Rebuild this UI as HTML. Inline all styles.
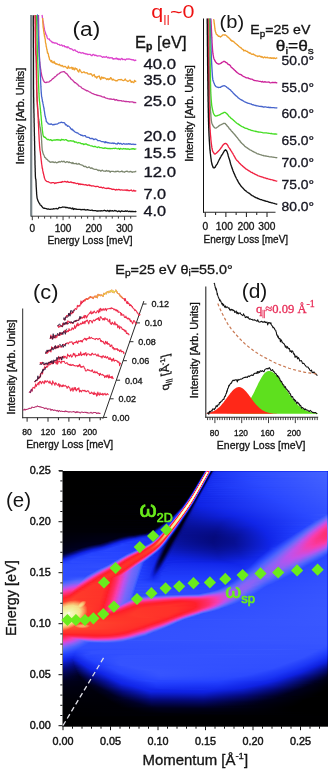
<!DOCTYPE html><html><head><meta charset="utf-8"><title>Figure</title><style>html,body{margin:0;padding:0;background:#fff;width:331px;height:771px;overflow:hidden}svg{display:block}</style></head><body><svg width="331" height="771" viewBox="0 0 331 771"><defs><linearGradient id="gyel" gradientUnits="userSpaceOnUse" x1="84" x2="124" y1="0" y2="0"><stop offset="0" stop-color="#f04838"/><stop offset="0.3" stop-color="#f0a040"/><stop offset="0.75" stop-color="#e8e050"/><stop offset="1" stop-color="#f07040"/></linearGradient></defs><rect width="331" height="771" fill="#fff"/><line x1="31.2" y1="15" x2="31.2" y2="216.6" stroke="#7a858a" stroke-width="2.2"/>
<line x1="31.0" y1="216.2" x2="136.5" y2="216.2" stroke="#3a3a3a" stroke-width="1"/>
<line x1="32.3" y1="216.2" x2="32.3" y2="220.2" stroke="#3a3a3a" stroke-width="1"/>
<line x1="38.449999999999996" y1="216.2" x2="38.449999999999996" y2="218.6" stroke="#3a3a3a" stroke-width="1"/>
<line x1="44.599999999999994" y1="216.2" x2="44.599999999999994" y2="218.6" stroke="#3a3a3a" stroke-width="1"/>
<line x1="50.75" y1="216.2" x2="50.75" y2="218.6" stroke="#3a3a3a" stroke-width="1"/>
<line x1="56.9" y1="216.2" x2="56.9" y2="218.6" stroke="#3a3a3a" stroke-width="1"/>
<line x1="63.05" y1="216.2" x2="63.05" y2="220.2" stroke="#3a3a3a" stroke-width="1"/>
<line x1="69.19999999999999" y1="216.2" x2="69.19999999999999" y2="218.6" stroke="#3a3a3a" stroke-width="1"/>
<line x1="75.35" y1="216.2" x2="75.35" y2="218.6" stroke="#3a3a3a" stroke-width="1"/>
<line x1="81.5" y1="216.2" x2="81.5" y2="218.6" stroke="#3a3a3a" stroke-width="1"/>
<line x1="87.65" y1="216.2" x2="87.65" y2="218.6" stroke="#3a3a3a" stroke-width="1"/>
<line x1="93.8" y1="216.2" x2="93.8" y2="220.2" stroke="#3a3a3a" stroke-width="1"/>
<line x1="99.95" y1="216.2" x2="99.95" y2="218.6" stroke="#3a3a3a" stroke-width="1"/>
<line x1="106.1" y1="216.2" x2="106.1" y2="218.6" stroke="#3a3a3a" stroke-width="1"/>
<line x1="112.25" y1="216.2" x2="112.25" y2="218.6" stroke="#3a3a3a" stroke-width="1"/>
<line x1="118.39999999999999" y1="216.2" x2="118.39999999999999" y2="218.6" stroke="#3a3a3a" stroke-width="1"/>
<line x1="124.55" y1="216.2" x2="124.55" y2="220.2" stroke="#3a3a3a" stroke-width="1"/>
<line x1="130.7" y1="216.2" x2="130.7" y2="218.6" stroke="#3a3a3a" stroke-width="1"/>
<path d="M42.0 15.0L42.1 15.5 42.3 16.4 42.4 17.7 42.6 18.3 42.7 19.4 42.9 20.6 43.0 21.5 43.2 22.2 43.3 22.6 43.4 23.2 43.6 24.1 43.7 25.1 43.8 26.1 43.9 26.5 44.1 27.3 44.2 28.7 44.4 28.5 44.5 29.9 44.8 31.2 45.0 31.5 45.3 32.3 45.6 33.2 45.9 34.6 46.2 34.9 46.5 35.0 46.9 36.4 47.2 37.7 47.6 38.4 48.1 38.9 48.7 39.1 49.3 39.0 50.0 40.5 50.8 41.0 51.7 41.6 52.3 42.6 53.0 42.3 53.7 42.6 54.5 43.1 55.2 43.0 56.1 43.1 56.9 43.3 57.8 44.3 58.5 44.5 59.2 44.3 60.0 45.3 60.9 45.2 61.7 44.8 62.6 46.0 63.4 45.9 64.2 45.7 64.9 46.8 65.6 46.6 66.2 46.8 67.2 47.7 67.9 46.7 68.5 47.4 69.2 48.1 70.0 48.8 70.6 48.7 71.3 48.8 72.0 49.1 72.7 49.9 73.4 50.6 74.2 50.0 75.1 50.0 76.0 51.2 76.7 51.4 77.4 51.4 78.1 52.3 78.8 52.6 79.5 52.2 80.3 52.5 81.2 53.2 82.0 52.9 83.0 52.7 83.9 53.6 85.0 53.4 85.7 54.1 86.4 53.8 87.2 54.1 87.9 54.6 88.7 54.4 89.6 54.3 90.4 54.3 91.3 55.6 92.1 55.5 93.0 54.4 93.9 54.7 94.8 55.6 95.7 55.2 96.6 55.6 97.4 56.1 98.3 55.9 99.2 55.9 100.0 55.9 100.8 56.2 101.6 56.5 102.4 57.3 103.2 57.1 104.0 56.7 104.8 57.3 105.5 57.1 106.3 56.5 107.1 57.3 107.9 57.9 108.7 57.3 109.5 58.2 110.4 57.7 111.2 58.0 112.1 57.6 113.1 59.2 114.0 58.6 115.0 59.0 115.7 58.4 116.4 58.0 117.2 59.3 117.9 58.5 118.7 59.6 119.5 58.9 120.3 59.8 121.1 58.8 121.9 58.4 122.7 59.6 123.6 59.3 124.4 59.4 125.3 60.0 126.1 59.2 127.0 59.0 127.8 59.2 128.7 59.0 129.5 59.0 130.4 59.3 131.3 59.5 132.1 59.8 133.0 59.6 133.8 60.1 134.6 60.6 135.5 60.2 136.3 60.6" fill="none" stroke="#dd44cc" stroke-width="1.3" stroke-linejoin="round" />
<path d="M42.6 18.0L42.7 19.9 42.7 20.6 42.7 20.0 42.8 20.9 42.8 21.5 42.9 23.2 42.9 23.4 43.0 24.9 43.0 23.6 43.1 27.2 43.2 26.7 43.3 28.2 43.4 28.3 43.5 28.9 43.6 30.4 43.7 31.5 43.8 31.5 43.9 32.3 44.1 33.8 44.2 33.4 44.3 33.7 44.4 36.1 44.6 36.1 44.7 35.9 44.8 37.6 45.0 38.7 45.1 38.8 45.3 39.5 45.4 41.6 45.6 43.2 45.7 43.2 45.9 43.7 46.1 45.4 46.2 46.6 46.4 46.6 46.6 48.0 46.7 49.2 46.8 48.9 47.0 49.1 47.1 50.6 47.3 51.7 47.5 53.2 47.6 51.8 47.8 52.9 48.1 53.6 48.3 53.6 48.6 55.8 48.8 57.0 49.1 56.8 49.5 59.3 49.8 59.7 50.1 60.2 50.5 60.6 51.1 61.8 51.7 60.5 52.4 62.5 53.2 62.8 54.1 61.4 54.7 63.4 55.4 63.2 56.1 64.3 56.8 63.7 57.5 64.3 58.4 64.9 59.3 64.2 60.2 65.7 60.9 65.3 61.6 66.0 62.4 65.4 63.3 66.9 64.1 66.7 65.0 66.3 65.9 67.1 66.7 67.9 67.6 68.5 68.4 66.0 69.1 68.1 69.8 68.0 70.7 67.8 71.5 67.3 72.3 69.3 72.9 67.4 73.6 69.1 74.3 69.9 75.1 67.8 76.0 69.2 76.7 68.6 77.4 70.1 78.1 71.3 78.8 72.0 79.6 69.3 80.3 70.5 81.2 71.8 82.0 72.8 83.0 72.2 83.9 71.7 85.0 72.8 85.6 72.8 86.3 72.9 87.0 72.7 87.8 73.8 88.5 74.0 89.3 74.0 90.1 74.1 90.9 73.6 91.7 74.5 92.5 76.1 93.4 75.2 94.2 74.5 95.1 77.0 95.9 76.6 96.7 78.1 97.6 76.7 98.4 76.5 99.2 75.9 100.0 78.4 100.8 79.5 101.5 77.0 102.3 77.3 103.0 78.5 103.8 77.5 104.5 78.1 105.3 78.2 106.0 78.7 106.7 79.6 107.5 78.8 108.2 79.7 109.0 78.7 109.8 79.4 110.6 77.6 111.4 78.2 112.3 80.1 113.2 79.1 114.1 80.2 115.0 80.2 115.7 80.9 116.4 80.6 117.2 80.8 117.9 80.0 118.7 79.6 119.5 79.6 120.3 79.8 121.1 79.4 121.9 79.9 122.7 80.3 123.6 80.6 124.4 80.2 125.3 79.0 126.1 80.5 127.0 80.8 127.8 81.5 128.7 81.2 129.5 80.2 130.4 80.2 131.3 82.4 132.1 81.5 133.0 82.4 133.8 82.7 134.6 80.3 135.5 81.4 136.3 81.5" fill="none" stroke="#eea030" stroke-width="1.3" stroke-linejoin="round" />
<path d="M38.5 15.0L38.5 16.0 38.5 16.8 38.5 17.6 38.6 18.6 38.6 18.9 38.6 19.9 38.6 20.6 38.6 21.7 38.6 22.8 38.6 23.5 38.7 24.5 38.7 24.9 38.7 26.2 38.7 26.8 38.7 28.2 38.7 29.0 38.7 29.9 38.8 30.5 38.8 31.6 38.8 32.4 38.8 33.1 38.8 34.0 38.8 34.9 38.8 35.7 38.9 36.6 38.9 37.5 38.9 38.2 38.9 39.4 38.9 39.8 38.9 41.1 38.9 41.6 39.0 42.4 39.0 43.1 39.0 44.1 39.0 44.9 39.0 45.8 39.0 46.4 39.1 47.3 39.1 48.4 39.1 48.8 39.1 49.3 39.2 50.3 39.2 50.8 39.2 51.6 39.2 52.3 39.2 52.7 39.3 53.0 39.3 53.9 39.4 55.4 39.4 56.4 39.5 57.7 39.6 58.9 39.6 59.6 39.7 60.9 39.8 61.9 39.9 62.7 39.9 63.6 40.0 64.4 40.1 65.4 40.2 65.7 40.3 66.3 40.4 67.2 40.4 67.5 40.5 68.0 40.6 68.8 40.7 69.7 40.8 70.3 40.9 70.5 41.0 71.0 41.1 71.9 41.3 73.1 41.5 74.2 41.7 75.3 41.9 76.4 42.2 77.0 42.4 77.8 42.6 78.1 42.8 78.8 43.1 79.6 43.3 80.2 43.5 80.7 44.3 81.9 45.0 82.4 45.9 82.6 46.8 82.1 47.9 82.2 49.0 81.9 49.6 81.5 50.3 80.6 51.1 80.5 51.8 79.5 52.5 78.9 53.3 78.4 53.9 77.9 54.6 76.9 55.3 76.8 56.0 76.1 56.6 75.4 57.3 74.9 58.0 74.1 58.7 73.9 59.4 73.5 60.1 72.8 60.8 72.4 61.5 72.0 62.2 71.8 62.8 71.8 63.6 71.6 64.3 71.7 64.9 72.3 65.6 73.2 66.5 73.4 67.0 74.1 67.4 74.2 67.9 75.3 68.4 75.8 69.0 76.7 69.5 77.1 70.1 77.6 70.8 78.8 71.5 79.5 72.3 79.9 72.8 80.3 73.4 81.2 74.0 81.6 74.6 82.7 75.3 82.6 75.9 83.1 76.6 83.8 77.3 84.0 78.0 84.8 78.7 85.8 79.4 86.0 80.1 86.5 80.9 86.8 81.5 87.7 82.2 88.2 82.9 88.6 83.7 88.9 84.4 89.5 85.2 90.0 86.0 90.2 86.8 90.9 87.6 90.7 88.4 91.3 89.2 91.8 89.9 92.2 90.7 92.4 91.4 93.0 92.1 93.4 92.8 93.6 93.4 93.8 94.4 94.4 95.2 94.6 95.9 94.6 96.5 95.0 97.2 95.5 98.0 95.2 98.9 95.7 100.0 95.9 100.6 96.0 101.3 96.2 101.9 96.6 102.6 96.9 103.3 97.1 104.0 96.9 104.7 97.4 105.5 97.8 106.3 98.1 107.2 98.3 108.0 98.6 109.0 98.8 109.9 99.0 110.9 98.9 112.0 99.3 113.1 99.4 113.7 99.1 114.4 99.4 115.1 100.3 115.8 99.7 116.5 99.6 117.2 100.1 118.0 100.6 118.8 100.4 119.6 100.6 120.4 100.6 121.2 100.7 122.0 101.1 122.8 101.1 123.6 101.0 124.5 101.4 125.3 101.5 126.2 101.3 127.0 101.6 127.9 101.7 128.8 101.6 129.6 102.1 130.5 101.9 131.3 101.9 132.2 101.8 133.0 102.0 133.9 102.7 134.7 102.3 135.5 102.7 136.3 102.6" fill="none" stroke="#c8349e" stroke-width="1.3" stroke-linejoin="round" />
<path d="M37.5 15.5L37.5 15.0 37.6 16.9 37.6 17.5 37.6 18.7 37.7 19.2 37.7 20.5 37.7 20.8 37.8 21.4 37.8 22.6 37.8 23.4 37.9 24.0 37.9 24.8 37.9 26.0 38.0 26.8 38.0 27.3 38.0 28.1 38.0 28.5 38.1 30.4 38.1 30.6 38.1 31.9 38.2 32.4 38.2 33.7 38.2 34.4 38.3 34.8 38.3 35.9 38.3 36.0 38.4 37.4 38.4 37.3 38.4 38.6 38.5 39.6 38.5 40.1 38.5 40.8 38.6 41.6 38.6 42.6 38.7 43.9 38.7 44.7 38.7 45.2 38.8 45.8 38.8 47.3 38.9 47.5 38.9 48.6 39.0 49.4 39.0 50.6 39.0 51.3 39.1 52.2 39.1 52.9 39.2 53.4 39.2 54.5 39.2 55.5 39.3 55.9 39.3 56.8 39.4 57.3 39.4 58.3 39.4 58.9 39.5 59.6 39.5 60.1 39.6 61.5 39.6 61.8 39.7 62.7 39.7 63.3 39.7 64.4 39.8 64.7 39.8 65.4 39.9 66.4 39.9 67.2 39.9 67.7 40.0 67.5 40.0 68.8 40.1 69.6 40.1 70.6 40.2 71.9 40.2 73.2 40.3 73.2 40.3 73.8 40.3 75.0 40.4 75.6 40.4 76.4 40.5 77.0 40.5 78.1 40.5 79.1 40.6 79.3 40.6 80.3 40.6 82.0 40.7 82.8 40.7 83.3 40.8 84.1 40.8 85.2 40.9 85.8 40.9 86.9 41.0 88.4 41.0 88.8 41.1 89.9 41.1 90.3 41.2 91.3 41.2 92.4 41.3 92.3 41.3 93.2 41.4 94.0 41.5 95.2 41.6 96.6 41.8 97.2 41.9 97.4 42.0 98.6 42.2 99.2 42.3 99.9 42.4 101.5 42.6 101.3 42.7 102.3 42.9 102.7 43.0 103.9 43.2 104.5 43.3 105.2 43.5 106.0 43.6 107.1 43.8 107.3 43.9 108.2 44.0 108.9 44.2 110.5 44.3 110.9 44.5 111.6 44.6 112.6 44.8 114.4 44.9 114.4 45.0 115.5 45.2 116.2 45.3 116.8 45.5 117.4 45.6 118.1 45.8 118.7 45.9 118.7 46.3 121.5 46.7 121.9 47.1 122.3 47.5 122.7 47.9 123.0 48.3 123.9 49.2 124.0 50.1 124.3 51.1 123.8 52.0 124.4 53.0 125.0 54.0 124.3 55.0 124.5 55.9 124.1 56.8 124.1 57.7 123.8 58.5 123.2 59.3 122.8 60.1 122.7 60.9 122.5 61.7 122.2 62.4 122.6 63.1 122.7 63.9 122.6 65.0 123.6 65.5 124.9 66.1 124.7 66.7 125.0 67.4 126.3 68.0 126.0 68.7 126.1 69.5 126.9 70.2 127.6 70.9 128.8 71.6 129.6 72.3 129.1 73.0 130.6 73.6 130.4 74.1 131.3 74.7 131.7 75.2 132.1 75.9 132.3 76.6 132.8 77.5 132.8 78.5 133.8 79.8 134.5 80.4 134.7 81.0 135.4 81.6 135.2 82.3 135.4 83.0 135.9 83.7 135.8 84.5 135.6 85.3 135.6 86.1 137.0 87.0 137.1 87.8 137.4 88.7 137.4 89.5 137.9 90.4 138.7 91.3 138.5 92.2 138.3 93.0 138.8 93.9 139.7 94.7 139.2 95.6 139.0 96.4 139.3 97.2 139.9 97.9 140.7 98.6 140.7 99.3 140.7 100.0 140.7 101.0 141.3 101.9 141.6 102.8 141.6 103.5 141.9 104.3 141.9 105.0 142.8 105.7 141.7 106.4 142.5 107.1 142.3 107.8 142.9 108.5 142.7 109.3 143.0 110.1 143.1 111.0 143.1 112.0 143.4 113.1 142.8 113.7 143.5 114.4 143.2 115.1 143.5 115.8 143.9 116.5 143.8 117.2 144.1 118.0 142.9 118.8 143.3 119.6 143.9 120.4 143.3 121.2 143.7 122.0 144.3 122.8 144.1 123.6 143.5 124.5 144.0 125.3 144.1 126.2 144.0 127.0 144.0 127.9 144.1 128.8 143.6 129.6 144.1 130.5 143.8 131.3 144.3 132.2 144.3 133.0 144.0 133.9 144.5 134.7 144.4 135.5 144.3 136.3 144.6" fill="none" stroke="#4664cc" stroke-width="1.3" stroke-linejoin="round" />
<path d="M36.5 15.2L36.5 15.5 36.5 16.2 36.6 16.6 36.6 18.1 36.6 19.4 36.6 19.9 36.6 20.8 36.7 21.8 36.7 22.0 36.7 23.9 36.7 23.7 36.7 24.8 36.8 26.4 36.8 26.3 36.8 27.2 36.8 27.8 36.8 28.9 36.9 28.9 36.9 30.2 36.9 31.7 36.9 32.1 36.9 32.7 36.9 33.7 37.0 34.6 37.0 35.3 37.0 36.2 37.0 36.4 37.0 37.9 37.1 38.3 37.1 39.5 37.1 40.1 37.1 40.6 37.2 41.7 37.2 42.2 37.2 43.7 37.2 44.2 37.2 45.3 37.3 45.5 37.3 47.1 37.3 47.4 37.3 48.7 37.4 49.3 37.4 49.6 37.4 50.8 37.4 51.4 37.4 52.5 37.5 53.6 37.5 54.2 37.5 55.1 37.6 55.2 37.6 56.5 37.6 57.3 37.6 58.4 37.7 58.7 37.7 59.9 37.7 60.7 37.7 61.0 37.8 62.0 37.8 63.3 37.8 63.7 37.9 64.6 37.9 66.1 37.9 66.8 37.9 67.5 38.0 68.5 38.0 69.2 38.0 70.0 38.1 70.9 38.1 72.1 38.1 73.2 38.2 73.6 38.2 74.6 38.2 75.4 38.3 75.9 38.3 77.2 38.3 78.3 38.3 78.6 38.4 79.9 38.4 80.3 38.4 81.7 38.5 82.5 38.5 82.8 38.5 83.1 38.6 84.4 38.6 84.9 38.6 85.6 38.7 86.7 38.7 87.9 38.7 88.2 38.8 88.9 38.8 89.1 38.8 90.1 38.8 90.5 38.9 91.8 38.9 92.1 38.9 92.8 39.0 93.4 39.0 93.9 39.1 95.6 39.1 96.7 39.2 97.5 39.3 98.7 39.4 99.7 39.4 100.7 39.5 101.1 39.6 102.2 39.6 102.2 39.7 102.9 39.8 103.1 39.8 104.4 39.9 104.5 40.0 105.1 40.1 106.3 40.1 106.5 40.2 107.2 40.3 108.5 40.4 109.0 40.5 110.3 40.6 110.6 40.6 111.6 40.7 112.5 40.8 113.0 40.8 114.3 40.9 114.5 41.0 115.4 41.1 116.4 41.2 117.6 41.2 118.1 41.3 118.9 41.4 120.1 41.5 121.3 41.6 121.7 41.6 122.4 41.7 123.7 41.8 124.8 41.9 125.3 42.0 126.4 42.1 126.7 42.2 128.1 42.2 128.9 42.3 129.8 42.4 130.5 42.5 131.3 42.6 131.5 42.7 132.6 42.7 132.5 42.8 133.3 42.9 134.3 43.4 136.3 43.8 136.4 44.3 137.4 44.8 137.2 45.3 137.4 46.0 138.3 46.7 138.9 47.5 139.7 48.3 139.3 49.0 139.8 49.7 140.1 50.6 139.6 52.0 140.6 52.6 140.7 53.2 140.0 53.9 140.2 54.7 140.0 55.5 140.1 56.3 139.7 57.2 140.1 58.0 139.5 58.9 140.2 59.8 139.9 60.7 140.5 61.6 139.3 62.3 139.8 63.0 139.5 63.7 139.9 64.3 140.1 65.0 139.8 65.6 139.7 66.3 139.7 67.1 140.4 67.9 140.9 68.7 141.0 69.7 140.8 70.7 140.7 71.9 141.1 73.2 141.0 73.8 141.1 74.4 142.1 75.0 141.8 75.7 142.1 76.4 142.1 77.2 142.8 77.9 143.0 78.7 142.5 79.5 142.8 80.3 142.9 81.2 143.7 82.0 143.9 82.9 143.6 83.7 144.6 84.6 144.1 85.5 144.0 86.4 143.9 87.3 144.7 88.2 145.1 89.0 145.0 89.9 145.5 90.8 145.9 91.7 145.8 92.5 146.2 93.4 146.7 94.2 146.5 95.0 146.3 95.8 146.8 96.5 147.0 97.3 147.6 98.0 147.0 98.7 146.8 99.4 147.5 100.0 147.6 101.1 147.6 102.2 148.0 103.1 148.1 104.0 148.4 104.8 147.9 105.6 148.0 106.4 148.3 107.1 148.2 107.8 148.7 108.5 148.5 109.3 148.4 110.0 148.8 110.7 148.5 111.5 148.7 112.3 148.7 113.1 148.4 114.0 148.4 115.0 148.5 115.7 148.2 116.4 148.5 117.2 148.8 117.9 148.7 118.7 148.3 119.5 149.4 120.3 148.4 121.1 148.9 121.9 148.9 122.7 149.1 123.6 148.5 124.4 148.8 125.3 148.7 126.1 149.1 127.0 148.9 127.8 149.0 128.7 149.0 129.5 149.5 130.4 149.1 131.3 149.2 132.1 148.6 133.0 149.1 133.8 148.6 134.6 149.3 135.5 149.0 136.3 148.7" fill="none" stroke="#44dd22" stroke-width="1.3" stroke-linejoin="round" />
<path d="M35.5 15.0L35.5 15.5 35.5 16.8 35.5 17.2 35.6 18.4 35.6 19.3 35.6 19.4 35.6 21.1 35.6 21.3 35.6 23.1 35.6 23.4 35.6 23.8 35.7 24.9 35.7 25.7 35.7 26.6 35.7 27.8 35.7 28.4 35.7 29.6 35.7 30.1 35.7 30.6 35.8 31.0 35.8 31.8 35.8 33.3 35.8 34.3 35.8 35.4 35.8 35.5 35.8 36.6 35.8 37.1 35.9 38.0 35.9 38.2 35.9 40.1 35.9 40.4 35.9 41.5 35.9 42.5 35.9 43.2 35.9 43.5 36.0 45.3 36.0 45.8 36.0 46.5 36.0 46.9 36.0 47.4 36.0 48.2 36.0 49.5 36.0 50.4 36.1 50.8 36.1 52.5 36.1 52.7 36.1 53.7 36.1 54.5 36.1 54.5 36.1 56.0 36.1 56.5 36.2 56.7 36.2 58.1 36.2 59.0 36.2 59.6 36.2 60.4 36.2 60.4 36.2 61.8 36.2 62.6 36.3 63.7 36.3 64.7 36.3 65.9 36.3 66.7 36.3 67.1 36.3 68.6 36.3 69.7 36.3 70.1 36.4 70.4 36.4 71.5 36.4 72.6 36.4 72.9 36.4 74.3 36.4 74.7 36.4 76.3 36.4 77.1 36.4 77.7 36.5 78.1 36.5 79.4 36.5 79.9 36.5 80.7 36.5 82.1 36.5 82.2 36.5 82.8 36.5 84.3 36.6 85.4 36.6 86.1 36.6 86.6 36.6 87.8 36.6 87.6 36.6 89.3 36.7 89.9 36.7 89.8 36.7 90.8 36.7 90.9 36.7 91.6 36.8 92.9 36.8 92.9 36.8 94.1 36.8 95.2 36.9 96.1 36.9 97.4 37.0 98.7 37.0 99.0 37.0 100.1 37.1 101.2 37.1 101.3 37.2 102.1 37.2 102.3 37.3 104.1 37.3 105.1 37.4 105.6 37.4 106.9 37.5 107.5 37.5 108.0 37.6 108.4 37.6 108.8 37.7 109.9 37.8 110.7 37.8 111.3 37.9 111.9 38.0 112.6 38.0 113.7 38.1 113.6 38.2 114.9 38.3 115.9 38.4 116.9 38.5 117.7 38.6 118.2 38.7 118.9 38.9 119.6 39.0 121.2 39.1 121.8 39.3 122.5 39.4 123.0 39.5 123.6 39.7 125.2 39.8 125.6 39.9 126.6 40.1 127.8 40.2 127.4 40.3 128.5 40.5 129.6 40.6 130.5 40.7 130.7 40.8 131.8 40.9 132.3 41.0 133.1 41.1 134.1 41.2 135.0 41.3 136.2 41.4 136.9 41.4 138.1 41.5 138.1 41.5 139.5 41.6 139.7 41.6 140.5 41.7 141.4 41.7 143.0 41.8 143.7 41.8 143.8 41.9 145.6 41.9 146.3 42.0 146.6 42.0 147.3 42.1 148.1 42.1 148.3 42.2 150.2 42.3 149.8 42.5 151.1 42.7 152.1 43.0 152.9 43.2 153.6 43.5 154.7 43.8 154.8 44.1 155.5 44.4 156.1 44.7 157.3 45.2 157.5 45.8 158.2 46.4 159.2 47.0 159.3 47.7 160.0 48.3 160.9 49.0 161.2 49.6 161.5 50.2 162.4 51.1 162.0 52.2 162.1 52.9 161.7 53.6 162.3 54.4 162.5 55.3 162.0 56.3 162.8 57.2 162.5 58.2 162.3 59.1 161.5 60.0 162.0 60.8 161.9 61.6 161.1 62.5 161.8 63.3 161.7 64.0 161.1 64.7 161.9 65.3 162.5 66.1 162.1 67.0 161.6 68.0 162.0 68.6 162.6 69.3 162.0 69.9 162.6 70.6 162.6 71.4 162.8 72.1 163.5 72.9 162.5 73.7 163.7 74.5 163.6 75.3 163.6 76.2 163.3 77.0 164.2 77.9 164.2 78.9 163.5 79.8 164.3 80.5 164.6 81.3 164.8 82.0 165.2 82.9 165.3 83.7 166.4 84.6 166.5 85.5 166.3 86.4 167.1 87.3 167.6 88.2 167.3 89.1 166.9 90.0 167.8 90.9 168.4 91.7 167.8 92.5 168.4 93.3 168.9 94.1 169.2 94.8 169.3 95.4 169.3 96.0 169.3 96.5 169.3 98.0 170.4 98.4 170.6 98.6 170.2 100.0 170.3 100.5 171.0 101.1 171.0 101.8 170.4 102.4 170.2 103.2 170.8 103.9 171.1 104.7 171.2 105.5 171.3 106.4 170.5 107.3 171.1 108.2 171.0 109.1 170.9 110.1 172.2 111.0 171.3 112.0 171.4 113.0 171.3 114.0 171.7 115.0 171.9 115.7 171.4 116.4 171.5 117.2 171.4 117.9 171.2 118.7 171.6 119.5 171.8 120.3 171.7 121.1 171.6 121.9 171.0 122.7 171.8 123.6 171.8 124.4 172.3 125.3 171.6 126.1 171.3 127.0 171.1 127.8 171.6 128.7 171.8 129.5 171.9 130.4 171.3 131.3 171.7 132.1 172.3 133.0 171.9 133.8 171.8 134.6 171.8 135.5 171.4 136.3 171.5" fill="none" stroke="#7c866e" stroke-width="1.3" stroke-linejoin="round" />
<path d="M35.0 15.0L35.0 16.0 35.0 17.0 35.0 17.8 35.1 18.9 35.1 19.1 35.1 20.3 35.1 20.9 35.1 21.4 35.1 22.5 35.1 23.7 35.2 24.3 35.2 25.4 35.2 26.7 35.2 27.5 35.2 28.4 35.2 29.2 35.2 30.0 35.2 30.4 35.3 32.1 35.3 32.3 35.3 33.7 35.3 34.5 35.3 35.4 35.3 36.3 35.3 37.0 35.4 38.2 35.4 38.4 35.4 39.9 35.4 39.9 35.4 41.6 35.4 41.9 35.4 42.9 35.5 44.0 35.5 43.7 35.5 44.9 35.5 45.9 35.5 46.7 35.5 47.5 35.5 47.9 35.6 48.5 35.6 48.9 35.6 49.5 35.6 50.0 35.7 51.9 35.7 52.9 35.8 53.9 35.8 54.8 35.9 55.1 36.0 55.0 36.0 55.4 36.1 56.0 36.1 56.2 36.2 56.7 36.2 58.1 36.3 60.2 36.3 60.5 36.3 61.0 36.3 62.0 36.4 62.1 36.4 63.7 36.4 63.8 36.4 64.4 36.4 65.9 36.4 65.7 36.4 66.7 36.5 67.6 36.5 68.2 36.5 69.2 36.5 70.4 36.5 71.2 36.5 72.0 36.5 73.2 36.5 74.4 36.6 75.2 36.6 75.1 36.6 77.0 36.6 77.8 36.6 78.6 36.6 79.1 36.6 80.2 36.7 81.2 36.7 81.8 36.7 83.5 36.7 84.3 36.7 84.9 36.7 85.5 36.7 87.0 36.8 87.7 36.8 88.6 36.8 89.0 36.8 90.6 36.8 90.6 36.8 92.0 36.8 91.5 36.9 92.8 36.9 93.4 36.9 93.2 36.9 95.0 37.0 95.9 37.0 96.9 37.1 98.1 37.1 98.8 37.1 100.1 37.2 100.9 37.2 101.6 37.3 102.0 37.3 102.7 37.4 104.0 37.4 104.1 37.5 104.8 37.5 105.3 37.6 106.3 37.6 107.1 37.7 107.8 37.7 108.4 37.8 109.3 37.8 109.9 37.8 110.9 37.9 111.2 37.9 112.3 37.9 113.3 38.0 113.5 38.0 114.9 38.1 115.5 38.1 115.9 38.1 116.6 38.2 117.5 38.2 118.5 38.2 119.7 38.3 120.6 38.3 121.7 38.3 122.8 38.4 122.9 38.4 123.2 38.5 124.2 38.5 124.8 38.5 126.0 38.6 126.9 38.6 128.2 38.6 128.1 38.7 129.2 38.7 129.9 38.7 130.9 38.8 131.7 38.8 133.5 38.9 133.7 38.9 134.7 39.0 135.8 39.0 136.5 39.1 137.9 39.1 137.8 39.1 139.0 39.2 139.7 39.2 140.6 39.3 141.7 39.3 142.0 39.4 142.3 39.4 143.6 39.5 144.0 39.5 145.2 39.6 146.1 39.7 147.6 39.8 148.0 39.8 148.4 39.9 149.5 40.0 150.4 40.1 150.9 40.2 151.6 40.3 152.2 40.4 153.0 40.5 153.7 40.6 155.1 40.7 155.7 40.8 156.0 40.9 157.6 41.0 158.2 41.1 159.1 41.2 160.0 41.3 161.2 41.4 161.0 41.5 162.6 41.6 163.6 41.7 164.2 41.8 164.5 41.9 165.5 42.1 166.9 42.2 168.1 42.4 168.0 42.6 169.3 42.7 170.4 42.9 171.2 43.1 172.1 43.2 173.0 43.4 173.6 43.5 173.6 43.8 175.1 44.0 175.9 44.2 177.0 44.5 178.2 44.8 178.8 45.3 180.1 45.8 180.6 46.5 181.2 47.3 181.7 48.0 181.6 48.7 182.0 49.5 182.5 50.4 182.8 51.3 183.0 52.2 182.6 53.0 182.7 53.9 182.6 54.8 183.5 55.7 182.8 56.5 183.0 57.4 182.7 58.2 182.6 59.1 182.4 60.0 182.3 60.8 182.2 61.6 182.3 62.3 181.5 63.0 181.8 64.0 181.6 64.8 181.4 66.0 181.8 66.7 182.2 67.4 181.4 68.1 181.9 68.9 182.3 69.8 182.4 70.9 181.8 72.0 182.7 72.7 182.5 73.3 182.6 74.1 183.1 74.8 182.7 75.6 183.2 76.3 183.6 77.2 183.3 78.0 183.3 78.9 184.5 79.9 183.7 80.8 184.5 81.8 184.1 82.9 184.6 83.6 184.5 84.3 184.8 85.0 184.9 85.8 184.7 86.6 185.1 87.4 185.5 88.2 185.1 89.1 184.8 89.9 185.7 90.8 185.5 91.6 186.0 92.5 185.9 93.4 185.9 94.2 186.2 95.1 186.5 95.9 186.7 96.8 186.3 97.6 186.4 98.4 186.6 99.2 187.4 100.0 187.3 100.9 187.1 101.7 187.4 102.5 188.0 103.4 187.4 104.1 187.8 104.9 188.2 105.7 188.4 106.5 188.5 107.2 188.1 108.0 188.5 108.8 188.0 109.6 188.7 110.4 188.7 111.3 188.9 112.2 189.5 113.1 189.2 114.0 189.3 115.0 189.7 115.7 190.1 116.4 189.4 117.2 189.9 117.9 189.7 118.7 189.4 119.5 189.7 120.3 190.1 121.1 189.9 121.9 189.9 122.7 190.1 123.6 190.1 124.4 190.2 125.3 190.0 126.1 190.5 127.0 189.7 127.8 190.5 128.7 190.3 129.5 190.8 130.4 190.3 131.3 190.0 132.1 190.9 133.0 191.1 133.8 190.3 134.6 191.0 135.5 191.0 136.3 190.7" fill="none" stroke="#f02040" stroke-width="1.3" stroke-linejoin="round" />
<path d="M33.3 15.3L33.3 15.9 33.3 16.5 33.3 17.0 33.3 17.7 33.3 19.1 33.3 19.6 33.3 20.4 33.3 21.5 33.3 22.3 33.3 22.5 33.3 24.3 33.3 24.2 33.3 26.2 33.4 26.7 33.4 27.2 33.4 28.6 33.4 29.0 33.4 30.1 33.4 30.7 33.4 31.9 33.4 32.7 33.4 32.9 33.4 33.8 33.4 35.0 33.4 35.6 33.4 35.8 33.4 38.0 33.4 37.5 33.4 38.4 33.4 39.5 33.4 40.8 33.4 42.0 33.4 42.2 33.4 43.0 33.4 44.0 33.4 44.6 33.4 45.6 33.4 46.0 33.4 47.3 33.5 48.1 33.5 48.0 33.5 49.5 33.5 50.4 33.5 51.3 33.5 51.6 33.5 52.2 33.5 53.1 33.5 54.3 33.5 54.6 33.5 55.4 33.5 56.7 33.5 56.9 33.5 57.6 33.5 58.5 33.5 59.4 33.5 60.3 33.5 60.7 33.5 61.4 33.5 62.7 33.5 63.8 33.5 64.1 33.5 65.2 33.5 66.3 33.5 67.1 33.5 67.9 33.5 68.6 33.5 69.3 33.5 70.1 33.5 71.5 33.5 71.6 33.5 73.1 33.5 73.1 33.5 75.1 33.5 74.5 33.5 76.3 33.5 76.3 33.5 77.3 33.5 78.1 33.5 78.6 33.5 80.3 33.5 80.4 33.5 80.7 33.5 82.1 33.5 82.8 33.5 83.1 33.5 84.3 33.5 85.0 33.5 86.0 33.5 86.7 33.5 87.3 33.5 88.0 33.5 89.2 33.6 89.8 33.6 90.1 33.6 91.2 33.6 92.1 33.6 93.0 33.6 94.7 33.6 94.6 33.6 95.6 33.6 96.7 33.6 97.1 33.7 97.9 33.7 98.9 33.7 99.3 33.7 100.1 33.7 101.0 33.7 101.7 33.7 102.2 33.7 102.8 33.8 103.9 33.8 105.2 33.8 105.5 33.8 106.7 33.8 107.3 33.8 107.9 33.8 108.0 33.9 109.6 33.9 110.3 33.9 110.7 33.9 112.2 33.9 112.8 34.0 113.7 34.0 114.3 34.0 115.3 34.0 115.9 34.0 117.2 34.0 117.7 34.1 118.1 34.1 119.4 34.1 120.2 34.1 120.9 34.1 121.4 34.1 122.9 34.2 123.2 34.2 124.7 34.2 124.9 34.2 125.9 34.2 126.7 34.3 127.6 34.3 129.1 34.3 129.0 34.3 130.6 34.3 131.0 34.3 131.4 34.4 132.8 34.4 133.5 34.4 134.3 34.4 134.4 34.4 135.8 34.5 136.3 34.5 137.3 34.5 138.1 34.5 139.0 34.5 140.4 34.5 140.9 34.6 141.1 34.6 142.9 34.6 143.5 34.6 144.4 34.6 144.7 34.7 146.3 34.7 146.9 34.7 148.3 34.7 149.0 34.7 150.1 34.7 150.6 34.8 151.1 34.8 152.8 34.8 153.6 34.8 154.2 34.8 155.1 34.9 155.9 34.9 156.5 34.9 157.5 34.9 158.7 34.9 160.1 35.0 160.6 35.0 161.8 35.0 161.8 35.0 163.3 35.0 163.6 35.0 164.9 35.1 165.6 35.1 166.0 35.1 166.8 35.1 167.8 35.1 167.9 35.2 168.2 35.2 169.8 35.2 170.8 35.2 170.2 35.2 171.4 35.2 171.6 35.3 172.4 35.3 172.7 35.3 173.8 35.3 173.8 35.4 176.5 35.5 177.8 35.6 179.0 35.7 178.8 35.7 178.9 35.8 179.2 35.9 179.6 35.9 180.7 36.0 181.0 36.0 182.2 36.1 183.0 36.1 183.9 36.1 184.8 36.2 185.6 36.2 186.8 36.3 187.5 36.3 188.3 36.4 189.2 36.4 189.8 36.5 190.9 36.5 191.7 36.6 192.1 36.6 194.1 36.7 194.3 36.8 195.0 36.8 196.1 36.9 196.1 37.0 197.3 37.1 198.1 37.4 199.1 37.7 200.1 38.0 200.7 38.3 201.4 38.7 202.3 39.0 203.0 39.5 203.3 39.9 204.3 40.4 205.0 41.0 205.4 41.5 206.0 42.2 206.9 42.9 207.8 43.7 208.3 44.5 208.1 45.3 208.4 46.3 208.7 47.3 209.1 48.1 209.0 49.0 209.2 50.0 209.5 50.9 209.1 52.0 209.1 52.8 209.1 53.7 208.7 54.6 208.8 55.5 208.7 56.5 208.5 57.3 209.0 58.2 208.6 59.1 207.4 60.0 207.7 60.8 207.7 61.7 207.4 62.6 207.0 63.5 207.1 64.2 207.1 65.0 207.1 65.7 207.6 66.5 207.5 67.3 207.5 68.1 207.8 69.0 208.0 70.0 207.9 70.7 208.1 71.4 208.6 72.1 208.8 72.8 207.9 73.5 209.5 74.3 208.6 75.1 209.2 75.9 208.7 76.8 209.4 77.7 209.3 78.7 209.4 79.8 209.4 80.5 209.5 81.2 209.8 81.9 209.5 82.7 209.7 83.4 209.7 84.2 209.4 85.1 209.9 85.9 210.0 86.7 209.9 87.6 209.7 88.5 210.0 89.4 210.2 90.2 210.3 91.1 210.3 92.0 210.0 92.9 210.7 93.8 210.7 94.7 210.7 95.6 210.7 96.5 211.0 97.3 210.9 98.0 211.0 98.8 210.8 99.6 210.8 100.4 211.0 101.1 210.6 101.9 210.8 102.7 210.9 103.5 210.7 104.3 210.2 105.1 210.8 105.9 210.7 106.7 211.2 107.5 210.4 108.3 210.8 109.1 211.5 109.9 210.4 110.8 211.0 111.6 210.9 112.4 210.6 113.3 211.2 114.1 210.9 115.0 210.4 115.8 211.0 116.5 210.8 117.3 211.6 118.1 211.3 118.9 210.9 119.7 211.3 120.5 211.9 121.3 210.9 122.2 211.0 123.0 211.3 123.8 211.4 124.6 211.4 125.5 210.9 126.3 211.4 127.1 211.0 128.0 211.2 128.8 211.7 129.7 211.2 130.5 211.6 131.3 211.3 132.2 211.5 133.0 211.5 133.8 211.7 134.7 211.7 135.5 211.3 136.3 212.0" fill="none" stroke="#111111" stroke-width="1.3" stroke-linejoin="round" />
<text x="72.6" y="35.8" font-size="19.5" fill="#151515" font-family="'Liberation Sans', Arial, sans-serif" textLength="27.6" lengthAdjust="spacingAndGlyphs">(a)</text>
<text x="151.3" y="18.1" font-size="17.6" fill="#ee1111" font-family="'Liberation Sans', Arial, sans-serif" textLength="43.2" lengthAdjust="spacingAndGlyphs">q<tspan font-size="10.5" dy="5">||</tspan><tspan dy="-5">~0</tspan></text>
<text x="135.1" y="47.6" font-size="16.5" fill="#151515" font-family="'Liberation Sans', Arial, sans-serif" stroke="#151515" stroke-width="0.32">E<tspan font-size="10.5" dy="2.5" font-weight="bold">p</tspan><tspan dy="-2.5"> [eV]</tspan></text>
<text x="143.5" y="68.9" font-size="14.2" fill="#151520" textLength="32.6" lengthAdjust="spacingAndGlyphs" font-family="'Liberation Sans', Arial, sans-serif" stroke="#151520" stroke-width="0.32">40.0</text>
<text x="143.5" y="84.9" font-size="14.2" fill="#151520" textLength="32.6" lengthAdjust="spacingAndGlyphs" font-family="'Liberation Sans', Arial, sans-serif" stroke="#151520" stroke-width="0.32">35.0</text>
<text x="143.5" y="106.1" font-size="14.2" fill="#151520" textLength="32.6" lengthAdjust="spacingAndGlyphs" font-family="'Liberation Sans', Arial, sans-serif" stroke="#151520" stroke-width="0.32">25.0</text>
<text x="143.5" y="140.6" font-size="14.2" fill="#151520" textLength="32.6" lengthAdjust="spacingAndGlyphs" font-family="'Liberation Sans', Arial, sans-serif" stroke="#151520" stroke-width="0.32">20.0</text>
<text x="143.5" y="157.5" font-size="14.2" fill="#151520" textLength="32.6" lengthAdjust="spacingAndGlyphs" font-family="'Liberation Sans', Arial, sans-serif" stroke="#151520" stroke-width="0.32">15.5</text>
<text x="143.5" y="177.1" font-size="14.2" fill="#151520" textLength="32.6" lengthAdjust="spacingAndGlyphs" font-family="'Liberation Sans', Arial, sans-serif" stroke="#151520" stroke-width="0.32">12.0</text>
<text x="143.5" y="199.3" font-size="14.2" fill="#151520" textLength="22.6" lengthAdjust="spacingAndGlyphs" font-family="'Liberation Sans', Arial, sans-serif" stroke="#151520" stroke-width="0.32">7.0</text>
<text x="143.5" y="216.3" font-size="14.2" fill="#151520" textLength="22.6" lengthAdjust="spacingAndGlyphs" font-family="'Liberation Sans', Arial, sans-serif" stroke="#151520" stroke-width="0.32">4.0</text>
<text transform="translate(24.2 116) rotate(-90)" font-size="10.2" textLength="96.5" lengthAdjust="spacingAndGlyphs" text-anchor="middle" fill="#151515" font-family="'Liberation Sans', Arial, sans-serif" stroke="#151515" stroke-width="0.32">Intensity [Arb. Units]</text>
<text x="32.3" y="232" font-size="10" text-anchor="middle" fill="#151515" font-family="'Liberation Sans', Arial, sans-serif" stroke="#151515" stroke-width="0.32">0</text>
<text x="63.0" y="232" font-size="10" text-anchor="middle" fill="#151515" font-family="'Liberation Sans', Arial, sans-serif" stroke="#151515" stroke-width="0.32">100</text>
<text x="93.8" y="232" font-size="10" text-anchor="middle" fill="#151515" font-family="'Liberation Sans', Arial, sans-serif" stroke="#151515" stroke-width="0.32">200</text>
<text x="124.5" y="232" font-size="10" text-anchor="middle" fill="#151515" font-family="'Liberation Sans', Arial, sans-serif" stroke="#151515" stroke-width="0.32">300</text>
<text x="47.6" y="243.7" font-size="10" fill="#151515" textLength="85" lengthAdjust="spacingAndGlyphs" font-family="'Liberation Sans', Arial, sans-serif" stroke="#151515" stroke-width="0.32">Energy Loss [meV]</text>
<line x1="203.5" y1="18.5" x2="203.5" y2="212.8" stroke="#111" stroke-width="1"/>
<line x1="203.0" y1="212.3" x2="275.5" y2="212.3" stroke="#2a2a2a" stroke-width="1.1"/>
<line x1="205.3" y1="212.3" x2="205.3" y2="217.10000000000002" stroke="#2a2a2a" stroke-width="1.1"/>
<line x1="215.585" y1="212.3" x2="215.585" y2="215.10000000000002" stroke="#2a2a2a" stroke-width="1.1"/>
<line x1="225.87" y1="212.3" x2="225.87" y2="217.10000000000002" stroke="#2a2a2a" stroke-width="1.1"/>
<line x1="236.155" y1="212.3" x2="236.155" y2="215.10000000000002" stroke="#2a2a2a" stroke-width="1.1"/>
<line x1="246.44" y1="212.3" x2="246.44" y2="217.10000000000002" stroke="#2a2a2a" stroke-width="1.1"/>
<line x1="256.725" y1="212.3" x2="256.725" y2="215.10000000000002" stroke="#2a2a2a" stroke-width="1.1"/>
<line x1="267.01" y1="212.3" x2="267.01" y2="217.10000000000002" stroke="#2a2a2a" stroke-width="1.1"/>
<path d="M213.6 19.1L213.7 19.7 213.9 20.0 214.0 21.1 214.1 22.0 214.3 23.9 214.4 23.7 214.5 25.3 214.6 25.8 214.7 27.1 214.8 27.6 214.9 28.7 215.0 29.5 215.1 30.1 215.4 31.5 215.7 32.3 216.1 33.5 216.5 34.4 217.1 34.7 217.8 35.5 218.5 36.3 219.4 36.2 220.4 37.0 221.2 36.4 222.0 35.7 222.7 34.9 223.6 34.9 224.5 35.0 225.5 35.0 226.5 35.7 227.0 36.2 227.4 36.8 228.0 37.1 229.0 38.1 229.5 38.3 230.1 39.1 230.7 40.2 231.4 40.2 232.1 41.4 232.8 41.0 233.6 41.5 234.3 42.3 235.0 43.0 235.7 43.6 236.3 44.1 237.0 44.5 237.7 45.4 238.3 45.6 238.9 46.5 239.5 46.9 240.1 47.3 240.7 47.8 241.3 48.0 242.0 48.9 242.6 49.4 243.2 49.4 243.8 50.9 244.4 50.5 245.1 50.4 245.7 50.7 246.5 51.4 247.3 51.3 248.3 52.6 248.9 52.4 249.6 53.2 250.3 52.9 251.0 53.7 251.7 54.3 252.5 54.4 253.3 53.9 254.1 54.8 254.9 55.0 255.8 55.8 256.7 55.8 257.6 56.6 258.5 56.2 259.4 56.0 260.4 56.3 261.1 57.2 261.8 56.5 262.6 57.1 263.3 57.9 264.1 57.2 264.9 57.0 265.7 57.7 266.5 57.6 267.3 57.2 268.1 57.9 269.0 57.8 269.8 58.1 270.6 57.7 271.5 58.4 272.3 57.9 273.2 58.5 274.0 57.8 274.8 58.4 275.7 58.5 276.5 58.0 277.3 57.8" fill="none" stroke="#eea030" stroke-width="1.35" stroke-linejoin="round" />
<path d="M210.9 18.5L210.9 19.4 211.0 20.3 211.0 20.8 211.1 22.0 211.1 22.8 211.1 23.7 211.2 24.5 211.2 25.5 211.3 25.9 211.3 27.3 211.3 28.1 211.4 28.5 211.4 29.6 211.5 30.4 211.5 30.8 211.5 32.0 211.6 32.6 211.6 33.4 211.7 34.1 211.7 34.9 211.7 35.9 211.8 36.8 211.8 37.4 211.9 38.6 211.9 39.2 212.0 40.1 212.0 41.1 212.0 42.2 212.1 43.0 212.1 43.5 212.2 44.3 212.2 45.0 212.3 45.9 212.3 46.8 212.4 47.3 212.4 48.1 212.5 49.1 212.6 50.3 212.6 50.5 212.7 51.3 212.8 52.5 212.9 53.5 213.0 54.0 213.1 54.8 213.2 55.2 213.3 55.8 213.5 57.0 213.8 58.2 214.1 59.1 214.4 59.5 214.7 60.4 215.0 60.9 215.6 62.0 216.2 62.5 216.9 63.3 217.7 63.6 218.5 64.1 219.3 64.0 220.2 63.6 221.1 63.1 222.0 62.4 222.7 62.0 223.4 61.5 224.2 61.5 224.8 61.4 225.5 62.1 226.3 62.7 227.0 62.9 227.6 63.8 228.1 64.3 228.7 64.5 229.4 64.7 230.2 65.5 230.7 66.2 231.2 67.2 231.8 67.6 232.5 68.2 233.1 68.7 233.7 69.3 234.4 70.1 235.1 70.5 235.7 71.2 236.3 71.9 237.0 72.4 237.7 73.0 238.4 73.3 239.1 74.0 239.8 74.4 240.5 74.4 241.3 74.9 242.0 75.4 242.7 76.0 243.4 76.3 244.1 76.7 244.8 77.0 245.5 77.4 246.3 77.8 247.2 77.8 248.3 78.0 248.9 78.6 249.6 78.7 250.3 79.0 251.0 79.1 251.7 79.2 252.5 79.3 253.3 80.1 254.1 80.3 254.9 80.5 255.8 80.6 256.7 80.8 257.6 80.9 258.5 81.2 259.4 81.3 260.4 81.4 261.1 81.6 261.8 82.0 262.6 81.4 263.3 82.0 264.1 82.1 264.9 81.7 265.7 82.1 266.5 82.1 267.3 82.1 268.1 82.1 269.0 82.0 269.8 82.6 270.6 82.8 271.5 82.7 272.3 82.4 273.2 82.5 274.0 82.6 274.8 82.4 275.7 82.5 276.5 82.8 277.3 82.6" fill="none" stroke="#cc2299" stroke-width="1.35" stroke-linejoin="round" />
<path d="M210.2 18.6L210.2 19.4 210.2 20.2 210.3 21.1 210.3 21.8 210.3 22.5 210.3 23.7 210.4 24.4 210.4 25.0 210.4 25.9 210.4 26.8 210.4 27.7 210.5 28.6 210.5 29.4 210.5 30.1 210.5 31.1 210.6 31.8 210.6 32.7 210.6 33.4 210.6 34.2 210.7 35.3 210.7 35.9 210.7 36.8 210.7 37.5 210.8 38.3 210.8 39.2 210.8 40.1 210.8 41.0 210.9 41.7 210.9 42.4 210.9 43.6 210.9 44.2 211.0 45.0 211.0 45.7 211.0 46.6 211.0 47.5 211.1 48.0 211.1 48.9 211.1 49.9 211.1 50.9 211.2 51.5 211.2 52.1 211.2 52.9 211.2 53.9 211.3 54.5 211.3 55.4 211.3 56.4 211.4 56.9 211.4 57.7 211.4 58.4 211.5 59.4 211.5 60.1 211.5 60.8 211.6 61.6 211.6 62.6 211.7 63.7 211.7 64.5 211.8 65.2 211.8 66.3 211.9 67.2 211.9 68.1 212.0 69.0 212.0 69.8 212.1 70.6 212.1 71.5 212.2 72.2 212.2 73.0 212.3 73.7 212.3 74.7 212.4 75.4 212.4 76.0 212.5 76.7 212.5 77.3 212.6 77.7 212.8 79.4 213.0 80.5 213.3 81.3 213.5 81.7 213.7 82.3 214.0 83.0 214.4 84.0 214.7 84.8 215.1 85.5 215.7 86.2 216.5 86.9 217.4 87.1 218.4 87.5 219.3 87.4 220.3 87.4 221.2 86.7 222.0 86.3 223.1 85.8 224.2 85.7 224.8 85.8 225.5 86.3 226.3 86.8 227.0 87.5 227.7 87.9 228.4 88.4 229.2 89.1 230.2 89.8 230.7 90.3 231.2 90.9 231.8 91.5 232.5 92.1 233.1 92.9 233.7 93.4 234.4 94.4 235.1 94.8 235.7 95.6 236.3 95.9 237.0 96.6 237.7 97.2 238.4 98.0 239.1 98.4 239.8 99.0 240.5 99.3 241.3 100.0 242.0 100.2 242.7 100.6 243.4 100.9 244.1 101.5 244.8 101.8 245.5 102.2 246.3 102.5 247.2 102.9 248.3 103.4 248.9 103.4 249.6 103.7 250.3 103.8 251.0 103.9 251.7 104.3 252.5 104.7 253.3 104.7 254.1 105.2 254.9 105.3 255.8 105.5 256.7 105.8 257.6 105.9 258.5 106.1 259.4 106.4 260.4 106.3 261.1 106.5 261.8 106.5 262.6 106.7 263.3 107.1 264.1 107.0 264.9 106.9 265.7 106.9 266.5 107.2 267.3 107.3 268.1 107.2 269.0 107.5 269.8 107.4 270.6 107.5 271.5 107.6 272.3 107.7 273.2 107.6 274.0 107.7 274.8 107.9 275.7 107.8 276.5 107.8 277.3 108.0" fill="none" stroke="#4664cc" stroke-width="1.35" stroke-linejoin="round" />
<path d="M209.6 18.5L209.6 19.3 209.6 20.2 209.6 21.0 209.6 21.6 209.6 22.7 209.7 23.4 209.7 24.4 209.7 25.3 209.7 26.0 209.7 26.7 209.7 27.6 209.7 28.6 209.7 29.2 209.7 30.2 209.7 31.1 209.8 31.8 209.8 32.8 209.8 33.7 209.8 34.4 209.8 35.3 209.8 36.2 209.8 36.9 209.8 37.8 209.8 38.8 209.8 39.6 209.8 40.2 209.9 41.2 209.9 42.3 209.9 42.7 209.9 43.8 209.9 44.6 209.9 45.4 209.9 46.3 209.9 47.0 209.9 48.0 209.9 48.8 210.0 49.4 210.0 50.2 210.0 51.0 210.0 51.7 210.0 52.6 210.0 53.3 210.0 54.2 210.0 54.9 210.0 55.6 210.0 56.4 210.1 57.2 210.1 57.8 210.1 58.7 210.1 59.4 210.1 60.0 210.1 61.1 210.1 61.8 210.1 62.8 210.2 63.9 210.2 64.7 210.2 65.8 210.2 66.7 210.2 67.7 210.2 68.4 210.2 69.3 210.3 70.4 210.3 71.1 210.3 72.2 210.3 72.9 210.3 73.8 210.3 74.8 210.4 75.5 210.4 76.3 210.4 77.1 210.4 78.1 210.4 78.8 210.4 79.7 210.5 80.4 210.5 81.2 210.5 81.9 210.5 82.6 210.5 83.5 210.5 84.2 210.6 84.7 210.6 85.5 210.6 86.3 210.6 87.1 210.6 87.4 210.6 88.2 210.7 88.9 210.7 89.5 210.7 89.9 210.7 91.3 210.8 92.4 210.8 93.6 210.9 94.5 210.9 95.6 211.0 96.3 211.0 97.2 211.1 97.9 211.1 98.7 211.2 99.5 211.2 99.9 211.3 100.5 211.3 101.2 211.4 101.7 211.4 102.2 211.5 103.0 211.6 104.1 211.7 105.3 211.9 106.2 212.0 107.1 212.2 107.9 212.3 108.5 212.4 109.3 212.6 109.9 212.9 111.1 213.1 112.2 213.4 113.0 213.7 113.8 214.0 114.4 214.8 115.7 215.7 116.0 216.8 115.9 218.0 115.4 218.7 115.2 219.5 114.8 220.5 114.3 221.1 113.9 221.9 113.5 222.7 113.2 223.5 112.9 224.2 112.3 224.9 112.4 225.7 112.6 226.3 113.5 226.9 113.7 227.5 114.4 228.0 114.9 228.5 115.7 229.1 116.4 230.2 117.3 230.7 117.9 231.2 118.4 231.7 118.7 232.4 119.3 233.0 119.8 233.7 120.4 234.4 121.0 235.1 121.7 235.8 122.2 236.5 122.9 237.3 123.6 238.0 123.9 238.7 124.4 239.4 124.9 240.1 125.4 240.8 125.8 241.5 126.3 242.2 126.6 242.9 126.8 243.6 127.4 244.4 127.7 245.1 128.2 245.9 128.4 246.7 128.4 247.5 128.8 248.3 129.3 249.0 129.5 249.8 129.6 250.5 130.0 251.2 130.4 252.0 130.5 252.7 130.6 253.5 130.9 254.3 131.1 255.1 131.2 255.9 131.5 256.8 131.5 257.6 131.9 258.5 132.0 259.4 132.1 260.4 132.2 261.1 132.3 261.8 132.3 262.6 132.6 263.3 132.8 264.1 132.8 264.9 132.9 265.7 132.9 266.5 132.9 267.3 133.1 268.1 133.1 269.0 133.3 269.8 133.3 270.6 133.6 271.5 133.5 272.3 133.8 273.2 133.9 274.0 134.0 274.8 134.0 275.7 134.0 276.5 134.1 277.3 134.1" fill="none" stroke="#44dd22" stroke-width="1.35" stroke-linejoin="round" />
<path d="M208.8 18.5L208.8 19.2 208.8 20.4 208.8 21.0 208.8 21.8 208.8 22.6 208.8 23.4 208.9 24.3 208.9 25.1 208.9 25.9 208.9 26.8 208.9 27.7 208.9 28.5 208.9 29.2 208.9 30.1 208.9 30.9 208.9 31.9 208.9 32.7 208.9 33.7 208.9 34.4 209.0 35.4 209.0 36.2 209.0 37.0 209.0 38.0 209.0 38.8 209.0 39.7 209.0 40.6 209.0 41.4 209.0 42.1 209.0 43.1 209.0 44.0 209.0 44.7 209.0 45.6 209.1 46.4 209.1 47.2 209.1 48.1 209.1 48.8 209.1 49.8 209.1 50.7 209.1 51.2 209.1 52.2 209.1 53.1 209.1 53.8 209.1 54.8 209.1 55.4 209.1 56.4 209.2 57.2 209.2 57.9 209.2 58.6 209.2 59.6 209.2 60.1 209.2 61.0 209.2 61.6 209.2 62.3 209.2 63.2 209.2 63.7 209.2 64.6 209.2 65.5 209.2 65.9 209.3 66.7 209.3 67.5 209.3 68.0 209.3 68.8 209.3 69.4 209.3 69.8 209.3 70.8 209.3 72.1 209.3 73.3 209.4 74.2 209.4 75.4 209.4 76.1 209.4 77.3 209.4 78.2 209.4 79.1 209.4 80.0 209.5 80.9 209.5 81.9 209.5 82.7 209.5 83.7 209.5 84.4 209.5 85.4 209.6 86.0 209.6 86.8 209.6 87.8 209.6 88.5 209.6 89.3 209.6 90.2 209.6 90.7 209.7 91.6 209.7 92.2 209.7 93.1 209.7 93.5 209.7 94.3 209.7 94.9 209.8 95.5 209.8 96.1 209.8 96.9 209.8 97.5 209.8 98.1 209.9 98.8 209.9 99.2 209.9 100.1 209.9 101.3 210.0 102.4 210.0 103.6 210.1 104.5 210.1 105.4 210.2 106.3 210.3 107.1 210.3 107.9 210.4 108.8 210.4 109.4 210.5 110.3 210.5 110.8 210.6 111.6 210.6 112.0 210.7 112.6 210.7 113.3 210.8 113.8 210.9 115.1 210.9 116.1 211.0 117.0 211.1 117.9 211.1 118.7 211.2 119.3 211.3 120.2 211.4 120.8 211.5 121.5 211.6 122.2 211.9 123.3 212.3 124.2 212.7 125.2 213.1 125.8 213.5 126.5 214.2 127.3 214.9 127.9 215.7 128.1 216.5 127.8 217.2 127.2 218.0 126.7 218.8 126.0 219.6 125.4 220.5 125.0 221.2 124.7 222.0 124.2 222.8 123.8 223.5 123.4 224.2 123.4 225.1 123.5 225.8 124.3 226.5 125.0 227.0 125.6 227.4 126.3 228.0 126.7 229.0 128.2 229.4 128.8 229.8 129.0 230.3 129.5 230.8 130.2 231.3 130.9 231.9 131.4 232.4 132.0 233.0 132.7 233.6 133.3 234.2 134.1 234.8 134.7 235.3 135.3 235.8 136.1 236.3 136.6 236.9 137.3 237.4 137.8 238.0 138.7 238.5 139.4 239.0 139.9 239.5 140.4 240.0 141.0 240.4 141.9 240.9 142.3 241.5 143.0 242.0 143.5 242.6 143.9 243.1 144.6 243.7 145.1 244.2 145.6 244.8 146.2 245.3 146.6 246.0 147.2 246.7 147.4 247.4 148.2 248.3 148.7 248.9 149.1 249.5 149.6 250.1 149.9 250.8 150.2 251.5 150.5 252.2 151.1 252.9 151.4 253.7 151.9 254.5 152.2 255.3 152.6 256.1 152.9 256.9 153.6 257.8 153.8 258.6 154.0 259.5 154.4 260.4 154.7 261.1 154.9 261.8 155.2 262.6 155.3 263.3 155.5 264.1 155.8 264.9 155.9 265.7 156.0 266.5 156.2 267.3 156.4 268.1 156.4 269.0 156.7 269.8 156.8 270.6 156.9 271.5 156.8 272.3 157.1 273.2 157.1 274.0 157.3 274.8 157.4 275.7 157.6 276.5 157.6 277.3 158.0" fill="none" stroke="#7c866e" stroke-width="1.35" stroke-linejoin="round" />
<path d="M208.0 18.5L208.0 19.4 208.0 20.2 208.0 21.0 208.0 21.9 208.0 22.5 208.0 23.2 208.1 24.2 208.1 25.0 208.1 25.8 208.1 26.6 208.1 27.2 208.1 28.5 208.1 29.1 208.1 29.9 208.1 30.6 208.1 31.4 208.1 32.4 208.1 33.3 208.1 33.9 208.1 34.8 208.1 35.6 208.2 36.3 208.2 37.2 208.2 38.1 208.2 38.7 208.2 40.0 208.2 40.4 208.2 41.3 208.2 42.4 208.2 43.0 208.2 43.8 208.2 44.7 208.2 45.6 208.2 46.2 208.2 47.3 208.3 47.8 208.3 48.9 208.3 49.7 208.3 50.4 208.3 51.1 208.3 52.1 208.3 52.9 208.3 53.7 208.3 54.3 208.3 55.2 208.3 56.0 208.3 56.8 208.3 57.4 208.4 58.2 208.4 59.2 208.4 59.9 208.4 60.8 208.4 61.4 208.4 62.3 208.4 63.0 208.4 63.8 208.4 64.5 208.4 65.5 208.4 66.0 208.5 66.8 208.5 67.6 208.5 68.5 208.5 69.3 208.5 70.1 208.5 71.0 208.5 71.7 208.5 72.6 208.6 73.6 208.6 74.3 208.6 75.3 208.6 76.0 208.6 77.0 208.6 77.7 208.6 78.7 208.6 79.6 208.7 80.5 208.7 81.5 208.7 82.4 208.7 83.3 208.7 84.1 208.7 84.9 208.8 85.8 208.8 86.6 208.8 87.5 208.8 88.6 208.8 89.2 208.8 90.3 208.8 91.0 208.9 91.7 208.9 93.0 208.9 93.6 208.9 94.3 208.9 95.5 208.9 96.1 209.0 97.0 209.0 98.0 209.0 98.5 209.0 99.3 209.0 100.3 209.0 101.1 209.1 101.7 209.1 102.5 209.1 103.2 209.1 104.2 209.1 105.0 209.2 105.8 209.2 106.4 209.2 107.2 209.2 107.6 209.2 108.6 209.2 109.2 209.3 110.1 209.3 110.6 209.3 111.3 209.3 111.9 209.3 112.6 209.3 113.3 209.4 114.0 209.4 114.6 209.4 115.0 209.4 116.2 209.5 117.6 209.5 118.7 209.6 119.7 209.6 120.6 209.6 121.6 209.7 122.7 209.7 123.6 209.8 124.3 209.8 125.1 209.8 126.1 209.9 126.7 209.9 127.3 210.0 127.9 210.0 128.8 210.1 129.4 210.1 129.8 210.2 130.3 210.2 131.3 210.2 131.9 210.3 132.5 210.3 133.1 210.4 133.5 210.4 134.5 210.5 135.0 210.6 136.1 210.7 137.0 210.8 137.9 210.8 138.8 210.9 139.7 211.0 140.7 211.1 141.6 211.2 142.6 211.3 143.3 211.4 144.1 211.5 144.8 211.6 145.5 211.7 146.2 211.8 146.9 211.9 147.7 212.0 148.3 212.1 148.6 212.4 150.1 212.7 151.2 212.9 151.7 213.2 152.1 213.5 152.4 214.2 153.8 215.0 154.0 215.5 153.8 216.2 153.3 216.8 152.7 217.5 152.0 218.1 151.4 218.7 150.8 219.3 150.2 219.9 149.4 220.5 148.7 221.0 148.0 221.5 147.2 222.0 146.7 222.5 145.5 223.0 145.1 223.8 144.2 224.6 143.6 225.4 143.4 226.3 143.7 227.2 144.6 227.6 145.1 228.0 145.8 228.4 146.8 229.0 147.6 229.4 148.1 229.7 148.8 230.2 149.1 230.6 150.2 231.1 150.9 231.6 151.5 232.0 152.3 232.5 153.0 232.9 153.6 233.3 154.5 233.7 155.2 234.1 155.8 234.5 156.7 234.9 157.2 235.3 158.2 235.8 158.9 236.3 159.6 236.8 160.2 237.3 160.8 237.9 161.3 238.4 161.8 239.0 162.6 239.6 163.4 240.2 163.8 240.8 164.4 241.4 165.0 242.0 165.5 242.6 166.1 243.2 166.7 243.8 167.0 244.4 167.7 245.1 168.1 245.7 168.8 246.5 169.1 247.3 169.7 248.3 170.5 248.9 170.7 249.5 171.2 250.1 171.4 250.8 172.1 251.5 172.3 252.2 172.5 252.9 173.2 253.7 173.4 254.5 173.9 255.3 174.3 256.1 174.7 256.9 175.0 257.8 175.6 258.6 175.9 259.5 176.1 260.4 176.6 261.1 176.7 261.8 177.0 262.6 177.2 263.3 177.4 264.1 177.8 264.9 177.9 265.7 178.2 266.5 178.6 267.3 178.5 268.1 178.9 269.0 179.1 269.8 179.3 270.6 179.5 271.5 179.7 272.3 179.8 273.2 180.2 274.0 180.6 274.8 180.5 275.7 180.9 276.5 181.1 277.3 181.2" fill="none" stroke="#f02040" stroke-width="1.35" stroke-linejoin="round" />
<path d="M207.2 18.5L207.2 19.3 207.2 20.1 207.2 20.9 207.2 21.8 207.2 22.5 207.2 23.4 207.3 24.1 207.3 24.9 207.3 25.8 207.3 26.6 207.3 27.4 207.3 28.1 207.3 28.9 207.3 30.0 207.3 30.5 207.3 31.3 207.3 32.1 207.3 33.1 207.3 33.8 207.3 34.6 207.4 35.4 207.4 36.3 207.4 37.0 207.4 37.8 207.4 38.7 207.4 39.5 207.4 40.2 207.4 41.1 207.4 42.0 207.4 42.8 207.4 43.6 207.4 44.4 207.4 45.3 207.4 45.9 207.5 46.8 207.5 47.6 207.5 48.5 207.5 49.1 207.5 49.9 207.5 51.0 207.5 51.6 207.5 52.2 207.5 53.3 207.5 54.1 207.5 54.7 207.5 55.5 207.5 56.4 207.6 57.2 207.6 58.2 207.6 58.9 207.6 59.5 207.6 60.6 207.6 61.2 207.6 62.1 207.6 62.8 207.6 63.6 207.6 64.3 207.6 65.4 207.7 66.0 207.7 67.0 207.7 67.6 207.7 68.5 207.7 69.2 207.7 70.0 207.7 70.9 207.7 71.6 207.7 72.5 207.7 73.4 207.8 74.3 207.8 75.1 207.8 75.8 207.8 76.6 207.8 77.5 207.8 78.5 207.8 79.4 207.8 80.0 207.8 80.8 207.9 81.8 207.9 82.8 207.9 83.7 207.9 84.4 207.9 85.4 207.9 86.3 207.9 87.0 207.9 88.1 207.9 89.0 208.0 89.8 208.0 90.8 208.0 91.5 208.0 92.2 208.0 93.4 208.0 94.2 208.0 95.1 208.0 95.8 208.1 96.6 208.1 97.5 208.1 98.3 208.1 99.1 208.1 100.1 208.1 100.9 208.1 101.7 208.2 102.4 208.2 103.1 208.2 104.2 208.2 105.0 208.2 105.7 208.2 106.7 208.2 107.3 208.3 108.2 208.3 109.0 208.3 109.6 208.3 110.6 208.3 111.2 208.3 112.0 208.3 112.5 208.4 113.3 208.4 114.0 208.4 114.8 208.4 115.5 208.4 116.2 208.4 116.7 208.4 117.5 208.5 118.2 208.5 118.9 208.5 119.2 208.5 120.1 208.5 121.1 208.6 122.3 208.6 123.4 208.6 124.5 208.7 125.7 208.7 126.7 208.7 127.7 208.8 128.6 208.8 129.3 208.8 130.5 208.9 131.3 208.9 132.2 208.9 132.9 209.0 133.7 209.0 134.5 209.0 135.2 209.1 136.0 209.1 136.7 209.2 137.5 209.2 138.1 209.2 138.7 209.3 139.5 209.3 140.2 209.3 140.8 209.4 141.5 209.4 142.0 209.5 142.7 209.5 143.2 209.5 143.7 209.6 144.4 209.6 145.1 209.7 146.0 209.8 147.1 209.8 148.5 209.9 149.1 210.0 150.2 210.1 150.9 210.2 151.9 210.2 152.4 210.3 153.1 210.4 153.9 210.5 154.5 210.6 155.2 210.6 155.9 210.7 156.4 210.8 157.0 210.9 158.1 211.1 159.0 211.2 160.1 211.3 160.8 211.4 161.6 211.6 162.4 211.7 162.8 211.8 163.5 212.1 164.8 212.5 165.7 212.8 166.6 213.3 167.7 214.0 168.0 214.5 167.6 215.2 167.2 215.8 165.8 216.5 164.8 216.9 164.3 217.3 163.8 217.7 162.8 218.1 162.0 218.5 161.0 218.9 160.3 219.3 159.5 219.7 158.8 220.2 157.9 220.7 157.0 221.1 156.2 221.6 155.3 222.1 154.7 222.5 154.1 223.0 153.1 223.5 152.4 224.0 151.5 224.5 150.6 225.0 150.3 225.4 149.8 225.9 150.1 226.4 150.5 226.9 151.4 227.3 152.3 227.5 153.0 227.7 153.6 227.9 154.2 228.1 155.1 228.3 156.0 228.6 157.1 229.0 158.3 229.2 158.9 229.4 159.3 229.6 160.0 229.8 160.8 230.0 161.5 230.2 162.2 230.4 163.2 230.7 164.0 230.9 164.7 231.2 165.6 231.4 166.3 231.7 167.1 232.0 168.1 232.3 168.9 232.6 169.5 232.9 170.5 233.2 171.4 233.5 171.9 233.8 172.7 234.1 173.6 234.5 174.2 234.8 175.1 235.2 176.0 235.6 176.9 236.0 177.5 236.3 178.2 236.7 179.0 237.1 179.6 237.6 180.6 238.0 181.4 238.4 182.1 238.8 183.0 239.3 183.4 239.7 184.3 240.2 184.9 240.6 185.4 241.1 186.2 241.6 186.8 242.2 187.3 242.8 188.1 243.4 188.6 244.0 189.3 244.6 189.9 245.2 190.4 245.8 190.8 246.4 191.5 247.1 192.0 247.7 192.3 248.3 192.8 249.0 193.1 249.6 193.7 250.2 194.0 250.8 194.6 251.5 195.1 252.2 195.7 252.9 195.9 253.5 196.3 254.2 196.8 254.8 197.0 255.5 197.4 256.2 197.8 256.9 197.9 257.7 198.5 258.5 198.7 259.4 199.2 260.4 199.5 261.0 199.6 261.7 199.7 262.4 200.2 263.2 200.4 263.9 200.5 264.7 200.8 265.5 201.0 266.3 201.3 267.1 201.3 268.0 201.7 268.8 202.0 269.7 202.3 270.5 202.3 271.4 202.8 272.3 202.8 273.1 203.1 274.0 203.3 274.8 203.6 275.7 203.8 276.5 204.1 277.3 204.4" fill="none" stroke="#111111" stroke-width="1.35" stroke-linejoin="round" />
<text x="219.6" y="28" font-size="18.7" fill="#151515" font-family="'Liberation Sans', Arial, sans-serif" textLength="24.6" lengthAdjust="spacingAndGlyphs">(b)</text>
<text x="250.3" y="34" font-size="12.8" fill="#151515" font-family="'Liberation Sans', Arial, sans-serif" textLength="60" lengthAdjust="spacingAndGlyphs" stroke="#151515" stroke-width="0.32">E<tspan font-size="9" dy="2.5">p</tspan><tspan dy="-2.5">=25 eV</tspan></text>
<text x="275.8" y="50.6" font-size="13.8" fill="#151515" font-family="'Liberation Sans', Arial, sans-serif" textLength="38" lengthAdjust="spacingAndGlyphs" stroke="#151515" stroke-width="0.32">θ<tspan font-size="9.5" dy="3">i</tspan><tspan dy="-3">=θ</tspan><tspan font-size="9.5" dy="3">s</tspan></text>
<text x="281.5" y="65.3" font-size="12.6" fill="#151520" textLength="32.5" lengthAdjust="spacingAndGlyphs" font-family="'Liberation Sans', Arial, sans-serif" stroke="#151520" stroke-width="0.32">50.0°</text>
<text x="281.5" y="91.6" font-size="12.6" fill="#151520" textLength="32.5" lengthAdjust="spacingAndGlyphs" font-family="'Liberation Sans', Arial, sans-serif" stroke="#151520" stroke-width="0.32">55.0°</text>
<text x="281.5" y="117.7" font-size="12.6" fill="#151520" textLength="32.5" lengthAdjust="spacingAndGlyphs" font-family="'Liberation Sans', Arial, sans-serif" stroke="#151520" stroke-width="0.32">60.0°</text>
<text x="281.5" y="145.1" font-size="12.6" fill="#151520" textLength="32.5" lengthAdjust="spacingAndGlyphs" font-family="'Liberation Sans', Arial, sans-serif" stroke="#151520" stroke-width="0.32">65.0°</text>
<text x="281.5" y="167.3" font-size="12.6" fill="#151520" textLength="32.5" lengthAdjust="spacingAndGlyphs" font-family="'Liberation Sans', Arial, sans-serif" stroke="#151520" stroke-width="0.32">70.0°</text>
<text x="281.5" y="189.2" font-size="12.6" fill="#151520" textLength="32.5" lengthAdjust="spacingAndGlyphs" font-family="'Liberation Sans', Arial, sans-serif" stroke="#151520" stroke-width="0.32">75.0°</text>
<text x="281.5" y="210.5" font-size="12.6" fill="#151520" textLength="32.5" lengthAdjust="spacingAndGlyphs" font-family="'Liberation Sans', Arial, sans-serif" stroke="#151520" stroke-width="0.32">80.0°</text>
<text transform="translate(193 113.4) rotate(-90)" font-size="10.2" textLength="96.5" lengthAdjust="spacingAndGlyphs" text-anchor="middle" fill="#151515" font-family="'Liberation Sans', Arial, sans-serif" stroke="#151515" stroke-width="0.32">Intensity [Arb. Units]</text>
<text x="205.3" y="230.4" font-size="10.2" text-anchor="middle" fill="#151515" font-family="'Liberation Sans', Arial, sans-serif" stroke="#151515" stroke-width="0.32">0</text>
<text x="224.3" y="230.4" font-size="10.2" text-anchor="middle" fill="#151515" font-family="'Liberation Sans', Arial, sans-serif" stroke="#151515" stroke-width="0.32">100</text>
<text x="246" y="230.4" font-size="10.2" text-anchor="middle" fill="#151515" font-family="'Liberation Sans', Arial, sans-serif" stroke="#151515" stroke-width="0.32">200</text>
<text x="266.8" y="230.4" font-size="10.2" text-anchor="middle" fill="#151515" font-family="'Liberation Sans', Arial, sans-serif" stroke="#151515" stroke-width="0.32">300</text>
<text x="203.6" y="243" font-size="10" fill="#151515" font-family="'Liberation Sans', Arial, sans-serif" stroke="#151515" stroke-width="0.32">Energy Loss [meV]</text>
<text x="115.3" y="273.7" font-size="13.5" fill="#151515" textLength="117.5" lengthAdjust="spacingAndGlyphs" font-family="'Liberation Sans', Arial, sans-serif" stroke="#151515" stroke-width="0.32">E<tspan font-size="9.5" dy="2.5">p</tspan><tspan dy="-2.5">=25 eV θ</tspan><tspan font-size="9.5" dy="2.5">i</tspan><tspan dy="-2.5">=55.0°</tspan></text>
<line x1="22.7" y1="308.5" x2="22.7" y2="418.2" stroke="#2a2a2a" stroke-width="1"/>
<line x1="22.2" y1="417.7" x2="103.2" y2="417.7" stroke="#2a2a2a" stroke-width="1"/>
<line x1="102.9" y1="418.7" x2="143.9" y2="301.0" stroke="#2a2a2a" stroke-width="1"/>
<line x1="27.1" y1="417.7" x2="27.1" y2="421.7" stroke="#2a2a2a" stroke-width="1"/>
<line x1="37.55" y1="417.7" x2="37.55" y2="420.2" stroke="#2a2a2a" stroke-width="1"/>
<line x1="48.0" y1="417.7" x2="48.0" y2="421.7" stroke="#2a2a2a" stroke-width="1"/>
<line x1="58.45" y1="417.7" x2="58.45" y2="420.2" stroke="#2a2a2a" stroke-width="1"/>
<line x1="68.9" y1="417.7" x2="68.9" y2="421.7" stroke="#2a2a2a" stroke-width="1"/>
<line x1="79.35" y1="417.7" x2="79.35" y2="420.2" stroke="#2a2a2a" stroke-width="1"/>
<line x1="89.8" y1="417.7" x2="89.8" y2="421.7" stroke="#2a2a2a" stroke-width="1"/>
<line x1="100.25" y1="417.7" x2="100.25" y2="420.2" stroke="#2a2a2a" stroke-width="1"/>
<line x1="103.35175000000001" y1="417.4" x2="107.15175" y2="417.4" stroke="#2a2a2a" stroke-width="1"/>
<text x="112.0" y="420.7" font-size="9" fill="#151515" font-family="'Liberation Sans', Arial, sans-serif" stroke="#151515" stroke-width="0.32">0.00</text>
<line x1="109.81524999999999" y1="398.8" x2="113.61524999999999" y2="398.8" stroke="#2a2a2a" stroke-width="1"/>
<text x="118.4" y="402.1" font-size="9" fill="#151515" font-family="'Liberation Sans', Arial, sans-serif" stroke="#151515" stroke-width="0.32">0.02</text>
<line x1="116.27875" y1="380.2" x2="120.07875" y2="380.2" stroke="#2a2a2a" stroke-width="1"/>
<text x="124.9" y="383.5" font-size="9" fill="#151515" font-family="'Liberation Sans', Arial, sans-serif" stroke="#151515" stroke-width="0.32">0.04</text>
<line x1="123.055" y1="360.7" x2="126.855" y2="360.7" stroke="#2a2a2a" stroke-width="1"/>
<text x="131.7" y="364.0" font-size="9" fill="#151515" font-family="'Liberation Sans', Arial, sans-serif" stroke="#151515" stroke-width="0.32">0.06</text>
<line x1="129.6575" y1="341.7" x2="133.4575" y2="341.7" stroke="#2a2a2a" stroke-width="1"/>
<text x="138.3" y="345.0" font-size="9" fill="#151515" font-family="'Liberation Sans', Arial, sans-serif" stroke="#151515" stroke-width="0.32">0.08</text>
<line x1="136.19050000000001" y1="322.9" x2="139.99050000000003" y2="322.9" stroke="#2a2a2a" stroke-width="1"/>
<text x="144.8" y="326.2" font-size="9" fill="#151515" font-family="'Liberation Sans', Arial, sans-serif" stroke="#151515" stroke-width="0.32">0.10</text>
<line x1="142.75825" y1="304.0" x2="146.55825000000002" y2="304.0" stroke="#2a2a2a" stroke-width="1"/>
<text x="151.4" y="307.3" font-size="9" fill="#151515" font-family="'Liberation Sans', Arial, sans-serif" stroke="#151515" stroke-width="0.32">0.12</text>
<path d="M22.9 410.2L23.5 409.7 24.2 410.0 24.8 409.1 25.4 410.0 26.1 409.3 26.7 409.4 27.3 409.3 28.0 409.0 28.6 408.8 29.3 408.2 30.0 408.4 30.6 408.2 31.3 408.2 31.9 407.1 32.6 407.3 33.3 407.5 33.9 407.5 34.6 407.2 35.3 406.7 36.0 406.8 36.7 406.7 37.4 405.8 38.1 406.5 38.8 406.6 39.4 406.6 40.1 407.1 40.8 406.7 41.4 407.3 42.1 407.4 42.8 407.6 43.5 407.7 44.2 408.2 44.9 408.7 45.6 408.1 46.3 408.1 47.0 408.6 47.6 409.4 48.2 408.8 48.8 408.9 49.4 408.9 49.9 408.9 50.5 409.1 51.0 410.6 51.6 409.5 52.3 409.5 52.9 410.0 53.7 410.5 54.5 410.0 55.3 410.3 56.3 410.7 56.8 411.0 57.3 410.4 57.9 410.9 58.4 411.6 59.0 410.7 59.6 410.6 60.2 411.2 60.8 411.4 61.4 411.1 62.0 411.2 62.6 411.5 63.3 411.6 64.0 411.4 64.6 411.7 65.3 410.8 66.0 411.6 66.7 411.3 67.4 411.8 68.2 411.7 68.9 412.3 69.6 411.8 70.4 411.8 71.1 411.9 71.9 412.1 72.7 411.8 73.4 411.5 74.2 411.7 75.0 412.2 75.6 412.7 76.2 411.8 76.7 412.4 77.3 411.7 77.9 412.4 78.5 412.1 79.2 412.2 79.8 412.7 80.4 413.0 81.1 412.2 81.7 412.0 82.3 412.1 83.0 412.5 83.7 412.4 84.3 412.3 85.0 412.2 85.6 412.5 86.3 412.3 87.0 413.0 87.7 412.5 88.3 413.1 89.0 413.0 89.7 413.0 90.4 412.8 91.1 412.3 91.7 413.1 92.4 413.2 93.1 412.7 93.8 412.4 94.5 412.5 95.2 412.5 95.8 412.5 96.5 413.5 97.2 413.0 97.9 413.4 98.5 412.8 99.2 413.4 99.8 413.3 100.5 413.5" fill="none" stroke="#b8306e" stroke-width="1.05" stroke-linejoin="round" />
<path d="M29.2 392.4L29.6 391.9 30.0 392.1 30.5 392.7 30.9 390.6 31.3 389.4 31.7 389.2 32.1 391.2 32.6 388.6 33.0 387.3 33.5 387.7 33.9 387.8 34.3 387.2 34.7 388.3 35.2 385.8 35.7 383.9 36.2 386.5 36.9 384.9 37.4 384.6 37.9 383.3 38.4 382.6 38.9 384.9 39.5 381.5 40.0 382.1 40.6 381.3 41.3 383.7 42.0 382.4 42.7 381.2 43.4 382.5 44.2 383.6 44.8 380.7 45.3 380.8 45.9 382.2 46.5 382.1 47.2 380.8 47.8 381.4 48.5 382.2 49.2 383.2 49.9 381.0 50.6 383.3 51.3 383.3 52.0 385.0 52.7 380.8 53.4 383.0 54.1 383.1 54.9 385.3 55.6 382.7 56.3 383.5 56.9 384.5 57.5 385.1 58.1 385.1 58.8 383.5 59.4 387.0 60.0 384.5 60.6 385.8 61.2 386.6 61.9 385.4 62.5 386.6 63.1 384.7 63.8 386.3 64.4 386.1 65.1 385.2 65.8 386.3 66.4 386.2 67.1 388.4 67.8 386.8 68.5 386.2 69.2 387.8 69.9 387.8 70.5 391.0 71.1 390.3 71.7 388.8 72.3 387.9 73.0 391.3 73.6 389.3 74.2 387.4 74.9 389.7 75.5 387.6 76.2 390.9 76.9 390.1 77.5 388.6 78.2 389.3 78.9 387.7 79.5 392.0 80.2 390.4 80.9 391.1 81.5 391.9 82.2 390.2 82.8 390.2 83.5 390.4 84.1 391.3 84.7 390.2 85.3 390.9 85.9 391.6 86.5 391.6 87.2 391.0 87.9 390.6 88.6 391.3 89.3 392.7 90.0 393.6 90.7 393.5 91.4 392.1 92.1 393.3 92.8 393.1 93.4 394.5 94.1 392.1 94.7 394.4 95.3 393.6 96.0 393.2 96.6 396.1 97.2 395.6 97.8 392.0 98.4 393.9 98.9 394.7 99.5 395.1 100.0 392.7 100.8 394.6 101.6 394.4 102.3 393.4 103.0 395.2 103.7 393.8 104.3 394.3 105.0 393.3 105.6 394.9 106.2 395.0 106.8 394.1 107.4 393.5 108.0 394.5 108.7 394.8" fill="none" stroke="#ee2a4a" stroke-width="1.05" stroke-linejoin="round" />
<path d="M29.2 392.4L29.6 391.9 30.0 392.1 30.5 392.7 30.9 390.6 31.3 389.4 31.7 389.2 32.1 391.2" fill="none" stroke="#6a2a6a" stroke-width="1.0" stroke-linejoin="round" />
<path d="M34.5 381.4L35.0 382.0 35.5 381.2 35.9 380.7 36.4 380.7 36.9 380.6 37.4 379.7 37.9 379.2 38.3 377.4 38.8 378.5 39.3 377.0 39.6 377.8 40.0 377.6 40.3 374.0 40.6 376.4 40.9 373.8 41.3 372.8 41.6 372.9 41.9 372.8 42.3 372.8 42.6 374.0 43.0 369.1 43.4 369.6 43.8 369.8 44.2 368.4 44.6 366.7 45.1 367.7 45.5 367.4 46.0 367.4 46.5 366.1 47.0 367.4 47.5 365.9 48.0 366.1 48.5 363.9 49.1 362.0 49.7 365.0 50.2 364.2 50.8 364.3 51.4 363.5 52.0 362.8 52.5 362.6 53.1 363.7 53.7 361.7 54.4 362.0 55.0 362.1 55.6 362.3 56.3 364.0 56.9 361.2 57.6 364.2 58.3 361.7 59.0 361.6 59.7 361.1 60.4 362.5 61.1 363.3 61.7 360.8 62.3 361.7 62.9 361.7 63.5 361.5 64.2 361.3 64.9 362.9 65.5 363.4 66.2 363.2 66.9 362.6 67.5 363.6 68.2 364.6 68.9 364.3 69.5 365.1 70.2 364.2 70.8 365.4 71.4 365.5 72.0 364.4 72.6 365.1 73.2 364.7 74.0 365.7 74.8 365.6 75.5 365.9 76.3 365.9 77.0 365.5 77.7 366.7 78.4 365.2 79.1 366.4 79.7 364.2 80.3 365.6 80.9 367.4 81.5 366.6 82.1 367.3 82.8 366.4 83.4 366.1 83.9 366.8 84.4 368.2 84.8 368.2 85.4 370.7 86.0 371.2 86.7 370.6 87.7 369.3 88.2 370.4 88.6 370.0 89.2 370.1 89.7 370.5 90.3 371.0 90.9 370.9 91.5 371.3 92.2 369.7 92.8 371.2 93.5 372.6 94.1 372.7 94.8 371.1 95.5 372.8 96.2 372.8 96.9 371.7 97.6 373.3 98.2 373.8 98.9 373.5 99.5 375.5 100.2 373.3 100.8 374.3 101.4 374.7 102.1 375.0 102.7 374.2 103.4 375.4 104.1 375.4 104.7 377.6 105.3 376.8 106.0 375.6 106.6 377.2 107.2 375.1 107.9 376.5 108.5 378.0 109.1 374.7 109.7 377.8 110.4 377.5 111.0 376.5 111.6 378.2 112.2 376.3 112.9 378.6 113.5 377.9" fill="none" stroke="#ee2a4a" stroke-width="1.05" stroke-linejoin="round" />
<path d="M34.5 381.0L35.0 381.7 35.5 380.3 35.9 381.0 36.4 379.7 36.9 380.5 37.4 379.2 37.9 375.8 38.3 378.8 38.8 378.5 39.3 377.7 39.6 377.0 40.0 376.7 40.3 377.1 40.6 374.5 40.9 373.5 41.3 372.9 41.6 372.7 41.9 371.6 42.3 372.7 42.6 369.7 43.0 371.2 43.4 369.3 43.8 370.2 44.2 369.0 44.6 368.8 45.1 369.5 45.5 367.8 46.0 367.0" fill="none" stroke="#2a1838" stroke-width="1.0" stroke-linejoin="round" stroke-opacity="0.85"/>
<path d="M39.8 363.4L40.5 362.5 41.1 364.2 41.8 362.4 42.4 362.3 43.1 364.0 43.7 364.8 44.4 364.8 45.0 364.9 45.7 364.0 46.3 363.2 47.0 364.1 47.7 364.1 48.3 363.5 49.0 362.6 49.6 363.0 50.2 363.2 50.8 361.6 51.4 362.2 52.0 361.1 52.6 363.8 53.2 362.4 53.8 361.3 54.4 362.1 55.0 361.0 55.7 360.0 56.3 360.3 56.9 359.8 57.5 363.3 58.1 358.5 58.7 356.4 59.3 359.7 60.0 357.4 60.6 357.1 61.2 359.6 61.8 357.1 62.4 356.5 63.1 357.6 63.7 356.1 64.3 357.9 64.9 356.2 65.6 356.9 66.2 358.1 66.9 358.4 67.6 354.0 68.3 355.6 68.9 355.6 69.5 356.7 70.2 355.3 70.8 354.7 71.5 357.1 72.1 356.8 72.8 355.5 73.5 353.2 74.2 355.1 74.8 353.7 75.5 357.1 76.2 355.5 76.9 355.3 77.5 355.8 78.2 355.5 78.8 353.5 79.4 355.3 80.0 355.0 80.7 351.9 81.4 355.6 82.1 354.8 82.8 354.1 83.4 354.7 84.0 353.2 84.6 355.0 85.2 353.4 85.9 352.5 86.5 355.8 87.2 354.5 87.8 353.7 88.6 354.0 89.3 354.3 89.9 355.3 90.5 354.6 91.2 355.3 91.8 353.3 92.5 353.3 93.1 354.5 93.8 354.8 94.5 354.4 95.2 353.8 95.9 354.5 96.6 355.8 97.3 355.9 98.0 354.1 98.7 356.3 99.4 356.1 100.0 356.2 100.7 356.9 101.4 356.4 102.0 358.1 102.7 355.9 103.4 355.7 104.0 357.1 104.7 357.5 105.4 356.1 106.1 357.9 106.7 357.9 107.4 356.6 108.1 357.7 108.7 359.3 109.4 359.4 110.0 357.5 110.7 359.6 111.3 359.1 111.9 361.4 112.4 359.2 113.0 360.3 113.5 358.2 114.3 361.3 115.0 360.4 115.7 360.2 116.3 360.5 116.9 361.2 117.4 361.0 118.0 362.5 118.5 361.7 119.1 362.2 119.6 365.8 120.2 363.1 120.8 363.9" fill="none" stroke="#ee2a4a" stroke-width="1.05" stroke-linejoin="round" />
<path d="M39.8 365.0L40.5 363.8 41.1 364.1 41.8 364.3 42.4 363.5 43.1 362.2 43.7 363.7 44.4 364.9 45.0 362.8 45.7 363.8 46.3 364.3 47.0 362.7 47.7 364.6 48.3 362.6 49.0 363.2 49.6 361.9 50.2 363.1 50.8 361.0 51.4 362.7 52.0 360.5 52.6 361.4 53.2 363.9 53.8 359.8 54.4 360.8 55.0 360.4 55.7 361.2 56.3 360.0 56.9 357.4 57.5 359.4 58.1 357.5 58.7 356.9 59.3 358.1 60.0 357.9 60.6 357.0 61.2 359.0 61.8 360.0 62.4 356.5 63.1 358.7" fill="none" stroke="#2a1838" stroke-width="1.0" stroke-linejoin="round" stroke-opacity="0.85"/>
<path d="M45.4 351.7L46.0 352.2 46.5 353.3 47.1 353.5 47.6 350.9 48.1 352.4 48.7 350.3 49.2 350.6 49.8 351.3 50.3 349.6 51.0 352.0 51.6 346.7 52.3 348.7 53.0 347.8 53.8 348.1 54.3 348.2 54.9 346.3 55.4 348.8 56.0 346.2 56.6 347.8 57.2 348.0 57.9 345.6 58.5 347.7 59.2 346.6 59.8 345.7 60.5 346.7 61.2 347.2 61.9 346.8 62.6 345.5 63.2 344.6 63.9 344.2 64.6 345.3 65.2 344.4 65.9 343.6 66.5 343.3 67.1 342.8 67.7 342.9 68.3 343.9 69.1 342.4 69.8 342.0 70.5 342.3 71.2 341.9 71.9 341.7 72.6 343.6 73.3 344.5 74.0 342.5 74.6 342.8 75.3 342.1 75.9 342.8 76.6 341.0 77.2 342.2 77.8 343.4 78.5 340.9 79.1 341.5 79.7 341.3 80.4 340.5 81.1 341.8 81.7 340.6 82.3 342.0 82.9 340.2 83.5 339.4 84.2 338.8 84.8 338.2 85.4 339.8 86.0 338.6 86.6 340.2 87.2 338.4 87.9 338.7 88.6 338.6 89.3 336.7 89.9 338.7 90.5 338.2 91.2 337.3 91.8 337.9 92.5 338.5 93.1 338.6 93.8 338.8 94.5 338.9 95.2 339.7 95.9 338.5 96.6 338.5 97.3 338.7 98.0 339.6 98.7 338.8 99.4 338.4 100.0 338.7 100.7 341.4 101.4 340.5 102.0 341.9 102.6 341.4 103.1 341.2 103.7 343.1 104.3 343.1 104.9 344.3 105.5 341.3 106.1 342.3 106.6 343.6 107.2 341.7 107.8 344.4 108.4 343.5 109.0 344.1 109.6 344.0 110.1 346.6 110.7 346.4 111.3 344.9 111.8 344.9 112.4 348.0 112.9 348.3 113.5 347.4 114.1 349.8 114.8 348.5 115.4 348.7 116.0 349.6 116.6 348.7 117.2 348.5 117.8 350.6 118.4 349.7 119.0 350.0 119.6 351.6 120.2 350.9 120.8 349.7 121.4 351.9 122.0 351.2 122.6 351.7 123.2 351.6 123.8 353.6 124.4 352.5" fill="none" stroke="#ee2a4a" stroke-width="1.05" stroke-linejoin="round" />
<path d="M45.4 353.8L46.0 351.9 46.5 352.3 47.1 349.9 47.6 352.0 48.1 350.3 48.7 350.4 49.2 350.5 49.8 349.8 50.3 350.9 51.0 350.3 51.6 348.7 52.3 347.5 53.0 350.1 53.8 348.3 54.3 348.7 54.9 346.0 55.4 345.5 56.0 348.4 56.6 347.3 57.2 347.2 57.9 347.8 58.5 345.8 59.2 345.2 59.8 344.4 60.5 344.7 61.2 346.5 61.9 346.0 62.6 344.3 63.2 347.4 63.9 345.5 64.6 345.6 65.2 346.2 65.9 343.4 66.5 344.1" fill="none" stroke="#2a1838" stroke-width="1.0" stroke-linejoin="round" stroke-opacity="0.85"/>
<path d="M50.2 339.0L50.8 335.0 51.4 337.4 52.0 338.9 52.6 336.0 53.2 337.1 53.8 338.3 54.4 335.4 55.0 337.1 55.7 338.0 56.3 336.3 56.9 337.2 57.5 335.2 58.1 334.7 58.7 335.3 59.3 333.2 59.9 335.5 60.5 334.1 61.1 332.5 61.7 334.6 62.3 333.9 62.9 332.6 63.5 332.0 64.2 332.6 64.8 330.3 65.4 330.4 66.0 332.5 66.6 331.3 67.2 331.8 67.8 330.5 68.4 331.6 69.0 328.6 69.6 330.5 70.2 330.0 70.8 329.9 71.4 330.0 72.0 327.8 72.6 327.9 73.2 329.6 73.7 328.6 74.2 328.0 74.7 325.3 75.3 328.4 75.8 326.7 76.3 326.9 76.8 324.0 77.3 325.8 77.9 322.9 78.5 325.7 79.1 324.7 79.8 324.7 80.5 323.2 81.3 324.2 82.1 323.5 82.6 321.7 83.1 323.6 83.7 322.9 84.3 321.4 84.9 323.7 85.5 321.1 86.1 321.5 86.8 320.2 87.4 320.1 88.1 322.1 88.8 323.9 89.5 320.6 90.2 320.8 90.9 320.5 91.6 321.7 92.3 322.9 93.0 320.6 93.8 319.9 94.5 320.9 95.2 320.5 95.8 319.3 96.5 319.5 97.2 318.4 97.9 319.3 98.5 317.6 99.1 320.5 99.7 320.4 100.3 316.7 100.9 316.7 101.4 317.9 102.2 318.6 102.9 319.9 103.6 318.5 104.3 320.1 105.0 317.6 105.6 319.1 106.3 319.4 106.9 318.8 107.5 319.1 108.0 321.1 108.6 321.0 109.2 322.0 109.7 319.2 110.3 323.3 110.8 323.9 111.3 324.5 111.9 322.6 112.4 322.2 113.0 323.8 113.5 323.7 114.1 324.8 114.8 321.7 115.4 324.1 116.0 325.1 116.6 324.1 117.2 324.4 117.8 327.8 118.4 326.8 119.0 325.6 119.6 328.8 120.1 326.9 120.7 326.8 121.2 327.2 121.7 327.8 122.2 329.4 122.7 329.1 123.2 329.7 123.8 329.4 124.4 331.1 125.0 330.1 125.5 331.7 126.0 330.7 126.4 333.4 126.9 333.5 127.3 333.0 127.8 333.9 128.2 333.6 128.7 334.2 129.2 335.3" fill="none" stroke="#ee2a4a" stroke-width="1.05" stroke-linejoin="round" />
<path d="M50.2 338.7L50.8 336.3 51.4 337.2 52.0 337.6 52.6 339.4 53.2 333.7 53.8 337.7 54.4 337.6 55.0 337.5 55.7 335.0 56.3 335.4 56.9 335.5 57.5 333.4 58.1 334.4 58.7 335.5 59.3 335.5 59.9 332.2 60.5 333.8 61.1 334.0 61.7 334.0 62.3 332.5 62.9 334.5 63.5 331.2 64.2 331.6 64.8 332.6 65.4 334.3 66.0 329.9 66.6 329.1 67.2 328.9" fill="none" stroke="#2a1838" stroke-width="1.0" stroke-linejoin="round" stroke-opacity="0.85"/>
<path d="M57.5 325.3L58.1 326.2 58.8 327.5 59.5 326.4 60.1 325.7 60.8 326.6 61.5 325.7 62.2 326.8 62.8 323.2 63.5 324.5 64.1 324.7 64.8 323.3 65.4 323.9 66.0 322.6 66.6 322.1 67.2 324.5 67.8 320.8 68.3 321.4 69.1 322.3 69.9 321.5 70.6 323.3 71.3 322.8 71.9 322.3 72.5 323.4 73.1 322.9 73.7 322.6 74.3 321.6 75.0 321.0 75.6 321.6 76.1 321.5 76.6 320.6 77.2 320.2 77.7 320.3 78.2 320.3 78.8 320.1 79.3 318.0 80.0 318.2 80.6 318.9 81.3 318.0 82.1 317.5 82.6 318.2 83.1 317.0 83.6 317.5 84.2 315.4 84.7 318.1 85.3 315.5 85.9 315.5 86.5 318.0 87.1 316.8 87.7 315.6 88.3 314.4 88.9 314.1 89.6 312.7 90.2 313.3 90.9 311.1 91.5 313.9 92.2 313.5 92.9 312.0 93.5 312.9 94.2 311.0 94.8 312.0 95.4 312.6 96.0 313.0 96.6 312.1 97.3 310.7 97.9 310.8 98.6 312.8 99.3 308.9 99.9 311.8 100.6 308.3 101.3 309.2 101.9 310.7 102.6 309.4 103.3 308.7 103.9 310.2 104.6 310.1 105.2 308.4 105.8 309.2 106.4 310.7 107.0 308.7 107.6 308.9 108.2 308.8 108.7 308.8 109.5 308.7 110.2 308.1 110.9 308.9 111.6 307.7 112.3 308.5 112.9 308.4 113.5 309.0 114.1 310.0 114.7 309.0 115.3 309.6 115.9 310.8 116.5 309.7 117.1 311.2 117.7 310.2 118.3 312.5 118.8 312.0 119.4 312.0 119.9 312.2 120.5 312.4 121.0 315.5 121.6 313.4 122.1 314.9 122.7 315.2 123.2 314.8 123.8 314.8 124.3 317.0 124.9 317.5 125.4 317.6 125.9 316.1 126.5 318.0 127.0 317.8 127.5 319.0 128.0 318.4 128.6 318.1 129.2 319.7 129.8 318.8 130.4 321.6 130.9 320.4 131.5 321.3 132.0 322.2 132.6 323.7 133.2 322.2 133.7 320.6 134.3 320.8 134.8 321.3 135.4 323.2 135.9 322.8 136.5 324.5" fill="none" stroke="#ee2a4a" stroke-width="1.05" stroke-linejoin="round" />
<path d="M57.5 325.9L58.1 326.0 58.8 324.5 59.5 323.8 60.1 325.3 60.8 325.3 61.5 325.7 62.2 326.8 62.8 326.4 63.5 322.9 64.1 322.6 64.8 324.7 65.4 323.8 66.0 322.0 66.6 323.9 67.2 323.7 67.8 323.3 68.3 323.6 69.1 323.1 69.9 322.1 70.6 322.3 71.3 321.6 71.9 323.0 72.5 322.2 73.1 323.5 73.7 321.4 74.3 320.8 75.0 321.8 75.6 320.3 76.1 321.2 76.6 320.2 77.2 320.6 77.7 320.4 78.2 320.3 78.8 320.5 79.3 319.0 80.0 316.2 80.6 318.4 81.3 316.6" fill="none" stroke="#2a1838" stroke-width="1.0" stroke-linejoin="round" stroke-opacity="0.85"/>
<path d="M63.5 319.6L64.0 319.3 64.5 320.0 65.0 319.3 65.5 317.7 66.0 317.5 66.6 315.5 67.1 315.8 67.6 316.1 68.1 316.2 68.6 314.2 69.0 313.7 69.5 314.7 70.0 314.5 70.6 312.2 71.2 313.2 71.8 313.9 72.4 312.1 73.0 312.7 73.5 312.4 74.1 310.2 74.6 310.1 75.1 308.8 75.6 308.6 76.0 309.0 76.4 309.4 76.8 308.7 77.1 307.2 77.4 305.3 77.7 306.5 78.1 306.8 78.6 305.7 79.1 305.3 79.7 306.2 80.1 305.3 80.6 303.3 81.0 300.9 81.5 304.0 82.0 301.9 82.6 302.5 83.1 300.6 83.7 301.5 84.3 299.9 84.9 300.8 85.5 299.3 86.1 299.2 86.8 298.5 87.4 299.4 88.0 298.9 88.7 298.6 89.3 297.2 89.9 297.7 90.5 296.6 91.2 297.1 91.8 297.6 92.5 297.3 93.1 298.6 93.8 297.2 94.5 296.6 95.2 296.0 95.9 297.2 96.6 296.1 97.3 297.8 98.0 294.3 98.7 295.6 99.4 294.9 100.0 294.7 100.7 295.8 101.4 295.1 102.0 295.1 102.6 295.9 103.2 296.3 103.9 293.2 104.5 294.4 105.1 293.6 105.7 293.0 106.4 293.8 107.0 291.9 107.6 291.8 108.2 291.4 108.8 292.7 109.4 292.0 110.0 291.0 110.6 291.9 111.2 290.4 111.8 290.1 112.4 292.3 112.9 291.4 113.5 291.1 114.1 292.7 114.7 291.5 115.3 291.1 115.8 290.1 116.4 290.5 116.9 292.1 117.5 293.3 118.0 293.5 118.5 293.7 119.0 293.8 119.5 294.3 120.1 295.9 120.6 296.6 121.1 296.3 121.6 296.7 122.1 297.8 122.7 298.1 123.2 298.6 123.7 298.9 124.2 298.5 124.7 300.8 125.2 298.5 125.7 300.4 126.2 301.3 126.7 303.1 127.2 303.5 127.7 301.5 128.2 303.8 128.6 303.1 129.1 303.4 129.6 305.6 130.1 305.7 130.6 304.6 131.0 305.4 131.5 305.6 131.9 306.9 132.4 306.5 132.8 307.8 133.4 308.4 133.9 308.8 134.4 309.6 134.9 310.7 135.4 309.9 135.9 310.5 136.4 311.1 136.8 311.7 137.3 313.0 137.8 312.9 138.2 314.1 138.7 314.3 139.1 315.2 139.6 315.3 140.1 314.0" fill="none" stroke="#ee2a4a" stroke-width="1.05" stroke-linejoin="round" />
<path d="M63.5 319.5L64.0 317.6 64.5 318.1 65.0 320.3 65.5 316.9 66.0 316.9 66.6 317.0 67.1 316.9 67.6 317.3 68.1 316.5 68.6 313.3 69.0 315.4 69.5 313.6 70.0 316.2 70.6 310.6 71.2 311.4 71.8 310.4 72.4 312.7 73.0 311.4 73.5 310.9 74.1 309.7 74.6 310.5" fill="none" stroke="#2a1838" stroke-width="1.0" stroke-linejoin="round" stroke-opacity="0.85"/>
<path d="M84.3 299.9L84.9 300.8 85.5 299.3 86.1 299.2 86.8 298.5 87.4 299.4 88.0 298.9 88.7 298.6 89.3 297.2 89.9 297.7 90.5 296.6 91.2 297.1 91.8 297.6 92.5 297.3 93.1 298.6 93.8 297.2 94.5 296.6 95.2 296.0 95.9 297.2 96.6 296.1 97.3 297.8 98.0 294.3 98.7 295.6 99.4 294.9 100.0 294.7 100.7 295.8 101.4 295.1 102.0 295.1 102.6 295.9 103.2 296.3 103.9 293.2 104.5 294.4 105.1 293.6 105.7 293.0 106.4 293.8 107.0 291.9 107.6 291.8 108.2 291.4 108.8 292.7 109.4 292.0 110.0 291.0 110.6 291.9 111.2 290.4 111.8 290.1 112.4 292.3 112.9 291.4 113.5 291.1 114.1 292.7 114.7 291.5 115.3 291.1 115.8 290.1 116.4 290.5 116.9 292.1 117.5 293.3 118.0 293.5 118.5 293.7 119.0 293.8 119.5 294.3 120.1 295.9 120.6 296.6 121.1 296.3 121.6 296.7 122.1 297.8 122.7 298.1 123.2 298.6 123.7 298.9" fill="none" stroke="url(#gyel)" stroke-width="1.1" stroke-linejoin="round" />
<text x="33.0" y="298.8" font-size="20.3" fill="#151515" font-family="'Liberation Sans', Arial, sans-serif" textLength="25.4" lengthAdjust="spacingAndGlyphs">(c)</text>
<text transform="translate(14.5 367) rotate(-90)" font-size="10" textLength="95" lengthAdjust="spacingAndGlyphs" text-anchor="middle" fill="#151515" font-family="'Liberation Sans', Arial, sans-serif" stroke="#151515" stroke-width="0.32">Intensity [Arb. Units]</text>
<text x="27.1" y="435.4" font-size="8.6" text-anchor="middle" fill="#151515" font-family="'Liberation Sans', Arial, sans-serif" stroke="#151515" stroke-width="0.32">80</text>
<text x="48.0" y="435.4" font-size="8.6" text-anchor="middle" fill="#151515" font-family="'Liberation Sans', Arial, sans-serif" stroke="#151515" stroke-width="0.32">120</text>
<text x="68.9" y="435.4" font-size="8.6" text-anchor="middle" fill="#151515" font-family="'Liberation Sans', Arial, sans-serif" stroke="#151515" stroke-width="0.32">160</text>
<text x="89.8" y="435.4" font-size="8.6" text-anchor="middle" fill="#151515" font-family="'Liberation Sans', Arial, sans-serif" stroke="#151515" stroke-width="0.32">200</text>
<text x="26.2" y="447.5" font-size="10.3" fill="#151515" font-family="'Liberation Sans', Arial, sans-serif" stroke="#151515" stroke-width="0.32">Energy Loss [meV]</text>
<text transform="translate(169 389.5) rotate(-90) skewX(14)" font-size="11.5" letter-spacing="0.3" fill="#151515" font-family="'Liberation Sans', Arial, sans-serif" stroke="#151515" stroke-width="0.32">q<tspan font-size="7" dy="2">||</tspan><tspan dy="-2"> [Å</tspan><tspan font-size="7" dy="-4">-1</tspan><tspan dy="4">]</tspan></text>
<path d="M206.5 413.8 L206.5 413.8 L207.0 413.8 L207.5 413.8 L208.0 413.8 L208.5 413.8 L209.0 413.8 L209.5 413.8 L210.0 413.8 L210.5 413.8 L211.0 413.8 L211.5 413.8 L212.0 413.8 L212.5 413.8 L213.0 413.8 L213.5 413.8 L214.0 413.8 L214.5 413.8 L215.0 413.8 L215.5 413.8 L216.0 413.8 L216.5 413.8 L217.0 413.8 L217.5 413.8 L218.0 413.8 L218.5 413.8 L219.0 413.8 L219.5 413.8 L220.0 413.8 L220.5 413.8 L221.0 413.8 L221.5 413.8 L222.0 413.8 L222.5 413.8 L223.0 413.7 L223.5 413.7 L224.0 413.7 L224.5 413.7 L225.0 413.7 L225.5 413.7 L226.0 413.7 L226.5 413.7 L227.0 413.6 L227.5 413.6 L228.0 413.6 L228.5 413.6 L229.0 413.5 L229.5 413.5 L230.0 413.4 L230.5 413.4 L231.0 413.3 L231.5 413.3 L232.0 413.2 L232.5 413.2 L233.0 413.1 L233.5 413.0 L234.0 412.9 L234.5 412.8 L235.0 412.7 L235.5 412.5 L236.0 412.4 L236.5 412.2 L237.0 412.1 L237.5 411.9 L238.0 411.7 L238.5 411.5 L239.0 411.3 L239.5 411.0 L240.0 410.7 L240.5 410.4 L241.0 410.1 L241.5 409.8 L242.0 409.4 L242.5 409.0 L243.0 408.6 L243.5 408.2 L244.0 407.7 L244.5 407.2 L245.0 406.7 L245.5 406.2 L246.0 405.6 L246.5 405.0 L247.0 404.3 L247.5 403.6 L248.0 402.9 L248.5 402.2 L249.0 401.4 L249.5 400.6 L250.0 399.8 L250.5 399.0 L251.0 398.1 L251.5 397.2 L252.0 396.3 L252.5 395.3 L253.0 394.4 L253.5 393.4 L254.0 392.4 L254.5 391.4 L255.0 390.3 L255.5 389.3 L256.0 388.3 L256.5 387.2 L257.0 386.2 L257.5 385.2 L258.0 384.1 L258.5 383.1 L259.0 382.1 L259.5 381.2 L260.0 380.2 L260.5 379.3 L261.0 378.4 L261.5 377.5 L262.0 376.7 L262.5 376.0 L263.0 375.2 L263.5 374.5 L264.0 373.9 L264.5 373.3 L265.0 372.8 L265.5 372.4 L266.0 372.0 L266.5 371.7 L267.0 371.4 L267.5 371.2 L268.0 371.1 L268.5 371.0 L269.0 371.0 L269.5 371.1 L270.0 371.1 L270.5 371.3 L271.0 371.4 L271.5 371.6 L272.0 371.8 L272.5 372.1 L273.0 372.4 L273.5 372.8 L274.0 373.2 L274.5 373.6 L275.0 374.0 L275.5 374.5 L276.0 375.0 L276.5 375.5 L277.0 376.1 L277.5 376.7 L278.0 377.3 L278.5 377.9 L279.0 378.6 L279.5 379.3 L280.0 379.9 L280.5 380.7 L281.0 381.4 L281.5 382.1 L282.0 382.9 L282.5 383.6 L283.0 384.4 L283.5 385.2 L284.0 386.0 L284.5 386.7 L285.0 387.5 L285.5 388.3 L286.0 389.1 L286.5 389.9 L287.0 390.7 L287.5 391.4 L288.0 392.2 L288.5 393.0 L289.0 393.7 L289.5 394.5 L290.0 395.2 L290.5 395.9 L291.0 396.6 L291.5 397.3 L292.0 398.0 L292.5 398.7 L293.0 399.3 L293.5 400.0 L294.0 400.6 L294.5 401.2 L295.0 401.8 L295.5 402.4 L296.0 402.9 L296.5 403.4 L297.0 404.0 L297.5 404.5 L298.0 405.0 L298.5 405.4 L299.0 405.9 L299.5 406.3 L300.0 406.7 L300.5 407.1 L301.0 407.5 L301.5 407.9 L302.0 408.2 L302.5 408.5 L303.0 408.9 L303.5 409.2 L304.0 409.5 L304.5 409.7 L305.0 410.0 L305.5 410.2 L306.0 410.5 L306.5 410.7 L307.0 410.9 L307.5 411.1 L308.0 411.3 L308.5 411.5 L309.0 411.6 L309.5 411.8 L310.0 411.9 L310.5 412.1 L311.0 412.2 L311.5 412.3 L312.0 412.4 L312.5 412.5 L313.0 412.6 L313.5 412.7 L314.0 412.8 L314.5 412.9 L315.0 413.0 L315.5 413.0 L316.0 413.1 L316.5 413.2 L317.0 413.2 L317.5 413.3 L318.0 413.3 L318 413.8 Z" fill="#5ee01e"/>
<path d="M206.5 413.8 L206.5 413.2 L207.0 413.1 L207.5 413.0 L208.0 412.9 L208.5 412.8 L209.0 412.7 L209.5 412.6 L210.0 412.5 L210.5 412.3 L211.0 412.2 L211.5 412.0 L212.0 411.8 L212.5 411.6 L213.0 411.4 L213.5 411.2 L214.0 410.9 L214.5 410.7 L215.0 410.4 L215.5 410.1 L216.0 409.7 L216.5 409.4 L217.0 409.0 L217.5 408.6 L218.0 408.2 L218.5 407.8 L219.0 407.4 L219.5 406.9 L220.0 406.4 L220.5 405.9 L221.0 405.4 L221.5 404.8 L222.0 404.2 L222.5 403.6 L223.0 403.0 L223.5 402.4 L224.0 401.8 L224.5 401.1 L225.0 400.5 L225.5 399.8 L226.0 399.1 L226.5 398.4 L227.0 397.7 L227.5 397.1 L228.0 396.4 L228.5 395.7 L229.0 395.0 L229.5 394.4 L230.0 393.7 L230.5 393.1 L231.0 392.5 L231.5 391.9 L232.0 391.3 L232.5 390.8 L233.0 390.2 L233.5 389.8 L234.0 389.3 L234.5 388.9 L235.0 388.5 L235.5 388.2 L236.0 387.9 L236.5 387.6 L237.0 387.4 L237.5 387.3 L238.0 387.2 L238.5 387.1 L239.0 387.1 L239.5 387.1 L240.0 387.2 L240.5 387.3 L241.0 387.5 L241.5 387.7 L242.0 388.0 L242.5 388.3 L243.0 388.7 L243.5 389.1 L244.0 389.5 L244.5 389.9 L245.0 390.4 L245.5 391.0 L246.0 391.5 L246.5 392.1 L247.0 392.7 L247.5 393.3 L248.0 394.0 L248.5 394.6 L249.0 395.3 L249.5 396.0 L250.0 396.6 L250.5 397.3 L251.0 398.0 L251.5 398.7 L252.0 399.4 L252.5 400.1 L253.0 400.7 L253.5 401.4 L254.0 402.0 L254.5 402.7 L255.0 403.3 L255.5 403.9 L256.0 404.5 L256.5 405.0 L257.0 405.6 L257.5 406.1 L258.0 406.6 L258.5 407.1 L259.0 407.5 L259.5 408.0 L260.0 408.4 L260.5 408.8 L261.0 409.2 L261.5 409.5 L262.0 409.9 L262.5 410.2 L263.0 410.5 L263.5 410.8 L264.0 411.0 L264.5 411.3 L265.0 411.5 L265.5 411.7 L266.0 411.9 L266.5 412.1 L267.0 412.2 L267.5 412.4 L268.0 412.5 L268.5 412.7 L269.0 412.8 L269.5 412.9 L270.0 413.0 L270.5 413.1 L271.0 413.1 L271.5 413.2 L272.0 413.3 L272.5 413.3 L273.0 413.4 L273.5 413.4 L274.0 413.5 L274.5 413.5 L275.0 413.6 L275.5 413.6 L276.0 413.6 L276.5 413.6 L277.0 413.7 L277.5 413.7 L278.0 413.7 L278.5 413.7 L279.0 413.7 L279.5 413.7 L280.0 413.7 L280.5 413.7 L281.0 413.8 L281.5 413.8 L282.0 413.8 L282.5 413.8 L283.0 413.8 L283.5 413.8 L284.0 413.8 L284.5 413.8 L285.0 413.8 L285.5 413.8 L286.0 413.8 L286.5 413.8 L287.0 413.8 L287.5 413.8 L288.0 413.8 L288.5 413.8 L289.0 413.8 L289.5 413.8 L290.0 413.8 L290.5 413.8 L291.0 413.8 L291.5 413.8 L292.0 413.8 L292.5 413.8 L293.0 413.8 L293.5 413.8 L294.0 413.8 L294.5 413.8 L295.0 413.8 L295.5 413.8 L296.0 413.8 L296.5 413.8 L297.0 413.8 L297.5 413.8 L298.0 413.8 L298.5 413.8 L299.0 413.8 L299.5 413.8 L300.0 413.8 L300.5 413.8 L301.0 413.8 L301.5 413.8 L302.0 413.8 L302.5 413.8 L303.0 413.8 L303.5 413.8 L304.0 413.8 L304.5 413.8 L305.0 413.8 L305.5 413.8 L306.0 413.8 L306.5 413.8 L307.0 413.8 L307.5 413.8 L308.0 413.8 L308.5 413.8 L309.0 413.8 L309.5 413.8 L310.0 413.8 L310.5 413.8 L311.0 413.8 L311.5 413.8 L312.0 413.8 L312.5 413.8 L313.0 413.8 L313.5 413.8 L314.0 413.8 L314.5 413.8 L315.0 413.8 L315.5 413.8 L316.0 413.8 L316.5 413.8 L317.0 413.8 L317.5 413.8 L318.0 413.8 L318 413.8 Z" fill="#ff2818"/>
<path d="M207.5 413.6L208.1 412.6 208.8 414.2 209.4 411.3 210.0 412.3 210.6 411.4 211.3 410.8 212.0 411.1 212.5 409.0 213.1 409.0 213.7 409.1 214.3 409.7 214.9 408.2 215.5 408.1 216.1 405.9 216.6 405.8 217.2 406.6 217.7 405.1 218.3 404.9 218.9 404.8 219.5 402.5 220.0 402.5 220.5 402.6 221.0 401.2 221.5 401.2 222.0 401.0 222.4 400.0 222.9 399.6 223.3 399.2 223.7 399.4 224.0 398.9 224.4 397.1 224.8 396.2 225.1 396.5 225.4 395.7 225.7 394.9 226.0 393.5 226.2 393.7 226.5 393.1 226.8 390.9 227.0 391.9 227.3 390.6 227.5 389.6 227.8 388.3 228.0 388.4 228.2 387.9 228.5 387.1 228.7 385.9 229.0 385.3 229.3 385.8 229.7 384.8 230.1 384.2 230.6 383.7 231.0 383.1 231.5 383.1 232.0 381.5 232.5 380.9 233.2 380.1 233.8 380.6 234.5 380.4 235.2 379.7 236.0 380.0 236.6 379.8 237.3 381.9 238.0 379.3 238.8 380.2 239.5 379.6 240.3 379.1 241.0 379.2 241.7 379.0 242.4 378.5 243.1 378.1 243.8 377.7 244.5 377.4 245.3 377.5 246.0 376.9 246.7 377.3 247.3 377.4 248.0 376.3 248.7 376.0 249.3 376.7 250.0 375.7 250.8 375.6 251.5 375.0 252.1 375.0 252.8 375.5 253.4 375.0 254.1 373.5 254.8 373.4 255.5 373.3 256.1 373.1 256.8 373.4 257.4 371.5 258.0 373.3 258.8 371.5 259.6 372.5 260.3 370.8 261.1 371.1 261.7 371.5 262.4 370.7 263.0 371.2 264.0 371.7 264.8 369.6 265.6 369.1 266.3 368.8 267.1 368.4 267.9 369.0 268.7 368.2 269.4 367.7 270.2 368.9 271.1 370.5 272.0 370.2 272.5 369.6 272.9 370.2 273.4 371.6 273.9 371.8 274.4 371.9 275.0 373.4 275.5 373.5 276.0 373.8 276.4 374.5 276.8 375.2 277.2 376.4 277.6 375.5 278.0 376.7 278.4 377.3 278.8 376.9 279.2 378.3 279.6 378.3 280.0 380.0 280.4 380.4 280.8 381.3 281.2 381.9 281.6 381.4 282.1 382.9 282.5 383.8 282.9 384.7 283.3 384.8 283.7 385.0 284.1 386.1 284.5 387.3 285.0 387.3 285.4 386.7 285.9 388.6 286.4 389.0 286.9 389.5 287.4 389.9 287.8 390.8 288.3 391.4 288.8 391.1 289.2 393.1 289.6 393.0 290.1 393.7 290.5 394.2 290.9 395.9 291.3 396.2 291.7 397.1 292.2 396.6 292.6 396.6 293.0 397.8 293.5 399.3 294.0 400.0 294.4 399.3 294.9 401.2 295.4 400.2 295.9 401.5 296.3 402.2 296.8 403.6 297.3 402.1 297.8 402.9 298.4 402.9 298.9 404.2 299.4 404.0 299.9 405.9 300.4 405.4 301.0 406.1 301.5 408.2 302.1 407.7 302.7 407.5 303.3 408.5 303.9 408.9 304.5 409.6 305.1 408.8 305.8 409.7 306.5 409.9 307.2 410.1 307.9 410.2 308.7 411.3 309.4 411.5 310.2 410.4 311.0 411.1 311.7 411.7 312.4 412.5 313.2 412.3 313.9 412.9 314.7 412.5 315.5 412.5 316.2 413.1 317.0 414.0" fill="none" stroke="#111" stroke-width="1.1" stroke-linejoin="round" />
<path d="M214.1 282.8L214.3 283.6 214.6 283.8 214.8 285.7 215.0 285.7 215.2 287.5 215.5 288.3 215.7 287.7 215.9 290.0 216.1 288.5 216.3 288.8 216.5 290.0 216.7 291.0 217.0 292.8 217.2 294.7 217.4 293.2 217.6 294.8 217.8 295.5 218.1 296.4 218.3 296.9 218.5 298.0 218.8 297.9 219.0 298.5 219.3 299.0 219.5 300.8 219.9 299.6 220.2 300.9 220.6 300.7 221.0 301.7 221.4 302.9 222.0 304.2 222.5 303.2 223.0 305.6 223.6 304.3 224.2 306.0 224.8 307.3 225.4 305.9 226.1 307.8 226.8 306.9 227.4 306.9 227.9 307.5 228.5 308.2 229.1 307.9 229.7 310.0 230.3 309.4 230.9 310.6 231.6 309.3 232.3 309.4 233.0 310.7 233.6 310.1 234.2 310.6 234.8 312.5 235.5 312.1 236.2 311.0 236.9 313.7 237.6 312.2 238.3 313.9 238.9 313.0 239.6 313.3 240.2 312.8 240.8 314.1 241.3 314.4 242.1 315.1 242.9 315.7 243.5 313.8 244.1 315.0 244.7 315.7 245.3 317.6 246.0 317.2 246.6 316.6 247.3 317.8 248.0 316.8 248.7 318.4 249.4 319.2 250.1 318.7 250.8 319.3 251.5 319.4 252.1 319.3 252.9 320.2 253.6 320.0 254.2 319.6 254.9 320.3 255.6 320.2 256.3 321.0 257.0 321.2 257.7 319.7 258.5 321.8 259.3 322.0 260.1 322.2 260.8 321.5 261.6 321.3 262.3 322.2 263.0 321.8 263.9 322.4 264.8 321.3 265.5 322.6 266.3 322.4 267.0 322.0 267.7 324.9 268.4 322.6 269.1 322.9 269.7 322.6 270.3 323.7 270.9 322.8 271.4 325.0 272.0 325.6 272.5 326.6 273.0 327.7 273.4 327.1 273.7 327.9 274.1 327.9 274.5 328.5 274.8 329.7 275.2 330.0 275.5 330.0 275.8 330.5 276.0 331.8 276.3 331.9 276.5 333.7 276.8 335.2 277.1 334.7 277.5 336.2 277.8 337.2 278.2 336.1 278.6 337.8 279.0 338.8 279.5 338.5 279.9 338.4 280.4 341.8 280.9 339.7 281.5 340.1 282.0 342.3 282.4 342.0 282.9 343.0 283.4 343.4 283.9 343.5 284.4 344.6 284.9 345.6 285.4 347.3 285.9 345.9 286.4 346.9 286.9 348.2 287.4 346.6 287.9 348.0 288.4 348.1 288.9 348.9 289.5 348.5 290.0 351.6 290.5 351.3 291.0 350.7 291.5 352.4 292.0 351.1 292.5 350.9 293.0 351.8 293.5 353.9 294.0 354.2 294.5 353.9 295.0 357.3 295.5 356.0 295.9 357.0 296.4 356.8 296.9 356.1 297.4 358.4 297.8 358.9 298.3 357.5 298.8 358.1 299.3 359.4 299.8 361.1 300.3 360.7 300.8 360.8 301.4 360.6 301.9 361.7 302.4 363.2 303.0 363.6 303.5 363.3 304.0 363.5 304.5 364.3 305.0 365.1 305.5 365.4 306.1 366.6 306.6 366.9 307.1 367.1 307.7 367.0 308.2 367.2 308.7 368.4 309.2 368.6 309.6 369.9 310.1 370.5 310.8 370.9 311.5 370.0 312.2 372.7 312.8 372.4 313.4 372.6 314.0 371.9 314.7 373.5 315.4 373.3 316.1 374.5 316.7 374.8 317.4 375.6" fill="none" stroke="#111" stroke-width="1.05" stroke-linejoin="round" />
<path d="M217.8 303.6L218.2 304.5 218.6 305.5 219.0 306.4 219.4 307.3 219.8 308.3 220.2 309.2 220.6 310.1 221.0 311.0 221.5 312.0 222.0 313.0 222.5 314.1 223.0 315.1 223.5 316.1 224.0 317.0 224.5 318.0 225.0 318.9 225.5 319.9 226.0 320.8 226.5 321.7 227.0 322.6 227.5 323.5 228.0 324.3 228.6 325.2 229.2 326.1 229.8 326.9 230.4 327.7 231.0 328.6 231.7 329.4 232.4 330.3 233.1 331.1 233.8 332.0 234.6 332.8 235.3 333.7 236.0 334.5 236.7 335.3 237.3 336.0 237.9 336.7 238.6 337.5 239.2 338.2 240.0 339.0 240.7 339.7 241.5 340.5 242.2 341.2 243.0 342.0 243.9 342.8 244.7 343.6 245.5 344.3 246.3 345.0 247.1 345.7 248.0 346.4 248.8 347.0 249.7 347.7 250.5 348.3 251.4 349.0 252.2 349.6 253.0 350.2 253.8 350.8 254.6 351.3 255.5 351.9 256.3 352.5 257.2 353.1 258.0 353.6 258.9 354.1 259.7 354.6 260.6 355.2 261.5 355.7 262.4 356.1 263.2 356.6 264.1 357.1 265.0 357.6 266.0 358.1 267.0 358.7 268.0 359.2 269.0 359.8 270.0 360.3 271.0 360.8 272.0 361.3 273.0 361.8 274.0 362.3 274.9 362.7 275.9 363.2 276.9 363.6 277.9 364.1 279.0 364.5 280.0 364.9 280.9 365.3 281.9 365.7 282.9 366.0 284.0 366.4 285.0 366.8 286.0 367.2 287.0 367.5 288.0 367.8 289.0 368.2 289.9 368.5 290.9 368.8 291.9 369.1 292.9 369.4 293.9 369.7 295.0 370.0 295.9 370.2 296.8 370.5 297.8 370.7 298.8 371.0 299.8 371.2 300.8 371.4 301.8 371.7 302.9 371.9 303.9 372.1 305.0 372.3 306.0 372.5 307.0 372.6 308.1 372.8 309.1 372.9 310.2 373.1 311.3 373.2 312.4 373.3 313.5 373.5 314.5 373.6 315.6 373.8 316.7 373.9" fill="none" stroke="#c87852" stroke-width="1.2" stroke-dasharray="3 2.2"/>
<line x1="205.8" y1="286.4" x2="205.8" y2="417.8" stroke="#2a2a2a" stroke-width="1.1"/>
<line x1="205.3" y1="417.3" x2="318.2" y2="417.3" stroke="#2a2a2a" stroke-width="1.1"/>
<line x1="207.589" y1="417.3" x2="207.589" y2="420.1" stroke="#2a2a2a" stroke-width="0.9"/>
<line x1="210.026" y1="417.3" x2="210.026" y2="420.1" stroke="#2a2a2a" stroke-width="0.9"/>
<line x1="212.463" y1="417.3" x2="212.463" y2="420.1" stroke="#2a2a2a" stroke-width="0.9"/>
<line x1="214.9" y1="417.3" x2="214.9" y2="423.1" stroke="#2a2a2a" stroke-width="0.9"/>
<line x1="217.33700000000002" y1="417.3" x2="217.33700000000002" y2="420.1" stroke="#2a2a2a" stroke-width="0.9"/>
<line x1="219.774" y1="417.3" x2="219.774" y2="420.1" stroke="#2a2a2a" stroke-width="0.9"/>
<line x1="222.211" y1="417.3" x2="222.211" y2="420.1" stroke="#2a2a2a" stroke-width="0.9"/>
<line x1="224.648" y1="417.3" x2="224.648" y2="420.1" stroke="#2a2a2a" stroke-width="0.9"/>
<line x1="227.085" y1="417.3" x2="227.085" y2="420.1" stroke="#2a2a2a" stroke-width="0.9"/>
<line x1="229.522" y1="417.3" x2="229.522" y2="420.1" stroke="#2a2a2a" stroke-width="0.9"/>
<line x1="231.959" y1="417.3" x2="231.959" y2="420.1" stroke="#2a2a2a" stroke-width="0.9"/>
<line x1="234.39600000000002" y1="417.3" x2="234.39600000000002" y2="420.1" stroke="#2a2a2a" stroke-width="0.9"/>
<line x1="236.833" y1="417.3" x2="236.833" y2="420.1" stroke="#2a2a2a" stroke-width="0.9"/>
<line x1="239.27" y1="417.3" x2="239.27" y2="420.1" stroke="#2a2a2a" stroke-width="0.9"/>
<line x1="241.707" y1="417.3" x2="241.707" y2="423.1" stroke="#2a2a2a" stroke-width="0.9"/>
<line x1="244.144" y1="417.3" x2="244.144" y2="420.1" stroke="#2a2a2a" stroke-width="0.9"/>
<line x1="246.58100000000002" y1="417.3" x2="246.58100000000002" y2="420.1" stroke="#2a2a2a" stroke-width="0.9"/>
<line x1="249.018" y1="417.3" x2="249.018" y2="420.1" stroke="#2a2a2a" stroke-width="0.9"/>
<line x1="251.455" y1="417.3" x2="251.455" y2="420.1" stroke="#2a2a2a" stroke-width="0.9"/>
<line x1="253.892" y1="417.3" x2="253.892" y2="420.1" stroke="#2a2a2a" stroke-width="0.9"/>
<line x1="256.329" y1="417.3" x2="256.329" y2="420.1" stroke="#2a2a2a" stroke-width="0.9"/>
<line x1="258.766" y1="417.3" x2="258.766" y2="420.1" stroke="#2a2a2a" stroke-width="0.9"/>
<line x1="261.203" y1="417.3" x2="261.203" y2="420.1" stroke="#2a2a2a" stroke-width="0.9"/>
<line x1="263.64" y1="417.3" x2="263.64" y2="420.1" stroke="#2a2a2a" stroke-width="0.9"/>
<line x1="266.077" y1="417.3" x2="266.077" y2="420.1" stroke="#2a2a2a" stroke-width="0.9"/>
<line x1="268.514" y1="417.3" x2="268.514" y2="423.1" stroke="#2a2a2a" stroke-width="0.9"/>
<line x1="270.951" y1="417.3" x2="270.951" y2="420.1" stroke="#2a2a2a" stroke-width="0.9"/>
<line x1="273.38800000000003" y1="417.3" x2="273.38800000000003" y2="420.1" stroke="#2a2a2a" stroke-width="0.9"/>
<line x1="275.825" y1="417.3" x2="275.825" y2="420.1" stroke="#2a2a2a" stroke-width="0.9"/>
<line x1="278.262" y1="417.3" x2="278.262" y2="420.1" stroke="#2a2a2a" stroke-width="0.9"/>
<line x1="280.699" y1="417.3" x2="280.699" y2="420.1" stroke="#2a2a2a" stroke-width="0.9"/>
<line x1="283.13599999999997" y1="417.3" x2="283.13599999999997" y2="420.1" stroke="#2a2a2a" stroke-width="0.9"/>
<line x1="285.573" y1="417.3" x2="285.573" y2="420.1" stroke="#2a2a2a" stroke-width="0.9"/>
<line x1="288.01" y1="417.3" x2="288.01" y2="420.1" stroke="#2a2a2a" stroke-width="0.9"/>
<line x1="290.447" y1="417.3" x2="290.447" y2="420.1" stroke="#2a2a2a" stroke-width="0.9"/>
<line x1="292.884" y1="417.3" x2="292.884" y2="420.1" stroke="#2a2a2a" stroke-width="0.9"/>
<line x1="295.321" y1="417.3" x2="295.321" y2="423.1" stroke="#2a2a2a" stroke-width="0.9"/>
<line x1="297.758" y1="417.3" x2="297.758" y2="420.1" stroke="#2a2a2a" stroke-width="0.9"/>
<line x1="300.195" y1="417.3" x2="300.195" y2="420.1" stroke="#2a2a2a" stroke-width="0.9"/>
<line x1="302.632" y1="417.3" x2="302.632" y2="420.1" stroke="#2a2a2a" stroke-width="0.9"/>
<line x1="305.069" y1="417.3" x2="305.069" y2="420.1" stroke="#2a2a2a" stroke-width="0.9"/>
<line x1="307.506" y1="417.3" x2="307.506" y2="420.1" stroke="#2a2a2a" stroke-width="0.9"/>
<line x1="309.943" y1="417.3" x2="309.943" y2="420.1" stroke="#2a2a2a" stroke-width="0.9"/>
<line x1="312.38" y1="417.3" x2="312.38" y2="420.1" stroke="#2a2a2a" stroke-width="0.9"/>
<line x1="314.817" y1="417.3" x2="314.817" y2="420.1" stroke="#2a2a2a" stroke-width="0.9"/>
<line x1="317.254" y1="417.3" x2="317.254" y2="420.1" stroke="#2a2a2a" stroke-width="0.9"/>
<text x="241.7" y="297.6" font-size="19.8" fill="#151515" font-family="'Liberation Sans', Arial, sans-serif" textLength="25.6" lengthAdjust="spacingAndGlyphs">(d)</text>
<text x="256" y="313.4" font-size="12.6" fill="#e8305a" font-family="'Liberation Serif', 'Times New Roman', serif" stroke="#e8305a" stroke-width="0.32">q<tspan font-size="7.5" dy="2.5">||</tspan><tspan dy="-2.5">≈0.09 Å</tspan><tspan font-size="10" dy="-6">-1</tspan></text>
<text transform="translate(198.3 350.3) rotate(-90)" font-size="10" textLength="96" lengthAdjust="spacingAndGlyphs" text-anchor="middle" fill="#151515" font-family="'Liberation Sans', Arial, sans-serif" stroke="#151515" stroke-width="0.32">Intensity [Arb. Units]</text>
<text x="214.5" y="435.6" font-size="8.4" text-anchor="middle" fill="#151515" font-family="'Liberation Sans', Arial, sans-serif" stroke="#151515" stroke-width="0.32">80</text>
<text x="241.0" y="435.6" font-size="8.4" text-anchor="middle" fill="#151515" font-family="'Liberation Sans', Arial, sans-serif" stroke="#151515" stroke-width="0.32">120</text>
<text x="267.5" y="435.6" font-size="8.4" text-anchor="middle" fill="#151515" font-family="'Liberation Sans', Arial, sans-serif" stroke="#151515" stroke-width="0.32">160</text>
<text x="294.0" y="435.6" font-size="8.4" text-anchor="middle" fill="#151515" font-family="'Liberation Sans', Arial, sans-serif" stroke="#151515" stroke-width="0.32">200</text>
<text x="216.8" y="448.5" font-size="10.5" fill="#151515" font-family="'Liberation Sans', Arial, sans-serif" stroke="#151515" stroke-width="0.32">Energy Loss [meV]</text>
<defs><linearGradient id="h0"><stop offset=".0019" stop-color="#000000"/><stop offset=".5264" stop-color="#000001"/><stop offset=".5302" stop-color="#000006"/><stop offset=".534" stop-color="#01022e"/><stop offset=".5377" stop-color="#172ff0"/><stop offset=".5415" stop-color="#ed41b9"/><stop offset=".5453" stop-color="#ff2d29"/><stop offset=".5491" stop-color="#ff2929"/><stop offset=".5528" stop-color="#c450ea"/><stop offset=".5566" stop-color="#0e1fd6"/><stop offset=".5604" stop-color="#00001a"/><stop offset=".5679" stop-color="#0914a6"/><stop offset=".5717" stop-color="#0c1cc9"/><stop offset=".5792" stop-color="#0e1fd7"/><stop offset=".6358" stop-color="#1126e9"/><stop offset=".9943" stop-color="#203dfb"/><stop offset=".9981" stop-color="#1025e8"/></linearGradient>
<linearGradient id="h1"><stop offset=".0019" stop-color="#000000"/><stop offset=".5264" stop-color="#000003"/><stop offset=".5302" stop-color="#000017"/><stop offset=".534" stop-color="#0d1ecf"/><stop offset=".5377" stop-color="#ef40b7"/><stop offset=".5415" stop-color="#f2ee9b"/><stop offset=".5453" stop-color="#fefefa"/><stop offset=".5491" stop-color="#fd7c4c"/><stop offset=".5528" stop-color="#6967fc"/><stop offset=".5566" stop-color="#040973"/><stop offset=".5604" stop-color="#03054f"/><stop offset=".5642" stop-color="#0b19bb"/><stop offset=".5679" stop-color="#142aec"/><stop offset=".583" stop-color="#1b35f5"/><stop offset=".734" stop-color="#2e4cff"/><stop offset=".9943" stop-color="#4462ff"/><stop offset=".9981" stop-color="#203dfb"/></linearGradient>
<linearGradient id="h2"><stop offset=".0019" stop-color="#000000"/><stop offset=".5226" stop-color="#000001"/><stop offset=".5264" stop-color="#00000b"/><stop offset=".5302" stop-color="#040764"/><stop offset=".534" stop-color="#4b64ff"/><stop offset=".5377" stop-color="#ff3d2a"/><stop offset=".5415" stop-color="#fdfef5"/><stop offset=".5453" stop-color="#f2f5ac"/><stop offset=".5491" stop-color="#fc3489"/><stop offset=".5528" stop-color="#1126e8"/><stop offset=".5566" stop-color="#000022"/><stop offset=".5604" stop-color="#060e8c"/><stop offset=".5642" stop-color="#0f23e5"/><stop offset=".5717" stop-color="#1a33f3"/><stop offset=".7189" stop-color="#2c4aff"/><stop offset=".9943" stop-color="#4462ff"/><stop offset=".9981" stop-color="#203cfb"/></linearGradient>
<linearGradient id="h3"><stop offset=".0019" stop-color="#000000"/><stop offset=".5226" stop-color="#000005"/><stop offset=".5264" stop-color="#000020"/><stop offset=".5302" stop-color="#152ced"/><stop offset=".534" stop-color="#fe2f74"/><stop offset=".5377" stop-color="#f3f6b2"/><stop offset=".5415" stop-color="#fdfdf1"/><stop offset=".5453" stop-color="#ff382a"/><stop offset=".5491" stop-color="#4260ff"/><stop offset=".5528" stop-color="#03065a"/><stop offset=".5566" stop-color="#03075c"/><stop offset=".5604" stop-color="#0c1bc4"/><stop offset=".5642" stop-color="#142bed"/><stop offset=".5906" stop-color="#1c37f7"/><stop offset=".7604" stop-color="#314fff"/><stop offset=".9943" stop-color="#4361ff"/><stop offset=".9981" stop-color="#203cfb"/></linearGradient>
<linearGradient id="h4"><stop offset=".0019" stop-color="#000000"/><stop offset=".5189" stop-color="#000002"/><stop offset=".5226" stop-color="#00000f"/><stop offset=".5264" stop-color="#060b83"/><stop offset=".5302" stop-color="#7469fa"/><stop offset=".534" stop-color="#fd8450"/><stop offset=".5377" stop-color="#fdfef5"/><stop offset=".5415" stop-color="#f3ea97"/><stop offset=".5453" stop-color="#e942be"/><stop offset=".5491" stop-color="#0c1cca"/><stop offset=".5528" stop-color="#010230"/><stop offset=".5566" stop-color="#08119a"/><stop offset=".5604" stop-color="#1025e7"/><stop offset=".5679" stop-color="#1933f3"/><stop offset=".7226" stop-color="#2c4aff"/><stop offset=".9943" stop-color="#4361ff"/><stop offset=".9981" stop-color="#203cfb"/></linearGradient>
<linearGradient id="h5"><stop offset=".0019" stop-color="#000000"/><stop offset=".5151" stop-color="#000001"/><stop offset=".5189" stop-color="#000007"/><stop offset=".5226" stop-color="#010337"/><stop offset=".5264" stop-color="#203dfb"/><stop offset=".5302" stop-color="#ff233e"/><stop offset=".534" stop-color="#f7f9d0"/><stop offset=".5377" stop-color="#fbfce7"/><stop offset=".5415" stop-color="#ff2929"/><stop offset=".5453" stop-color="#314fff"/><stop offset=".5491" stop-color="#020448"/><stop offset=".5528" stop-color="#040868"/><stop offset=".5566" stop-color="#0d1dcc"/><stop offset=".5604" stop-color="#152ced"/><stop offset=".6019" stop-color="#1e39f8"/><stop offset=".8434" stop-color="#3856ff"/><stop offset=".9943" stop-color="#4361ff"/><stop offset=".9981" stop-color="#1f3cfa"/></linearGradient>
<linearGradient id="h6"><stop offset=".0019" stop-color="#000000"/><stop offset=".5151" stop-color="#000003"/><stop offset=".5189" stop-color="#000014"/><stop offset=".5226" stop-color="#0a16b0"/><stop offset=".5264" stop-color="#c250eb"/><stop offset=".5302" stop-color="#f7d987"/><stop offset=".534" stop-color="#ffffff"/><stop offset=".5377" stop-color="#f6e18d"/><stop offset=".5415" stop-color="#c74ee6"/><stop offset=".5453" stop-color="#0a16af"/><stop offset=".5491" stop-color="#02033c"/><stop offset=".5528" stop-color="#0913a4"/><stop offset=".5566" stop-color="#1126e8"/><stop offset=".5642" stop-color="#1932f3"/><stop offset=".7226" stop-color="#2c4aff"/><stop offset=".9943" stop-color="#4260ff"/><stop offset=".9981" stop-color="#1f3bfa"/></linearGradient>
<linearGradient id="h7"><stop offset=".0019" stop-color="#000000"/><stop offset=".5113" stop-color="#000001"/><stop offset=".5151" stop-color="#000009"/><stop offset=".5189" stop-color="#03054f"/><stop offset=".5226" stop-color="#3250ff"/><stop offset=".5264" stop-color="#ff2528"/><stop offset=".5302" stop-color="#fafbde"/><stop offset=".534" stop-color="#f8fad2"/><stop offset=".5377" stop-color="#ff2134"/><stop offset=".5415" stop-color="#2240fe"/><stop offset=".5453" stop-color="#010339"/><stop offset=".5491" stop-color="#050974"/><stop offset=".5528" stop-color="#0d1fd3"/><stop offset=".5566" stop-color="#152cee"/><stop offset=".6698" stop-color="#2442ff"/><stop offset=".9943" stop-color="#4260ff"/><stop offset=".9981" stop-color="#1f3bfa"/></linearGradient>
<linearGradient id="h8"><stop offset=".0019" stop-color="#000000"/><stop offset=".5113" stop-color="#000004"/><stop offset=".5151" stop-color="#00001b"/><stop offset=".5189" stop-color="#0e21de"/><stop offset=".5226" stop-color="#f43eb1"/><stop offset=".5264" stop-color="#f2ec99"/><stop offset=".5302" stop-color="#fffffd"/><stop offset=".534" stop-color="#fbab67"/><stop offset=".5377" stop-color="#8f61f5"/><stop offset=".5415" stop-color="#070f90"/><stop offset=".5453" stop-color="#020447"/><stop offset=".5491" stop-color="#0a16ae"/><stop offset=".5528" stop-color="#1227e9"/><stop offset=".5642" stop-color="#1a33f3"/><stop offset=".734" stop-color="#2c4aff"/><stop offset=".9943" stop-color="#415fff"/><stop offset=".9981" stop-color="#1f3bfa"/></linearGradient>
<linearGradient id="h9"><stop offset=".0019" stop-color="#000000"/><stop offset=".5075" stop-color="#000001"/><stop offset=".5113" stop-color="#00000d"/><stop offset=".5151" stop-color="#04086c"/><stop offset=".5189" stop-color="#4d65fe"/><stop offset=".5226" stop-color="#ff392a"/><stop offset=".5264" stop-color="#fdfdf1"/><stop offset=".5302" stop-color="#f5f8c1"/><stop offset=".534" stop-color="#ff2855"/><stop offset=".5377" stop-color="#1b35f5"/><stop offset=".5415" stop-color="#01012b"/><stop offset=".5453" stop-color="#050b7f"/><stop offset=".5491" stop-color="#0e20da"/><stop offset=".5528" stop-color="#162dee"/><stop offset=".7" stop-color="#2846ff"/><stop offset=".9943" stop-color="#415fff"/><stop offset=".9981" stop-color="#1f3bfa"/></linearGradient>
<linearGradient id="h10"><stop offset=".0019" stop-color="#000000"/><stop offset=".5038" stop-color="#000001"/><stop offset=".5075" stop-color="#000006"/><stop offset=".5113" stop-color="#010129"/><stop offset=".5151" stop-color="#1830f1"/><stop offset=".5189" stop-color="#fe2e72"/><stop offset=".5226" stop-color="#f2f5ab"/><stop offset=".5264" stop-color="#fdfef5"/><stop offset=".5302" stop-color="#fe5e3c"/><stop offset=".534" stop-color="#6667fc"/><stop offset=".5377" stop-color="#050a7b"/><stop offset=".5415" stop-color="#030552"/><stop offset=".5453" stop-color="#0b18b7"/><stop offset=".5491" stop-color="#1228ea"/><stop offset=".5642" stop-color="#1a33f3"/><stop offset=".7415" stop-color="#2d4bff"/><stop offset=".9943" stop-color="#415fff"/><stop offset=".9981" stop-color="#1f3afa"/></linearGradient>
<linearGradient id="h11"><stop offset=".0019" stop-color="#000000"/><stop offset=".5038" stop-color="#000002"/><stop offset=".5075" stop-color="#000011"/><stop offset=".5113" stop-color="#070e8e"/><stop offset=".5151" stop-color="#7d67f9"/><stop offset=".5189" stop-color="#fd8752"/><stop offset=".5226" stop-color="#fefefb"/><stop offset=".5264" stop-color="#f1f5a7"/><stop offset=".5302" stop-color="#fd3282"/><stop offset=".534" stop-color="#142aec"/><stop offset=".5377" stop-color="#000127"/><stop offset=".5415" stop-color="#060d8c"/><stop offset=".5453" stop-color="#0e21df"/><stop offset=".5491" stop-color="#162dee"/><stop offset=".7113" stop-color="#2947ff"/><stop offset=".9943" stop-color="#405eff"/><stop offset=".9981" stop-color="#1e3af9"/></linearGradient>
<linearGradient id="h12"><stop offset=".0019" stop-color="#000000"/><stop offset=".5" stop-color="#000001"/><stop offset=".5038" stop-color="#000008"/><stop offset=".5075" stop-color="#020441"/><stop offset=".5113" stop-color="#2341ff"/><stop offset=".5151" stop-color="#ff233f"/><stop offset=".5189" stop-color="#f6f8c7"/><stop offset=".5226" stop-color="#fbfce9"/><stop offset=".5264" stop-color="#ff3429"/><stop offset=".5302" stop-color="#4864ff"/><stop offset=".534" stop-color="#040868"/><stop offset=".5377" stop-color="#03075d"/><stop offset=".5415" stop-color="#0b1abf"/><stop offset=".5453" stop-color="#1329eb"/><stop offset=".5679" stop-color="#1a34f4"/><stop offset=".7491" stop-color="#2d4bff"/><stop offset=".9943" stop-color="#405eff"/><stop offset=".9981" stop-color="#1e3af9"/></linearGradient>
<linearGradient id="h13"><stop offset=".0019" stop-color="#000000"/><stop offset=".5" stop-color="#000003"/><stop offset=".5038" stop-color="#000017"/><stop offset=".5075" stop-color="#0b19bb"/><stop offset=".5113" stop-color="#c350eb"/><stop offset=".5151" stop-color="#f8cc7e"/><stop offset=".5189" stop-color="#fffffe"/><stop offset=".5226" stop-color="#f3eb98"/><stop offset=".5264" stop-color="#f23fb4"/><stop offset=".5302" stop-color="#0e21dc"/><stop offset=".534" stop-color="#010233"/><stop offset=".5377" stop-color="#071097"/><stop offset=".5415" stop-color="#0f22e4"/><stop offset=".5491" stop-color="#1830f1"/><stop offset=".7377" stop-color="#2b49ff"/><stop offset=".9943" stop-color="#3f5dff"/><stop offset=".9981" stop-color="#1e3af9"/></linearGradient>
<linearGradient id="h14"><stop offset=".0019" stop-color="#000000"/><stop offset=".4962" stop-color="#000001"/><stop offset=".5" stop-color="#00000b"/><stop offset=".5038" stop-color="#03075d"/><stop offset=".5075" stop-color="#3a58ff"/><stop offset=".5113" stop-color="#ff2829"/><stop offset=".5151" stop-color="#fafbdd"/><stop offset=".5189" stop-color="#f9fbda"/><stop offset=".5226" stop-color="#ff2528"/><stop offset=".5264" stop-color="#3654ff"/><stop offset=".5302" stop-color="#030656"/><stop offset=".534" stop-color="#04086a"/><stop offset=".5377" stop-color="#0c1cc7"/><stop offset=".5415" stop-color="#1329eb"/><stop offset=".5755" stop-color="#1b35f5"/><stop offset=".7642" stop-color="#2d4bff"/><stop offset=".9943" stop-color="#3f5dff"/><stop offset=".9981" stop-color="#1e39f9"/></linearGradient>
<linearGradient id="h15"><stop offset=".0019" stop-color="#000000"/><stop offset=".4962" stop-color="#000005"/><stop offset=".5" stop-color="#00001e"/><stop offset=".5038" stop-color="#1025e7"/><stop offset=".5075" stop-color="#f73dae"/><stop offset=".5113" stop-color="#f3ea97"/><stop offset=".5151" stop-color="#fffffe"/><stop offset=".5189" stop-color="#f7d886"/><stop offset=".5226" stop-color="#cb4de1"/><stop offset=".5264" stop-color="#0b19be"/><stop offset=".5302" stop-color="#02033d"/><stop offset=".534" stop-color="#0812a0"/><stop offset=".5377" stop-color="#0f23e6"/><stop offset=".5491" stop-color="#1831f1"/><stop offset=".7491" stop-color="#2b49ff"/><stop offset=".9943" stop-color="#3f5dff"/><stop offset=".9981" stop-color="#1e39f8"/></linearGradient>
<linearGradient id="h16"><stop offset=".0019" stop-color="#000000"/><stop offset=".4925" stop-color="#000002"/><stop offset=".4962" stop-color="#000010"/><stop offset=".5" stop-color="#050b80"/><stop offset=".5038" stop-color="#5e66fd"/><stop offset=".5075" stop-color="#ff3b2a"/><stop offset=".5113" stop-color="#fcfded"/><stop offset=".5151" stop-color="#f6f8c5"/><stop offset=".5189" stop-color="#ff223c"/><stop offset=".5226" stop-color="#2644ff"/><stop offset=".5264" stop-color="#020445"/><stop offset=".5302" stop-color="#050976"/><stop offset=".534" stop-color="#0d1dcd"/><stop offset=".5377" stop-color="#1329eb"/><stop offset=".6283" stop-color="#1f3cfa"/><stop offset=".9943" stop-color="#3e5cff"/><stop offset=".9981" stop-color="#1e39f8"/></linearGradient>
<linearGradient id="h17"><stop offset=".0019" stop-color="#000000"/><stop offset=".4887" stop-color="#000001"/><stop offset=".4925" stop-color="#000007"/><stop offset=".4962" stop-color="#010337"/><stop offset=".5" stop-color="#1c36f6"/><stop offset=".5038" stop-color="#ff2c66"/><stop offset=".5075" stop-color="#f2f5ab"/><stop offset=".5113" stop-color="#fefffb"/><stop offset=".5151" stop-color="#fca15f"/><stop offset=".5189" stop-color="#995ef3"/><stop offset=".5226" stop-color="#0813a1"/><stop offset=".5264" stop-color="#02054a"/><stop offset=".5302" stop-color="#0915ab"/><stop offset=".534" stop-color="#1024e7"/><stop offset=".5453" stop-color="#1830f1"/><stop offset=".7566" stop-color="#2b49ff"/><stop offset=".9943" stop-color="#3e5cff"/><stop offset=".9981" stop-color="#1d39f8"/></linearGradient>
<linearGradient id="h18"><stop offset=".0019" stop-color="#000000"/><stop offset=".4887" stop-color="#000003"/><stop offset=".4925" stop-color="#000016"/><stop offset=".4962" stop-color="#0915ac"/><stop offset=".5" stop-color="#9b5df3"/><stop offset=".5038" stop-color="#fc9258"/><stop offset=".5075" stop-color="#fdfef5"/><stop offset=".5113" stop-color="#f1f5a7"/><stop offset=".5151" stop-color="#ff2b62"/><stop offset=".5189" stop-color="#1c37f7"/><stop offset=".5226" stop-color="#010235"/><stop offset=".5264" stop-color="#050b81"/><stop offset=".5302" stop-color="#0d1ed3"/><stop offset=".534" stop-color="#132aeb"/><stop offset=".7264" stop-color="#2745ff"/><stop offset=".9943" stop-color="#3d5bff"/><stop offset=".9981" stop-color="#1d38f8"/></linearGradient>
<linearGradient id="h19"><stop offset=".0019" stop-color="#000000"/><stop offset=".4849" stop-color="#000001"/><stop offset=".4887" stop-color="#00000b"/><stop offset=".4925" stop-color="#030656"/><stop offset=".4962" stop-color="#2f4dff"/><stop offset=".5" stop-color="#ff202f"/><stop offset=".5038" stop-color="#f7f9ce"/><stop offset=".5075" stop-color="#fdfef4"/><stop offset=".5113" stop-color="#fe5236"/><stop offset=".5151" stop-color="#6867fc"/><stop offset=".5189" stop-color="#060c85"/><stop offset=".5226" stop-color="#030658"/><stop offset=".5264" stop-color="#0a17b4"/><stop offset=".5302" stop-color="#1025e8"/><stop offset=".5491" stop-color="#1830f1"/><stop offset=".7717" stop-color="#2c4aff"/><stop offset=".9943" stop-color="#3d5bff"/><stop offset=".9981" stop-color="#1d38f8"/></linearGradient>
<linearGradient id="h20"><stop offset=".0019" stop-color="#000000"/><stop offset=".4811" stop-color="#000001"/><stop offset=".4849" stop-color="#000005"/><stop offset=".4887" stop-color="#00001e"/><stop offset=".4925" stop-color="#0e21dd"/><stop offset=".4962" stop-color="#dc47cd"/><stop offset=".5" stop-color="#f7d282"/><stop offset=".5038" stop-color="#fefef7"/><stop offset=".5075" stop-color="#f3eb98"/><stop offset=".5113" stop-color="#fb3898"/><stop offset=".5151" stop-color="#142bed"/><stop offset=".5189" stop-color="#010230"/><stop offset=".5226" stop-color="#070e8d"/><stop offset=".5264" stop-color="#0e20d8"/><stop offset=".5302" stop-color="#1329eb"/><stop offset=".7453" stop-color="#2846ff"/><stop offset=".9943" stop-color="#3c5aff"/><stop offset=".9981" stop-color="#1d38f7"/></linearGradient>
<linearGradient id="h21"><stop offset=".0019" stop-color="#000000"/><stop offset=".4811" stop-color="#000003"/><stop offset=".4849" stop-color="#000010"/><stop offset=".4887" stop-color="#050a7c"/><stop offset=".4925" stop-color="#5065fe"/><stop offset=".4962" stop-color="#ff3229"/><stop offset=".5" stop-color="#fbfce6"/><stop offset=".5038" stop-color="#fbfce3"/><stop offset=".5075" stop-color="#ff2e29"/><stop offset=".5113" stop-color="#4361ff"/><stop offset=".5151" stop-color="#04086b"/><stop offset=".5189" stop-color="#040763"/><stop offset=".5226" stop-color="#0b19bb"/><stop offset=".5264" stop-color="#1125e8"/><stop offset=".5528" stop-color="#1830f1"/><stop offset=".783" stop-color="#2c4aff"/><stop offset=".9943" stop-color="#3c5aff"/><stop offset=".9981" stop-color="#1d38f7"/></linearGradient>
<linearGradient id="h22"><stop offset=".0019" stop-color="#000000"/><stop offset=".4774" stop-color="#000001"/><stop offset=".4811" stop-color="#000009"/><stop offset=".4849" stop-color="#02033e"/><stop offset=".4887" stop-color="#1c36f6"/><stop offset=".4925" stop-color="#fd3077"/><stop offset=".4962" stop-color="#f1f19e"/><stop offset=".5" stop-color="#fffffe"/><stop offset=".5038" stop-color="#f7da88"/><stop offset=".5075" stop-color="#dc47cd"/><stop offset=".5113" stop-color="#0e20d9"/><stop offset=".5151" stop-color="#02033b"/><stop offset=".5189" stop-color="#081098"/><stop offset=".5226" stop-color="#0e20db"/><stop offset=".5264" stop-color="#1329eb"/><stop offset=".7642" stop-color="#2947ff"/><stop offset=".9943" stop-color="#3c5aff"/><stop offset=".9981" stop-color="#1d37f7"/></linearGradient>
<linearGradient id="h23"><stop offset=".0019" stop-color="#000000"/><stop offset=".4774" stop-color="#000005"/><stop offset=".4811" stop-color="#00001a"/><stop offset=".4849" stop-color="#0b19ba"/><stop offset=".4887" stop-color="#9d5df3"/><stop offset=".4925" stop-color="#fd794a"/><stop offset=".4962" stop-color="#fcfdef"/><stop offset=".5" stop-color="#f5f8c0"/><stop offset=".5038" stop-color="#ff2137"/><stop offset=".5075" stop-color="#2d4bff"/><stop offset=".5113" stop-color="#030654"/><stop offset=".5151" stop-color="#040970"/><stop offset=".5189" stop-color="#0c1bc2"/><stop offset=".5226" stop-color="#1126e8"/><stop offset=".5868" stop-color="#1a34f4"/><stop offset=".817" stop-color="#2e4cff"/><stop offset=".9943" stop-color="#3b59ff"/><stop offset=".9981" stop-color="#1c37f7"/></linearGradient>
<linearGradient id="h24"><stop offset=".0019" stop-color="#000000"/><stop offset=".4736" stop-color="#000003"/><stop offset=".4774" stop-color="#000010"/><stop offset=".4811" stop-color="#04086d"/><stop offset=".4849" stop-color="#3856ff"/><stop offset=".4887" stop-color="#ff2032"/><stop offset=".4925" stop-color="#f5f8c2"/><stop offset=".4962" stop-color="#fefef7"/><stop offset=".5" stop-color="#fc9257"/><stop offset=".5038" stop-color="#a15bf2"/><stop offset=".5075" stop-color="#0a16b0"/><stop offset=".5113" stop-color="#020448"/><stop offset=".5151" stop-color="#0813a1"/><stop offset=".5189" stop-color="#0e21de"/><stop offset=".5226" stop-color="#1328eb"/><stop offset=".7792" stop-color="#2947ff"/><stop offset=".9943" stop-color="#3b59ff"/><stop offset=".9981" stop-color="#1c37f6"/></linearGradient>
<linearGradient id="h25"><stop offset=".0019" stop-color="#000000"/><stop offset=".4698" stop-color="#000001"/><stop offset=".4736" stop-color="#000009"/><stop offset=".4774" stop-color="#010339"/><stop offset=".4811" stop-color="#172eef"/><stop offset=".4849" stop-color="#f53eaf"/><stop offset=".4887" stop-color="#f6e08c"/><stop offset=".4925" stop-color="#fffffe"/><stop offset=".4962" stop-color="#f1f4a6"/><stop offset=".5" stop-color="#ff2a5e"/><stop offset=".5038" stop-color="#1f3cfa"/><stop offset=".5075" stop-color="#020441"/><stop offset=".5113" stop-color="#050a79"/><stop offset=".5151" stop-color="#0c1bc6"/><stop offset=".5189" stop-color="#1025e8"/><stop offset=".7642" stop-color="#2745ff"/><stop offset=".9943" stop-color="#3a58ff"/><stop offset=".9981" stop-color="#1c36f6"/></linearGradient>
<linearGradient id="h26"><stop offset=".0019" stop-color="#000000"/><stop offset=".466" stop-color="#000001"/><stop offset=".4698" stop-color="#000005"/><stop offset=".4736" stop-color="#00001a"/><stop offset=".4774" stop-color="#0a16b0"/><stop offset=".4811" stop-color="#7869fa"/><stop offset=".4849" stop-color="#ff392a"/><stop offset=".4887" stop-color="#fbfce6"/><stop offset=".4925" stop-color="#fcfce9"/><stop offset=".4962" stop-color="#ff3a2a"/><stop offset=".5" stop-color="#6b68fb"/><stop offset=".5038" stop-color="#070f93"/><stop offset=".5075" stop-color="#030551"/><stop offset=".5113" stop-color="#0914a8"/><stop offset=".5151" stop-color="#0e21de"/><stop offset=".5226" stop-color="#142aec"/><stop offset=".8057" stop-color="#2b49ff"/><stop offset=".9943" stop-color="#3a58ff"/><stop offset=".9981" stop-color="#1c36f6"/></linearGradient>
<linearGradient id="h27"><stop offset=".0019" stop-color="#000000"/><stop offset=".466" stop-color="#000003"/><stop offset=".4698" stop-color="#000010"/><stop offset=".4736" stop-color="#040869"/><stop offset=".4774" stop-color="#3250ff"/><stop offset=".4811" stop-color="#ff2548"/><stop offset=".4849" stop-color="#f1f5a9"/><stop offset=".4887" stop-color="#fffffe"/><stop offset=".4925" stop-color="#f5e491"/><stop offset=".4962" stop-color="#fa3ba4"/><stop offset=".5" stop-color="#162def"/><stop offset=".5038" stop-color="#010230"/><stop offset=".5075" stop-color="#050b82"/><stop offset=".5113" stop-color="#0c1cc9"/><stop offset=".5151" stop-color="#1025e7"/><stop offset=".7906" stop-color="#2846ff"/><stop offset=".9943" stop-color="#3957ff"/><stop offset=".9981" stop-color="#1c36f6"/></linearGradient>
<linearGradient id="h28"><stop offset=".0019" stop-color="#000000"/><stop offset=".4623" stop-color="#000002"/><stop offset=".466" stop-color="#00000b"/><stop offset=".4698" stop-color="#02033f"/><stop offset=".4736" stop-color="#172eef"/><stop offset=".4774" stop-color="#eb41bc"/><stop offset=".4811" stop-color="#f9c478"/><stop offset=".4849" stop-color="#fefef9"/><stop offset=".4887" stop-color="#f6f8c6"/><stop offset=".4925" stop-color="#ff1f28"/><stop offset=".4962" stop-color="#3f5dff"/><stop offset=".5" stop-color="#050974"/><stop offset=".5038" stop-color="#03075c"/><stop offset=".5075" stop-color="#0a15ad"/><stop offset=".5113" stop-color="#0e21de"/><stop offset=".5189" stop-color="#1328ea"/><stop offset=".8208" stop-color="#2b49ff"/><stop offset=".9943" stop-color="#3957ff"/><stop offset=".9981" stop-color="#1b36f6"/></linearGradient>
<linearGradient id="h29"><stop offset=".0019" stop-color="#000000"/><stop offset=".4585" stop-color="#000001"/><stop offset=".4623" stop-color="#000007"/><stop offset=".466" stop-color="#00001d"/><stop offset=".4698" stop-color="#0a17b5"/><stop offset=".4736" stop-color="#7268fb"/><stop offset=".4774" stop-color="#ff3229"/><stop offset=".4811" stop-color="#f8fad3"/><stop offset=".4849" stop-color="#fcfdef"/><stop offset=".4887" stop-color="#fc9157"/><stop offset=".4925" stop-color="#c250eb"/><stop offset=".4962" stop-color="#0e1fd7"/><stop offset=".5" stop-color="#010233"/><stop offset=".5038" stop-color="#060d88"/><stop offset=".5075" stop-color="#0c1cca"/><stop offset=".5113" stop-color="#0f24e6"/><stop offset=".8132" stop-color="#2947ff"/><stop offset=".9943" stop-color="#3856ff"/><stop offset=".9981" stop-color="#1b35f5"/></linearGradient>
<linearGradient id="h30"><stop offset=".0019" stop-color="#000000"/><stop offset=".4585" stop-color="#000004"/><stop offset=".4623" stop-color="#000014"/><stop offset=".466" stop-color="#050a7b"/><stop offset=".4698" stop-color="#3755ff"/><stop offset=".4736" stop-color="#ff2547"/><stop offset=".4774" stop-color="#f0f3a1"/><stop offset=".4811" stop-color="#ffffff"/><stop offset=".4849" stop-color="#f1f09e"/><stop offset=".4887" stop-color="#ff295c"/><stop offset=".4925" stop-color="#2543ff"/><stop offset=".4962" stop-color="#030655"/><stop offset=".5" stop-color="#040761"/><stop offset=".5038" stop-color="#0a16ae"/><stop offset=".5075" stop-color="#0e20db"/><stop offset=".5113" stop-color="#1025e8"/><stop offset=".8283" stop-color="#2a48ff"/><stop offset=".9943" stop-color="#3856ff"/><stop offset=".9981" stop-color="#1b35f5"/></linearGradient>
<linearGradient id="h31"><stop offset=".0019" stop-color="#000000"/><stop offset=".4547" stop-color="#000003"/><stop offset=".4585" stop-color="#00000e"/><stop offset=".4623" stop-color="#03054f"/><stop offset=".466" stop-color="#1b35f5"/><stop offset=".4698" stop-color="#f03fb5"/><stop offset=".4736" stop-color="#fab46d"/><stop offset=".4774" stop-color="#fdfdf0"/><stop offset=".4811" stop-color="#f7f9d0"/><stop offset=".4849" stop-color="#ff3129"/><stop offset=".4887" stop-color="#6c68fb"/><stop offset=".4925" stop-color="#0914a6"/><stop offset=".4962" stop-color="#01033a"/><stop offset=".5" stop-color="#060d8b"/><stop offset=".5038" stop-color="#0c1cc8"/><stop offset=".5075" stop-color="#0f22e3"/><stop offset=".8132" stop-color="#2846ff"/><stop offset=".9943" stop-color="#3755ff"/><stop offset=".9981" stop-color="#1b35f5"/></linearGradient>
<linearGradient id="h32"><stop offset=".0019" stop-color="#000000"/><stop offset=".4509" stop-color="#000002"/><stop offset=".4547" stop-color="#00000a"/><stop offset=".4585" stop-color="#01022c"/><stop offset=".4623" stop-color="#0d1fd3"/><stop offset=".466" stop-color="#9260f5"/><stop offset=".4698" stop-color="#ff382a"/><stop offset=".4736" stop-color="#f9fbda"/><stop offset=".4774" stop-color="#fefef9"/><stop offset=".4811" stop-color="#f9c378"/><stop offset=".4849" stop-color="#ef40b8"/><stop offset=".4887" stop-color="#172ff0"/><stop offset=".4925" stop-color="#02033b"/><stop offset=".4962" stop-color="#040764"/><stop offset=".5" stop-color="#0a15ad"/><stop offset=".5038" stop-color="#0e1fd6"/><stop offset=".5075" stop-color="#0f23e6"/><stop offset=".8434" stop-color="#2a48ff"/><stop offset=".9943" stop-color="#3755ff"/><stop offset=".9981" stop-color="#1b34f5"/></linearGradient>
<linearGradient id="h33"><stop offset=".0019" stop-color="#000000"/><stop offset=".4472" stop-color="#000001"/><stop offset=".4509" stop-color="#000007"/><stop offset=".4547" stop-color="#00001a"/><stop offset=".4585" stop-color="#08119a"/><stop offset=".4623" stop-color="#4664ff"/><stop offset=".466" stop-color="#ff2137"/><stop offset=".4698" stop-color="#f0f4a2"/><stop offset=".4736" stop-color="#fffffd"/><stop offset=".4774" stop-color="#f0f3a1"/><stop offset=".4811" stop-color="#ff2341"/><stop offset=".4849" stop-color="#3957ff"/><stop offset=".4887" stop-color="#050978"/><stop offset=".4925" stop-color="#02033e"/><stop offset=".4962" stop-color="#060e8c"/><stop offset=".5" stop-color="#0c1bc4"/><stop offset=".5038" stop-color="#0e21de"/><stop offset=".5113" stop-color="#1024e7"/><stop offset=".8585" stop-color="#2b49ff"/><stop offset=".9943" stop-color="#3654ff"/><stop offset=".9981" stop-color="#1a34f4"/></linearGradient>
<linearGradient id="h34"><stop offset=".0019" stop-color="#000001"/><stop offset=".4472" stop-color="#000005"/><stop offset=".4509" stop-color="#000014"/><stop offset=".4547" stop-color="#04086c"/><stop offset=".4585" stop-color="#2543ff"/><stop offset=".4623" stop-color="#fc3690"/><stop offset=".466" stop-color="#f8ca7d"/><stop offset=".4698" stop-color="#fdfef6"/><stop offset=".4736" stop-color="#f9fbdb"/><stop offset=".4774" stop-color="#ff3b2a"/><stop offset=".4811" stop-color="#955ff4"/><stop offset=".4849" stop-color="#0c1dcb"/><stop offset=".4887" stop-color="#000022"/><stop offset=".4962" stop-color="#0915ac"/><stop offset=".5" stop-color="#0d1ed2"/><stop offset=".5075" stop-color="#0f23e5"/><stop offset=".8585" stop-color="#2a48ff"/><stop offset=".9943" stop-color="#3654ff"/><stop offset=".9981" stop-color="#1a34f4"/></linearGradient>
<linearGradient id="h35"><stop offset=".0019" stop-color="#000001"/><stop offset=".4434" stop-color="#000003"/><stop offset=".4472" stop-color="#00000e"/><stop offset=".4509" stop-color="#02054a"/><stop offset=".4547" stop-color="#152cee"/><stop offset=".4585" stop-color="#c450ea"/><stop offset=".4623" stop-color="#fe5a3a"/><stop offset=".466" stop-color="#fafbe1"/><stop offset=".4698" stop-color="#fefef8"/><stop offset=".4736" stop-color="#f8ce80"/><stop offset=".4774" stop-color="#fb399d"/><stop offset=".4811" stop-color="#1e3af9"/><stop offset=".4849" stop-color="#030552"/><stop offset=".4887" stop-color="#020441"/><stop offset=".4925" stop-color="#060d8c"/><stop offset=".4962" stop-color="#0b1ac0"/><stop offset=".5" stop-color="#0e20d8"/><stop offset=".5151" stop-color="#0f23e6"/><stop offset=".8698" stop-color="#2b49ff"/><stop offset=".9943" stop-color="#3553ff"/><stop offset=".9981" stop-color="#1a34f4"/></linearGradient>
<linearGradient id="h36"><stop offset=".0019" stop-color="#000001"/><stop offset=".4396" stop-color="#000002"/><stop offset=".4434" stop-color="#00000b"/><stop offset=".4472" stop-color="#01033a"/><stop offset=".4509" stop-color="#0c1bc6"/><stop offset=".4547" stop-color="#6e68fb"/><stop offset=".4585" stop-color="#ff2629"/><stop offset=".4623" stop-color="#f3f6b6"/><stop offset=".466" stop-color="#fffffe"/><stop offset=".4698" stop-color="#f0f3a1"/><stop offset=".4736" stop-color="#ff2239"/><stop offset=".4774" stop-color="#4361ff"/><stop offset=".4811" stop-color="#070e8f"/><stop offset=".4849" stop-color="#00001e"/><stop offset=".4887" stop-color="#040869"/><stop offset=".4925" stop-color="#0914a9"/><stop offset=".4962" stop-color="#0d1dcc"/><stop offset=".5038" stop-color="#0e21de"/><stop offset=".6283" stop-color="#162eef"/><stop offset=".8887" stop-color="#2c4aff"/><stop offset=".9943" stop-color="#3553ff"/><stop offset=".9981" stop-color="#1a33f4"/></linearGradient>
<linearGradient id="h37"><stop offset=".0019" stop-color="#000001"/><stop offset=".4358" stop-color="#000002"/><stop offset=".4396" stop-color="#000008"/><stop offset=".4434" stop-color="#010235"/><stop offset=".4472" stop-color="#0a15ad"/><stop offset=".4509" stop-color="#3d5bff"/><stop offset=".4547" stop-color="#ff2854"/><stop offset=".4585" stop-color="#f4e794"/><stop offset=".4623" stop-color="#fefef8"/><stop offset=".466" stop-color="#f8fad4"/><stop offset=".4698" stop-color="#ff3b2a"/><stop offset=".4736" stop-color="#a759f1"/><stop offset=".4774" stop-color="#0f22e1"/><stop offset=".4811" stop-color="#010231"/><stop offset=".4849" stop-color="#020446"/><stop offset=".4887" stop-color="#060e8c"/><stop offset=".4925" stop-color="#0b19bc"/><stop offset=".4962" stop-color="#0d1ed1"/><stop offset=".5151" stop-color="#0e21e0"/><stop offset=".866" stop-color="#2947ff"/><stop offset=".9943" stop-color="#3452ff"/><stop offset=".9981" stop-color="#1a33f3"/></linearGradient>
<linearGradient id="h38"><stop offset=".0019" stop-color="#000001"/><stop offset=".4321" stop-color="#000001"/><stop offset=".4358" stop-color="#000006"/><stop offset=".4396" stop-color="#010232"/><stop offset=".4434" stop-color="#0913a3"/><stop offset=".4472" stop-color="#2240fe"/><stop offset=".4509" stop-color="#fa3cab"/><stop offset=".4547" stop-color="#fc9c5d"/><stop offset=".4585" stop-color="#fbfce7"/><stop offset=".4623" stop-color="#fdfef3"/><stop offset=".466" stop-color="#f9c378"/><stop offset=".4698" stop-color="#fb3899"/><stop offset=".4736" stop-color="#213efd"/><stop offset=".4774" stop-color="#030760"/><stop offset=".4811" stop-color="#000123"/><stop offset=".4849" stop-color="#04086b"/><stop offset=".4887" stop-color="#0914a6"/><stop offset=".4925" stop-color="#0c1bc6"/><stop offset=".5" stop-color="#0e1fd7"/><stop offset=".5868" stop-color="#1127e9"/><stop offset=".8887" stop-color="#2b49ff"/><stop offset=".9943" stop-color="#3452ff"/><stop offset=".9981" stop-color="#1933f3"/></linearGradient>
<linearGradient id="h39"><stop offset=".0019" stop-color="#000001"/><stop offset=".4321" stop-color="#000005"/><stop offset=".4358" stop-color="#01022f"/><stop offset=".4396" stop-color="#08119a"/><stop offset=".4434" stop-color="#162dee"/><stop offset=".4472" stop-color="#b654ee"/><stop offset=".4509" stop-color="#ff362a"/><stop offset=".4547" stop-color="#f5f8c3"/><stop offset=".4585" stop-color="#fefef9"/><stop offset=".4623" stop-color="#f1f09d"/><stop offset=".466" stop-color="#ff223b"/><stop offset=".4698" stop-color="#4664ff"/><stop offset=".4736" stop-color="#08119a"/><stop offset=".4774" stop-color="#00001a"/><stop offset=".4811" stop-color="#020449"/><stop offset=".4849" stop-color="#060d8a"/><stop offset=".4887" stop-color="#0b18b7"/><stop offset=".4925" stop-color="#0c1ccb"/><stop offset=".5189" stop-color="#0e20da"/><stop offset=".6321" stop-color="#142aec"/><stop offset=".8962" stop-color="#2b49ff"/><stop offset=".9943" stop-color="#3351ff"/><stop offset=".9981" stop-color="#1932f3"/></linearGradient>
<linearGradient id="h40"><stop offset=".0019" stop-color="#000001"/><stop offset=".4283" stop-color="#000005"/><stop offset=".4321" stop-color="#01022c"/><stop offset=".4358" stop-color="#070f93"/><stop offset=".4396" stop-color="#142aec"/><stop offset=".4434" stop-color="#6a68fb"/><stop offset=".4472" stop-color="#ff1f2d"/><stop offset=".4509" stop-color="#f2ee9c"/><stop offset=".4547" stop-color="#fdfdf1"/><stop offset=".4585" stop-color="#f5f8c0"/><stop offset=".4623" stop-color="#ff3329"/><stop offset=".466" stop-color="#9a5ef3"/><stop offset=".4698" stop-color="#0f23e5"/><stop offset=".4736" stop-color="#010337"/><stop offset=".4774" stop-color="#010129"/><stop offset=".4811" stop-color="#04086c"/><stop offset=".4849" stop-color="#0913a3"/><stop offset=".4887" stop-color="#0b1ac0"/><stop offset=".4962" stop-color="#0d1ecf"/><stop offset=".617" stop-color="#1227e9"/><stop offset=".9" stop-color="#2b49ff"/><stop offset=".9943" stop-color="#3351ff"/><stop offset=".9981" stop-color="#1932f3"/></linearGradient>
<linearGradient id="h41"><stop offset=".0019" stop-color="#000001"/><stop offset=".4245" stop-color="#000006"/><stop offset=".4283" stop-color="#01012a"/><stop offset=".4321" stop-color="#060e8c"/><stop offset=".4358" stop-color="#1227e9"/><stop offset=".4396" stop-color="#3e5cff"/><stop offset=".4434" stop-color="#fe2d6a"/><stop offset=".4472" stop-color="#f8cb7e"/><stop offset=".4509" stop-color="#fafce2"/><stop offset=".4547" stop-color="#f9fad8"/><stop offset=".4585" stop-color="#fd8c54"/><stop offset=".4623" stop-color="#f33eb2"/><stop offset=".466" stop-color="#203cfb"/><stop offset=".4698" stop-color="#040764"/><stop offset=".4736" stop-color="#000017"/><stop offset=".4811" stop-color="#060d8b"/><stop offset=".4849" stop-color="#0a17b2"/><stop offset=".4887" stop-color="#0c1bc4"/><stop offset=".5226" stop-color="#0d1fd3"/><stop offset=".6434" stop-color="#1329eb"/><stop offset=".9075" stop-color="#2b49ff"/><stop offset=".9943" stop-color="#3250ff"/><stop offset=".9981" stop-color="#1932f2"/></linearGradient>
<linearGradient id="h42"><stop offset=".0019" stop-color="#000001"/><stop offset=".417" stop-color="#000001"/><stop offset=".4208" stop-color="#000006"/><stop offset=".4245" stop-color="#000020"/><stop offset=".4283" stop-color="#060c86"/><stop offset=".4321" stop-color="#1025e7"/><stop offset=".4358" stop-color="#2543ff"/><stop offset=".4396" stop-color="#ef40b7"/><stop offset=".4434" stop-color="#fe6d44"/><stop offset=".4472" stop-color="#f6f9c8"/><stop offset=".4509" stop-color="#fafbe0"/><stop offset=".4547" stop-color="#f6de8b"/><stop offset=".4585" stop-color="#ff2855"/><stop offset=".4623" stop-color="#405eff"/><stop offset=".466" stop-color="#08119b"/><stop offset=".4698" stop-color="#00001c"/><stop offset=".4736" stop-color="#01022e"/><stop offset=".4774" stop-color="#04086f"/><stop offset=".4811" stop-color="#0812a0"/><stop offset=".4849" stop-color="#0b19ba"/><stop offset=".4925" stop-color="#0c1cc7"/><stop offset=".6434" stop-color="#1227ea"/><stop offset=".9075" stop-color="#2a48ff"/><stop offset=".9943" stop-color="#3250ff"/><stop offset=".9981" stop-color="#1932f3"/></linearGradient>
<linearGradient id="h43"><stop offset=".0019" stop-color="#000001"/><stop offset=".417" stop-color="#000006"/><stop offset=".4208" stop-color="#000123"/><stop offset=".4245" stop-color="#060b83"/><stop offset=".4283" stop-color="#0f22e4"/><stop offset=".4321" stop-color="#1831f1"/><stop offset=".4358" stop-color="#af57ef"/><stop offset=".4396" stop-color="#ff2f29"/><stop offset=".4434" stop-color="#f0f4a3"/><stop offset=".4472" stop-color="#f9fbdd"/><stop offset=".4509" stop-color="#f1f09d"/><stop offset=".4547" stop-color="#ff2629"/><stop offset=".4585" stop-color="#8166f8"/><stop offset=".4623" stop-color="#0e21dd"/><stop offset=".466" stop-color="#010338"/><stop offset=".4698" stop-color="#00001a"/><stop offset=".4774" stop-color="#060d8a"/><stop offset=".4811" stop-color="#0a16ad"/><stop offset=".4887" stop-color="#0c1ac2"/><stop offset=".6547" stop-color="#1227ea"/><stop offset=".9151" stop-color="#2a48ff"/><stop offset=".9943" stop-color="#3755ff"/><stop offset=".9981" stop-color="#1d38f8"/></linearGradient>
<linearGradient id="h44"><stop offset=".0019" stop-color="#000001"/><stop offset=".4094" stop-color="#000001"/><stop offset=".4132" stop-color="#000007"/><stop offset=".417" stop-color="#000126"/><stop offset=".4208" stop-color="#050b81"/><stop offset=".4245" stop-color="#0e1fd7"/><stop offset=".4283" stop-color="#172ff0"/><stop offset=".4321" stop-color="#6e68fb"/><stop offset=".4358" stop-color="#ff2137"/><stop offset=".4396" stop-color="#f5e491"/><stop offset=".4434" stop-color="#f8fad2"/><stop offset=".4472" stop-color="#f3f6b4"/><stop offset=".4509" stop-color="#ff4931"/><stop offset=".4547" stop-color="#da48d0"/><stop offset=".4585" stop-color="#1c37f7"/><stop offset=".4623" stop-color="#03075e"/><stop offset=".466" stop-color="#000012"/><stop offset=".4698" stop-color="#010336"/><stop offset=".4736" stop-color="#040971"/><stop offset=".4774" stop-color="#08129e"/><stop offset=".4811" stop-color="#0a17b4"/><stop offset=".4925" stop-color="#0b1ac1"/><stop offset=".6698" stop-color="#1228ea"/><stop offset=".9189" stop-color="#2a48ff"/><stop offset=".9868" stop-color="#3452ff"/><stop offset=".9943" stop-color="#405eff"/><stop offset=".9981" stop-color="#213efd"/></linearGradient>
<linearGradient id="h45"><stop offset=".0019" stop-color="#000002"/><stop offset=".4057" stop-color="#000001"/><stop offset=".4094" stop-color="#000008"/><stop offset=".4132" stop-color="#000020"/><stop offset=".417" stop-color="#050978"/><stop offset=".4208" stop-color="#0d1fd4"/><stop offset=".4245" stop-color="#172eef"/><stop offset=".4283" stop-color="#4964ff"/><stop offset=".4321" stop-color="#fe2c67"/><stop offset=".4358" stop-color="#fba764"/><stop offset=".4396" stop-color="#f4f7bd"/><stop offset=".4434" stop-color="#f6f8c5"/><stop offset=".4472" stop-color="#fbac68"/><stop offset=".4509" stop-color="#fd317a"/><stop offset=".4547" stop-color="#3654ff"/><stop offset=".4585" stop-color="#070e90"/><stop offset=".4623" stop-color="#00001b"/><stop offset=".466" stop-color="#00001c"/><stop offset=".4736" stop-color="#060d8a"/><stop offset=".4774" stop-color="#0914a9"/><stop offset=".4849" stop-color="#0b19ba"/><stop offset=".6321" stop-color="#0f22e1"/><stop offset=".9038" stop-color="#2846ff"/><stop offset=".9792" stop-color="#314fff"/><stop offset=".9943" stop-color="#4e65fe"/><stop offset=".9981" stop-color="#2745ff"/></linearGradient>
<linearGradient id="h46"><stop offset=".0019" stop-color="#000002"/><stop offset=".4019" stop-color="#000001"/><stop offset=".4057" stop-color="#000008"/><stop offset=".4094" stop-color="#000125"/><stop offset=".4132" stop-color="#050a79"/><stop offset=".417" stop-color="#0d1ed1"/><stop offset=".4208" stop-color="#162def"/><stop offset=".4245" stop-color="#3553ff"/><stop offset=".4283" stop-color="#fa3caa"/><stop offset=".4321" stop-color="#fe5336"/><stop offset=".4358" stop-color="#f1f5a9"/><stop offset=".4396" stop-color="#f6f9c9"/><stop offset=".4434" stop-color="#f5e490"/><stop offset=".4472" stop-color="#ff2137"/><stop offset=".4509" stop-color="#6667fc"/><stop offset=".4547" stop-color="#0d1dcd"/><stop offset=".4585" stop-color="#010235"/><stop offset=".4623" stop-color="#000013"/><stop offset=".466" stop-color="#02033b"/><stop offset=".4698" stop-color="#040973"/><stop offset=".4736" stop-color="#08119a"/><stop offset=".4774" stop-color="#0a16ae"/><stop offset=".4962" stop-color="#0b18ba"/><stop offset=".6245" stop-color="#0e20d9"/><stop offset=".6925" stop-color="#1328eb"/><stop offset=".9264" stop-color="#2a48ff"/><stop offset=".9717" stop-color="#2f4dff"/><stop offset=".9906" stop-color="#5465fe"/><stop offset=".9943" stop-color="#6067fc"/><stop offset=".9981" stop-color="#2e4cff"/></linearGradient>
<linearGradient id="h47"><stop offset=".0019" stop-color="#000002"/><stop offset=".3981" stop-color="#000002"/><stop offset=".4019" stop-color="#00000a"/><stop offset=".4057" stop-color="#01012a"/><stop offset=".4094" stop-color="#050a7b"/><stop offset=".4132" stop-color="#0d1dcf"/><stop offset=".417" stop-color="#152ced"/><stop offset=".4208" stop-color="#2442ff"/><stop offset=".4245" stop-color="#d44ad7"/><stop offset=".4283" stop-color="#ff3029"/><stop offset=".4321" stop-color="#f3eb98"/><stop offset=".4358" stop-color="#f5f8c0"/><stop offset=".4396" stop-color="#f2ed9b"/><stop offset=".4434" stop-color="#ff2f29"/><stop offset=".4472" stop-color="#bb53ed"/><stop offset=".4509" stop-color="#1831f1"/><stop offset=".4547" stop-color="#03065a"/><stop offset=".4585" stop-color="#000012"/><stop offset=".4623" stop-color="#000020"/><stop offset=".466" stop-color="#03065a"/><stop offset=".4698" stop-color="#060d89"/><stop offset=".4736" stop-color="#0913a4"/><stop offset=".4811" stop-color="#0a17b3"/><stop offset=".6208" stop-color="#0d1ed3"/><stop offset=".6925" stop-color="#1227e9"/><stop offset=".9302" stop-color="#2a48ff"/><stop offset=".9679" stop-color="#3250ff"/><stop offset=".983" stop-color="#4f65fe"/><stop offset=".9943" stop-color="#7268fb"/><stop offset=".9981" stop-color="#3654ff"/></linearGradient>
<linearGradient id="h48"><stop offset=".0019" stop-color="#000002"/><stop offset=".3943" stop-color="#000002"/><stop offset=".3981" stop-color="#000010"/><stop offset=".4019" stop-color="#010236"/><stop offset=".4057" stop-color="#050a7d"/><stop offset=".4094" stop-color="#0c1cc7"/><stop offset=".4132" stop-color="#142bed"/><stop offset=".417" stop-color="#1d38f7"/><stop offset=".4208" stop-color="#a65af1"/><stop offset=".4245" stop-color="#ff1e29"/><stop offset=".4283" stop-color="#f7d484"/><stop offset=".4321" stop-color="#f3f7b7"/><stop offset=".4358" stop-color="#f1f5a7"/><stop offset=".4396" stop-color="#fd7046"/><stop offset=".4434" stop-color="#fb3898"/><stop offset=".4472" stop-color="#314fff"/><stop offset=".4509" stop-color="#070e90"/><stop offset=".4547" stop-color="#00001c"/><stop offset=".4585" stop-color="#000016"/><stop offset=".466" stop-color="#050974"/><stop offset=".4698" stop-color="#071097"/><stop offset=".4736" stop-color="#0914a8"/><stop offset=".4962" stop-color="#0a17b2"/><stop offset=".617" stop-color="#0d1dcc"/><stop offset=".6962" stop-color="#1126e9"/><stop offset=".934" stop-color="#2947ff"/><stop offset=".9604" stop-color="#2f4dff"/><stop offset=".9792" stop-color="#5666fd"/><stop offset=".9943" stop-color="#8864f7"/><stop offset=".9981" stop-color="#3d5bff"/></linearGradient>
<linearGradient id="h49"><stop offset=".0019" stop-color="#000002"/><stop offset=".3906" stop-color="#000007"/><stop offset=".3943" stop-color="#000018"/><stop offset=".4019" stop-color="#060c86"/><stop offset=".4057" stop-color="#0d1dcd"/><stop offset=".4094" stop-color="#142aec"/><stop offset=".4132" stop-color="#172ff0"/><stop offset=".417" stop-color="#7669fa"/><stop offset=".4208" stop-color="#ff264f"/><stop offset=".4245" stop-color="#fca563"/><stop offset=".4283" stop-color="#f1f5a8"/><stop offset=".4321" stop-color="#f2f5ae"/><stop offset=".4358" stop-color="#fab76f"/><stop offset=".4396" stop-color="#ff264e"/><stop offset=".4434" stop-color="#5966fd"/><stop offset=".4472" stop-color="#0d1dcd"/><stop offset=".4509" stop-color="#010338"/><stop offset=".4547" stop-color="#00000e"/><stop offset=".4585" stop-color="#000126"/><stop offset=".4623" stop-color="#03075d"/><stop offset=".466" stop-color="#060c87"/><stop offset=".4698" stop-color="#08129f"/><stop offset=".4774" stop-color="#0915ac"/><stop offset=".6094" stop-color="#0c1bc5"/><stop offset=".7038" stop-color="#1126e9"/><stop offset=".9377" stop-color="#2947ff"/><stop offset=".9566" stop-color="#3351ff"/><stop offset=".9717" stop-color="#5165fe"/><stop offset=".9868" stop-color="#8166f8"/><stop offset=".9943" stop-color="#a05cf2"/><stop offset=".9981" stop-color="#4361ff"/></linearGradient>
<linearGradient id="h50"><stop offset=".0019" stop-color="#000003"/><stop offset=".383" stop-color="#000002"/><stop offset=".3868" stop-color="#00000e"/><stop offset=".3906" stop-color="#000127"/><stop offset=".3943" stop-color="#030658"/><stop offset=".4019" stop-color="#0e21dc"/><stop offset=".4057" stop-color="#152ced"/><stop offset=".4094" stop-color="#152cee"/><stop offset=".4132" stop-color="#5766fd"/><stop offset=".417" stop-color="#fd3076"/><stop offset=".4208" stop-color="#fe633f"/><stop offset=".4245" stop-color="#f2ee9c"/><stop offset=".4283" stop-color="#f1f5a9"/><stop offset=".4321" stop-color="#f6e18d"/><stop offset=".4358" stop-color="#ff2428"/><stop offset=".4396" stop-color="#ac58f0"/><stop offset=".4434" stop-color="#1933f3"/><stop offset=".4472" stop-color="#040764"/><stop offset=".4509" stop-color="#000015"/><stop offset=".4547" stop-color="#000017"/><stop offset=".4623" stop-color="#040973"/><stop offset=".466" stop-color="#070f93"/><stop offset=".4736" stop-color="#0914a7"/><stop offset=".6057" stop-color="#0b19be"/><stop offset=".7113" stop-color="#1126e9"/><stop offset=".9415" stop-color="#2947ff"/><stop offset=".9604" stop-color="#4361ff"/><stop offset=".9792" stop-color="#7969fa"/><stop offset=".9943" stop-color="#b754ed"/><stop offset=".9981" stop-color="#4d65fe"/></linearGradient>
<linearGradient id="h51"><stop offset=".0019" stop-color="#000003"/><stop offset=".3792" stop-color="#000006"/><stop offset=".383" stop-color="#000015"/><stop offset=".3906" stop-color="#04096f"/><stop offset=".3943" stop-color="#0a16b1"/><stop offset=".3981" stop-color="#0f24e7"/><stop offset=".4057" stop-color="#152ced"/><stop offset=".4094" stop-color="#4260ff"/><stop offset=".4132" stop-color="#fa3aa3"/><stop offset=".417" stop-color="#ff362a"/><stop offset=".4208" stop-color="#f4e592"/><stop offset=".4245" stop-color="#f1f5a7"/><stop offset=".4283" stop-color="#f3ea97"/><stop offset=".4321" stop-color="#ff382a"/><stop offset=".4358" stop-color="#f03fb5"/><stop offset=".4396" stop-color="#2e4cff"/><stop offset=".4434" stop-color="#070f91"/><stop offset=".4472" stop-color="#00001e"/><stop offset=".4509" stop-color="#00000f"/><stop offset=".4547" stop-color="#010128"/><stop offset=".4585" stop-color="#03075d"/><stop offset=".4623" stop-color="#060c84"/><stop offset=".466" stop-color="#08119a"/><stop offset=".4774" stop-color="#0914a6"/><stop offset=".5981" stop-color="#0a18b6"/><stop offset=".7189" stop-color="#1126e9"/><stop offset=".9415" stop-color="#2c4aff"/><stop offset=".9604" stop-color="#5265fe"/><stop offset=".9755" stop-color="#8266f8"/><stop offset=".9906" stop-color="#bf51ec"/><stop offset=".9943" stop-color="#cb4de2"/><stop offset=".9981" stop-color="#5866fd"/></linearGradient>
<linearGradient id="h52"><stop offset=".0019" stop-color="#000003"/><stop offset=".3717" stop-color="#000004"/><stop offset=".3792" stop-color="#00001e"/><stop offset=".3868" stop-color="#060c85"/><stop offset=".3906" stop-color="#0c1bc3"/><stop offset=".3943" stop-color="#1127e9"/><stop offset=".4019" stop-color="#152ced"/><stop offset=".4057" stop-color="#3654ff"/><stop offset=".4094" stop-color="#e045c8"/><stop offset=".4132" stop-color="#ff2829"/><stop offset=".417" stop-color="#f7d282"/><stop offset=".4208" stop-color="#f0f2a0"/><stop offset=".4245" stop-color="#f2ed9b"/><stop offset=".4283" stop-color="#fd7046"/><stop offset=".4321" stop-color="#fe2f73"/><stop offset=".4358" stop-color="#4f65fe"/><stop offset=".4396" stop-color="#0d1ed0"/><stop offset=".4434" stop-color="#020441"/><stop offset=".4472" stop-color="#00000f"/><stop offset=".4509" stop-color="#000018"/><stop offset=".4585" stop-color="#040972"/><stop offset=".4623" stop-color="#070e8f"/><stop offset=".4698" stop-color="#0813a1"/><stop offset=".5981" stop-color="#0a16b1"/><stop offset=".7226" stop-color="#1126e8"/><stop offset=".934" stop-color="#2846ff"/><stop offset=".9528" stop-color="#4b65fe"/><stop offset=".9717" stop-color="#8b63f6"/><stop offset=".9868" stop-color="#c64fe8"/><stop offset=".9943" stop-color="#d948d1"/><stop offset=".9981" stop-color="#6267fc"/></linearGradient>
<linearGradient id="h53"><stop offset=".0019" stop-color="#000003"/><stop offset=".3642" stop-color="#000003"/><stop offset=".3717" stop-color="#000013"/><stop offset=".3755" stop-color="#010233"/><stop offset=".3868" stop-color="#0d1ed3"/><stop offset=".3906" stop-color="#1329eb"/><stop offset=".3981" stop-color="#152ced"/><stop offset=".4019" stop-color="#2c4aff"/><stop offset=".4057" stop-color="#c350eb"/><stop offset=".4094" stop-color="#ff1f2e"/><stop offset=".4132" stop-color="#fbab67"/><stop offset=".417" stop-color="#f2ee9b"/><stop offset=".4208" stop-color="#f2ee9b"/><stop offset=".4245" stop-color="#fba965"/><stop offset=".4283" stop-color="#ff223b"/><stop offset=".4321" stop-color="#8e62f6"/><stop offset=".4358" stop-color="#1830f1"/><stop offset=".4396" stop-color="#040868"/><stop offset=".4434" stop-color="#000017"/><stop offset=".4472" stop-color="#00000f"/><stop offset=".4509" stop-color="#010129"/><stop offset=".4547" stop-color="#03075c"/><stop offset=".4585" stop-color="#050b80"/><stop offset=".4623" stop-color="#071095"/><stop offset=".4736" stop-color="#0812a0"/><stop offset=".5943" stop-color="#0915ab"/><stop offset=".7302" stop-color="#1126e8"/><stop offset=".9302" stop-color="#2b49ff"/><stop offset=".9491" stop-color="#5065fe"/><stop offset=".9642" stop-color="#8465f8"/><stop offset=".9792" stop-color="#c051ec"/><stop offset=".9943" stop-color="#e743c0"/><stop offset=".9981" stop-color="#6b68fb"/></linearGradient>
<linearGradient id="h54"><stop offset=".0019" stop-color="#000004"/><stop offset=".3604" stop-color="#000004"/><stop offset=".3679" stop-color="#00001b"/><stop offset=".3792" stop-color="#0a16af"/><stop offset=".383" stop-color="#0e22e1"/><stop offset=".3868" stop-color="#142bed"/><stop offset=".3943" stop-color="#152bed"/><stop offset=".3981" stop-color="#2340fe"/><stop offset=".4019" stop-color="#9d5df3"/><stop offset=".4057" stop-color="#ff2548"/><stop offset=".4094" stop-color="#fd7b4b"/><stop offset=".4132" stop-color="#f4e895"/><stop offset=".417" stop-color="#f2ee9c"/><stop offset=".4208" stop-color="#f8cc7e"/><stop offset=".4245" stop-color="#ff2729"/><stop offset=".4283" stop-color="#d34ad9"/><stop offset=".4321" stop-color="#2745ff"/><stop offset=".4358" stop-color="#070f92"/><stop offset=".4396" stop-color="#000124"/><stop offset=".4434" stop-color="#00000b"/><stop offset=".4472" stop-color="#000019"/><stop offset=".4547" stop-color="#04096f"/><stop offset=".4585" stop-color="#060d8a"/><stop offset=".466" stop-color="#08119b"/><stop offset=".5906" stop-color="#0914a5"/><stop offset=".7075" stop-color="#0e21de"/><stop offset=".7868" stop-color="#172ff0"/><stop offset=".9226" stop-color="#2846ff"/><stop offset=".9415" stop-color="#4964ff"/><stop offset=".9566" stop-color="#7a68fa"/><stop offset=".9755" stop-color="#c74fe7"/><stop offset=".9943" stop-color="#f33eb2"/><stop offset=".9981" stop-color="#7469fa"/></linearGradient>
<linearGradient id="h55"><stop offset=".0019" stop-color="#000004"/><stop offset=".3566" stop-color="#000007"/><stop offset=".3604" stop-color="#000014"/><stop offset=".3642" stop-color="#01022f"/><stop offset=".3755" stop-color="#0b1ac1"/><stop offset=".3792" stop-color="#1025e8"/><stop offset=".3868" stop-color="#152cee"/><stop offset=".3906" stop-color="#152bed"/><stop offset=".3943" stop-color="#1e3af9"/><stop offset=".3981" stop-color="#7e67f9"/><stop offset=".4019" stop-color="#ff2b63"/><stop offset=".4057" stop-color="#ff462f"/><stop offset=".4094" stop-color="#f5e28e"/><stop offset=".4132" stop-color="#f2ec9a"/><stop offset=".417" stop-color="#f6e08c"/><stop offset=".4208" stop-color="#ff362a"/><stop offset=".4245" stop-color="#fa3aa3"/><stop offset=".4283" stop-color="#405eff"/><stop offset=".4321" stop-color="#0c1cc9"/><stop offset=".4358" stop-color="#020443"/><stop offset=".4396" stop-color="#000011"/><stop offset=".4434" stop-color="#000010"/><stop offset=".4472" stop-color="#01012b"/><stop offset=".4509" stop-color="#03065b"/><stop offset=".4547" stop-color="#050a7d"/><stop offset=".4585" stop-color="#070f90"/><stop offset=".4736" stop-color="#08119a"/><stop offset=".5868" stop-color="#0812a0"/><stop offset=".6962" stop-color="#0d1ed3"/><stop offset=".7415" stop-color="#1126e8"/><stop offset=".9151" stop-color="#2442ff"/><stop offset=".9377" stop-color="#4e65fe"/><stop offset=".9528" stop-color="#8066f8"/><stop offset=".9679" stop-color="#c250eb"/><stop offset=".9906" stop-color="#f73dad"/><stop offset=".9943" stop-color="#fa3ba4"/><stop offset=".9981" stop-color="#7c68f9"/></linearGradient>
<linearGradient id="h56"><stop offset=".0019" stop-color="#000004"/><stop offset=".3491" stop-color="#000004"/><stop offset=".3566" stop-color="#00001d"/><stop offset=".3642" stop-color="#04086d"/><stop offset=".3717" stop-color="#0d1ed2"/><stop offset=".3755" stop-color="#1228ea"/><stop offset=".3868" stop-color="#152ced"/><stop offset=".3906" stop-color="#1b34f5"/><stop offset=".3943" stop-color="#6967fc"/><stop offset=".3981" stop-color="#fd3384"/><stop offset=".4019" stop-color="#ff3429"/><stop offset=".4057" stop-color="#f8ce7f"/><stop offset=".4094" stop-color="#f3ea97"/><stop offset=".4132" stop-color="#f5e38f"/><stop offset=".417" stop-color="#fe5236"/><stop offset=".4208" stop-color="#ff2b65"/><stop offset=".4245" stop-color="#6c68fb"/><stop offset=".4283" stop-color="#152bed"/><stop offset=".4321" stop-color="#040867"/><stop offset=".4358" stop-color="#000018"/><stop offset=".4396" stop-color="#00000b"/><stop offset=".4434" stop-color="#000019"/><stop offset=".4509" stop-color="#04086d"/><stop offset=".4547" stop-color="#060c87"/><stop offset=".4623" stop-color="#071097"/><stop offset=".5868" stop-color="#08119b"/><stop offset=".6925" stop-color="#0d1dcd"/><stop offset=".7453" stop-color="#1126e8"/><stop offset=".9113" stop-color="#2644ff"/><stop offset=".934" stop-color="#5365fe"/><stop offset=".9491" stop-color="#8664f7"/><stop offset=".9642" stop-color="#c64fe8"/><stop offset=".9868" stop-color="#fa3ca9"/><stop offset=".9943" stop-color="#fb3797"/><stop offset=".9981" stop-color="#8664f7"/></linearGradient>
<linearGradient id="h57"><stop offset=".0019" stop-color="#000005"/><stop offset=".3453" stop-color="#000009"/><stop offset=".3491" stop-color="#000016"/><stop offset=".3566" stop-color="#030654"/><stop offset=".3679" stop-color="#0f22e3"/><stop offset=".3755" stop-color="#162dee"/><stop offset=".3868" stop-color="#1730f1"/><stop offset=".3906" stop-color="#5766fd"/><stop offset=".3943" stop-color="#fb3aa2"/><stop offset=".3981" stop-color="#ff2a29"/><stop offset=".4019" stop-color="#fab26b"/><stop offset=".4057" stop-color="#f4e693"/><stop offset=".4094" stop-color="#f5e490"/><stop offset=".4132" stop-color="#fd824f"/><stop offset=".417" stop-color="#ff233d"/><stop offset=".4208" stop-color="#a859f0"/><stop offset=".4245" stop-color="#203dfc"/><stop offset=".4283" stop-color="#060d8b"/><stop offset=".4321" stop-color="#000125"/><stop offset=".4358" stop-color="#00000c"/><stop offset=".4396" stop-color="#000011"/><stop offset=".4434" stop-color="#01012c"/><stop offset=".4472" stop-color="#03065b"/><stop offset=".4509" stop-color="#050a7b"/><stop offset=".4547" stop-color="#060e8d"/><stop offset=".4698" stop-color="#071095"/><stop offset=".583" stop-color="#071096"/><stop offset=".6849" stop-color="#0c1bc4"/><stop offset=".7491" stop-color="#1125e8"/><stop offset=".9038" stop-color="#2341ff"/><stop offset=".9264" stop-color="#4c65fe"/><stop offset=".9415" stop-color="#7c68f9"/><stop offset=".9604" stop-color="#c94ee4"/><stop offset=".9792" stop-color="#f73dad"/><stop offset=".9943" stop-color="#fc358c"/><stop offset=".9981" stop-color="#8e62f6"/></linearGradient>
<linearGradient id="h58"><stop offset=".0019" stop-color="#000005"/><stop offset=".3377" stop-color="#000006"/><stop offset=".3453" stop-color="#00001e"/><stop offset=".3491" stop-color="#02033d"/><stop offset=".3604" stop-color="#0c1dcb"/><stop offset=".3642" stop-color="#1024e7"/><stop offset=".3717" stop-color="#162def"/><stop offset=".383" stop-color="#152bed"/><stop offset=".3868" stop-color="#4764ff"/><stop offset=".3906" stop-color="#eb42bc"/><stop offset=".3943" stop-color="#ff2028"/><stop offset=".3981" stop-color="#fc9157"/><stop offset=".4019" stop-color="#f5e28f"/><stop offset=".4057" stop-color="#f5e38f"/><stop offset=".4094" stop-color="#fca361"/><stop offset=".4132" stop-color="#ff2228"/><stop offset=".417" stop-color="#db47cf"/><stop offset=".4208" stop-color="#3250ff"/><stop offset=".4245" stop-color="#0b19ba"/><stop offset=".4283" stop-color="#020441"/><stop offset=".4321" stop-color="#000012"/><stop offset=".4358" stop-color="#00000b"/><stop offset=".4396" stop-color="#00001b"/><stop offset=".4472" stop-color="#04086d"/><stop offset=".4509" stop-color="#060c85"/><stop offset=".4585" stop-color="#070f93"/><stop offset=".583" stop-color="#070f92"/><stop offset=".6811" stop-color="#0b19be"/><stop offset=".7528" stop-color="#1125e8"/><stop offset=".9" stop-color="#2543ff"/><stop offset=".9226" stop-color="#5165fe"/><stop offset=".9377" stop-color="#8266f8"/><stop offset=".9528" stop-color="#c151eb"/><stop offset=".9755" stop-color="#fa3ca9"/><stop offset=".9943" stop-color="#fd3383"/><stop offset=".9981" stop-color="#9460f4"/></linearGradient>
<linearGradient id="h59"><stop offset=".0019" stop-color="#000006"/><stop offset=".3302" stop-color="#000006"/><stop offset=".3377" stop-color="#000018"/><stop offset=".3453" stop-color="#030654"/><stop offset=".3528" stop-color="#0a16b1"/><stop offset=".3566" stop-color="#0d1fd4"/><stop offset=".3604" stop-color="#1228ea"/><stop offset=".3755" stop-color="#152cee"/><stop offset=".3792" stop-color="#152ced"/><stop offset=".383" stop-color="#405eff"/><stop offset=".3868" stop-color="#d749d3"/><stop offset=".3906" stop-color="#ff2136"/><stop offset=".3943" stop-color="#fe6c43"/><stop offset=".3981" stop-color="#f7d786"/><stop offset=".4019" stop-color="#f6e28e"/><stop offset=".4057" stop-color="#fab56e"/><stop offset=".4094" stop-color="#ff2e29"/><stop offset=".4132" stop-color="#fb399f"/><stop offset=".417" stop-color="#4b65fe"/><stop offset=".4208" stop-color="#1024e7"/><stop offset=".4245" stop-color="#030760"/><stop offset=".4283" stop-color="#000019"/><stop offset=".4321" stop-color="#000009"/><stop offset=".4358" stop-color="#000013"/><stop offset=".4396" stop-color="#010230"/><stop offset=".4434" stop-color="#03075c"/><stop offset=".4472" stop-color="#050a7a"/><stop offset=".4509" stop-color="#060d8a"/><stop offset=".466" stop-color="#070f92"/><stop offset=".5792" stop-color="#070e8e"/><stop offset=".6736" stop-color="#0a17b6"/><stop offset=".7566" stop-color="#1025e8"/><stop offset=".8925" stop-color="#223ffe"/><stop offset=".9151" stop-color="#4964ff"/><stop offset=".9302" stop-color="#7869fa"/><stop offset=".9491" stop-color="#c54fe9"/><stop offset=".9717" stop-color="#fa3ba7"/><stop offset=".9906" stop-color="#fd3280"/><stop offset=".9943" stop-color="#fd317c"/><stop offset=".9981" stop-color="#995ef3"/></linearGradient>
<linearGradient id="h60"><stop offset=".0019" stop-color="#000006"/><stop offset=".3226" stop-color="#000007"/><stop offset=".334" stop-color="#000124"/><stop offset=".3415" stop-color="#04086b"/><stop offset=".3491" stop-color="#0c1bc5"/><stop offset=".3528" stop-color="#0f22e3"/><stop offset=".3604" stop-color="#172ff0"/><stop offset=".3755" stop-color="#152ced"/><stop offset=".3792" stop-color="#3856ff"/><stop offset=".383" stop-color="#c151eb"/><stop offset=".3868" stop-color="#ff2549"/><stop offset=".3906" stop-color="#ff462f"/><stop offset=".3943" stop-color="#f9c579"/><stop offset=".3981" stop-color="#f6e08c"/><stop offset=".4019" stop-color="#f9c076"/><stop offset=".4057" stop-color="#ff372a"/><stop offset=".4094" stop-color="#fe2f74"/><stop offset=".4132" stop-color="#7369fa"/><stop offset=".417" stop-color="#1a34f4"/><stop offset=".4208" stop-color="#060b83"/><stop offset=".4245" stop-color="#000123"/><stop offset=".4283" stop-color="#00000c"/><stop offset=".4321" stop-color="#00000e"/><stop offset=".4358" stop-color="#00001d"/><stop offset=".4434" stop-color="#04086e"/><stop offset=".4472" stop-color="#060c84"/><stop offset=".4547" stop-color="#070f91"/><stop offset=".5792" stop-color="#060d8a"/><stop offset=".6698" stop-color="#0a16b0"/><stop offset=".7604" stop-color="#1025e8"/><stop offset=".8887" stop-color="#2341ff"/><stop offset=".9113" stop-color="#4d65fe"/><stop offset=".9264" stop-color="#7e67f9"/><stop offset=".9453" stop-color="#c84ee6"/><stop offset=".9679" stop-color="#fa3ba4"/><stop offset=".9868" stop-color="#fd327e"/><stop offset=".9943" stop-color="#fd3076"/><stop offset=".9981" stop-color="#9c5df3"/></linearGradient>
<linearGradient id="h61"><stop offset=".0019" stop-color="#000007"/><stop offset=".3113" stop-color="#000009"/><stop offset=".3226" stop-color="#00001b"/><stop offset=".3302" stop-color="#020447"/><stop offset=".334" stop-color="#040764"/><stop offset=".3453" stop-color="#0e1fd7"/><stop offset=".3491" stop-color="#1127e9"/><stop offset=".3604" stop-color="#172ff0"/><stop offset=".3717" stop-color="#152cee"/><stop offset=".3755" stop-color="#304eff"/><stop offset=".3792" stop-color="#aa58f0"/><stop offset=".383" stop-color="#ff295c"/><stop offset=".3868" stop-color="#ff362a"/><stop offset=".3906" stop-color="#fbaf69"/><stop offset=".3943" stop-color="#f7d886"/><stop offset=".3981" stop-color="#f9c579"/><stop offset=".4019" stop-color="#ff4831"/><stop offset=".4057" stop-color="#ff2750"/><stop offset=".4094" stop-color="#a759f1"/><stop offset=".4132" stop-color="#2543ff"/><stop offset=".417" stop-color="#0914a5"/><stop offset=".4208" stop-color="#02033b"/><stop offset=".4245" stop-color="#000012"/><stop offset=".4283" stop-color="#00000b"/><stop offset=".4321" stop-color="#000016"/><stop offset=".4396" stop-color="#030760"/><stop offset=".4434" stop-color="#050a7b"/><stop offset=".4509" stop-color="#070e90"/><stop offset=".5792" stop-color="#060c87"/><stop offset=".6698" stop-color="#0a15ad"/><stop offset=".7642" stop-color="#1125e8"/><stop offset=".8811" stop-color="#213efd"/><stop offset=".9075" stop-color="#5065fe"/><stop offset=".9226" stop-color="#8266f8"/><stop offset=".9377" stop-color="#c051ec"/><stop offset=".9604" stop-color="#f73dad"/><stop offset=".983" stop-color="#fd317d"/><stop offset=".9943" stop-color="#fe2f73"/><stop offset=".9981" stop-color="#9e5cf2"/></linearGradient>
<linearGradient id="h62"><stop offset=".0019" stop-color="#000008"/><stop offset=".2849" stop-color="#00000f"/><stop offset=".3113" stop-color="#00001e"/><stop offset=".3226" stop-color="#030654"/><stop offset=".3377" stop-color="#0c1bc6"/><stop offset=".3415" stop-color="#1024e7"/><stop offset=".3528" stop-color="#1830f1"/><stop offset=".3679" stop-color="#162dee"/><stop offset=".3717" stop-color="#2b49ff"/><stop offset=".3755" stop-color="#9260f5"/><stop offset=".3792" stop-color="#fd3079"/><stop offset=".383" stop-color="#ff2e29"/><stop offset=".3868" stop-color="#fc995b"/><stop offset=".3906" stop-color="#f8cc7e"/><stop offset=".3943" stop-color="#f9c378"/><stop offset=".3981" stop-color="#fe603d"/><stop offset=".4019" stop-color="#ff2136"/><stop offset=".4057" stop-color="#d34ad9"/><stop offset=".4094" stop-color="#3856ff"/><stop offset=".4132" stop-color="#0d1dce"/><stop offset=".417" stop-color="#030656"/><stop offset=".4208" stop-color="#000018"/><stop offset=".4245" stop-color="#00000a"/><stop offset=".4283" stop-color="#000011"/><stop offset=".4321" stop-color="#000125"/><stop offset=".4358" stop-color="#030551"/><stop offset=".4396" stop-color="#040972"/><stop offset=".4434" stop-color="#060c85"/><stop offset=".4547" stop-color="#070f91"/><stop offset=".5717" stop-color="#060c84"/><stop offset=".6585" stop-color="#0913a3"/><stop offset=".7679" stop-color="#1125e8"/><stop offset=".8736" stop-color="#1f3bfa"/><stop offset=".9" stop-color="#4864ff"/><stop offset=".9189" stop-color="#8565f7"/><stop offset=".934" stop-color="#c450ea"/><stop offset=".9566" stop-color="#f83dad"/><stop offset=".983" stop-color="#fd3078"/><stop offset=".9943" stop-color="#fe2e71"/><stop offset=".9981" stop-color="#9f5cf2"/></linearGradient>
<linearGradient id="h63"><stop offset=".0019" stop-color="#000008"/><stop offset=".266" stop-color="#000011"/><stop offset=".2849" stop-color="#000124"/><stop offset=".2925" stop-color="#02033b"/><stop offset=".2962" stop-color="#01033a"/><stop offset=".3075" stop-color="#03065b"/><stop offset=".3113" stop-color="#03075f"/><stop offset=".3226" stop-color="#081098"/><stop offset=".334" stop-color="#0f22e3"/><stop offset=".3491" stop-color="#1830f1"/><stop offset=".3642" stop-color="#162eef"/><stop offset=".3679" stop-color="#2947ff"/><stop offset=".3717" stop-color="#7e67f9"/><stop offset=".3755" stop-color="#fc358d"/><stop offset=".3792" stop-color="#ff2629"/><stop offset=".383" stop-color="#fd794a"/><stop offset=".3868" stop-color="#f9bc73"/><stop offset=".3906" stop-color="#f9c277"/><stop offset=".3943" stop-color="#fd7b4c"/><stop offset=".3981" stop-color="#ff2228"/><stop offset=".4019" stop-color="#f43eb2"/><stop offset=".4057" stop-color="#4e65fe"/><stop offset=".4094" stop-color="#1328eb"/><stop offset=".4132" stop-color="#040972"/><stop offset=".417" stop-color="#000020"/><stop offset=".4208" stop-color="#00000c"/><stop offset=".4245" stop-color="#00000e"/><stop offset=".4283" stop-color="#00001b"/><stop offset=".4358" stop-color="#040867"/><stop offset=".4396" stop-color="#050a7e"/><stop offset=".4472" stop-color="#070e90"/><stop offset=".5755" stop-color="#050b82"/><stop offset=".6585" stop-color="#0812a0"/><stop offset=".7679" stop-color="#1025e8"/><stop offset=".8698" stop-color="#203dfc"/><stop offset=".8962" stop-color="#4c65fe"/><stop offset=".9113" stop-color="#7a68fa"/><stop offset=".9302" stop-color="#c54fe8"/><stop offset=".9528" stop-color="#f93cab"/><stop offset=".9792" stop-color="#fd317b"/><stop offset=".9943" stop-color="#fe2e71"/><stop offset=".9981" stop-color="#9e5cf2"/></linearGradient>
<linearGradient id="h64"><stop offset=".0019" stop-color="#000009"/><stop offset=".2321" stop-color="#000012"/><stop offset=".2623" stop-color="#01012c"/><stop offset=".266" stop-color="#010129"/><stop offset=".2811" stop-color="#030652"/><stop offset=".2887" stop-color="#04086b"/><stop offset=".3038" stop-color="#070f94"/><stop offset=".3075" stop-color="#071097"/><stop offset=".3264" stop-color="#0f23e5"/><stop offset=".3415" stop-color="#1932f2"/><stop offset=".3604" stop-color="#162eef"/><stop offset=".3642" stop-color="#2745ff"/><stop offset=".3679" stop-color="#7669fa"/><stop offset=".3717" stop-color="#fb399d"/><stop offset=".3755" stop-color="#ff2028"/><stop offset=".3792" stop-color="#fe5c3b"/><stop offset=".383" stop-color="#fab26c"/><stop offset=".3868" stop-color="#f9bc73"/><stop offset=".3906" stop-color="#fd8953"/><stop offset=".3943" stop-color="#ff2a29"/><stop offset=".3981" stop-color="#fc358d"/><stop offset=".4019" stop-color="#6e68fb"/><stop offset=".4057" stop-color="#1c36f6"/><stop offset=".4094" stop-color="#070f93"/><stop offset=".4132" stop-color="#010235"/><stop offset=".417" stop-color="#000011"/><stop offset=".4208" stop-color="#00000c"/><stop offset=".4245" stop-color="#000015"/><stop offset=".4283" stop-color="#010230"/><stop offset=".4321" stop-color="#030659"/><stop offset=".4358" stop-color="#050977"/><stop offset=".4434" stop-color="#070e8f"/><stop offset=".5755" stop-color="#050b80"/><stop offset=".6585" stop-color="#08129e"/><stop offset=".7717" stop-color="#1025e8"/><stop offset=".8623" stop-color="#1e3af9"/><stop offset=".8925" stop-color="#4f65fe"/><stop offset=".9075" stop-color="#7d67f9"/><stop offset=".9264" stop-color="#c84ee6"/><stop offset=".9491" stop-color="#fa3caa"/><stop offset=".9755" stop-color="#fd317c"/><stop offset=".9943" stop-color="#fe2f72"/><stop offset=".9981" stop-color="#9d5df3"/></linearGradient>
<linearGradient id="h65"><stop offset=".0019" stop-color="#00000a"/><stop offset=".217" stop-color="#000013"/><stop offset=".2321" stop-color="#000125"/><stop offset=".2396" stop-color="#010233"/><stop offset=".2472" stop-color="#020549"/><stop offset=".2736" stop-color="#040972"/><stop offset=".2887" stop-color="#0914a6"/><stop offset=".3113" stop-color="#0f23e6"/><stop offset=".3377" stop-color="#1932f3"/><stop offset=".3566" stop-color="#172ff0"/><stop offset=".3604" stop-color="#2543ff"/><stop offset=".3642" stop-color="#7168fb"/><stop offset=".3679" stop-color="#f93cab"/><stop offset=".3717" stop-color="#ff2032"/><stop offset=".3755" stop-color="#ff432e"/><stop offset=".3792" stop-color="#fca462"/><stop offset=".383" stop-color="#fab46d"/><stop offset=".3868" stop-color="#fc9257"/><stop offset=".3906" stop-color="#ff3229"/><stop offset=".3943" stop-color="#ff2b65"/><stop offset=".3981" stop-color="#9b5df3"/><stop offset=".4019" stop-color="#2745ff"/><stop offset=".4057" stop-color="#0b18b8"/><stop offset=".4094" stop-color="#020549"/><stop offset=".4132" stop-color="#000016"/><stop offset=".417" stop-color="#00000c"/><stop offset=".4208" stop-color="#000011"/><stop offset=".4245" stop-color="#000020"/><stop offset=".4321" stop-color="#04086d"/><stop offset=".4358" stop-color="#060b83"/><stop offset=".4434" stop-color="#070f92"/><stop offset=".5717" stop-color="#050a7e"/><stop offset=".6547" stop-color="#08119a"/><stop offset=".7717" stop-color="#1025e7"/><stop offset=".8585" stop-color="#1f3bfa"/><stop offset=".8849" stop-color="#4764ff"/><stop offset=".9038" stop-color="#8066f8"/><stop offset=".9226" stop-color="#c94ee4"/><stop offset=".9453" stop-color="#fa3caa"/><stop offset=".9717" stop-color="#fd327f"/><stop offset=".9943" stop-color="#fe2f74"/><stop offset=".9981" stop-color="#9a5ef3"/></linearGradient>
<linearGradient id="h66"><stop offset=".0019" stop-color="#00000a"/><stop offset=".2057" stop-color="#000015"/><stop offset=".2208" stop-color="#01022d"/><stop offset=".2358" stop-color="#030659"/><stop offset=".2509" stop-color="#050b80"/><stop offset=".2736" stop-color="#0915ab"/><stop offset=".2774" stop-color="#0b19bd"/><stop offset=".2925" stop-color="#0f23e6"/><stop offset=".3264" stop-color="#1b35f5"/><stop offset=".3528" stop-color="#1730f1"/><stop offset=".3566" stop-color="#2644ff"/><stop offset=".3604" stop-color="#6f68fb"/><stop offset=".3642" stop-color="#f23fb4"/><stop offset=".3679" stop-color="#ff223c"/><stop offset=".3717" stop-color="#ff392a"/><stop offset=".3755" stop-color="#fc9157"/><stop offset=".3792" stop-color="#fbae69"/><stop offset=".383" stop-color="#fc9a5c"/><stop offset=".3868" stop-color="#ff392a"/><stop offset=".3906" stop-color="#ff254a"/><stop offset=".3943" stop-color="#c64fe7"/><stop offset=".3981" stop-color="#3755ff"/><stop offset=".4019" stop-color="#0e21dc"/><stop offset=".4057" stop-color="#040765"/><stop offset=".4094" stop-color="#00001d"/><stop offset=".4132" stop-color="#00000e"/><stop offset=".417" stop-color="#00000e"/><stop offset=".4208" stop-color="#000019"/><stop offset=".4283" stop-color="#040762"/><stop offset=".4321" stop-color="#050a7d"/><stop offset=".4396" stop-color="#070f92"/><stop offset=".5717" stop-color="#050a7d"/><stop offset=".6509" stop-color="#071096"/><stop offset=".7755" stop-color="#1025e8"/><stop offset=".8509" stop-color="#1d38f8"/><stop offset=".8736" stop-color="#3c5aff"/><stop offset=".8887" stop-color="#6167fc"/><stop offset=".9" stop-color="#8565f7"/><stop offset=".9189" stop-color="#c94ee4"/><stop offset=".9415" stop-color="#fa3caa"/><stop offset=".9679" stop-color="#fd3282"/><stop offset=".9943" stop-color="#fd3078"/><stop offset=".9981" stop-color="#965ff4"/></linearGradient>
<linearGradient id="h67"><stop offset=".0019" stop-color="#00000b"/><stop offset=".1943" stop-color="#000016"/><stop offset=".2019" stop-color="#00001f"/><stop offset=".2358" stop-color="#060d89"/><stop offset=".2509" stop-color="#0a18b6"/><stop offset=".2585" stop-color="#0c1ac2"/><stop offset=".266" stop-color="#0e20d9"/><stop offset=".2736" stop-color="#0f22e1"/><stop offset=".3" stop-color="#1b35f5"/><stop offset=".3491" stop-color="#1830f1"/><stop offset=".3528" stop-color="#2c4aff"/><stop offset=".3566" stop-color="#7068fb"/><stop offset=".3604" stop-color="#ed41b9"/><stop offset=".3642" stop-color="#ff2443"/><stop offset=".3679" stop-color="#ff3429"/><stop offset=".3717" stop-color="#fd7d4c"/><stop offset=".3755" stop-color="#fba663"/><stop offset=".3792" stop-color="#fc9b5c"/><stop offset=".383" stop-color="#ff412c"/><stop offset=".3868" stop-color="#ff2135"/><stop offset=".3906" stop-color="#e743c0"/><stop offset=".3943" stop-color="#4d65fe"/><stop offset=".3981" stop-color="#152dee"/><stop offset=".4019" stop-color="#050b82"/><stop offset=".4057" stop-color="#01012b"/><stop offset=".4094" stop-color="#000012"/><stop offset=".4132" stop-color="#00000d"/><stop offset=".417" stop-color="#000014"/><stop offset=".4208" stop-color="#01012c"/><stop offset=".4283" stop-color="#050975"/><stop offset=".4321" stop-color="#060d89"/><stop offset=".4396" stop-color="#071095"/><stop offset=".5679" stop-color="#050a7d"/><stop offset=".6472" stop-color="#070f93"/><stop offset=".7755" stop-color="#1025e8"/><stop offset=".8434" stop-color="#1c36f6"/><stop offset=".866" stop-color="#3856ff"/><stop offset=".8811" stop-color="#5866fd"/><stop offset=".8962" stop-color="#8864f7"/><stop offset=".9151" stop-color="#ca4ee3"/><stop offset=".9377" stop-color="#f93cab"/><stop offset=".9604" stop-color="#fc3488"/><stop offset=".9868" stop-color="#fd317c"/><stop offset=".9943" stop-color="#fd327f"/><stop offset=".9981" stop-color="#9061f5"/></linearGradient>
<linearGradient id="h68"><stop offset=".0019" stop-color="#00000c"/><stop offset=".183" stop-color="#000016"/><stop offset=".1906" stop-color="#000020"/><stop offset=".2208" stop-color="#060d89"/><stop offset=".2283" stop-color="#0913a3"/><stop offset=".2472" stop-color="#0e21de"/><stop offset=".2623" stop-color="#142bed"/><stop offset=".3038" stop-color="#1d38f8"/><stop offset=".3453" stop-color="#1931f2"/><stop offset=".3491" stop-color="#314fff"/><stop offset=".3528" stop-color="#7569fa"/><stop offset=".3566" stop-color="#ed41b9"/><stop offset=".3604" stop-color="#ff2548"/><stop offset=".3642" stop-color="#ff3129"/><stop offset=".3679" stop-color="#fd6f45"/><stop offset=".3717" stop-color="#fc9b5c"/><stop offset=".3755" stop-color="#fc965a"/><stop offset=".3792" stop-color="#fe5135"/><stop offset=".383" stop-color="#ff2128"/><stop offset=".3868" stop-color="#fb3899"/><stop offset=".3906" stop-color="#7168fb"/><stop offset=".3943" stop-color="#1e39f8"/><stop offset=".3981" stop-color="#0913a3"/><stop offset=".4019" stop-color="#020442"/><stop offset=".4057" stop-color="#000018"/><stop offset=".4094" stop-color="#00000e"/><stop offset=".4132" stop-color="#000011"/><stop offset=".417" stop-color="#00001d"/><stop offset=".4245" stop-color="#04086b"/><stop offset=".4283" stop-color="#060c83"/><stop offset=".4358" stop-color="#071096"/><stop offset=".5679" stop-color="#050a7d"/><stop offset=".6472" stop-color="#070f92"/><stop offset=".7792" stop-color="#1125e8"/><stop offset=".8396" stop-color="#1d37f7"/><stop offset=".8623" stop-color="#3a58ff"/><stop offset=".8736" stop-color="#5065fe"/><stop offset=".8925" stop-color="#8a63f6"/><stop offset=".9075" stop-color="#c151eb"/><stop offset=".934" stop-color="#f83dad"/><stop offset=".9566" stop-color="#fc358b"/><stop offset=".9868" stop-color="#fd3383"/><stop offset=".9943" stop-color="#fc3488"/><stop offset=".9981" stop-color="#8963f7"/></linearGradient>
<linearGradient id="h69"><stop offset=".0019" stop-color="#00000d"/><stop offset=".1717" stop-color="#000018"/><stop offset=".183" stop-color="#01022e"/><stop offset=".2019" stop-color="#040973"/><stop offset=".2283" stop-color="#0d1fd4"/><stop offset=".2396" stop-color="#1227ea"/><stop offset=".2811" stop-color="#1f3bfa"/><stop offset=".3415" stop-color="#1a34f4"/><stop offset=".3453" stop-color="#3957ff"/><stop offset=".3491" stop-color="#8166f8"/><stop offset=".3528" stop-color="#f23fb4"/><stop offset=".3566" stop-color="#ff254a"/><stop offset=".3604" stop-color="#ff2e29"/><stop offset=".3679" stop-color="#fd8f56"/><stop offset=".3717" stop-color="#fd8e55"/><stop offset=".3792" stop-color="#ff2829"/><stop offset=".383" stop-color="#fd3078"/><stop offset=".3868" stop-color="#965ff4"/><stop offset=".3906" stop-color="#2c4aff"/><stop offset=".3943" stop-color="#0d1dcd"/><stop offset=".3981" stop-color="#03075f"/><stop offset=".4019" stop-color="#000022"/><stop offset=".4057" stop-color="#000012"/><stop offset=".4094" stop-color="#00000f"/><stop offset=".4132" stop-color="#000018"/><stop offset=".417" stop-color="#010336"/><stop offset=".4208" stop-color="#03075e"/><stop offset=".4245" stop-color="#050a7c"/><stop offset=".4283" stop-color="#070e8f"/><stop offset=".4396" stop-color="#081199"/><stop offset=".5642" stop-color="#050a7d"/><stop offset=".6434" stop-color="#070f90"/><stop offset=".7792" stop-color="#1025e8"/><stop offset=".8321" stop-color="#1b35f5"/><stop offset=".8509" stop-color="#304eff"/><stop offset=".8698" stop-color="#5265fe"/><stop offset=".8849" stop-color="#7e67f9"/><stop offset=".9038" stop-color="#c151eb"/><stop offset=".934" stop-color="#fa3ca8"/><stop offset=".9566" stop-color="#fc358c"/><stop offset=".983" stop-color="#fc3489"/><stop offset=".9943" stop-color="#fc3793"/><stop offset=".9981" stop-color="#7f67f9"/></linearGradient>
<linearGradient id="h70"><stop offset=".0019" stop-color="#00000e"/><stop offset=".1604" stop-color="#000017"/><stop offset=".1679" stop-color="#000022"/><stop offset=".1981" stop-color="#070f90"/><stop offset=".2132" stop-color="#0d1ed1"/><stop offset=".2208" stop-color="#1024e7"/><stop offset=".2585" stop-color="#203cfb"/><stop offset=".334" stop-color="#1a34f4"/><stop offset=".3377" stop-color="#213efd"/><stop offset=".3415" stop-color="#4361ff"/><stop offset=".3453" stop-color="#9b5df3"/><stop offset=".3491" stop-color="#fa3ca9"/><stop offset=".3528" stop-color="#ff2548"/><stop offset=".3566" stop-color="#ff2d29"/><stop offset=".3604" stop-color="#fe5537"/><stop offset=".3642" stop-color="#fd8350"/><stop offset=".3679" stop-color="#fd8953"/><stop offset=".3755" stop-color="#ff2c29"/><stop offset=".3792" stop-color="#ff2a60"/><stop offset=".383" stop-color="#c051ec"/><stop offset=".3868" stop-color="#3d5bff"/><stop offset=".3906" stop-color="#1228ea"/><stop offset=".3943" stop-color="#050a78"/><stop offset=".3981" stop-color="#010338"/><stop offset=".4019" stop-color="#000018"/><stop offset=".4057" stop-color="#000010"/><stop offset=".4094" stop-color="#000014"/><stop offset=".4132" stop-color="#000126"/><stop offset=".4208" stop-color="#040973"/><stop offset=".4245" stop-color="#060d8a"/><stop offset=".4321" stop-color="#08119b"/><stop offset=".5679" stop-color="#050a7e"/><stop offset=".6472" stop-color="#070f92"/><stop offset=".7792" stop-color="#1025e8"/><stop offset=".8245" stop-color="#1932f2"/><stop offset=".8472" stop-color="#3250ff"/><stop offset=".866" stop-color="#5666fd"/><stop offset=".8811" stop-color="#8066f8"/><stop offset=".9" stop-color="#c350eb"/><stop offset=".9302" stop-color="#f93cab"/><stop offset=".9566" stop-color="#fc358e"/><stop offset=".983" stop-color="#fc3692"/><stop offset=".9943" stop-color="#fb3aa0"/><stop offset=".9981" stop-color="#7569fa"/></linearGradient>
<linearGradient id="h71"><stop offset=".0019" stop-color="#00000f"/><stop offset=".1528" stop-color="#00001d"/><stop offset=".1679" stop-color="#020448"/><stop offset=".2057" stop-color="#0e21dd"/><stop offset=".2132" stop-color="#1228ea"/><stop offset=".2472" stop-color="#213efd"/><stop offset=".3302" stop-color="#1b35f5"/><stop offset=".334" stop-color="#2f4dff"/><stop offset=".3377" stop-color="#5b66fd"/><stop offset=".3415" stop-color="#b953ed"/><stop offset=".3453" stop-color="#fb3797"/><stop offset=".3491" stop-color="#ff2443"/><stop offset=".3528" stop-color="#ff2d29"/><stop offset=".3566" stop-color="#ff4b32"/><stop offset=".3604" stop-color="#fd7749"/><stop offset=".3642" stop-color="#fd804e"/><stop offset=".3679" stop-color="#fe5d3c"/><stop offset=".3717" stop-color="#ff2e29"/><stop offset=".3755" stop-color="#ff274f"/><stop offset=".3792" stop-color="#da48d0"/><stop offset=".383" stop-color="#5165fe"/><stop offset=".3868" stop-color="#1932f2"/><stop offset=".3906" stop-color="#08119b"/><stop offset=".3943" stop-color="#03054e"/><stop offset=".3981" stop-color="#000020"/><stop offset=".4019" stop-color="#000012"/><stop offset=".4057" stop-color="#000011"/><stop offset=".4094" stop-color="#00001b"/><stop offset=".417" stop-color="#040866"/><stop offset=".4208" stop-color="#060c84"/><stop offset=".4245" stop-color="#071095"/><stop offset=".4358" stop-color="#08129e"/><stop offset=".5642" stop-color="#050a7f"/><stop offset=".6434" stop-color="#070f91"/><stop offset=".7792" stop-color="#1025e8"/><stop offset=".8208" stop-color="#1a33f4"/><stop offset=".8396" stop-color="#2e4cff"/><stop offset=".8585" stop-color="#4e65fe"/><stop offset=".8774" stop-color="#8365f8"/><stop offset=".9" stop-color="#ca4de3"/><stop offset=".9264" stop-color="#f63eaf"/><stop offset=".9566" stop-color="#fc3691"/><stop offset=".983" stop-color="#fb399d"/><stop offset=".9943" stop-color="#f73dae"/><stop offset=".9981" stop-color="#6c68fb"/></linearGradient>
<linearGradient id="h72"><stop offset=".0019" stop-color="#000011"/><stop offset=".1415" stop-color="#00001e"/><stop offset=".1679" stop-color="#040971"/><stop offset=".1943" stop-color="#0f22e1"/><stop offset=".2245" stop-color="#203cfb"/><stop offset=".3189" stop-color="#1c37f6"/><stop offset=".3226" stop-color="#1c36f6"/><stop offset=".3264" stop-color="#2543ff"/><stop offset=".3302" stop-color="#4260ff"/><stop offset=".334" stop-color="#7b68f9"/><stop offset=".3377" stop-color="#d649d5"/><stop offset=".3415" stop-color="#fd327f"/><stop offset=".3453" stop-color="#ff2239"/><stop offset=".3491" stop-color="#ff2e29"/><stop offset=".3528" stop-color="#ff452f"/><stop offset=".3566" stop-color="#fe6c44"/><stop offset=".3604" stop-color="#fd7548"/><stop offset=".3679" stop-color="#ff3029"/><stop offset=".3717" stop-color="#ff2445"/><stop offset=".3755" stop-color="#ec41ba"/><stop offset=".3792" stop-color="#6567fc"/><stop offset=".383" stop-color="#203dfc"/><stop offset=".3868" stop-color="#0b19bc"/><stop offset=".3906" stop-color="#040866"/><stop offset=".3943" stop-color="#010337"/><stop offset=".3981" stop-color="#000018"/><stop offset=".4019" stop-color="#000011"/><stop offset=".4057" stop-color="#000016"/><stop offset=".4094" stop-color="#01022d"/><stop offset=".417" stop-color="#050a7a"/><stop offset=".4208" stop-color="#070f91"/><stop offset=".4283" stop-color="#0813a1"/><stop offset=".5679" stop-color="#050b81"/><stop offset=".6472" stop-color="#070f93"/><stop offset=".7792" stop-color="#1025e8"/><stop offset=".8132" stop-color="#1831f1"/><stop offset=".8358" stop-color="#304eff"/><stop offset=".8547" stop-color="#5265fe"/><stop offset=".8736" stop-color="#8565f7"/><stop offset=".8925" stop-color="#c250eb"/><stop offset=".9226" stop-color="#f43eb1"/><stop offset=".9566" stop-color="#fb3795"/><stop offset=".983" stop-color="#fa3caa"/><stop offset=".9943" stop-color="#ea42bc"/><stop offset=".9981" stop-color="#6367fc"/></linearGradient>
<linearGradient id="h73"><stop offset=".0019" stop-color="#000012"/><stop offset=".1189" stop-color="#00001e"/><stop offset=".1377" stop-color="#02033f"/><stop offset=".1566" stop-color="#040972"/><stop offset=".183" stop-color="#0e21dc"/><stop offset=".1906" stop-color="#1329eb"/><stop offset=".2245" stop-color="#2341ff"/><stop offset=".3151" stop-color="#1d38f7"/><stop offset=".3189" stop-color="#223ffd"/><stop offset=".3226" stop-color="#3a58ff"/><stop offset=".3264" stop-color="#6567fc"/><stop offset=".3302" stop-color="#ae57ef"/><stop offset=".334" stop-color="#f43eb1"/><stop offset=".3377" stop-color="#ff2b62"/><stop offset=".3415" stop-color="#ff1f2d"/><stop offset=".3491" stop-color="#ff422d"/><stop offset=".3528" stop-color="#fe613e"/><stop offset=".3566" stop-color="#fe6a42"/><stop offset=".3642" stop-color="#ff3029"/><stop offset=".3679" stop-color="#ff233f"/><stop offset=".3717" stop-color="#f73dae"/><stop offset=".3755" stop-color="#7969fa"/><stop offset=".3792" stop-color="#2a48ff"/><stop offset=".383" stop-color="#0d1fd4"/><stop offset=".3868" stop-color="#050a7b"/><stop offset=".3943" stop-color="#000021"/><stop offset=".3981" stop-color="#000014"/><stop offset=".4019" stop-color="#000013"/><stop offset=".4057" stop-color="#00001e"/><stop offset=".4132" stop-color="#04086e"/><stop offset=".417" stop-color="#060d8b"/><stop offset=".4245" stop-color="#0913a3"/><stop offset=".5717" stop-color="#060b83"/><stop offset=".6509" stop-color="#071096"/><stop offset=".7792" stop-color="#1025e8"/><stop offset=".8094" stop-color="#1932f3"/><stop offset=".8321" stop-color="#3250ff"/><stop offset=".8509" stop-color="#5465fe"/><stop offset=".8698" stop-color="#8864f7"/><stop offset=".8925" stop-color="#ca4ee3"/><stop offset=".9189" stop-color="#f13fb5"/><stop offset=".9453" stop-color="#fb399e"/><stop offset=".9679" stop-color="#fa3ba4"/><stop offset=".9906" stop-color="#e344c5"/><stop offset=".9943" stop-color="#dd47cc"/><stop offset=".9981" stop-color="#5866fd"/></linearGradient>
<linearGradient id="h74"><stop offset=".0019" stop-color="#000013"/><stop offset=".1" stop-color="#00001f"/><stop offset=".1415" stop-color="#040970"/><stop offset=".1528" stop-color="#070f92"/><stop offset=".1717" stop-color="#0e21dd"/><stop offset=".1868" stop-color="#1931f2"/><stop offset=".2208" stop-color="#2543ff"/><stop offset=".3075" stop-color="#1e39f8"/><stop offset=".3113" stop-color="#2240fe"/><stop offset=".3151" stop-color="#3856ff"/><stop offset=".3189" stop-color="#5a66fd"/><stop offset=".3226" stop-color="#965ff4"/><stop offset=".3264" stop-color="#da48d0"/><stop offset=".3302" stop-color="#fc3487"/><stop offset=".334" stop-color="#ff254a"/><stop offset=".3377" stop-color="#ff2328"/><stop offset=".3453" stop-color="#ff3f2b"/><stop offset=".3491" stop-color="#fe593a"/><stop offset=".3528" stop-color="#fe5c3b"/><stop offset=".3566" stop-color="#ff3e2b"/><stop offset=".3604" stop-color="#ff2e29"/><stop offset=".3642" stop-color="#ff233e"/><stop offset=".3679" stop-color="#fb3aa2"/><stop offset=".3717" stop-color="#8e62f6"/><stop offset=".3755" stop-color="#3250ff"/><stop offset=".3792" stop-color="#1126e8"/><stop offset=".383" stop-color="#070f91"/><stop offset=".3906" stop-color="#010337"/><stop offset=".3943" stop-color="#000018"/><stop offset=".3981" stop-color="#000012"/><stop offset=".4019" stop-color="#000018"/><stop offset=".4057" stop-color="#010235"/><stop offset=".4132" stop-color="#050b81"/><stop offset=".417" stop-color="#081199"/><stop offset=".4245" stop-color="#0914a8"/><stop offset=".5717" stop-color="#060c85"/><stop offset=".6509" stop-color="#081098"/><stop offset=".7792" stop-color="#1125e8"/><stop offset=".8057" stop-color="#1a34f4"/><stop offset=".8245" stop-color="#2e4cff"/><stop offset=".8434" stop-color="#4e65fe"/><stop offset=".866" stop-color="#8a63f6"/><stop offset=".8887" stop-color="#c84ee5"/><stop offset=".9189" stop-color="#f13fb4"/><stop offset=".9491" stop-color="#fa3ba4"/><stop offset=".9717" stop-color="#f13fb5"/><stop offset=".9943" stop-color="#ce4cde"/><stop offset=".9981" stop-color="#4d65fe"/></linearGradient>
<linearGradient id="h75"><stop offset=".0019" stop-color="#000015"/><stop offset=".0849" stop-color="#00001f"/><stop offset=".1453" stop-color="#0914a7"/><stop offset=".1642" stop-color="#1024e7"/><stop offset=".2019" stop-color="#2543ff"/><stop offset=".3" stop-color="#1f3af9"/><stop offset=".3038" stop-color="#2340fe"/><stop offset=".3075" stop-color="#3755ff"/><stop offset=".3113" stop-color="#5966fd"/><stop offset=".3151" stop-color="#8d62f6"/><stop offset=".3189" stop-color="#cd4cdf"/><stop offset=".3226" stop-color="#fa3aa3"/><stop offset=".3264" stop-color="#ff2a5f"/><stop offset=".3302" stop-color="#ff2134"/><stop offset=".334" stop-color="#ff2929"/><stop offset=".3453" stop-color="#fe5035"/><stop offset=".3491" stop-color="#ff4c32"/><stop offset=".3566" stop-color="#ff2b29"/><stop offset=".3604" stop-color="#ff2442"/><stop offset=".3642" stop-color="#fb399e"/><stop offset=".3679" stop-color="#9b5df3"/><stop offset=".3717" stop-color="#3a58ff"/><stop offset=".3755" stop-color="#162dee"/><stop offset=".3792" stop-color="#0913a4"/><stop offset=".3906" stop-color="#000123"/><stop offset=".3943" stop-color="#000015"/><stop offset=".3981" stop-color="#000015"/><stop offset=".4019" stop-color="#000124"/><stop offset=".4094" stop-color="#050975"/><stop offset=".4132" stop-color="#070f93"/><stop offset=".4208" stop-color="#0915ab"/><stop offset=".5755" stop-color="#060d88"/><stop offset=".6547" stop-color="#08119c"/><stop offset=".7792" stop-color="#1126e8"/><stop offset=".7981" stop-color="#1831f2"/><stop offset=".8208" stop-color="#304eff"/><stop offset=".8396" stop-color="#5065fe"/><stop offset=".8585" stop-color="#8066f8"/><stop offset=".8849" stop-color="#c84ee5"/><stop offset=".9189" stop-color="#f13fb5"/><stop offset=".9491" stop-color="#f83dac"/><stop offset=".9717" stop-color="#e643c1"/><stop offset=".9943" stop-color="#bd52ec"/><stop offset=".9981" stop-color="#4462ff"/></linearGradient>
<linearGradient id="h76"><stop offset=".0019" stop-color="#000016"/><stop offset=".0698" stop-color="#00001e"/><stop offset=".0811" stop-color="#010235"/><stop offset=".1377" stop-color="#0c1bc3"/><stop offset=".1528" stop-color="#1126e8"/><stop offset=".1906" stop-color="#2543ff"/><stop offset=".2925" stop-color="#1f3cfa"/><stop offset=".2962" stop-color="#2341ff"/><stop offset=".3" stop-color="#3755ff"/><stop offset=".3038" stop-color="#5766fd"/><stop offset=".3075" stop-color="#8465f8"/><stop offset=".3113" stop-color="#c84ee5"/><stop offset=".3151" stop-color="#f63daf"/><stop offset=".3189" stop-color="#fe2f73"/><stop offset=".3226" stop-color="#ff2444"/><stop offset=".3264" stop-color="#ff2228"/><stop offset=".3415" stop-color="#ff4b32"/><stop offset=".3528" stop-color="#ff2729"/><stop offset=".3566" stop-color="#ff2548"/><stop offset=".3604" stop-color="#fb3aa1"/><stop offset=".3642" stop-color="#9b5df3"/><stop offset=".3679" stop-color="#3e5cff"/><stop offset=".3717" stop-color="#1932f3"/><stop offset=".3755" stop-color="#0a17b4"/><stop offset=".3792" stop-color="#070f93"/><stop offset=".3868" stop-color="#010339"/><stop offset=".3906" stop-color="#00001a"/><stop offset=".3943" stop-color="#000015"/><stop offset=".3981" stop-color="#00001b"/><stop offset=".4094" stop-color="#060d89"/><stop offset=".4132" stop-color="#0812a1"/><stop offset=".4208" stop-color="#0a16b0"/><stop offset=".5717" stop-color="#060e8c"/><stop offset=".6509" stop-color="#08129d"/><stop offset=".7755" stop-color="#1125e8"/><stop offset=".8019" stop-color="#1f3bfa"/><stop offset=".8358" stop-color="#5265fe"/><stop offset=".8547" stop-color="#8266f8"/><stop offset=".8811" stop-color="#c74ee6"/><stop offset=".9113" stop-color="#e942be"/><stop offset=".9415" stop-color="#f43eb1"/><stop offset=".9679" stop-color="#e045c8"/><stop offset=".9868" stop-color="#bd52ec"/><stop offset=".9943" stop-color="#a55af1"/><stop offset=".9981" stop-color="#3d5bff"/></linearGradient>
<linearGradient id="h77"><stop offset=".0019" stop-color="#000018"/><stop offset=".0623" stop-color="#000125"/><stop offset=".1151" stop-color="#0b19bb"/><stop offset=".134" stop-color="#0f22e3"/><stop offset=".1792" stop-color="#2644ff"/><stop offset=".2849" stop-color="#203dfb"/><stop offset=".2887" stop-color="#2543ff"/><stop offset=".2962" stop-color="#5365fe"/><stop offset=".3" stop-color="#7d67f9"/><stop offset=".3038" stop-color="#c151eb"/><stop offset=".3075" stop-color="#ed41b9"/><stop offset=".3113" stop-color="#fd327f"/><stop offset=".3151" stop-color="#ff274f"/><stop offset=".3189" stop-color="#ff1f2d"/><stop offset=".334" stop-color="#ff412d"/><stop offset=".3377" stop-color="#ff442e"/><stop offset=".3491" stop-color="#ff2228"/><stop offset=".3528" stop-color="#ff2753"/><stop offset=".3566" stop-color="#f83dac"/><stop offset=".3604" stop-color="#9b5df3"/><stop offset=".3642" stop-color="#3e5cff"/><stop offset=".3679" stop-color="#1a34f4"/><stop offset=".3717" stop-color="#0c1ac2"/><stop offset=".3755" stop-color="#0914a8"/><stop offset=".3868" stop-color="#000125"/><stop offset=".3906" stop-color="#000016"/><stop offset=".3943" stop-color="#000018"/><stop offset=".3981" stop-color="#01012b"/><stop offset=".4057" stop-color="#050a7c"/><stop offset=".4094" stop-color="#08119b"/><stop offset=".417" stop-color="#0a17b3"/><stop offset=".5755" stop-color="#070e90"/><stop offset=".6547" stop-color="#0813a2"/><stop offset=".7755" stop-color="#1126e8"/><stop offset=".8094" stop-color="#2e4cff"/><stop offset=".8321" stop-color="#5566fd"/><stop offset=".8509" stop-color="#8565f7"/><stop offset=".8774" stop-color="#c64fe7"/><stop offset=".9151" stop-color="#eb42bc"/><stop offset=".9415" stop-color="#ed41ba"/><stop offset=".9679" stop-color="#d44ad7"/><stop offset=".983" stop-color="#b156ef"/><stop offset=".9943" stop-color="#8d62f6"/><stop offset=".9981" stop-color="#3654ff"/></linearGradient>
<linearGradient id="h78"><stop offset=".0019" stop-color="#00001a"/><stop offset=".0509" stop-color="#000124"/><stop offset=".0887" stop-color="#071096"/><stop offset=".1151" stop-color="#0f23e4"/><stop offset=".1717" stop-color="#2745ff"/><stop offset=".2774" stop-color="#213efc"/><stop offset=".2811" stop-color="#2745ff"/><stop offset=".2887" stop-color="#5666fd"/><stop offset=".2925" stop-color="#7c68f9"/><stop offset=".2962" stop-color="#b654ee"/><stop offset=".3" stop-color="#e444c4"/><stop offset=".3038" stop-color="#fc358b"/><stop offset=".3075" stop-color="#ff295a"/><stop offset=".3113" stop-color="#ff2137"/><stop offset=".3151" stop-color="#ff2528"/><stop offset=".3264" stop-color="#ff3b2a"/><stop offset=".3377" stop-color="#ff372a"/><stop offset=".3453" stop-color="#ff1f2b"/><stop offset=".3491" stop-color="#ff2a5f"/><stop offset=".3528" stop-color="#ef40b8"/><stop offset=".3566" stop-color="#8e62f6"/><stop offset=".3604" stop-color="#3f5dff"/><stop offset=".3642" stop-color="#1c36f6"/><stop offset=".3679" stop-color="#0d1dcd"/><stop offset=".3717" stop-color="#0b18b9"/><stop offset=".3755" stop-color="#071097"/><stop offset=".383" stop-color="#02033b"/><stop offset=".3868" stop-color="#00001b"/><stop offset=".3906" stop-color="#000017"/><stop offset=".3943" stop-color="#00001e"/><stop offset=".4057" stop-color="#070f91"/><stop offset=".4094" stop-color="#0915a9"/><stop offset=".417" stop-color="#0b18b9"/><stop offset=".5755" stop-color="#070f94"/><stop offset=".6547" stop-color="#0914a5"/><stop offset=".7755" stop-color="#1228ea"/><stop offset=".8019" stop-color="#2a48ff"/><stop offset=".8245" stop-color="#4e65fe"/><stop offset=".8472" stop-color="#8764f7"/><stop offset=".8698" stop-color="#c051ec"/><stop offset=".9075" stop-color="#e444c4"/><stop offset=".934" stop-color="#e743c0"/><stop offset=".9604" stop-color="#d04bdb"/><stop offset=".9755" stop-color="#b256ee"/><stop offset=".9943" stop-color="#7569fa"/><stop offset=".9981" stop-color="#2f4dff"/></linearGradient>
<linearGradient id="h79"><stop offset=".0019" stop-color="#00001c"/><stop offset=".0396" stop-color="#000126"/><stop offset=".0623" stop-color="#040867"/><stop offset=".0962" stop-color="#0e1fd7"/><stop offset=".1075" stop-color="#1228ea"/><stop offset=".1604" stop-color="#2846ff"/><stop offset=".2698" stop-color="#223ffd"/><stop offset=".2774" stop-color="#3e5cff"/><stop offset=".2811" stop-color="#5b66fd"/><stop offset=".2849" stop-color="#8166f8"/><stop offset=".2887" stop-color="#b654ee"/><stop offset=".2925" stop-color="#e045c9"/><stop offset=".2962" stop-color="#fb3899"/><stop offset=".3" stop-color="#ff2b64"/><stop offset=".3038" stop-color="#ff2341"/><stop offset=".3075" stop-color="#ff2028"/><stop offset=".3189" stop-color="#ff382a"/><stop offset=".3302" stop-color="#ff392a"/><stop offset=".3377" stop-color="#ff2829"/><stop offset=".3415" stop-color="#ff223a"/><stop offset=".3453" stop-color="#fe2f73"/><stop offset=".3491" stop-color="#de46cb"/><stop offset=".3528" stop-color="#8266f8"/><stop offset=".3566" stop-color="#3a58ff"/><stop offset=".3604" stop-color="#1b34f4"/><stop offset=".3642" stop-color="#0e1fd7"/><stop offset=".3679" stop-color="#0c1cc7"/><stop offset=".3717" stop-color="#0915ac"/><stop offset=".383" stop-color="#010129"/><stop offset=".3868" stop-color="#000019"/><stop offset=".3906" stop-color="#00001b"/><stop offset=".3943" stop-color="#010233"/><stop offset=".4019" stop-color="#060c84"/><stop offset=".4057" stop-color="#0913a3"/><stop offset=".4132" stop-color="#0b19bc"/><stop offset=".4962" stop-color="#0914a8"/><stop offset=".5906" stop-color="#081198"/><stop offset=".6736" stop-color="#0a16b1"/><stop offset=".7717" stop-color="#1329eb"/><stop offset=".7981" stop-color="#2c4aff"/><stop offset=".8208" stop-color="#5065fe"/><stop offset=".8434" stop-color="#8864f7"/><stop offset=".8698" stop-color="#c64fe8"/><stop offset=".9075" stop-color="#e145c7"/><stop offset=".934" stop-color="#df46ca"/><stop offset=".9604" stop-color="#c250eb"/><stop offset=".9906" stop-color="#6e68fb"/><stop offset=".9943" stop-color="#6467fc"/><stop offset=".9981" stop-color="#2745ff"/></linearGradient>
<linearGradient id="h80"><stop offset=".0019" stop-color="#00001e"/><stop offset=".0321" stop-color="#01022d"/><stop offset=".0698" stop-color="#0915a9"/><stop offset=".0887" stop-color="#1024e7"/><stop offset=".1377" stop-color="#2543ff"/><stop offset=".2623" stop-color="#2341ff"/><stop offset=".2698" stop-color="#4462ff"/><stop offset=".2774" stop-color="#8465f8"/><stop offset=".2811" stop-color="#b953ed"/><stop offset=".2849" stop-color="#e046c9"/><stop offset=".2887" stop-color="#fb399d"/><stop offset=".2962" stop-color="#ff254a"/><stop offset=".3" stop-color="#ff1f2e"/><stop offset=".3151" stop-color="#ff392a"/><stop offset=".3264" stop-color="#ff362a"/><stop offset=".334" stop-color="#ff2128"/><stop offset=".3377" stop-color="#ff264b"/><stop offset=".3415" stop-color="#fc358c"/><stop offset=".3453" stop-color="#cf4cdd"/><stop offset=".3491" stop-color="#6e68fb"/><stop offset=".3528" stop-color="#3654ff"/><stop offset=".3566" stop-color="#1a33f3"/><stop offset=".3604" stop-color="#0e21df"/><stop offset=".3679" stop-color="#0b19be"/><stop offset=".3717" stop-color="#08119b"/><stop offset=".3792" stop-color="#02033e"/><stop offset=".383" stop-color="#00001d"/><stop offset=".3868" stop-color="#000019"/><stop offset=".3906" stop-color="#000124"/><stop offset=".4019" stop-color="#08119a"/><stop offset=".4057" stop-color="#0a17b2"/><stop offset=".4132" stop-color="#0c1bc3"/><stop offset=".5792" stop-color="#08129d"/><stop offset=".6623" stop-color="#0a16b0"/><stop offset=".7679" stop-color="#142aec"/><stop offset=".7906" stop-color="#2846ff"/><stop offset=".817" stop-color="#5365fe"/><stop offset=".8396" stop-color="#8a63f6"/><stop offset=".866" stop-color="#c450e9"/><stop offset=".9" stop-color="#dc47ce"/><stop offset=".9264" stop-color="#db47ce"/><stop offset=".9528" stop-color="#c051ec"/><stop offset=".983" stop-color="#6e68fb"/><stop offset=".9943" stop-color="#5265fe"/><stop offset=".9981" stop-color="#213efd"/></linearGradient>
<linearGradient id="h81"><stop offset=".0019" stop-color="#000123"/><stop offset=".0208" stop-color="#01022e"/><stop offset=".0472" stop-color="#050a7e"/><stop offset=".0736" stop-color="#0e21e0"/><stop offset=".1113" stop-color="#213efc"/><stop offset=".1604" stop-color="#2a48ff"/><stop offset=".2547" stop-color="#2745ff"/><stop offset=".2623" stop-color="#4964ff"/><stop offset=".266" stop-color="#6667fc"/><stop offset=".2736" stop-color="#be52ec"/><stop offset=".2811" stop-color="#fb399e"/><stop offset=".2887" stop-color="#ff2750"/><stop offset=".2925" stop-color="#ff2136"/><stop offset=".2962" stop-color="#ff2328"/><stop offset=".3113" stop-color="#ff382a"/><stop offset=".3226" stop-color="#ff3129"/><stop offset=".3264" stop-color="#ff2729"/><stop offset=".3302" stop-color="#ff2033"/><stop offset=".334" stop-color="#ff2a5e"/><stop offset=".3377" stop-color="#fa3caa"/><stop offset=".3415" stop-color="#b953ed"/><stop offset=".3453" stop-color="#6167fc"/><stop offset=".3491" stop-color="#314fff"/><stop offset=".3528" stop-color="#172ff0"/><stop offset=".3604" stop-color="#0e21de"/><stop offset=".3642" stop-color="#0d1dcd"/><stop offset=".3679" stop-color="#0a16b1"/><stop offset=".3792" stop-color="#01022d"/><stop offset=".383" stop-color="#00001b"/><stop offset=".3868" stop-color="#00001d"/><stop offset=".3906" stop-color="#010339"/><stop offset=".3981" stop-color="#070e8d"/><stop offset=".4019" stop-color="#0915ac"/><stop offset=".4094" stop-color="#0c1bc6"/><stop offset=".4774" stop-color="#0b18b8"/><stop offset=".583" stop-color="#0913a2"/><stop offset=".666" stop-color="#0a17b6"/><stop offset=".7604" stop-color="#1227e9"/><stop offset=".7868" stop-color="#2a48ff"/><stop offset=".8094" stop-color="#4b65fe"/><stop offset=".8321" stop-color="#8066f8"/><stop offset=".8585" stop-color="#be52ec"/><stop offset=".8925" stop-color="#d749d3"/><stop offset=".9226" stop-color="#d54ad6"/><stop offset=".9453" stop-color="#bb53ed"/><stop offset=".9755" stop-color="#6f68fb"/><stop offset=".9943" stop-color="#4361ff"/><stop offset=".9981" stop-color="#1d38f8"/></linearGradient>
<linearGradient id="h82"><stop offset=".0019" stop-color="#010129"/><stop offset=".0132" stop-color="#010337"/><stop offset=".0396" stop-color="#060d8a"/><stop offset=".066" stop-color="#1024e7"/><stop offset=".1075" stop-color="#2644ff"/><stop offset=".2057" stop-color="#2745ff"/><stop offset=".2434" stop-color="#2442ff"/><stop offset=".2509" stop-color="#3c5aff"/><stop offset=".2585" stop-color="#6b68fb"/><stop offset=".266" stop-color="#c350eb"/><stop offset=".2698" stop-color="#e544c3"/><stop offset=".2736" stop-color="#fb399d"/><stop offset=".2811" stop-color="#ff2753"/><stop offset=".2887" stop-color="#ff2028"/><stop offset=".3038" stop-color="#ff362a"/><stop offset=".3151" stop-color="#ff3329"/><stop offset=".3226" stop-color="#ff2128"/><stop offset=".3264" stop-color="#ff2445"/><stop offset=".3302" stop-color="#fd3078"/><stop offset=".334" stop-color="#e643c1"/><stop offset=".3377" stop-color="#985ef4"/><stop offset=".3415" stop-color="#5065fe"/><stop offset=".3453" stop-color="#2846ff"/><stop offset=".3491" stop-color="#152bed"/><stop offset=".3566" stop-color="#0f23e6"/><stop offset=".3604" stop-color="#0e20da"/><stop offset=".3642" stop-color="#0c1bc3"/><stop offset=".3679" stop-color="#08129f"/><stop offset=".3755" stop-color="#020442"/><stop offset=".3792" stop-color="#000021"/><stop offset=".383" stop-color="#00001c"/><stop offset=".3868" stop-color="#01012c"/><stop offset=".3981" stop-color="#0913a3"/><stop offset=".4019" stop-color="#0b19bb"/><stop offset=".4094" stop-color="#0d1dcd"/><stop offset=".583" stop-color="#0914a7"/><stop offset=".6698" stop-color="#0b19bc"/><stop offset=".7566" stop-color="#1228ea"/><stop offset=".783" stop-color="#2b49ff"/><stop offset=".8057" stop-color="#4d65fe"/><stop offset=".8283" stop-color="#8166f8"/><stop offset=".8547" stop-color="#bc52ec"/><stop offset=".8849" stop-color="#d34ad8"/><stop offset=".9151" stop-color="#d14bdb"/><stop offset=".9377" stop-color="#b854ed"/><stop offset=".9679" stop-color="#6e68fb"/><stop offset=".9906" stop-color="#3e5cff"/><stop offset=".9943" stop-color="#3957ff"/><stop offset=".9981" stop-color="#1932f3"/></linearGradient>
<linearGradient id="h83"><stop offset=".0019" stop-color="#010234"/><stop offset=".0321" stop-color="#071095"/><stop offset=".0547" stop-color="#0f23e6"/><stop offset=".0962" stop-color="#2644ff"/><stop offset=".1943" stop-color="#2846ff"/><stop offset=".2358" stop-color="#2543ff"/><stop offset=".2434" stop-color="#3e5cff"/><stop offset=".2509" stop-color="#6f68fb"/><stop offset=".2585" stop-color="#c54fe8"/><stop offset=".2623" stop-color="#e743c0"/><stop offset=".266" stop-color="#fb389b"/><stop offset=".2736" stop-color="#ff2854"/><stop offset=".2811" stop-color="#ff1e28"/><stop offset=".2962" stop-color="#ff3429"/><stop offset=".3113" stop-color="#ff2f29"/><stop offset=".3189" stop-color="#ff2031"/><stop offset=".3226" stop-color="#ff2857"/><stop offset=".3264" stop-color="#fb3796"/><stop offset=".3302" stop-color="#d24ad9"/><stop offset=".334" stop-color="#7f67f9"/><stop offset=".3377" stop-color="#405eff"/><stop offset=".3415" stop-color="#223ffd"/><stop offset=".3453" stop-color="#1329eb"/><stop offset=".3566" stop-color="#0f23e5"/><stop offset=".3604" stop-color="#0d1fd4"/><stop offset=".3642" stop-color="#0a18b6"/><stop offset=".3755" stop-color="#010231"/><stop offset=".3792" stop-color="#00001d"/><stop offset=".383" stop-color="#000022"/><stop offset=".3868" stop-color="#020441"/><stop offset=".3943" stop-color="#071096"/><stop offset=".3981" stop-color="#0a17b5"/><stop offset=".4057" stop-color="#0d1ed0"/><stop offset=".4623" stop-color="#0c1cc8"/><stop offset=".583" stop-color="#0a15ad"/><stop offset=".6698" stop-color="#0b1ac0"/><stop offset=".7528" stop-color="#1329eb"/><stop offset=".7792" stop-color="#2d4bff"/><stop offset=".8019" stop-color="#5065fe"/><stop offset=".8245" stop-color="#8365f8"/><stop offset=".8547" stop-color="#c051ec"/><stop offset=".8887" stop-color="#d14bda"/><stop offset=".9226" stop-color="#c051ec"/><stop offset=".9491" stop-color="#8a63f6"/><stop offset=".9717" stop-color="#5565fe"/><stop offset=".9943" stop-color="#2f4dff"/><stop offset=".9981" stop-color="#152cee"/></linearGradient>
<linearGradient id="h84"><stop offset=".0019" stop-color="#030654"/><stop offset=".0434" stop-color="#0f23e6"/><stop offset=".0849" stop-color="#2745ff"/><stop offset=".2019" stop-color="#2846ff"/><stop offset=".2283" stop-color="#2644ff"/><stop offset=".2321" stop-color="#2c4aff"/><stop offset=".2396" stop-color="#5465fe"/><stop offset=".2434" stop-color="#7569fa"/><stop offset=".2509" stop-color="#c74fe7"/><stop offset=".2547" stop-color="#e842bf"/><stop offset=".2585" stop-color="#fb389b"/><stop offset=".266" stop-color="#ff2855"/><stop offset=".2736" stop-color="#ff1e29"/><stop offset=".2925" stop-color="#ff3429"/><stop offset=".3075" stop-color="#ff2a29"/><stop offset=".3113" stop-color="#ff2128"/><stop offset=".3151" stop-color="#ff2341"/><stop offset=".3189" stop-color="#fe2d6c"/><stop offset=".3226" stop-color="#f63daf"/><stop offset=".3264" stop-color="#b854ed"/><stop offset=".3302" stop-color="#6c68fb"/><stop offset=".334" stop-color="#3957ff"/><stop offset=".3377" stop-color="#1e3af9"/><stop offset=".3415" stop-color="#142aec"/><stop offset=".3566" stop-color="#0f22e1"/><stop offset=".3604" stop-color="#0c1cca"/><stop offset=".3642" stop-color="#0914a5"/><stop offset=".3717" stop-color="#020447"/><stop offset=".3755" stop-color="#000126"/><stop offset=".3792" stop-color="#00001e"/><stop offset=".383" stop-color="#010232"/><stop offset=".3943" stop-color="#0915ab"/><stop offset=".3981" stop-color="#0c1bc4"/><stop offset=".4057" stop-color="#0e1fd7"/><stop offset=".5868" stop-color="#0a17b2"/><stop offset=".6736" stop-color="#0c1cc7"/><stop offset=".7491" stop-color="#142aec"/><stop offset=".7717" stop-color="#2947ff"/><stop offset=".7981" stop-color="#5265fe"/><stop offset=".8208" stop-color="#8365f8"/><stop offset=".8472" stop-color="#b953ed"/><stop offset=".8774" stop-color="#cd4cdf"/><stop offset=".9113" stop-color="#c051ec"/><stop offset=".9377" stop-color="#9161f5"/><stop offset=".9566" stop-color="#6567fc"/><stop offset=".9755" stop-color="#405eff"/><stop offset=".9943" stop-color="#2947ff"/><stop offset=".9981" stop-color="#152cee"/></linearGradient>
<linearGradient id="h85"><stop offset=".0019" stop-color="#050975"/><stop offset=".0321" stop-color="#0f22e1"/><stop offset=".066" stop-color="#2240fe"/><stop offset=".1038" stop-color="#2c4aff"/><stop offset=".2245" stop-color="#2846ff"/><stop offset=".2321" stop-color="#4f65fe"/><stop offset=".2358" stop-color="#7168fb"/><stop offset=".2434" stop-color="#c64fe8"/><stop offset=".2472" stop-color="#e743c0"/><stop offset=".2509" stop-color="#fb399d"/><stop offset=".2585" stop-color="#ff2856"/><stop offset=".266" stop-color="#ff1f2b"/><stop offset=".2849" stop-color="#ff3329"/><stop offset=".3" stop-color="#ff2c29"/><stop offset=".3075" stop-color="#ff2031"/><stop offset=".3113" stop-color="#ff2751"/><stop offset=".3151" stop-color="#fc3386"/><stop offset=".3189" stop-color="#e444c4"/><stop offset=".3226" stop-color="#a05cf2"/><stop offset=".3264" stop-color="#5766fd"/><stop offset=".3302" stop-color="#314fff"/><stop offset=".334" stop-color="#1a33f3"/><stop offset=".3528" stop-color="#1025e8"/><stop offset=".3566" stop-color="#0e20da"/><stop offset=".3604" stop-color="#0b19bc"/><stop offset=".3717" stop-color="#010337"/><stop offset=".3755" stop-color="#000022"/><stop offset=".3792" stop-color="#010129"/><stop offset=".383" stop-color="#020448"/><stop offset=".3906" stop-color="#08129e"/><stop offset=".3943" stop-color="#0b19be"/><stop offset=".4019" stop-color="#0e20da"/><stop offset=".4509" stop-color="#0d1fd5"/><stop offset=".583" stop-color="#0b18b8"/><stop offset=".6698" stop-color="#0c1cca"/><stop offset=".7415" stop-color="#1227e9"/><stop offset=".7679" stop-color="#2a48ff"/><stop offset=".7906" stop-color="#4b65fe"/><stop offset=".817" stop-color="#8465f8"/><stop offset=".8434" stop-color="#b754ed"/><stop offset=".8736" stop-color="#ca4ee3"/><stop offset=".9" stop-color="#c151eb"/><stop offset=".9302" stop-color="#8e62f6"/><stop offset=".9528" stop-color="#5c66fd"/><stop offset=".9717" stop-color="#3b59ff"/><stop offset=".9906" stop-color="#2947ff"/><stop offset=".9943" stop-color="#2a48ff"/><stop offset=".9981" stop-color="#152dee"/></linearGradient>
<linearGradient id="h86"><stop offset=".0019" stop-color="#08119a"/><stop offset=".0208" stop-color="#0e22e0"/><stop offset=".0585" stop-color="#2442ff"/><stop offset=".1075" stop-color="#2c4aff"/><stop offset=".217" stop-color="#2745ff"/><stop offset=".2245" stop-color="#4864ff"/><stop offset=".2321" stop-color="#9061f5"/><stop offset=".2358" stop-color="#c250eb"/><stop offset=".2434" stop-color="#fb3aa1"/><stop offset=".2509" stop-color="#ff2959"/><stop offset=".2585" stop-color="#ff1f2d"/><stop offset=".2811" stop-color="#ff3329"/><stop offset=".2962" stop-color="#ff2729"/><stop offset=".3" stop-color="#ff1f28"/><stop offset=".3075" stop-color="#ff2b65"/><stop offset=".3113" stop-color="#fb399f"/><stop offset=".3151" stop-color="#cf4cdd"/><stop offset=".3189" stop-color="#8963f7"/><stop offset=".3226" stop-color="#4a64ff"/><stop offset=".3264" stop-color="#2846ff"/><stop offset=".3302" stop-color="#172ff0"/><stop offset=".3528" stop-color="#0f24e7"/><stop offset=".3566" stop-color="#0d1ed0"/><stop offset=".3604" stop-color="#0915ab"/><stop offset=".3679" stop-color="#02054d"/><stop offset=".3717" stop-color="#01012c"/><stop offset=".3755" stop-color="#000125"/><stop offset=".3792" stop-color="#010339"/><stop offset=".3906" stop-color="#0a17b4"/><stop offset=".3943" stop-color="#0d1dcd"/><stop offset=".4019" stop-color="#0f22e1"/><stop offset=".5906" stop-color="#0b1abe"/><stop offset=".6811" stop-color="#0d1fd4"/><stop offset=".7377" stop-color="#1228ea"/><stop offset=".7642" stop-color="#2c4aff"/><stop offset=".7868" stop-color="#4e65fe"/><stop offset=".8132" stop-color="#8465f8"/><stop offset=".8396" stop-color="#b455ee"/><stop offset=".866" stop-color="#c64fe7"/><stop offset=".8925" stop-color="#bd52ec"/><stop offset=".9226" stop-color="#8c62f6"/><stop offset=".9453" stop-color="#5c66fd"/><stop offset=".9642" stop-color="#3b59ff"/><stop offset=".983" stop-color="#2947ff"/><stop offset=".9943" stop-color="#2a48ff"/><stop offset=".9981" stop-color="#152dee"/></linearGradient>
<linearGradient id="h87"><stop offset=".0019" stop-color="#0b1ac0"/><stop offset=".0132" stop-color="#1024e7"/><stop offset=".0547" stop-color="#2846ff"/><stop offset=".2094" stop-color="#2846ff"/><stop offset=".217" stop-color="#4260ff"/><stop offset=".2245" stop-color="#8565f7"/><stop offset=".2283" stop-color="#b455ee"/><stop offset=".2321" stop-color="#d948d1"/><stop offset=".2358" stop-color="#fa3ca9"/><stop offset=".2434" stop-color="#ff2a5d"/><stop offset=".2509" stop-color="#ff2031"/><stop offset=".2585" stop-color="#ff2929"/><stop offset=".2774" stop-color="#ff3329"/><stop offset=".2925" stop-color="#ff2228"/><stop offset=".2962" stop-color="#ff2136"/><stop offset=".3" stop-color="#ff2753"/><stop offset=".3038" stop-color="#fd3281"/><stop offset=".3075" stop-color="#ef40b7"/><stop offset=".3113" stop-color="#ba53ed"/><stop offset=".3151" stop-color="#7068fb"/><stop offset=".3189" stop-color="#415fff"/><stop offset=".3226" stop-color="#2341ff"/><stop offset=".3264" stop-color="#1830f1"/><stop offset=".3491" stop-color="#1227ea"/><stop offset=".3528" stop-color="#0f22e1"/><stop offset=".3566" stop-color="#0c1bc3"/><stop offset=".3679" stop-color="#02033d"/><stop offset=".3717" stop-color="#010128"/><stop offset=".3755" stop-color="#01022f"/><stop offset=".3792" stop-color="#03054e"/><stop offset=".3868" stop-color="#0914a6"/><stop offset=".3906" stop-color="#0c1cc7"/><stop offset=".3981" stop-color="#0f22e3"/><stop offset=".4585" stop-color="#0e21de"/><stop offset=".5868" stop-color="#0c1bc4"/><stop offset=".6774" stop-color="#0e1fd7"/><stop offset=".734" stop-color="#132aec"/><stop offset=".7566" stop-color="#2846ff"/><stop offset=".783" stop-color="#5065fe"/><stop offset=".8094" stop-color="#8565f7"/><stop offset=".8396" stop-color="#b654ee"/><stop offset=".8698" stop-color="#c250eb"/><stop offset=".8962" stop-color="#ad57ef"/><stop offset=".9302" stop-color="#6a68fb"/><stop offset=".9528" stop-color="#405eff"/><stop offset=".9755" stop-color="#2947ff"/><stop offset=".9943" stop-color="#2a48ff"/><stop offset=".9981" stop-color="#162dee"/></linearGradient>
<linearGradient id="h88"><stop offset=".0019" stop-color="#0f22e4"/><stop offset=".0396" stop-color="#2543ff"/><stop offset=".0887" stop-color="#2c4aff"/><stop offset=".2057" stop-color="#2d4bff"/><stop offset=".2132" stop-color="#5666fd"/><stop offset=".217" stop-color="#7669fa"/><stop offset=".2208" stop-color="#a45af1"/><stop offset=".2245" stop-color="#d04bdc"/><stop offset=".2283" stop-color="#f040b6"/><stop offset=".2358" stop-color="#fe2c67"/><stop offset=".2434" stop-color="#ff2135"/><stop offset=".2472" stop-color="#ff2028"/><stop offset=".266" stop-color="#ff3329"/><stop offset=".2811" stop-color="#ff2c29"/><stop offset=".2887" stop-color="#ff1f2b"/><stop offset=".2962" stop-color="#ff2c66"/><stop offset=".3" stop-color="#fb389b"/><stop offset=".3038" stop-color="#d848d2"/><stop offset=".3075" stop-color="#9f5cf2"/><stop offset=".3113" stop-color="#5f67fc"/><stop offset=".3151" stop-color="#3755ff"/><stop offset=".3189" stop-color="#203cfb"/><stop offset=".3264" stop-color="#1831f1"/><stop offset=".3491" stop-color="#1126e8"/><stop offset=".3528" stop-color="#0e20d7"/><stop offset=".3566" stop-color="#0a17b2"/><stop offset=".3642" stop-color="#030654"/><stop offset=".3679" stop-color="#010233"/><stop offset=".3717" stop-color="#01012b"/><stop offset=".3755" stop-color="#02043f"/><stop offset=".3868" stop-color="#0b19bb"/><stop offset=".3906" stop-color="#0d1fd6"/><stop offset=".3943" stop-color="#0f23e4"/><stop offset=".4736" stop-color="#0e21df"/><stop offset=".5943" stop-color="#0c1ccb"/><stop offset=".6887" stop-color="#0f22e1"/><stop offset=".7302" stop-color="#142bec"/><stop offset=".7528" stop-color="#2a48ff"/><stop offset=".7792" stop-color="#5365fe"/><stop offset=".8057" stop-color="#8565f7"/><stop offset=".8321" stop-color="#b056ef"/><stop offset=".8623" stop-color="#be52ec"/><stop offset=".8887" stop-color="#aa58f0"/><stop offset=".9226" stop-color="#6968fb"/><stop offset=".9453" stop-color="#405eff"/><stop offset=".9679" stop-color="#2947ff"/><stop offset=".9943" stop-color="#2b49ff"/><stop offset=".9981" stop-color="#162dee"/></linearGradient>
<linearGradient id="h89"><stop offset=".0019" stop-color="#162dee"/><stop offset=".0358" stop-color="#2947ff"/><stop offset=".1981" stop-color="#2947ff"/><stop offset=".2057" stop-color="#4c65fe"/><stop offset=".2094" stop-color="#6b68fb"/><stop offset=".217" stop-color="#c350ea"/><stop offset=".2245" stop-color="#fb399c"/><stop offset=".2321" stop-color="#ff2854"/><stop offset=".2396" stop-color="#ff1e29"/><stop offset=".2585" stop-color="#ff3329"/><stop offset=".2774" stop-color="#ff2929"/><stop offset=".2811" stop-color="#ff2128"/><stop offset=".2849" stop-color="#ff2138"/><stop offset=".2887" stop-color="#ff2854"/><stop offset=".2962" stop-color="#f33fb3"/><stop offset=".3" stop-color="#c450ea"/><stop offset=".3038" stop-color="#7e67f9"/><stop offset=".3075" stop-color="#4e65fe"/><stop offset=".3113" stop-color="#2f4dff"/><stop offset=".3151" stop-color="#1b35f5"/><stop offset=".3453" stop-color="#132aec"/><stop offset=".3491" stop-color="#1024e7"/><stop offset=".3528" stop-color="#0c1dcb"/><stop offset=".3642" stop-color="#020447"/><stop offset=".3679" stop-color="#010232"/><stop offset=".3717" stop-color="#010339"/><stop offset=".3755" stop-color="#030657"/><stop offset=".383" stop-color="#0a16ae"/><stop offset=".3868" stop-color="#0d1dcf"/><stop offset=".3906" stop-color="#0f22e3"/><stop offset=".4283" stop-color="#1126e8"/><stop offset=".6057" stop-color="#0d1ed1"/><stop offset=".7264" stop-color="#152ced"/><stop offset=".7491" stop-color="#2b49ff"/><stop offset=".7717" stop-color="#4c65fe"/><stop offset=".8019" stop-color="#8664f7"/><stop offset=".8321" stop-color="#b056ef"/><stop offset=".8623" stop-color="#b953ed"/><stop offset=".8887" stop-color="#9d5df3"/><stop offset=".9151" stop-color="#6867fc"/><stop offset=".9377" stop-color="#405eff"/><stop offset=".9604" stop-color="#2947ff"/><stop offset=".9943" stop-color="#2b49ff"/><stop offset=".9981" stop-color="#162def"/></linearGradient>
<linearGradient id="h90"><stop offset=".0019" stop-color="#1c36f6"/><stop offset=".0321" stop-color="#2c4aff"/><stop offset=".1906" stop-color="#2947ff"/><stop offset=".1981" stop-color="#4462ff"/><stop offset=".2057" stop-color="#8565f7"/><stop offset=".2094" stop-color="#b256ee"/><stop offset=".217" stop-color="#f93dac"/><stop offset=".2245" stop-color="#ff2a5e"/><stop offset=".2321" stop-color="#ff2030"/><stop offset=".2396" stop-color="#ff2929"/><stop offset=".2585" stop-color="#ff3329"/><stop offset=".2774" stop-color="#ff1f2d"/><stop offset=".2849" stop-color="#ff2b65"/><stop offset=".2887" stop-color="#fb3797"/><stop offset=".2925" stop-color="#de46cc"/><stop offset=".2962" stop-color="#ab58f0"/><stop offset=".3" stop-color="#6b68fb"/><stop offset=".3038" stop-color="#405eff"/><stop offset=".3075" stop-color="#2745ff"/><stop offset=".3113" stop-color="#1b35f5"/><stop offset=".3453" stop-color="#1329eb"/><stop offset=".3491" stop-color="#0f22e1"/><stop offset=".3528" stop-color="#0b19bd"/><stop offset=".3604" stop-color="#040762"/><stop offset=".3642" stop-color="#020442"/><stop offset=".3679" stop-color="#01033a"/><stop offset=".3717" stop-color="#02054d"/><stop offset=".383" stop-color="#0c1bc5"/><stop offset=".3868" stop-color="#0e21df"/><stop offset=".3943" stop-color="#1228ea"/><stop offset=".5264" stop-color="#0e21de"/><stop offset=".6283" stop-color="#0e20da"/><stop offset=".7226" stop-color="#162def"/><stop offset=".7453" stop-color="#2d4bff"/><stop offset=".7679" stop-color="#4f65fe"/><stop offset=".7981" stop-color="#8764f7"/><stop offset=".8283" stop-color="#ad57ef"/><stop offset=".8585" stop-color="#b355ee"/><stop offset=".8849" stop-color="#965ff4"/><stop offset=".9075" stop-color="#6967fc"/><stop offset=".9302" stop-color="#405eff"/><stop offset=".9528" stop-color="#2947ff"/><stop offset=".9943" stop-color="#2b49ff"/><stop offset=".9981" stop-color="#162eef"/></linearGradient>
<linearGradient id="h91"><stop offset=".0019" stop-color="#213efc"/><stop offset=".0358" stop-color="#2d4bff"/><stop offset=".183" stop-color="#2a48ff"/><stop offset=".1906" stop-color="#405eff"/><stop offset=".1981" stop-color="#7669fa"/><stop offset=".2057" stop-color="#cd4cdf"/><stop offset=".2094" stop-color="#ed41b9"/><stop offset=".2132" stop-color="#fc3692"/><stop offset=".2208" stop-color="#ff274f"/><stop offset=".2283" stop-color="#ff1f28"/><stop offset=".2472" stop-color="#ff3329"/><stop offset=".266" stop-color="#ff2829"/><stop offset=".2698" stop-color="#ff2028"/><stop offset=".2774" stop-color="#ff2854"/><stop offset=".2849" stop-color="#f73dae"/><stop offset=".2887" stop-color="#cc4de0"/><stop offset=".2925" stop-color="#8e62f6"/><stop offset=".2962" stop-color="#5c66fd"/><stop offset=".3" stop-color="#3856ff"/><stop offset=".3075" stop-color="#1c36f6"/><stop offset=".3415" stop-color="#152cee"/><stop offset=".3453" stop-color="#1227e9"/><stop offset=".3491" stop-color="#0e1fd6"/><stop offset=".3604" stop-color="#03065a"/><stop offset=".3642" stop-color="#020445"/><stop offset=".3679" stop-color="#02054a"/><stop offset=".3717" stop-color="#040865"/><stop offset=".3792" stop-color="#0b18b9"/><stop offset=".383" stop-color="#0e20d9"/><stop offset=".3868" stop-color="#1025e8"/><stop offset=".4774" stop-color="#1126e8"/><stop offset=".6245" stop-color="#0e21e0"/><stop offset=".7189" stop-color="#172eef"/><stop offset=".7377" stop-color="#2947ff"/><stop offset=".7642" stop-color="#5265fe"/><stop offset=".7943" stop-color="#8963f7"/><stop offset=".8283" stop-color="#ac58f0"/><stop offset=".8585" stop-color="#ab58f0"/><stop offset=".8811" stop-color="#8d62f6"/><stop offset=".9038" stop-color="#6267fc"/><stop offset=".9264" stop-color="#3b59ff"/><stop offset=".9453" stop-color="#2947ff"/><stop offset=".9943" stop-color="#2c4aff"/><stop offset=".9981" stop-color="#162eef"/></linearGradient>
<linearGradient id="h92"><stop offset=".0019" stop-color="#2745ff"/><stop offset=".1075" stop-color="#2c4aff"/><stop offset=".1792" stop-color="#2e4cff"/><stop offset=".1868" stop-color="#5165fe"/><stop offset=".1906" stop-color="#6e68fb"/><stop offset=".1981" stop-color="#c250eb"/><stop offset=".2057" stop-color="#fb3aa2"/><stop offset=".2132" stop-color="#ff2959"/><stop offset=".2208" stop-color="#ff1f2e"/><stop offset=".2434" stop-color="#ff3329"/><stop offset=".2585" stop-color="#ff2b29"/><stop offset=".266" stop-color="#ff1f2d"/><stop offset=".2736" stop-color="#ff2c65"/><stop offset=".2774" stop-color="#fc3692"/><stop offset=".2811" stop-color="#e444c4"/><stop offset=".2849" stop-color="#b754ed"/><stop offset=".2887" stop-color="#7769fa"/><stop offset=".2925" stop-color="#5265fe"/><stop offset=".3" stop-color="#314fff"/><stop offset=".3038" stop-color="#213efc"/><stop offset=".3151" stop-color="#1b35f5"/><stop offset=".3415" stop-color="#152bed"/><stop offset=".3453" stop-color="#1025e7"/><stop offset=".3491" stop-color="#0c1cca"/><stop offset=".3566" stop-color="#050974"/><stop offset=".3604" stop-color="#030657"/><stop offset=".3642" stop-color="#03054e"/><stop offset=".3679" stop-color="#03075e"/><stop offset=".3792" stop-color="#0d1ecf"/><stop offset=".383" stop-color="#1024e7"/><stop offset=".4132" stop-color="#152bed"/><stop offset=".6434" stop-color="#1024e7"/><stop offset=".7151" stop-color="#172ff0"/><stop offset=".7377" stop-color="#304eff"/><stop offset=".7604" stop-color="#5465fe"/><stop offset=".7906" stop-color="#8a63f6"/><stop offset=".8208" stop-color="#a55af1"/><stop offset=".8509" stop-color="#a859f0"/><stop offset=".8774" stop-color="#8565f7"/><stop offset=".9113" stop-color="#4563ff"/><stop offset=".9377" stop-color="#2947ff"/><stop offset=".9943" stop-color="#2c4aff"/><stop offset=".9981" stop-color="#162eef"/></linearGradient>
<linearGradient id="h93"><stop offset=".0019" stop-color="#2c4aff"/><stop offset=".1717" stop-color="#2e4cff"/><stop offset=".1792" stop-color="#4d65fe"/><stop offset=".1868" stop-color="#8a63f6"/><stop offset=".1906" stop-color="#b355ee"/><stop offset=".1943" stop-color="#d649d5"/><stop offset=".1981" stop-color="#f53eb0"/><stop offset=".2057" stop-color="#ff2c66"/><stop offset=".2132" stop-color="#ff2136"/><stop offset=".217" stop-color="#ff2028"/><stop offset=".2358" stop-color="#ff3329"/><stop offset=".2547" stop-color="#ff2829"/><stop offset=".2585" stop-color="#ff2028"/><stop offset=".266" stop-color="#ff2751"/><stop offset=".2698" stop-color="#fd3078"/><stop offset=".2736" stop-color="#fa3caa"/><stop offset=".2774" stop-color="#d44ad7"/><stop offset=".2811" stop-color="#9d5df3"/><stop offset=".2849" stop-color="#6467fc"/><stop offset=".2925" stop-color="#4c65fe"/><stop offset=".3038" stop-color="#1e39f9"/><stop offset=".3415" stop-color="#142aec"/><stop offset=".3453" stop-color="#0f22e2"/><stop offset=".3566" stop-color="#04086c"/><stop offset=".3604" stop-color="#030659"/><stop offset=".3642" stop-color="#03075d"/><stop offset=".3679" stop-color="#050976"/><stop offset=".3755" stop-color="#0c1bc3"/><stop offset=".3792" stop-color="#0f22e2"/><stop offset=".3906" stop-color="#152dee"/><stop offset=".666" stop-color="#1227ea"/><stop offset=".7113" stop-color="#1831f2"/><stop offset=".7302" stop-color="#2c4aff"/><stop offset=".7528" stop-color="#4e65fe"/><stop offset=".783" stop-color="#8465f8"/><stop offset=".8094" stop-color="#a05cf2"/><stop offset=".8434" stop-color="#a35bf1"/><stop offset=".8698" stop-color="#8465f8"/><stop offset=".9038" stop-color="#4664ff"/><stop offset=".9302" stop-color="#2947ff"/><stop offset=".9943" stop-color="#2d4bff"/><stop offset=".9981" stop-color="#172eef"/></linearGradient>
<linearGradient id="h94"><stop offset=".0019" stop-color="#2d4bff"/><stop offset=".1642" stop-color="#2e4cff"/><stop offset=".1717" stop-color="#4964ff"/><stop offset=".1792" stop-color="#8266f8"/><stop offset=".1868" stop-color="#cd4cdf"/><stop offset=".1906" stop-color="#ea42bd"/><stop offset=".1943" stop-color="#fb3898"/><stop offset=".2019" stop-color="#ff2856"/><stop offset=".2094" stop-color="#ff1f2c"/><stop offset=".2283" stop-color="#ff3329"/><stop offset=".2472" stop-color="#ff2b29"/><stop offset=".2547" stop-color="#ff1f2c"/><stop offset=".2623" stop-color="#ff2a5d"/><stop offset=".266" stop-color="#fc3489"/><stop offset=".2698" stop-color="#ec41bb"/><stop offset=".2736" stop-color="#c151eb"/><stop offset=".2774" stop-color="#8864f7"/><stop offset=".2811" stop-color="#6467fc"/><stop offset=".2887" stop-color="#5866fd"/><stop offset=".2925" stop-color="#4664ff"/><stop offset=".3038" stop-color="#1d38f8"/><stop offset=".3377" stop-color="#162eef"/><stop offset=".3415" stop-color="#1228ea"/><stop offset=".3453" stop-color="#0e20d8"/><stop offset=".3528" stop-color="#060d88"/><stop offset=".3566" stop-color="#04086b"/><stop offset=".3604" stop-color="#040762"/><stop offset=".3642" stop-color="#04096f"/><stop offset=".3755" stop-color="#0e20d9"/><stop offset=".3792" stop-color="#1127e9"/><stop offset=".4094" stop-color="#172ef0"/><stop offset=".666" stop-color="#1329eb"/><stop offset=".7075" stop-color="#1932f3"/><stop offset=".7264" stop-color="#2e4cff"/><stop offset=".7491" stop-color="#5165fe"/><stop offset=".7792" stop-color="#8565f7"/><stop offset=".8094" stop-color="#a05cf2"/><stop offset=".8396" stop-color="#9e5cf2"/><stop offset=".8698" stop-color="#7669fa"/><stop offset=".9" stop-color="#4260ff"/><stop offset=".9226" stop-color="#2947ff"/><stop offset=".9943" stop-color="#2d4bff"/><stop offset=".9981" stop-color="#172ff0"/></linearGradient>
<linearGradient id="h95"><stop offset=".0019" stop-color="#2d4bff"/><stop offset=".1566" stop-color="#304eff"/><stop offset=".1642" stop-color="#4964ff"/><stop offset=".1717" stop-color="#7b68f9"/><stop offset=".1792" stop-color="#c74fe6"/><stop offset=".1868" stop-color="#fa3ba5"/><stop offset=".1943" stop-color="#ff2a5f"/><stop offset=".2019" stop-color="#ff2134"/><stop offset=".2057" stop-color="#ff2128"/><stop offset=".2245" stop-color="#ff3329"/><stop offset=".2434" stop-color="#ff2829"/><stop offset=".2472" stop-color="#ff2128"/><stop offset=".2509" stop-color="#ff2135"/><stop offset=".2585" stop-color="#fe2e70"/><stop offset=".2623" stop-color="#fb399b"/><stop offset=".266" stop-color="#df46ca"/><stop offset=".2698" stop-color="#ae57ef"/><stop offset=".2736" stop-color="#7569fa"/><stop offset=".2811" stop-color="#6367fc"/><stop offset=".2887" stop-color="#5365fe"/><stop offset=".2962" stop-color="#3351ff"/><stop offset=".3" stop-color="#223ffe"/><stop offset=".3377" stop-color="#162dee"/><stop offset=".3415" stop-color="#1126e8"/><stop offset=".3453" stop-color="#0d1dcd"/><stop offset=".3528" stop-color="#050b82"/><stop offset=".3566" stop-color="#04086e"/><stop offset=".3604" stop-color="#040970"/><stop offset=".3642" stop-color="#060c86"/><stop offset=".3717" stop-color="#0d1dce"/><stop offset=".3755" stop-color="#1025e7"/><stop offset=".3943" stop-color="#1830f1"/><stop offset=".6698" stop-color="#142bed"/><stop offset=".7038" stop-color="#1a34f4"/><stop offset=".7226" stop-color="#2f4dff"/><stop offset=".7453" stop-color="#5365fe"/><stop offset=".7755" stop-color="#8664f7"/><stop offset=".8019" stop-color="#9d5df3"/><stop offset=".8358" stop-color="#985ef4"/><stop offset=".8736" stop-color="#6467fc"/><stop offset=".8962" stop-color="#3e5cff"/><stop offset=".9189" stop-color="#2947ff"/><stop offset=".9943" stop-color="#2d4bff"/><stop offset=".9981" stop-color="#172ff0"/></linearGradient>
<linearGradient id="h96"><stop offset=".0019" stop-color="#2d4bff"/><stop offset=".1491" stop-color="#304eff"/><stop offset=".1566" stop-color="#4a64ff"/><stop offset=".1642" stop-color="#7969fa"/><stop offset=".1717" stop-color="#c151eb"/><stop offset=".1792" stop-color="#f73dad"/><stop offset=".1906" stop-color="#ff2751"/><stop offset=".1981" stop-color="#ff1e2a"/><stop offset=".217" stop-color="#ff3329"/><stop offset=".2358" stop-color="#ff2c29"/><stop offset=".2434" stop-color="#ff1e29"/><stop offset=".2509" stop-color="#ff2959"/><stop offset=".2585" stop-color="#f73dae"/><stop offset=".2623" stop-color="#d04bdb"/><stop offset=".266" stop-color="#9d5df3"/><stop offset=".2698" stop-color="#7168fb"/><stop offset=".2849" stop-color="#5d66fd"/><stop offset=".2925" stop-color="#3e5cff"/><stop offset=".3" stop-color="#1f3bfa"/><stop offset=".334" stop-color="#1831f2"/><stop offset=".3415" stop-color="#0f23e6"/><stop offset=".3491" stop-color="#08129d"/><stop offset=".3528" stop-color="#050b80"/><stop offset=".3566" stop-color="#050977"/><stop offset=".3604" stop-color="#060b82"/><stop offset=".3717" stop-color="#0f22e3"/><stop offset=".3868" stop-color="#1831f2"/><stop offset=".6774" stop-color="#162def"/><stop offset=".7" stop-color="#1b35f5"/><stop offset=".7226" stop-color="#3654ff"/><stop offset=".7415" stop-color="#5566fd"/><stop offset=".7755" stop-color="#8c62f6"/><stop offset=".8057" stop-color="#9c5df3"/><stop offset=".8358" stop-color="#8e62f6"/><stop offset=".8698" stop-color="#5d66fd"/><stop offset=".8925" stop-color="#3b59ff"/><stop offset=".9113" stop-color="#2a48ff"/><stop offset=".9943" stop-color="#2e4cff"/><stop offset=".9981" stop-color="#172ff0"/></linearGradient>
<linearGradient id="h97"><stop offset=".0019" stop-color="#2e4cff"/><stop offset=".1377" stop-color="#2c4aff"/><stop offset=".1491" stop-color="#4a64ff"/><stop offset=".1566" stop-color="#7969fa"/><stop offset=".1642" stop-color="#be52ec"/><stop offset=".1717" stop-color="#f23fb3"/><stop offset=".183" stop-color="#ff2858"/><stop offset=".1906" stop-color="#ff2031"/><stop offset=".1981" stop-color="#ff2729"/><stop offset=".217" stop-color="#ff3329"/><stop offset=".2358" stop-color="#ff2328"/><stop offset=".2396" stop-color="#ff2031"/><stop offset=".2472" stop-color="#ff2b65"/><stop offset=".2509" stop-color="#fc3691"/><stop offset=".2547" stop-color="#e843c0"/><stop offset=".2585" stop-color="#c151eb"/><stop offset=".2623" stop-color="#8864f7"/><stop offset=".266" stop-color="#7569fa"/><stop offset=".2849" stop-color="#5966fd"/><stop offset=".2887" stop-color="#4864ff"/><stop offset=".3" stop-color="#1f3bfa"/><stop offset=".334" stop-color="#1830f1"/><stop offset=".3415" stop-color="#0e21dd"/><stop offset=".3491" stop-color="#081199"/><stop offset=".3528" stop-color="#060c84"/><stop offset=".3566" stop-color="#060c84"/><stop offset=".3604" stop-color="#081199"/><stop offset=".3679" stop-color="#0e20d9"/><stop offset=".3717" stop-color="#1227ea"/><stop offset=".3906" stop-color="#1a33f3"/><stop offset=".6811" stop-color="#172ff0"/><stop offset=".6962" stop-color="#1c37f6"/><stop offset=".7151" stop-color="#3351ff"/><stop offset=".734" stop-color="#4f65fe"/><stop offset=".7679" stop-color="#8764f7"/><stop offset=".7981" stop-color="#9a5ef3"/><stop offset=".8283" stop-color="#8b63f6"/><stop offset=".8623" stop-color="#5e66fd"/><stop offset=".8849" stop-color="#3c5aff"/><stop offset=".9038" stop-color="#2a48ff"/><stop offset=".9943" stop-color="#2e4cff"/><stop offset=".9981" stop-color="#172ff0"/></linearGradient>
<linearGradient id="h98"><stop offset=".0019" stop-color="#2e4cff"/><stop offset=".1302" stop-color="#2c4aff"/><stop offset=".1415" stop-color="#4c65fe"/><stop offset=".1491" stop-color="#7869fa"/><stop offset=".1566" stop-color="#bc52ec"/><stop offset=".1642" stop-color="#ee40b8"/><stop offset=".1679" stop-color="#fb389a"/><stop offset=".1755" stop-color="#ff2a5d"/><stop offset=".1868" stop-color="#ff1e28"/><stop offset=".2057" stop-color="#ff3329"/><stop offset=".2245" stop-color="#ff2d29"/><stop offset=".2321" stop-color="#ff2028"/><stop offset=".2396" stop-color="#ff2752"/><stop offset=".2434" stop-color="#fe2f74"/><stop offset=".2472" stop-color="#fb3aa1"/><stop offset=".2509" stop-color="#db47cf"/><stop offset=".2547" stop-color="#af57ef"/><stop offset=".2585" stop-color="#8864f7"/><stop offset=".2736" stop-color="#6867fc"/><stop offset=".2849" stop-color="#5565fe"/><stop offset=".2887" stop-color="#4361ff"/><stop offset=".2962" stop-color="#2341ff"/><stop offset=".334" stop-color="#172ff0"/><stop offset=".3377" stop-color="#1227ea"/><stop offset=".3415" stop-color="#0d1fd5"/><stop offset=".3491" stop-color="#081199"/><stop offset=".3528" stop-color="#070e8d"/><stop offset=".3566" stop-color="#071097"/><stop offset=".3679" stop-color="#1025e8"/><stop offset=".383" stop-color="#1a34f4"/><stop offset=".6849" stop-color="#1831f2"/><stop offset=".7075" stop-color="#2f4dff"/><stop offset=".7302" stop-color="#5165fe"/><stop offset=".7642" stop-color="#8764f7"/><stop offset=".7981" stop-color="#975ff4"/><stop offset=".8245" stop-color="#8664f7"/><stop offset=".866" stop-color="#4b64ff"/><stop offset=".8962" stop-color="#2a48ff"/><stop offset=".9943" stop-color="#2f4dff"/><stop offset=".9981" stop-color="#172ff0"/></linearGradient>
<linearGradient id="h99"><stop offset=".0019" stop-color="#2e4cff"/><stop offset=".1226" stop-color="#2c4aff"/><stop offset=".134" stop-color="#4b65fe"/><stop offset=".1415" stop-color="#7869fa"/><stop offset=".1491" stop-color="#b953ed"/><stop offset=".1566" stop-color="#ec41ba"/><stop offset=".1604" stop-color="#fb399e"/><stop offset=".1679" stop-color="#ff2b63"/><stop offset=".1792" stop-color="#ff1f2c"/><stop offset=".2019" stop-color="#ff3329"/><stop offset=".2208" stop-color="#ff2a29"/><stop offset=".2283" stop-color="#ff1f2c"/><stop offset=".2358" stop-color="#ff295b"/><stop offset=".2434" stop-color="#f53eb0"/><stop offset=".2472" stop-color="#cf4cdd"/><stop offset=".2509" stop-color="#9f5cf2"/><stop offset=".266" stop-color="#7168fb"/><stop offset=".2811" stop-color="#5e66fd"/><stop offset=".2887" stop-color="#3f5dff"/><stop offset=".2962" stop-color="#203cfb"/><stop offset=".3302" stop-color="#1a33f3"/><stop offset=".3377" stop-color="#1125e8"/><stop offset=".3453" stop-color="#0a16b1"/><stop offset=".3491" stop-color="#08129e"/><stop offset=".3528" stop-color="#08119b"/><stop offset=".3566" stop-color="#0915ab"/><stop offset=".3642" stop-color="#0f23e4"/><stop offset=".3792" stop-color="#1b34f5"/><stop offset=".6811" stop-color="#1932f3"/><stop offset=".7038" stop-color="#314fff"/><stop offset=".7226" stop-color="#4d65fe"/><stop offset=".7604" stop-color="#8764f7"/><stop offset=".7906" stop-color="#9460f4"/><stop offset=".8208" stop-color="#8066f8"/><stop offset=".866" stop-color="#415fff"/><stop offset=".8887" stop-color="#2a48ff"/><stop offset=".9943" stop-color="#2f4dff"/><stop offset=".9981" stop-color="#1730f1"/></linearGradient>
<linearGradient id="h100"><stop offset=".0019" stop-color="#2e4cff"/><stop offset=".1189" stop-color="#314fff"/><stop offset=".1264" stop-color="#4a64ff"/><stop offset=".134" stop-color="#7669fa"/><stop offset=".1415" stop-color="#b754ed"/><stop offset=".1491" stop-color="#e942be"/><stop offset=".1528" stop-color="#fb3aa2"/><stop offset=".1642" stop-color="#ff2752"/><stop offset=".1717" stop-color="#ff2030"/><stop offset=".1792" stop-color="#ff2729"/><stop offset=".2019" stop-color="#ff3329"/><stop offset=".2208" stop-color="#ff2128"/><stop offset=".2245" stop-color="#ff2033"/><stop offset=".2321" stop-color="#fe2c67"/><stop offset=".2358" stop-color="#fc3692"/><stop offset=".2396" stop-color="#e843c0"/><stop offset=".2434" stop-color="#c350eb"/><stop offset=".2472" stop-color="#a959f0"/><stop offset=".2623" stop-color="#7669fa"/><stop offset=".2811" stop-color="#5a66fd"/><stop offset=".2887" stop-color="#3b59ff"/><stop offset=".2962" stop-color="#203dfc"/><stop offset=".3302" stop-color="#1932f3"/><stop offset=".3377" stop-color="#0f24e6"/><stop offset=".3453" stop-color="#0a17b2"/><stop offset=".3491" stop-color="#0914a6"/><stop offset=".3528" stop-color="#0a15ad"/><stop offset=".3604" stop-color="#0e21dc"/><stop offset=".3679" stop-color="#172ff0"/><stop offset=".4019" stop-color="#1c37f6"/><stop offset=".6811" stop-color="#1b35f5"/><stop offset=".7" stop-color="#3351ff"/><stop offset=".7189" stop-color="#5065fe"/><stop offset=".7566" stop-color="#8764f7"/><stop offset=".7868" stop-color="#9260f5"/><stop offset=".8132" stop-color="#7f67f9"/><stop offset=".8585" stop-color="#4260ff"/><stop offset=".8849" stop-color="#2a48ff"/><stop offset=".9943" stop-color="#2f4dff"/><stop offset=".9981" stop-color="#1830f1"/></linearGradient>
<linearGradient id="h101"><stop offset=".0019" stop-color="#2e4cff"/><stop offset=".1113" stop-color="#2f4dff"/><stop offset=".1189" stop-color="#4764ff"/><stop offset=".1264" stop-color="#7268fb"/><stop offset=".134" stop-color="#b355ee"/><stop offset=".1377" stop-color="#cf4cdd"/><stop offset=".1453" stop-color="#fa3ba6"/><stop offset=".1566" stop-color="#ff2856"/><stop offset=".1679" stop-color="#ff1f28"/><stop offset=".1906" stop-color="#ff3329"/><stop offset=".2094" stop-color="#ff2b29"/><stop offset=".217" stop-color="#ff1e29"/><stop offset=".2245" stop-color="#ff2854"/><stop offset=".2321" stop-color="#fb3aa1"/><stop offset=".2358" stop-color="#dc47cd"/><stop offset=".2396" stop-color="#c450ea"/><stop offset=".2585" stop-color="#7d67f9"/><stop offset=".2811" stop-color="#5666fd"/><stop offset=".2849" stop-color="#4563ff"/><stop offset=".2925" stop-color="#2543ff"/><stop offset=".3302" stop-color="#1932f2"/><stop offset=".3377" stop-color="#0f22e4"/><stop offset=".3453" stop-color="#0b18b7"/><stop offset=".3491" stop-color="#0a17b3"/><stop offset=".3528" stop-color="#0b1abf"/><stop offset=".3604" stop-color="#1126e9"/><stop offset=".3755" stop-color="#1c37f7"/><stop offset=".6774" stop-color="#1c36f6"/><stop offset=".6925" stop-color="#2f4dff"/><stop offset=".7113" stop-color="#4b65fe"/><stop offset=".7491" stop-color="#8365f8"/><stop offset=".783" stop-color="#8f61f5"/><stop offset=".8208" stop-color="#6d68fb"/><stop offset=".8547" stop-color="#3e5cff"/><stop offset=".8774" stop-color="#2a48ff"/><stop offset=".9943" stop-color="#304eff"/><stop offset=".9981" stop-color="#1830f1"/></linearGradient>
<linearGradient id="h102"><stop offset=".0019" stop-color="#2e4cff"/><stop offset=".1038" stop-color="#2d4bff"/><stop offset=".1113" stop-color="#4462ff"/><stop offset=".1189" stop-color="#6e68fb"/><stop offset=".1264" stop-color="#ac58f0"/><stop offset=".1302" stop-color="#cb4de2"/><stop offset=".1377" stop-color="#f93dac"/><stop offset=".1491" stop-color="#ff295a"/><stop offset=".1604" stop-color="#ff1e28"/><stop offset=".183" stop-color="#ff3329"/><stop offset=".2057" stop-color="#ff2829"/><stop offset=".2132" stop-color="#ff2031"/><stop offset=".2208" stop-color="#ff2a5e"/><stop offset=".2283" stop-color="#f53eaf"/><stop offset=".2321" stop-color="#d948d1"/><stop offset=".2396" stop-color="#bf51ec"/><stop offset=".2585" stop-color="#7969fa"/><stop offset=".2774" stop-color="#5f66fd"/><stop offset=".2849" stop-color="#415fff"/><stop offset=".2925" stop-color="#213efd"/><stop offset=".3264" stop-color="#1c36f6"/><stop offset=".3377" stop-color="#0f22e2"/><stop offset=".3453" stop-color="#0b1ac0"/><stop offset=".3491" stop-color="#0c1bc3"/><stop offset=".3566" stop-color="#1024e7"/><stop offset=".3717" stop-color="#1d37f7"/><stop offset=".6736" stop-color="#1d38f7"/><stop offset=".6925" stop-color="#3755ff"/><stop offset=".7075" stop-color="#4f65fe"/><stop offset=".734" stop-color="#7669fa"/><stop offset=".7642" stop-color="#8c62f6"/><stop offset=".7943" stop-color="#8166f8"/><stop offset=".8434" stop-color="#4260ff"/><stop offset=".8698" stop-color="#2b49ff"/><stop offset=".9943" stop-color="#304eff"/><stop offset=".9981" stop-color="#1830f1"/></linearGradient>
<linearGradient id="h103"><stop offset=".0019" stop-color="#2e4cff"/><stop offset=".0962" stop-color="#2d4bff"/><stop offset=".1075" stop-color="#5265fe"/><stop offset=".1151" stop-color="#8266f8"/><stop offset=".1226" stop-color="#c54fe9"/><stop offset=".1302" stop-color="#f43eb2"/><stop offset=".1415" stop-color="#ff2a5e"/><stop offset=".1528" stop-color="#ff1f2c"/><stop offset=".1792" stop-color="#ff3329"/><stop offset=".2019" stop-color="#ff2528"/><stop offset=".2057" stop-color="#ff1e28"/><stop offset=".2132" stop-color="#ff2750"/><stop offset=".217" stop-color="#fe2d6d"/><stop offset=".2245" stop-color="#ef40b7"/><stop offset=".2396" stop-color="#ba53ed"/><stop offset=".2585" stop-color="#7769fa"/><stop offset=".2774" stop-color="#5c66fd"/><stop offset=".2849" stop-color="#3d5bff"/><stop offset=".2925" stop-color="#223ffd"/><stop offset=".3264" stop-color="#1b35f5"/><stop offset=".3377" stop-color="#0f22e2"/><stop offset=".3415" stop-color="#0d1ed1"/><stop offset=".3453" stop-color="#0d1dcc"/><stop offset=".3491" stop-color="#0d1fd4"/><stop offset=".3528" stop-color="#0f23e6"/><stop offset=".3717" stop-color="#1e39f8"/><stop offset=".6698" stop-color="#1d38f8"/><stop offset=".6925" stop-color="#3e5cff"/><stop offset=".7151" stop-color="#6767fc"/><stop offset=".7566" stop-color="#8a63f6"/><stop offset=".7868" stop-color="#7f67f9"/><stop offset=".8358" stop-color="#4260ff"/><stop offset=".8623" stop-color="#2b49ff"/><stop offset=".9943" stop-color="#314fff"/><stop offset=".9981" stop-color="#1831f1"/></linearGradient>
<linearGradient id="h104"><stop offset=".0019" stop-color="#2e4cff"/><stop offset=".0887" stop-color="#2d4bff"/><stop offset=".1" stop-color="#4c65fe"/><stop offset=".1075" stop-color="#7969fa"/><stop offset=".1151" stop-color="#bc52ec"/><stop offset=".1226" stop-color="#ed41b9"/><stop offset=".1264" stop-color="#fb399d"/><stop offset=".1377" stop-color="#ff2750"/><stop offset=".1453" stop-color="#ff2030"/><stop offset=".1528" stop-color="#ff2629"/><stop offset=".1755" stop-color="#ff3329"/><stop offset=".1943" stop-color="#ff2729"/><stop offset=".2019" stop-color="#ff2031"/><stop offset=".2094" stop-color="#ff295b"/><stop offset=".217" stop-color="#fb389a"/><stop offset=".2208" stop-color="#f83dac"/><stop offset=".2358" stop-color="#c54fe8"/><stop offset=".2547" stop-color="#7e67f9"/><stop offset=".2774" stop-color="#5866fd"/><stop offset=".2811" stop-color="#4664ff"/><stop offset=".2887" stop-color="#2745ff"/><stop offset=".3264" stop-color="#1b35f5"/><stop offset=".3415" stop-color="#0e20da"/><stop offset=".3453" stop-color="#0e20da"/><stop offset=".3566" stop-color="#172ff0"/><stop offset=".3792" stop-color="#1f3bfa"/><stop offset=".666" stop-color="#1e3af9"/><stop offset=".6962" stop-color="#4c65fe"/><stop offset=".7226" stop-color="#7769fa"/><stop offset=".7604" stop-color="#8864f7"/><stop offset=".8019" stop-color="#6667fc"/><stop offset=".8321" stop-color="#3f5dff"/><stop offset=".8547" stop-color="#2b49ff"/><stop offset=".9943" stop-color="#314fff"/><stop offset=".9981" stop-color="#1831f2"/></linearGradient>
<linearGradient id="h105"><stop offset=".0019" stop-color="#2e4cff"/><stop offset=".0849" stop-color="#314fff"/><stop offset=".0925" stop-color="#4764ff"/><stop offset=".1" stop-color="#7268fb"/><stop offset=".1075" stop-color="#b156ef"/><stop offset=".1113" stop-color="#ce4cde"/><stop offset=".1189" stop-color="#fa3ba7"/><stop offset=".1302" stop-color="#ff2856"/><stop offset=".1415" stop-color="#ff1f28"/><stop offset=".1642" stop-color="#ff3329"/><stop offset=".1868" stop-color="#ff2929"/><stop offset=".1943" stop-color="#ff1e2a"/><stop offset=".217" stop-color="#fb399f"/><stop offset=".2321" stop-color="#ce4cde"/><stop offset=".2396" stop-color="#b156ef"/><stop offset=".2547" stop-color="#7b68f9"/><stop offset=".2736" stop-color="#5f67fc"/><stop offset=".2811" stop-color="#4260ff"/><stop offset=".2887" stop-color="#2340fe"/><stop offset=".3226" stop-color="#1d39f8"/><stop offset=".3415" stop-color="#0f23e5"/><stop offset=".3717" stop-color="#1f3cfb"/><stop offset=".6623" stop-color="#1f3bfa"/><stop offset=".6925" stop-color="#4f65fe"/><stop offset=".7189" stop-color="#7969fa"/><stop offset=".7453" stop-color="#8565f7"/><stop offset=".7717" stop-color="#7c68f9"/><stop offset=".8208" stop-color="#4260ff"/><stop offset=".8472" stop-color="#2b49ff"/><stop offset=".9943" stop-color="#314fff"/><stop offset=".9981" stop-color="#1831f2"/></linearGradient>
<linearGradient id="h106"><stop offset=".0019" stop-color="#2e4cff"/><stop offset=".0811" stop-color="#3856ff"/><stop offset=".0887" stop-color="#5666fd"/><stop offset=".0962" stop-color="#8664f7"/><stop offset=".1038" stop-color="#c64fe7"/><stop offset=".1113" stop-color="#f43eb1"/><stop offset=".1226" stop-color="#ff295d"/><stop offset=".134" stop-color="#ff1f2b"/><stop offset=".1604" stop-color="#ff3329"/><stop offset=".183" stop-color="#ff2629"/><stop offset=".1868" stop-color="#ff2028"/><stop offset=".2057" stop-color="#fe2e6f"/><stop offset=".217" stop-color="#fa3ba5"/><stop offset=".2358" stop-color="#bc52ec"/><stop offset=".2547" stop-color="#7769fa"/><stop offset=".2736" stop-color="#5d66fd"/><stop offset=".2811" stop-color="#3e5cff"/><stop offset=".2887" stop-color="#2341ff"/><stop offset=".3226" stop-color="#1d39f8"/><stop offset=".3415" stop-color="#1227e9"/><stop offset=".3717" stop-color="#203dfc"/><stop offset=".6585" stop-color="#203cfb"/><stop offset=".6849" stop-color="#4a64ff"/><stop offset=".7113" stop-color="#7769fa"/><stop offset=".734" stop-color="#8664f7"/><stop offset=".7717" stop-color="#7569fa"/><stop offset=".8132" stop-color="#4260ff"/><stop offset=".8396" stop-color="#2b49ff"/><stop offset=".9943" stop-color="#3250ff"/><stop offset=".9981" stop-color="#1931f2"/></linearGradient>
<linearGradient id="h107"><stop offset=".0019" stop-color="#2e4cff"/><stop offset=".0774" stop-color="#405eff"/><stop offset=".0887" stop-color="#7c68f9"/><stop offset=".0962" stop-color="#bd52ec"/><stop offset=".1038" stop-color="#ed41ba"/><stop offset=".1075" stop-color="#fb399e"/><stop offset=".1151" stop-color="#ff2b65"/><stop offset=".1264" stop-color="#ff2030"/><stop offset=".134" stop-color="#ff2629"/><stop offset=".1566" stop-color="#ff3329"/><stop offset=".183" stop-color="#ff1f28"/><stop offset=".2019" stop-color="#ff2b62"/><stop offset=".217" stop-color="#fa3caa"/><stop offset=".2321" stop-color="#c64fe7"/><stop offset=".2547" stop-color="#7569fa"/><stop offset=".2736" stop-color="#5966fd"/><stop offset=".2774" stop-color="#4864ff"/><stop offset=".2849" stop-color="#2947ff"/><stop offset=".3264" stop-color="#1b35f5"/><stop offset=".3415" stop-color="#152ced"/><stop offset=".3717" stop-color="#213efc"/><stop offset=".6547" stop-color="#213dfc"/><stop offset=".6811" stop-color="#4d65fe"/><stop offset=".7075" stop-color="#7a68fa"/><stop offset=".7302" stop-color="#8864f7"/><stop offset=".7792" stop-color="#6567fc"/><stop offset=".8094" stop-color="#3e5cff"/><stop offset=".8321" stop-color="#2c4aff"/><stop offset=".9943" stop-color="#3250ff"/><stop offset=".9981" stop-color="#1932f2"/></linearGradient>
<linearGradient id="h108"><stop offset=".0019" stop-color="#2e4cff"/><stop offset=".0736" stop-color="#4964ff"/><stop offset=".0811" stop-color="#7469fa"/><stop offset=".0887" stop-color="#b256ee"/><stop offset=".0925" stop-color="#ce4cde"/><stop offset=".1" stop-color="#fa3ca9"/><stop offset=".1113" stop-color="#ff2857"/><stop offset=".1226" stop-color="#ff1e28"/><stop offset=".1453" stop-color="#ff3329"/><stop offset=".1717" stop-color="#ff2b29"/><stop offset=".183" stop-color="#ff1e29"/><stop offset=".2019" stop-color="#fe2c67"/><stop offset=".217" stop-color="#f63eaf"/><stop offset=".2321" stop-color="#c350eb"/><stop offset=".2509" stop-color="#7c68f9"/><stop offset=".2736" stop-color="#5565fe"/><stop offset=".2774" stop-color="#4361ff"/><stop offset=".2849" stop-color="#2442ff"/><stop offset=".3264" stop-color="#1b35f5"/><stop offset=".3415" stop-color="#1831f1"/><stop offset=".3717" stop-color="#223ffd"/><stop offset=".6509" stop-color="#223ffe"/><stop offset=".6774" stop-color="#5065fe"/><stop offset=".7038" stop-color="#7d67f9"/><stop offset=".7264" stop-color="#8963f7"/><stop offset=".7755" stop-color="#5f67fc"/><stop offset=".8019" stop-color="#3e5cff"/><stop offset=".8245" stop-color="#2c4aff"/><stop offset=".9943" stop-color="#3250ff"/><stop offset=".9981" stop-color="#1932f2"/></linearGradient>
<linearGradient id="h109"><stop offset=".0019" stop-color="#3452ff"/><stop offset=".0509" stop-color="#4f65fe"/><stop offset=".0698" stop-color="#5866fd"/><stop offset=".0774" stop-color="#8864f7"/><stop offset=".0849" stop-color="#c64fe8"/><stop offset=".0925" stop-color="#f33eb2"/><stop offset=".1038" stop-color="#ff2a5e"/><stop offset=".1151" stop-color="#ff1f2c"/><stop offset=".1415" stop-color="#ff3329"/><stop offset=".1642" stop-color="#ff3129"/><stop offset=".183" stop-color="#ff1f2c"/><stop offset=".2019" stop-color="#fe2d6d"/><stop offset=".2132" stop-color="#fa3aa3"/><stop offset=".2321" stop-color="#be52ec"/><stop offset=".2509" stop-color="#7869fa"/><stop offset=".2698" stop-color="#5e66fd"/><stop offset=".2774" stop-color="#3f5dff"/><stop offset=".2849" stop-color="#2543ff"/><stop offset=".3415" stop-color="#1b35f5"/><stop offset=".383" stop-color="#2240fe"/><stop offset=".6472" stop-color="#2442ff"/><stop offset=".6698" stop-color="#4a64ff"/><stop offset=".6962" stop-color="#7b68f9"/><stop offset=".7189" stop-color="#8a63f6"/><stop offset=".7453" stop-color="#7869fa"/><stop offset=".7906" stop-color="#415fff"/><stop offset=".817" stop-color="#2c4aff"/><stop offset=".9943" stop-color="#3351ff"/><stop offset=".9981" stop-color="#1932f2"/></linearGradient>
<linearGradient id="h110"><stop offset=".0019" stop-color="#3c5aff"/><stop offset=".0434" stop-color="#5b66fd"/><stop offset=".066" stop-color="#6767fc"/><stop offset=".0698" stop-color="#7d67f9"/><stop offset=".0774" stop-color="#bc52ec"/><stop offset=".0849" stop-color="#eb41bc"/><stop offset=".0887" stop-color="#fb3aa1"/><stop offset=".1" stop-color="#ff2753"/><stop offset=".1113" stop-color="#ff2028"/><stop offset=".134" stop-color="#ff3429"/><stop offset=".1604" stop-color="#ff3229"/><stop offset=".1792" stop-color="#ff1f28"/><stop offset=".1981" stop-color="#ff2a60"/><stop offset=".2132" stop-color="#fa3ca9"/><stop offset=".2283" stop-color="#c84ee6"/><stop offset=".2509" stop-color="#7669fa"/><stop offset=".2698" stop-color="#5a66fd"/><stop offset=".2774" stop-color="#3b59ff"/><stop offset=".2811" stop-color="#2a48ff"/><stop offset=".3415" stop-color="#1e3af9"/><stop offset=".4358" stop-color="#2240fe"/><stop offset=".6396" stop-color="#2240fe"/><stop offset=".666" stop-color="#4e65fe"/><stop offset=".6962" stop-color="#8365f8"/><stop offset=".7189" stop-color="#8b63f6"/><stop offset=".7528" stop-color="#6967fc"/><stop offset=".7868" stop-color="#3d5bff"/><stop offset=".8094" stop-color="#2c4aff"/><stop offset=".9943" stop-color="#3351ff"/><stop offset=".9981" stop-color="#1932f3"/></linearGradient>
<linearGradient id="h111"><stop offset=".0019" stop-color="#4462ff"/><stop offset=".0509" stop-color="#6e68fb"/><stop offset=".0623" stop-color="#7469fa"/><stop offset=".0698" stop-color="#b056ef"/><stop offset=".0736" stop-color="#cc4de0"/><stop offset=".0811" stop-color="#f83dac"/><stop offset=".0925" stop-color="#ff295a"/><stop offset=".1038" stop-color="#ff1e28"/><stop offset=".1264" stop-color="#ff3429"/><stop offset=".1604" stop-color="#ff3229"/><stop offset=".1792" stop-color="#ff1e28"/><stop offset=".1981" stop-color="#ff2c66"/><stop offset=".2132" stop-color="#f73dad"/><stop offset=".2283" stop-color="#c450ea"/><stop offset=".2472" stop-color="#7d67f9"/><stop offset=".2698" stop-color="#5666fd"/><stop offset=".2736" stop-color="#4563ff"/><stop offset=".2811" stop-color="#2745ff"/><stop offset=".3453" stop-color="#223ffd"/><stop offset=".6321" stop-color="#223ffe"/><stop offset=".6623" stop-color="#5265fe"/><stop offset=".6925" stop-color="#8664f7"/><stop offset=".7151" stop-color="#8c62f6"/><stop offset=".7491" stop-color="#6667fc"/><stop offset=".7792" stop-color="#3d5bff"/><stop offset=".8019" stop-color="#2d4bff"/><stop offset=".9943" stop-color="#3351ff"/><stop offset=".9981" stop-color="#1932f3"/></linearGradient>
<linearGradient id="h112"><stop offset=".0019" stop-color="#5165fe"/><stop offset=".0585" stop-color="#8664f7"/><stop offset=".066" stop-color="#c450ea"/><stop offset=".0736" stop-color="#f040b6"/><stop offset=".0811" stop-color="#fd327e"/><stop offset=".0887" stop-color="#ff274f"/><stop offset=".0962" stop-color="#ff1f2e"/><stop offset=".1113" stop-color="#ff3029"/><stop offset=".1528" stop-color="#ff352a"/><stop offset=".1792" stop-color="#ff1f2b"/><stop offset=".1981" stop-color="#fe2d6b"/><stop offset=".2132" stop-color="#f33fb2"/><stop offset=".2283" stop-color="#bf51ec"/><stop offset=".2472" stop-color="#7969fa"/><stop offset=".266" stop-color="#5f66fd"/><stop offset=".2736" stop-color="#415fff"/><stop offset=".2811" stop-color="#2745ff"/><stop offset=".6283" stop-color="#2543ff"/><stop offset=".6547" stop-color="#4e65fe"/><stop offset=".6849" stop-color="#8465f8"/><stop offset=".7075" stop-color="#8d62f6"/><stop offset=".7377" stop-color="#6f68fb"/><stop offset=".7717" stop-color="#3d5bff"/><stop offset=".7943" stop-color="#2d4bff"/><stop offset=".9943" stop-color="#3452ff"/><stop offset=".9981" stop-color="#1933f3"/></linearGradient>
<linearGradient id="h113"><stop offset=".0019" stop-color="#6067fc"/><stop offset=".0396" stop-color="#8f61f5"/><stop offset=".0547" stop-color="#9b5df3"/><stop offset=".0585" stop-color="#b854ed"/><stop offset=".0698" stop-color="#fa3ba6"/><stop offset=".0811" stop-color="#ff2857"/><stop offset=".0925" stop-color="#ff1f28"/><stop offset=".1151" stop-color="#ff352a"/><stop offset=".1566" stop-color="#ff3329"/><stop offset=".1755" stop-color="#ff2028"/><stop offset=".1943" stop-color="#ff2a5f"/><stop offset=".2094" stop-color="#fa3ba7"/><stop offset=".2245" stop-color="#c94ee4"/><stop offset=".2472" stop-color="#7769fa"/><stop offset=".266" stop-color="#5c66fd"/><stop offset=".2736" stop-color="#3d5bff"/><stop offset=".2774" stop-color="#2c4aff"/><stop offset=".5075" stop-color="#2341ff"/><stop offset=".6208" stop-color="#2442ff"/><stop offset=".6472" stop-color="#4f65fe"/><stop offset=".6811" stop-color="#8864f7"/><stop offset=".7038" stop-color="#8e62f6"/><stop offset=".734" stop-color="#6d68fb"/><stop offset=".7642" stop-color="#3d5bff"/><stop offset=".783" stop-color="#2d4bff"/><stop offset=".9943" stop-color="#3452ff"/><stop offset=".9981" stop-color="#1933f3"/></linearGradient>
<linearGradient id="h114"><stop offset=".0019" stop-color="#7068fb"/><stop offset=".0434" stop-color="#ab58f0"/><stop offset=".0509" stop-color="#b156ef"/><stop offset=".0547" stop-color="#c94ee4"/><stop offset=".0623" stop-color="#f43eb1"/><stop offset=".0736" stop-color="#ff2a5f"/><stop offset=".0849" stop-color="#ff1f2b"/><stop offset=".1113" stop-color="#ff362a"/><stop offset=".1566" stop-color="#ff3229"/><stop offset=".1755" stop-color="#ff1e28"/><stop offset=".1943" stop-color="#ff2b64"/><stop offset=".2094" stop-color="#f83dac"/><stop offset=".2245" stop-color="#c54fe8"/><stop offset=".2434" stop-color="#7e67f9"/><stop offset=".266" stop-color="#5866fd"/><stop offset=".2698" stop-color="#4664ff"/><stop offset=".2774" stop-color="#2947ff"/><stop offset=".6132" stop-color="#2442ff"/><stop offset=".6358" stop-color="#4964ff"/><stop offset=".6736" stop-color="#8664f7"/><stop offset=".6962" stop-color="#9061f5"/><stop offset=".7189" stop-color="#7c68f9"/><stop offset=".7528" stop-color="#4361ff"/><stop offset=".7755" stop-color="#2d4bff"/><stop offset=".9943" stop-color="#3452ff"/><stop offset=".9981" stop-color="#1a33f3"/></linearGradient>
<linearGradient id="h115"><stop offset=".0019" stop-color="#8465f8"/><stop offset=".0358" stop-color="#bc52ec"/><stop offset=".0472" stop-color="#c54fe8"/><stop offset=".0585" stop-color="#fb3aa1"/><stop offset=".0698" stop-color="#ff2854"/><stop offset=".0811" stop-color="#ff2028"/><stop offset=".1038" stop-color="#ff362a"/><stop offset=".1528" stop-color="#ff3429"/><stop offset=".1755" stop-color="#ff1e2a"/><stop offset=".1943" stop-color="#fe2c69"/><stop offset=".2094" stop-color="#f43eb1"/><stop offset=".2245" stop-color="#c151eb"/><stop offset=".2434" stop-color="#7b68f9"/><stop offset=".2623" stop-color="#5f67fc"/><stop offset=".2698" stop-color="#4260ff"/><stop offset=".2774" stop-color="#2947ff"/><stop offset=".6057" stop-color="#2543ff"/><stop offset=".6283" stop-color="#4b64ff"/><stop offset=".6547" stop-color="#7769fa"/><stop offset=".6811" stop-color="#9260f5"/><stop offset=".7075" stop-color="#8664f7"/><stop offset=".7453" stop-color="#4563ff"/><stop offset=".7679" stop-color="#2d4bff"/><stop offset=".9943" stop-color="#3553ff"/><stop offset=".9981" stop-color="#1a33f3"/></linearGradient>
<linearGradient id="h116"><stop offset=".0019" stop-color="#9d5df3"/><stop offset=".0283" stop-color="#c94ee4"/><stop offset=".0434" stop-color="#d549d6"/><stop offset=".0472" stop-color="#e245c7"/><stop offset=".0509" stop-color="#f73dae"/><stop offset=".0623" stop-color="#ff295c"/><stop offset=".0736" stop-color="#ff1e29"/><stop offset=".0962" stop-color="#ff362a"/><stop offset=".1528" stop-color="#ff3329"/><stop offset=".1755" stop-color="#ff1f2d"/><stop offset=".1943" stop-color="#fe2e6f"/><stop offset=".2057" stop-color="#fa3ba5"/><stop offset=".2245" stop-color="#bc52ec"/><stop offset=".2434" stop-color="#7769fa"/><stop offset=".2623" stop-color="#5d66fd"/><stop offset=".2698" stop-color="#3e5cff"/><stop offset=".2736" stop-color="#2e4cff"/><stop offset=".5981" stop-color="#2644ff"/><stop offset=".6208" stop-color="#4d65fe"/><stop offset=".6509" stop-color="#8066f8"/><stop offset=".6811" stop-color="#9460f4"/><stop offset=".7038" stop-color="#8465f8"/><stop offset=".7415" stop-color="#4361ff"/><stop offset=".7604" stop-color="#2e4cff"/><stop offset=".9943" stop-color="#3553ff"/><stop offset=".9981" stop-color="#1a33f4"/></linearGradient>
<linearGradient id="h117"><stop offset=".0019" stop-color="#b555ee"/><stop offset=".0321" stop-color="#df46ca"/><stop offset=".0396" stop-color="#e544c3"/><stop offset=".0434" stop-color="#ef40b7"/><stop offset=".0472" stop-color="#fb399e"/><stop offset=".0585" stop-color="#ff2752"/><stop offset=".066" stop-color="#ff2030"/><stop offset=".0736" stop-color="#ff2729"/><stop offset=".0962" stop-color="#ff372a"/><stop offset=".1528" stop-color="#ff3229"/><stop offset=".1717" stop-color="#ff1f28"/><stop offset=".1906" stop-color="#ff2b62"/><stop offset=".2057" stop-color="#fa3caa"/><stop offset=".2208" stop-color="#c64fe7"/><stop offset=".2434" stop-color="#7569fa"/><stop offset=".2623" stop-color="#5966fd"/><stop offset=".266" stop-color="#4864ff"/><stop offset=".2736" stop-color="#2a48ff"/><stop offset=".5906" stop-color="#2644ff"/><stop offset=".6132" stop-color="#5165fe"/><stop offset=".6434" stop-color="#8864f7"/><stop offset=".6736" stop-color="#955ff4"/><stop offset=".6962" stop-color="#8864f7"/><stop offset=".7302" stop-color="#4d65fe"/><stop offset=".7566" stop-color="#2e4cff"/><stop offset=".9943" stop-color="#3553ff"/><stop offset=".9981" stop-color="#1a33f4"/></linearGradient>
<linearGradient id="h118"><stop offset=".0019" stop-color="#cb4de1"/><stop offset=".0396" stop-color="#fa3caa"/><stop offset=".0509" stop-color="#ff295a"/><stop offset=".0623" stop-color="#ff1e28"/><stop offset=".0849" stop-color="#ff372a"/><stop offset=".1528" stop-color="#ff3129"/><stop offset=".1717" stop-color="#ff1e29"/><stop offset=".1906" stop-color="#fe2c67"/><stop offset=".2057" stop-color="#f63eaf"/><stop offset=".2208" stop-color="#c350eb"/><stop offset=".2396" stop-color="#7c68f9"/><stop offset=".2623" stop-color="#5565fe"/><stop offset=".266" stop-color="#4361ff"/><stop offset=".2736" stop-color="#2b49ff"/><stop offset=".583" stop-color="#2846ff"/><stop offset=".6019" stop-color="#4b64ff"/><stop offset=".6283" stop-color="#8465f8"/><stop offset=".6509" stop-color="#9a5ef3"/><stop offset=".6887" stop-color="#8b63f6"/><stop offset=".7226" stop-color="#5265fe"/><stop offset=".7491" stop-color="#2e4cff"/><stop offset=".9943" stop-color="#3553ff"/><stop offset=".9981" stop-color="#1a34f4"/></linearGradient>
<linearGradient id="h119"><stop offset=".0019" stop-color="#dd46cc"/><stop offset=".0245" stop-color="#fa3ba7"/><stop offset=".0358" stop-color="#fb3899"/><stop offset=".0434" stop-color="#ff2b63"/><stop offset=".0547" stop-color="#ff202f"/><stop offset=".066" stop-color="#ff2d29"/><stop offset=".0887" stop-color="#ff372a"/><stop offset=".1491" stop-color="#ff3329"/><stop offset=".1717" stop-color="#ff1f2c"/><stop offset=".1906" stop-color="#fe2d6d"/><stop offset=".2019" stop-color="#fa3aa3"/><stop offset=".2208" stop-color="#be52ec"/><stop offset=".2396" stop-color="#7869fa"/><stop offset=".2585" stop-color="#5e66fd"/><stop offset=".266" stop-color="#3f5dff"/><stop offset=".2698" stop-color="#304eff"/><stop offset=".5717" stop-color="#2a48ff"/><stop offset=".5943" stop-color="#5365fe"/><stop offset=".6208" stop-color="#8b63f6"/><stop offset=".6396" stop-color="#a05cf2"/><stop offset=".666" stop-color="#995ef3"/><stop offset=".6925" stop-color="#7e67f9"/><stop offset=".7264" stop-color="#415fff"/><stop offset=".7453" stop-color="#2f4dff"/><stop offset=".9943" stop-color="#3654ff"/><stop offset=".9981" stop-color="#1a34f4"/></linearGradient>
<linearGradient id="h120"><stop offset=".0019" stop-color="#ef40b6"/><stop offset=".017" stop-color="#fb389a"/><stop offset=".0321" stop-color="#fc3385"/><stop offset=".0434" stop-color="#ff2546"/><stop offset=".0509" stop-color="#ff1f28"/><stop offset=".0736" stop-color="#ff382a"/><stop offset=".1491" stop-color="#ff3229"/><stop offset=".1679" stop-color="#ff1f28"/><stop offset=".1868" stop-color="#ff2a60"/><stop offset=".2019" stop-color="#fa3ca9"/><stop offset=".217" stop-color="#c84ee6"/><stop offset=".2396" stop-color="#7669fa"/><stop offset=".2585" stop-color="#5a66fd"/><stop offset=".266" stop-color="#3b59ff"/><stop offset=".2698" stop-color="#2c4aff"/><stop offset=".5566" stop-color="#2b49ff"/><stop offset=".5792" stop-color="#4c65fe"/><stop offset=".6057" stop-color="#8664f7"/><stop offset=".6283" stop-color="#a759f1"/><stop offset=".6547" stop-color="#a35bf1"/><stop offset=".6887" stop-color="#7b68f9"/><stop offset=".7189" stop-color="#4361ff"/><stop offset=".7377" stop-color="#2f4dff"/><stop offset=".9943" stop-color="#3654ff"/><stop offset=".9981" stop-color="#1a34f4"/></linearGradient>
<linearGradient id="h121"><stop offset=".0019" stop-color="#fb399f"/><stop offset=".0283" stop-color="#fe2e71"/><stop offset=".0434" stop-color="#ff1f2d"/><stop offset=".0698" stop-color="#ff392a"/><stop offset=".1491" stop-color="#ff3229"/><stop offset=".1679" stop-color="#ff1e28"/><stop offset=".1868" stop-color="#ff2c66"/><stop offset=".2019" stop-color="#f73dad"/><stop offset=".217" stop-color="#c450ea"/><stop offset=".2358" stop-color="#7d67f9"/><stop offset=".2585" stop-color="#5666fd"/><stop offset=".2623" stop-color="#4563ff"/><stop offset=".2698" stop-color="#2c4aff"/><stop offset=".5377" stop-color="#2b49ff"/><stop offset=".5642" stop-color="#5265fe"/><stop offset=".5906" stop-color="#8664f7"/><stop offset=".6132" stop-color="#aa58f0"/><stop offset=".6396" stop-color="#b056ef"/><stop offset=".666" stop-color="#975ff4"/><stop offset=".6925" stop-color="#6b68fb"/><stop offset=".7151" stop-color="#405eff"/><stop offset=".734" stop-color="#2f4dff"/><stop offset=".9943" stop-color="#3654ff"/><stop offset=".9981" stop-color="#1a34f4"/></linearGradient>
<linearGradient id="h122"><stop offset=".0019" stop-color="#fc3487"/><stop offset=".0283" stop-color="#ff2857"/><stop offset=".0396" stop-color="#ff1f28"/><stop offset=".0623" stop-color="#ff392a"/><stop offset=".1453" stop-color="#ff3329"/><stop offset=".1679" stop-color="#ff1f2b"/><stop offset=".1868" stop-color="#fe2d6b"/><stop offset=".2019" stop-color="#f33fb2"/><stop offset=".217" stop-color="#bf51ec"/><stop offset=".2358" stop-color="#7969fa"/><stop offset=".2547" stop-color="#5f66fd"/><stop offset=".2623" stop-color="#415fff"/><stop offset=".266" stop-color="#314fff"/><stop offset=".5189" stop-color="#2b49ff"/><stop offset=".5415" stop-color="#4e65fe"/><stop offset=".5679" stop-color="#8066f8"/><stop offset=".5981" stop-color="#b056ef"/><stop offset=".6283" stop-color="#b953ed"/><stop offset=".6585" stop-color="#9f5cf2"/><stop offset=".6849" stop-color="#6d68fb"/><stop offset=".7075" stop-color="#4260ff"/><stop offset=".7264" stop-color="#2f4dff"/><stop offset=".9943" stop-color="#3654ff"/><stop offset=".9981" stop-color="#1a34f4"/></linearGradient>
<linearGradient id="h123"><stop offset=".0019" stop-color="#fe2e6e"/><stop offset=".0245" stop-color="#ff264c"/><stop offset=".0321" stop-color="#ff1f2c"/><stop offset=".0585" stop-color="#ff3a2a"/><stop offset=".1453" stop-color="#ff3329"/><stop offset=".1642" stop-color="#ff2028"/><stop offset=".183" stop-color="#ff2a5f"/><stop offset=".1981" stop-color="#fa3ba7"/><stop offset=".2132" stop-color="#c94ee4"/><stop offset=".2358" stop-color="#7769fa"/><stop offset=".2547" stop-color="#5c66fd"/><stop offset=".2623" stop-color="#3d5bff"/><stop offset=".266" stop-color="#2d4bff"/><stop offset=".4396" stop-color="#2d4bff"/><stop offset=".5113" stop-color="#3d5bff"/><stop offset=".534" stop-color="#6e68fb"/><stop offset=".5642" stop-color="#ac58f0"/><stop offset=".5943" stop-color="#c64fe8"/><stop offset=".6321" stop-color="#ba53ed"/><stop offset=".6585" stop-color="#9a5ef3"/><stop offset=".6811" stop-color="#6967fc"/><stop offset=".7038" stop-color="#3f5dff"/><stop offset=".7189" stop-color="#304eff"/><stop offset=".9943" stop-color="#3755ff"/><stop offset=".9981" stop-color="#1a34f4"/></linearGradient>
<linearGradient id="h124"><stop offset=".0019" stop-color="#ff2858"/><stop offset=".0245" stop-color="#ff2134"/><stop offset=".0283" stop-color="#ff2028"/><stop offset=".0509" stop-color="#ff3a2a"/><stop offset=".1453" stop-color="#ff3229"/><stop offset=".1642" stop-color="#ff1e28"/><stop offset=".183" stop-color="#ff2b64"/><stop offset=".1981" stop-color="#f83dac"/><stop offset=".2132" stop-color="#c54fe8"/><stop offset=".2321" stop-color="#7e67f9"/><stop offset=".2547" stop-color="#5866fd"/><stop offset=".2585" stop-color="#4664ff"/><stop offset=".266" stop-color="#2d4bff"/><stop offset=".3491" stop-color="#3351ff"/><stop offset=".4358" stop-color="#5165fe"/><stop offset=".4736" stop-color="#6667fc"/><stop offset=".5113" stop-color="#6e68fb"/><stop offset=".5377" stop-color="#b555ee"/><stop offset=".5566" stop-color="#cb4de2"/><stop offset=".5943" stop-color="#d44ad7"/><stop offset=".6358" stop-color="#b754ed"/><stop offset=".6585" stop-color="#9161f5"/><stop offset=".6774" stop-color="#6467fc"/><stop offset=".7" stop-color="#3c5aff"/><stop offset=".7151" stop-color="#304eff"/><stop offset=".9943" stop-color="#3755ff"/><stop offset=".9981" stop-color="#1b34f4"/></linearGradient>
<linearGradient id="h125"><stop offset=".0019" stop-color="#ff2546"/><stop offset=".0245" stop-color="#ff2328"/><stop offset=".0472" stop-color="#ff3b2a"/><stop offset=".1415" stop-color="#ff3429"/><stop offset=".1642" stop-color="#ff1e2a"/><stop offset=".183" stop-color="#fe2c69"/><stop offset=".1981" stop-color="#f43eb1"/><stop offset=".2132" stop-color="#c151eb"/><stop offset=".2321" stop-color="#7b68f9"/><stop offset=".2509" stop-color="#5f67fc"/><stop offset=".2585" stop-color="#4260ff"/><stop offset=".266" stop-color="#2d4bff"/><stop offset=".3453" stop-color="#4f65fe"/><stop offset=".4057" stop-color="#7b68f9"/><stop offset=".4283" stop-color="#8e62f6"/><stop offset=".4434" stop-color="#a15bf2"/><stop offset=".4698" stop-color="#b056ef"/><stop offset=".5113" stop-color="#b854ed"/><stop offset=".534" stop-color="#dc47cd"/><stop offset=".5604" stop-color="#e942be"/><stop offset=".5943" stop-color="#db47ce"/><stop offset=".6321" stop-color="#bb53ed"/><stop offset=".6547" stop-color="#8e62f6"/><stop offset=".6736" stop-color="#6067fc"/><stop offset=".6887" stop-color="#415fff"/><stop offset=".7075" stop-color="#304eff"/><stop offset=".9943" stop-color="#3755ff"/><stop offset=".9981" stop-color="#1b34f5"/></linearGradient>
<linearGradient id="h126"><stop offset=".0019" stop-color="#ff2135"/><stop offset=".0132" stop-color="#ff2028"/><stop offset=".0434" stop-color="#ff3c2a"/><stop offset=".1415" stop-color="#ff3329"/><stop offset=".1642" stop-color="#ff1f2d"/><stop offset=".183" stop-color="#fe2e6f"/><stop offset=".1943" stop-color="#fa3ba5"/><stop offset=".2132" stop-color="#bc52ec"/><stop offset=".2321" stop-color="#7769fa"/><stop offset=".2509" stop-color="#5d66fd"/><stop offset=".2585" stop-color="#3e5cff"/><stop offset=".2623" stop-color="#2e4cff"/><stop offset=".2811" stop-color="#4864ff"/><stop offset=".3453" stop-color="#8565f7"/><stop offset=".3679" stop-color="#985ef4"/><stop offset=".3906" stop-color="#b654ee"/><stop offset=".417" stop-color="#ce4cde"/><stop offset=".4509" stop-color="#e843c0"/><stop offset=".5151" stop-color="#ef40b7"/><stop offset=".5415" stop-color="#fa3ba4"/><stop offset=".5755" stop-color="#f43eb1"/><stop offset=".6245" stop-color="#c151eb"/><stop offset=".6472" stop-color="#965ff4"/><stop offset=".6623" stop-color="#6e68fb"/><stop offset=".6811" stop-color="#4260ff"/><stop offset=".7" stop-color="#304eff"/><stop offset=".9943" stop-color="#3755ff"/><stop offset=".9981" stop-color="#1b35f5"/></linearGradient>
<linearGradient id="h127"><stop offset=".0019" stop-color="#ff2028"/><stop offset=".0396" stop-color="#ff3f2c"/><stop offset=".0585" stop-color="#ff382a"/><stop offset=".1415" stop-color="#ff3229"/><stop offset=".1604" stop-color="#ff1f28"/><stop offset=".1792" stop-color="#ff2b62"/><stop offset=".1943" stop-color="#fa3caa"/><stop offset=".2094" stop-color="#c64fe7"/><stop offset=".2321" stop-color="#7569fa"/><stop offset=".2509" stop-color="#5966fd"/><stop offset=".2585" stop-color="#3b59ff"/><stop offset=".2736" stop-color="#6567fc"/><stop offset=".3075" stop-color="#9b5df3"/><stop offset=".3491" stop-color="#c94ee4"/><stop offset=".4132" stop-color="#fa3aa3"/><stop offset=".4472" stop-color="#fc3385"/><stop offset=".5" stop-color="#fd3282"/><stop offset=".5491" stop-color="#fc348a"/><stop offset=".5792" stop-color="#f63daf"/><stop offset=".6208" stop-color="#c350eb"/><stop offset=".6434" stop-color="#9161f5"/><stop offset=".6585" stop-color="#6867fc"/><stop offset=".6774" stop-color="#3e5cff"/><stop offset=".6925" stop-color="#304eff"/><stop offset=".9943" stop-color="#3755ff"/><stop offset=".9981" stop-color="#1b35f5"/></linearGradient>
<linearGradient id="h128"><stop offset=".0019" stop-color="#ff2829"/><stop offset=".0358" stop-color="#ff402c"/><stop offset=".0623" stop-color="#ff382a"/><stop offset=".1377" stop-color="#ff3429"/><stop offset=".1604" stop-color="#ff1e29"/><stop offset=".1792" stop-color="#fe2c67"/><stop offset=".1943" stop-color="#f63eaf"/><stop offset=".2094" stop-color="#c350eb"/><stop offset=".2283" stop-color="#7c68f9"/><stop offset=".2509" stop-color="#5565fe"/><stop offset=".2547" stop-color="#4b64ff"/><stop offset=".266" stop-color="#7669fa"/><stop offset=".2736" stop-color="#9a5ef3"/><stop offset=".2962" stop-color="#c350eb"/><stop offset=".3566" stop-color="#fa3ca9"/><stop offset=".4321" stop-color="#ff295a"/><stop offset=".4811" stop-color="#ff2856"/><stop offset=".5377" stop-color="#fe2e70"/><stop offset=".5755" stop-color="#fa3aa3"/><stop offset=".6132" stop-color="#c84ee5"/><stop offset=".6358" stop-color="#955ff4"/><stop offset=".6547" stop-color="#6267fc"/><stop offset=".6698" stop-color="#405eff"/><stop offset=".6849" stop-color="#304eff"/><stop offset=".9943" stop-color="#3856ff"/><stop offset=".9981" stop-color="#1b35f5"/></linearGradient>
<linearGradient id="h129"><stop offset=".0019" stop-color="#ff3029"/><stop offset=".0434" stop-color="#fe4e34"/><stop offset=".0736" stop-color="#ff382a"/><stop offset=".1377" stop-color="#ff3329"/><stop offset=".1604" stop-color="#ff1f2c"/><stop offset=".1792" stop-color="#fe2d6d"/><stop offset=".1906" stop-color="#fa3aa3"/><stop offset=".2094" stop-color="#be52ec"/><stop offset=".2283" stop-color="#7869fa"/><stop offset=".2472" stop-color="#5e66fd"/><stop offset=".2509" stop-color="#6267fc"/><stop offset=".2623" stop-color="#995ef3"/><stop offset=".2698" stop-color="#bf51ec"/><stop offset=".2774" stop-color="#d24ad9"/><stop offset=".3075" stop-color="#f83dad"/><stop offset=".3792" stop-color="#ff2a5e"/><stop offset=".4434" stop-color="#ff2137"/><stop offset=".5038" stop-color="#ff2549"/><stop offset=".5415" stop-color="#fe2c67"/><stop offset=".583" stop-color="#f83dad"/><stop offset=".6132" stop-color="#c350eb"/><stop offset=".6434" stop-color="#6d68fb"/><stop offset=".6623" stop-color="#405eff"/><stop offset=".6774" stop-color="#304eff"/><stop offset=".9943" stop-color="#3856ff"/><stop offset=".9981" stop-color="#1b35f5"/></linearGradient>
<linearGradient id="h130"><stop offset=".0019" stop-color="#ff372a"/><stop offset=".0094" stop-color="#ff3e2b"/><stop offset=".0283" stop-color="#fe6942"/><stop offset=".0472" stop-color="#fe6e44"/><stop offset=".066" stop-color="#ff4c32"/><stop offset=".0698" stop-color="#fe5437"/><stop offset=".0736" stop-color="#fe6e44"/><stop offset=".0774" stop-color="#fd7548"/><stop offset=".0811" stop-color="#fe6a43"/><stop offset=".0887" stop-color="#ff382a"/><stop offset=".1377" stop-color="#ff3229"/><stop offset=".1566" stop-color="#ff1f28"/><stop offset=".1755" stop-color="#ff2a60"/><stop offset=".1906" stop-color="#fa3ca9"/><stop offset=".2057" stop-color="#c84ee6"/><stop offset=".2283" stop-color="#7669fa"/><stop offset=".2396" stop-color="#6567fc"/><stop offset=".2434" stop-color="#6a68fb"/><stop offset=".2509" stop-color="#9161f5"/><stop offset=".2585" stop-color="#bc52ec"/><stop offset=".2736" stop-color="#f13fb4"/><stop offset=".2849" stop-color="#fb399c"/><stop offset=".3302" stop-color="#ff2b63"/><stop offset=".4208" stop-color="#ff1e29"/><stop offset=".4849" stop-color="#ff1f2f"/><stop offset=".5226" stop-color="#ff264d"/><stop offset=".5566" stop-color="#fd317e"/><stop offset=".583" stop-color="#f63eaf"/><stop offset=".6094" stop-color="#c051ec"/><stop offset=".6358" stop-color="#6e68fb"/><stop offset=".6547" stop-color="#405eff"/><stop offset=".6698" stop-color="#304eff"/><stop offset=".9943" stop-color="#3856ff"/><stop offset=".9981" stop-color="#1b35f5"/></linearGradient>
<linearGradient id="h131"><stop offset=".0019" stop-color="#ff4931"/><stop offset=".0208" stop-color="#fd804e"/><stop offset=".0396" stop-color="#fc9157"/><stop offset=".0585" stop-color="#fd7a4b"/><stop offset=".0623" stop-color="#fd7146"/><stop offset=".066" stop-color="#fd7e4d"/><stop offset=".0698" stop-color="#fc9c5d"/><stop offset=".0736" stop-color="#fba663"/><stop offset=".0774" stop-color="#fca160"/><stop offset=".0811" stop-color="#fd8853"/><stop offset=".0887" stop-color="#ff382a"/><stop offset=".1377" stop-color="#ff3229"/><stop offset=".1566" stop-color="#ff1e28"/><stop offset=".1755" stop-color="#ff2c66"/><stop offset=".1906" stop-color="#f73dad"/><stop offset=".2057" stop-color="#c450ea"/><stop offset=".2245" stop-color="#7d67f9"/><stop offset=".2321" stop-color="#6e68fb"/><stop offset=".2358" stop-color="#6f68fb"/><stop offset=".2509" stop-color="#c64fe7"/><stop offset=".266" stop-color="#fa3ba6"/><stop offset=".2774" stop-color="#fd327f"/><stop offset=".3038" stop-color="#ff2959"/><stop offset=".3792" stop-color="#ff1e28"/><stop offset=".4585" stop-color="#ff2528"/><stop offset=".4962" stop-color="#ff1f2c"/><stop offset=".5491" stop-color="#fe2d6d"/><stop offset=".583" stop-color="#f33eb2"/><stop offset=".6057" stop-color="#be52ec"/><stop offset=".6283" stop-color="#6d68fb"/><stop offset=".6472" stop-color="#405eff"/><stop offset=".6623" stop-color="#304eff"/><stop offset=".9943" stop-color="#3856ff"/><stop offset=".9981" stop-color="#1b35f5"/></linearGradient>
<linearGradient id="h132"><stop offset=".0019" stop-color="#fe6d44"/><stop offset=".0208" stop-color="#fca261"/><stop offset=".0396" stop-color="#fbae69"/><stop offset=".0547" stop-color="#fc9e5e"/><stop offset=".0585" stop-color="#fc9559"/><stop offset=".0623" stop-color="#fc995b"/><stop offset=".066" stop-color="#fab66f"/><stop offset=".0698" stop-color="#f9c378"/><stop offset=".0736" stop-color="#f9c277"/><stop offset=".0774" stop-color="#fab26b"/><stop offset=".0811" stop-color="#fc8f56"/><stop offset=".0849" stop-color="#fe5638"/><stop offset=".0887" stop-color="#ff382a"/><stop offset=".1377" stop-color="#ff3129"/><stop offset=".1566" stop-color="#ff1f2b"/><stop offset=".1755" stop-color="#fe2d6b"/><stop offset=".1906" stop-color="#f33fb2"/><stop offset=".2057" stop-color="#bf51ec"/><stop offset=".2245" stop-color="#7969fa"/><stop offset=".2283" stop-color="#7569fa"/><stop offset=".2396" stop-color="#bc52ec"/><stop offset=".2547" stop-color="#f93cac"/><stop offset=".2736" stop-color="#ff2a61"/><stop offset=".3075" stop-color="#ff223c"/><stop offset=".3491" stop-color="#ff2028"/><stop offset=".4509" stop-color="#ff2929"/><stop offset=".5" stop-color="#ff1f2b"/><stop offset=".5491" stop-color="#fe2e6e"/><stop offset=".5755" stop-color="#fa3ca9"/><stop offset=".5981" stop-color="#c350eb"/><stop offset=".617" stop-color="#7669fa"/><stop offset=".6396" stop-color="#3e5cff"/><stop offset=".6547" stop-color="#304eff"/><stop offset=".9943" stop-color="#3856ff"/><stop offset=".9981" stop-color="#1b35f5"/></linearGradient>
<linearGradient id="h133"><stop offset=".0019" stop-color="#fc9056"/><stop offset=".017" stop-color="#fab76f"/><stop offset=".0358" stop-color="#f8c77a"/><stop offset=".0547" stop-color="#fab36c"/><stop offset=".0585" stop-color="#fbab67"/><stop offset=".0623" stop-color="#f9c579"/><stop offset=".066" stop-color="#f7d484"/><stop offset=".0698" stop-color="#f7d685"/><stop offset=".0736" stop-color="#f8ca7d"/><stop offset=".0774" stop-color="#fbb06a"/><stop offset=".0811" stop-color="#fd7f4e"/><stop offset=".0849" stop-color="#ff402c"/><stop offset=".0962" stop-color="#ff382a"/><stop offset=".1377" stop-color="#ff3029"/><stop offset=".1528" stop-color="#ff2028"/><stop offset=".1717" stop-color="#ff2a5f"/><stop offset=".1868" stop-color="#fa3ba7"/><stop offset=".2019" stop-color="#c94ee4"/><stop offset=".2208" stop-color="#8266f8"/><stop offset=".2321" stop-color="#c450ea"/><stop offset=".2434" stop-color="#f23fb3"/><stop offset=".2547" stop-color="#fd327f"/><stop offset=".266" stop-color="#ff2858"/><stop offset=".2849" stop-color="#ff2238"/><stop offset=".3151" stop-color="#ff2028"/><stop offset=".4283" stop-color="#ff2e29"/><stop offset=".5" stop-color="#ff1f2a"/><stop offset=".5491" stop-color="#fe2e6f"/><stop offset=".5717" stop-color="#f83dac"/><stop offset=".5906" stop-color="#c74fe7"/><stop offset=".6094" stop-color="#7569fa"/><stop offset=".6283" stop-color="#415fff"/><stop offset=".6434" stop-color="#304eff"/><stop offset=".9943" stop-color="#3856ff"/><stop offset=".9981" stop-color="#1b35f5"/></linearGradient>
<linearGradient id="h134"><stop offset=".0019" stop-color="#fbae69"/><stop offset=".0208" stop-color="#f7d685"/><stop offset=".0396" stop-color="#f6dc89"/><stop offset=".0547" stop-color="#f8c67a"/><stop offset=".0585" stop-color="#f8c87b"/><stop offset=".0623" stop-color="#f6db88"/><stop offset=".066" stop-color="#f6df8b"/><stop offset=".0698" stop-color="#f7d886"/><stop offset=".0736" stop-color="#f9c277"/><stop offset=".0774" stop-color="#fc9a5c"/><stop offset=".0811" stop-color="#fe633f"/><stop offset=".0887" stop-color="#ff3c2a"/><stop offset=".1377" stop-color="#ff2f29"/><stop offset=".1528" stop-color="#ff1e28"/><stop offset=".1717" stop-color="#ff2b64"/><stop offset=".1868" stop-color="#f83dac"/><stop offset=".2019" stop-color="#c54fe8"/><stop offset=".2132" stop-color="#985ef4"/><stop offset=".217" stop-color="#9f5cf2"/><stop offset=".2245" stop-color="#c94ee3"/><stop offset=".2358" stop-color="#f83dad"/><stop offset=".2547" stop-color="#ff295b"/><stop offset=".2774" stop-color="#ff1f2c"/><stop offset=".4019" stop-color="#ff3129"/><stop offset=".4887" stop-color="#ff2128"/><stop offset=".5038" stop-color="#ff202f"/><stop offset=".5415" stop-color="#fe2c67"/><stop offset=".5679" stop-color="#f53eb0"/><stop offset=".5868" stop-color="#b953ed"/><stop offset=".6019" stop-color="#7369fa"/><stop offset=".6208" stop-color="#3e5cff"/><stop offset=".6321" stop-color="#304eff"/><stop offset=".9943" stop-color="#3856ff"/><stop offset=".9981" stop-color="#1b35f5"/></linearGradient>
<linearGradient id="h135"><stop offset=".0019" stop-color="#f8c77b"/><stop offset=".0132" stop-color="#f6e18d"/><stop offset=".0472" stop-color="#f6e28e"/><stop offset=".0585" stop-color="#f7d886"/><stop offset=".0623" stop-color="#f6df8b"/><stop offset=".066" stop-color="#f6db88"/><stop offset=".0698" stop-color="#f8c87b"/><stop offset=".0774" stop-color="#fd8551"/><stop offset=".0887" stop-color="#ff452f"/><stop offset=".0925" stop-color="#ff392a"/><stop offset=".134" stop-color="#ff3129"/><stop offset=".1528" stop-color="#ff1e2a"/><stop offset=".1717" stop-color="#fe2c69"/><stop offset=".1868" stop-color="#f43eb1"/><stop offset=".2019" stop-color="#c151eb"/><stop offset=".2094" stop-color="#ab58f0"/><stop offset=".2132" stop-color="#c151eb"/><stop offset=".2283" stop-color="#fa3ba4"/><stop offset=".2434" stop-color="#ff2a60"/><stop offset=".266" stop-color="#ff1f2c"/><stop offset=".3642" stop-color="#ff3429"/><stop offset=".466" stop-color="#ff2829"/><stop offset=".5" stop-color="#ff1e29"/><stop offset=".5377" stop-color="#fe2d6c"/><stop offset=".5604" stop-color="#f53eaf"/><stop offset=".5755" stop-color="#c74fe6"/><stop offset=".5943" stop-color="#7168fb"/><stop offset=".6094" stop-color="#415fff"/><stop offset=".6245" stop-color="#304eff"/><stop offset=".9943" stop-color="#3856ff"/><stop offset=".9981" stop-color="#1b35f5"/></linearGradient>
<linearGradient id="h136"><stop offset=".0019" stop-color="#f6df8c"/><stop offset=".0358" stop-color="#f3ea97"/><stop offset=".0585" stop-color="#f7da88"/><stop offset=".066" stop-color="#f9c579"/><stop offset=".0811" stop-color="#fd7b4b"/><stop offset=".0925" stop-color="#ff3b2a"/><stop offset=".134" stop-color="#ff3029"/><stop offset=".1528" stop-color="#ff1f2d"/><stop offset=".1717" stop-color="#fe2e6f"/><stop offset=".183" stop-color="#fa3ba5"/><stop offset=".2019" stop-color="#be52ec"/><stop offset=".217" stop-color="#f73dad"/><stop offset=".2358" stop-color="#ff295b"/><stop offset=".2585" stop-color="#ff1f28"/><stop offset=".3075" stop-color="#ff3129"/><stop offset=".4283" stop-color="#ff3129"/><stop offset=".5" stop-color="#ff1f2c"/><stop offset=".5302" stop-color="#fe2c67"/><stop offset=".5491" stop-color="#fa3ba7"/><stop offset=".5679" stop-color="#c250eb"/><stop offset=".583" stop-color="#7969fa"/><stop offset=".5981" stop-color="#4361ff"/><stop offset=".6094" stop-color="#304eff"/><stop offset=".9906" stop-color="#3957ff"/><stop offset=".9943" stop-color="#3856ff"/><stop offset=".9981" stop-color="#1b35f5"/></linearGradient>
<linearGradient id="h137"><stop offset=".0019" stop-color="#f4e693"/><stop offset=".0358" stop-color="#f2ef9c"/><stop offset=".0585" stop-color="#f6e28e"/><stop offset=".0736" stop-color="#fbab67"/><stop offset=".0925" stop-color="#ff3c2a"/><stop offset=".134" stop-color="#ff2f29"/><stop offset=".1491" stop-color="#ff1f28"/><stop offset=".1679" stop-color="#ff2b62"/><stop offset=".183" stop-color="#fa3caa"/><stop offset=".1943" stop-color="#d34ad8"/><stop offset=".2094" stop-color="#fb3aa1"/><stop offset=".2283" stop-color="#ff2856"/><stop offset=".2472" stop-color="#ff1e2a"/><stop offset=".3" stop-color="#ff3329"/><stop offset=".4283" stop-color="#ff3129"/><stop offset=".4925" stop-color="#ff1f2b"/><stop offset=".5151" stop-color="#ff2752"/><stop offset=".5415" stop-color="#f63eaf"/><stop offset=".5566" stop-color="#c64fe7"/><stop offset=".5755" stop-color="#7068fb"/><stop offset=".5906" stop-color="#3f5dff"/><stop offset=".5981" stop-color="#304eff"/><stop offset=".9906" stop-color="#3957ff"/><stop offset=".9943" stop-color="#3957ff"/><stop offset=".9981" stop-color="#1b35f5"/></linearGradient>
<linearGradient id="h138"><stop offset=".0019" stop-color="#f3eb99"/><stop offset=".0321" stop-color="#f0f4a2"/><stop offset=".0623" stop-color="#f6e08c"/><stop offset=".0774" stop-color="#fc9f5e"/><stop offset=".0925" stop-color="#ff3c2a"/><stop offset=".134" stop-color="#ff2e29"/><stop offset=".1491" stop-color="#ff1e29"/><stop offset=".1679" stop-color="#fe2c67"/><stop offset=".183" stop-color="#f63eaf"/><stop offset=".1868" stop-color="#e942bf"/><stop offset=".1943" stop-color="#fa3ca9"/><stop offset=".2208" stop-color="#ff2750"/><stop offset=".2396" stop-color="#ff1f28"/><stop offset=".2887" stop-color="#ff3429"/><stop offset=".4245" stop-color="#ff3129"/><stop offset=".4849" stop-color="#ff1f2a"/><stop offset=".5038" stop-color="#ff2548"/><stop offset=".5151" stop-color="#fe2d6c"/><stop offset=".5302" stop-color="#f73dae"/><stop offset=".5453" stop-color="#c74ee6"/><stop offset=".5642" stop-color="#7168fb"/><stop offset=".5792" stop-color="#405eff"/><stop offset=".5906" stop-color="#304eff"/><stop offset=".9906" stop-color="#3957ff"/><stop offset=".9943" stop-color="#3957ff"/><stop offset=".9981" stop-color="#1b35f5"/></linearGradient>
<linearGradient id="h139"><stop offset=".0019" stop-color="#f1f09e"/><stop offset=".0245" stop-color="#f2f6b0"/><stop offset=".0547" stop-color="#f3e996"/><stop offset=".066" stop-color="#f7d786"/><stop offset=".0811" stop-color="#fd8a53"/><stop offset=".0925" stop-color="#ff3c2a"/><stop offset=".134" stop-color="#ff2d29"/><stop offset=".1491" stop-color="#ff1f2c"/><stop offset=".1679" stop-color="#fe2d6d"/><stop offset=".1792" stop-color="#fa3aa3"/><stop offset=".2132" stop-color="#ff2548"/><stop offset=".2283" stop-color="#ff1e29"/><stop offset=".2811" stop-color="#ff362a"/><stop offset=".4283" stop-color="#ff3029"/><stop offset=".4774" stop-color="#ff1f2c"/><stop offset=".5" stop-color="#ff2855"/><stop offset=".5113" stop-color="#fd3383"/><stop offset=".5189" stop-color="#fa3ba8"/><stop offset=".534" stop-color="#c350eb"/><stop offset=".5491" stop-color="#7969fa"/><stop offset=".5679" stop-color="#3f5dff"/><stop offset=".5792" stop-color="#304eff"/><stop offset=".9906" stop-color="#3957ff"/><stop offset=".9943" stop-color="#3957ff"/><stop offset=".9981" stop-color="#1b35f5"/></linearGradient>
<linearGradient id="h140"><stop offset=".0019" stop-color="#f0f4a5"/><stop offset=".0208" stop-color="#f4f7bb"/><stop offset=".0396" stop-color="#f1f5aa"/><stop offset=".0623" stop-color="#f5e38f"/><stop offset=".0698" stop-color="#f8c87b"/><stop offset=".0811" stop-color="#fd8953"/><stop offset=".0925" stop-color="#ff3c2a"/><stop offset=".134" stop-color="#ff2c29"/><stop offset=".1453" stop-color="#ff1f28"/><stop offset=".1642" stop-color="#ff2a60"/><stop offset=".1717" stop-color="#fd3383"/><stop offset=".2057" stop-color="#ff233f"/><stop offset=".2208" stop-color="#ff2028"/><stop offset=".2736" stop-color="#ff362a"/><stop offset=".4245" stop-color="#ff3129"/><stop offset=".4698" stop-color="#ff1f2d"/><stop offset=".4925" stop-color="#ff2a5d"/><stop offset=".5038" stop-color="#fc358d"/><stop offset=".5113" stop-color="#f43eb1"/><stop offset=".5226" stop-color="#b854ed"/><stop offset=".5377" stop-color="#6f68fb"/><stop offset=".5528" stop-color="#415fff"/><stop offset=".5642" stop-color="#304eff"/><stop offset=".9906" stop-color="#3957ff"/><stop offset=".9943" stop-color="#3957ff"/><stop offset=".9981" stop-color="#1b35f5"/></linearGradient>
<linearGradient id="h141"><stop offset=".0019" stop-color="#f2f6b0"/><stop offset=".017" stop-color="#f5f8c3"/><stop offset=".0208" stop-color="#fbfce6"/><stop offset=".0245" stop-color="#fbfce6"/><stop offset=".0283" stop-color="#f5f8c0"/><stop offset=".0547" stop-color="#f3eb98"/><stop offset=".066" stop-color="#f7d987"/><stop offset=".0811" stop-color="#fd8651"/><stop offset=".0925" stop-color="#ff3b2a"/><stop offset=".1302" stop-color="#ff2f29"/><stop offset=".1453" stop-color="#ff1e28"/><stop offset=".1642" stop-color="#ff2b63"/><stop offset=".2094" stop-color="#ff2028"/><stop offset=".2698" stop-color="#ff372a"/><stop offset=".4208" stop-color="#ff3029"/><stop offset=".4585" stop-color="#ff1e2a"/><stop offset=".4811" stop-color="#ff2a5d"/><stop offset=".5" stop-color="#f83dad"/><stop offset=".5113" stop-color="#c350ea"/><stop offset=".5226" stop-color="#7469fa"/><stop offset=".534" stop-color="#4864ff"/><stop offset=".5491" stop-color="#304eff"/><stop offset=".9943" stop-color="#3957ff"/><stop offset=".9981" stop-color="#1b35f5"/></linearGradient>
<linearGradient id="h142"><stop offset=".0019" stop-color="#f4f7ba"/><stop offset=".017" stop-color="#f6f9ca"/><stop offset=".0208" stop-color="#fbfce6"/><stop offset=".0245" stop-color="#fbfce6"/><stop offset=".0283" stop-color="#f6f8c4"/><stop offset=".0547" stop-color="#f3eb98"/><stop offset=".0623" stop-color="#f5e28e"/><stop offset=".0736" stop-color="#fbaf6a"/><stop offset=".0887" stop-color="#ff4931"/><stop offset=".0925" stop-color="#ff392a"/><stop offset=".1302" stop-color="#ff2e29"/><stop offset=".1453" stop-color="#ff1f2b"/><stop offset=".1566" stop-color="#ff254a"/><stop offset=".1943" stop-color="#ff2128"/><stop offset=".266" stop-color="#ff382a"/><stop offset=".4094" stop-color="#ff3129"/><stop offset=".4472" stop-color="#ff1f28"/><stop offset=".4698" stop-color="#ff2a5e"/><stop offset=".4887" stop-color="#f63daf"/><stop offset=".5" stop-color="#c64fe7"/><stop offset=".5113" stop-color="#7669fa"/><stop offset=".5226" stop-color="#405eff"/><stop offset=".5302" stop-color="#304eff"/><stop offset=".9943" stop-color="#3957ff"/><stop offset=".9981" stop-color="#1b35f5"/></linearGradient>
<linearGradient id="h143"><stop offset=".0019" stop-color="#f5f8c0"/><stop offset=".017" stop-color="#f7f9cf"/><stop offset=".0358" stop-color="#f4f7b9"/><stop offset=".0547" stop-color="#f3ea97"/><stop offset=".0623" stop-color="#f6e18d"/><stop offset=".0774" stop-color="#fc9157"/><stop offset=".0887" stop-color="#ff3f2c"/><stop offset=".1" stop-color="#ff382a"/><stop offset=".1302" stop-color="#ff2d29"/><stop offset=".1453" stop-color="#ff1f2e"/><stop offset=".1491" stop-color="#ff2135"/><stop offset=".1755" stop-color="#ff2128"/><stop offset=".266" stop-color="#ff392a"/><stop offset=".4057" stop-color="#ff3029"/><stop offset=".4396" stop-color="#ff1e2a"/><stop offset=".4585" stop-color="#ff295a"/><stop offset=".4774" stop-color="#f43eb2"/><stop offset=".4887" stop-color="#c450ea"/><stop offset=".5" stop-color="#7869fa"/><stop offset=".5113" stop-color="#4462ff"/><stop offset=".5189" stop-color="#304eff"/><stop offset=".9943" stop-color="#3957ff"/><stop offset=".9981" stop-color="#1b35f5"/></linearGradient>
<linearGradient id="h144"><stop offset=".0019" stop-color="#f6f8c5"/><stop offset=".017" stop-color="#f7f9d0"/><stop offset=".0358" stop-color="#f3f6b6"/><stop offset=".0472" stop-color="#f1f19e"/><stop offset=".0623" stop-color="#f6db89"/><stop offset=".0774" stop-color="#fd8651"/><stop offset=".0887" stop-color="#ff3a2a"/><stop offset=".1264" stop-color="#ff2f29"/><stop offset=".1453" stop-color="#ff2228"/><stop offset=".266" stop-color="#ff392a"/><stop offset=".3943" stop-color="#ff3129"/><stop offset=".4283" stop-color="#ff1e28"/><stop offset=".4472" stop-color="#ff2858"/><stop offset=".4623" stop-color="#fb3aa1"/><stop offset=".4736" stop-color="#d14bdb"/><stop offset=".4774" stop-color="#bf51ec"/><stop offset=".4887" stop-color="#7569fa"/><stop offset=".5" stop-color="#415fff"/><stop offset=".5075" stop-color="#314fff"/><stop offset=".9943" stop-color="#3957ff"/><stop offset=".9981" stop-color="#1b35f5"/></linearGradient>
<linearGradient id="h145"><stop offset=".0019" stop-color="#f6f8c6"/><stop offset=".017" stop-color="#f7f9ce"/><stop offset=".0358" stop-color="#f2f6b1"/><stop offset=".0585" stop-color="#f6e18d"/><stop offset=".0736" stop-color="#fc9358"/><stop offset=".0849" stop-color="#ff412c"/><stop offset=".0925" stop-color="#ff382a"/><stop offset=".1264" stop-color="#ff2e29"/><stop offset=".1566" stop-color="#ff2c29"/><stop offset=".2849" stop-color="#ff392a"/><stop offset=".3906" stop-color="#ff2f29"/><stop offset=".4208" stop-color="#ff1f2d"/><stop offset=".4396" stop-color="#ff2a60"/><stop offset=".4509" stop-color="#fb389b"/><stop offset=".4623" stop-color="#cf4cdd"/><stop offset=".466" stop-color="#ba53ed"/><stop offset=".4774" stop-color="#7168fb"/><stop offset=".4887" stop-color="#405eff"/><stop offset=".5" stop-color="#314fff"/><stop offset=".9943" stop-color="#3957ff"/><stop offset=".9981" stop-color="#1b35f5"/></linearGradient>
<linearGradient id="h146"><stop offset=".0019" stop-color="#f6f8c4"/><stop offset=".017" stop-color="#f6f9c8"/><stop offset=".0472" stop-color="#f3eb99"/><stop offset=".0585" stop-color="#f7d886"/><stop offset=".0736" stop-color="#fd834f"/><stop offset=".0811" stop-color="#ff4c33"/><stop offset=".0849" stop-color="#ff3a2a"/><stop offset=".1491" stop-color="#ff3129"/><stop offset=".3189" stop-color="#ff382a"/><stop offset=".3906" stop-color="#ff2b29"/><stop offset=".4094" stop-color="#ff1e2a"/><stop offset=".4283" stop-color="#ff295c"/><stop offset=".4434" stop-color="#f83dac"/><stop offset=".4547" stop-color="#bf51ec"/><stop offset=".466" stop-color="#7268fb"/><stop offset=".4774" stop-color="#405eff"/><stop offset=".4849" stop-color="#314fff"/><stop offset=".9943" stop-color="#3957ff"/><stop offset=".9981" stop-color="#1b35f5"/></linearGradient>
<linearGradient id="h147"><stop offset=".0019" stop-color="#f5f8c0"/><stop offset=".0208" stop-color="#f4f7bc"/><stop offset=".0472" stop-color="#f4e895"/><stop offset=".0547" stop-color="#f6dc89"/><stop offset=".0698" stop-color="#fd8a53"/><stop offset=".0811" stop-color="#ff3b2a"/><stop offset=".1755" stop-color="#ff372a"/><stop offset=".3604" stop-color="#ff3329"/><stop offset=".3981" stop-color="#ff1e28"/><stop offset=".417" stop-color="#ff2856"/><stop offset=".4321" stop-color="#fb3aa1"/><stop offset=".4396" stop-color="#dd47cc"/><stop offset=".4434" stop-color="#c94ee4"/><stop offset=".4547" stop-color="#7168fb"/><stop offset=".466" stop-color="#3e5cff"/><stop offset=".4736" stop-color="#314fff"/><stop offset=".9943" stop-color="#3957ff"/><stop offset=".9981" stop-color="#1b35f5"/></linearGradient>
<linearGradient id="h148"><stop offset=".0019" stop-color="#f4f7b9"/><stop offset=".0208" stop-color="#f3f6b2"/><stop offset=".0472" stop-color="#f5e490"/><stop offset=".0509" stop-color="#f6dd8a"/><stop offset=".066" stop-color="#fd8f56"/><stop offset=".0774" stop-color="#ff402c"/><stop offset=".1226" stop-color="#ff382a"/><stop offset=".3453" stop-color="#ff3429"/><stop offset=".3906" stop-color="#ff1f2b"/><stop offset=".4094" stop-color="#ff2a5e"/><stop offset=".4245" stop-color="#f63dae"/><stop offset=".4358" stop-color="#ba53ed"/><stop offset=".4434" stop-color="#7d67f9"/><stop offset=".4509" stop-color="#4f65fe"/><stop offset=".4585" stop-color="#3553ff"/><stop offset=".9943" stop-color="#3957ff"/><stop offset=".9981" stop-color="#1b35f5"/></linearGradient>
<linearGradient id="h149"><stop offset=".0019" stop-color="#f2f6af"/><stop offset=".0208" stop-color="#f0f4a5"/><stop offset=".0472" stop-color="#f6db89"/><stop offset=".0623" stop-color="#fc9157"/><stop offset=".0736" stop-color="#ff442e"/><stop offset=".0962" stop-color="#ff3b2a"/><stop offset=".3377" stop-color="#ff3229"/><stop offset=".3792" stop-color="#ff1e28"/><stop offset=".3981" stop-color="#ff2959"/><stop offset=".4132" stop-color="#fb3aa1"/><stop offset=".4208" stop-color="#dd46cc"/><stop offset=".4245" stop-color="#ca4ee3"/><stop offset=".4358" stop-color="#6f68fb"/><stop offset=".4434" stop-color="#4462ff"/><stop offset=".4509" stop-color="#314fff"/><stop offset=".9943" stop-color="#3957ff"/><stop offset=".9981" stop-color="#1b35f5"/></linearGradient>
<linearGradient id="h150"><stop offset=".0019" stop-color="#f0f4a3"/><stop offset=".0358" stop-color="#f4e592"/><stop offset=".0434" stop-color="#f7d786"/><stop offset=".0585" stop-color="#fc9056"/><stop offset=".0698" stop-color="#ff452f"/><stop offset=".1679" stop-color="#ff3b2a"/><stop offset=".3302" stop-color="#ff3129"/><stop offset=".3679" stop-color="#ff1f28"/><stop offset=".3906" stop-color="#ff2a5e"/><stop offset=".4057" stop-color="#f83dad"/><stop offset=".417" stop-color="#be52ec"/><stop offset=".4245" stop-color="#8365f8"/><stop offset=".4358" stop-color="#415fff"/><stop offset=".4434" stop-color="#3250ff"/><stop offset=".9943" stop-color="#3957ff"/><stop offset=".9981" stop-color="#1b35f5"/></linearGradient>
<linearGradient id="h151"><stop offset=".0019" stop-color="#f1f09e"/><stop offset=".0358" stop-color="#f6de8b"/><stop offset=".0509" stop-color="#fca160"/><stop offset=".066" stop-color="#ff4730"/><stop offset=".1943" stop-color="#ff3b2a"/><stop offset=".3226" stop-color="#ff3029"/><stop offset=".3566" stop-color="#ff1e28"/><stop offset=".3792" stop-color="#ff2959"/><stop offset=".3943" stop-color="#fb3aa2"/><stop offset=".4057" stop-color="#ca4ee3"/><stop offset=".417" stop-color="#7669fa"/><stop offset=".4245" stop-color="#4a64ff"/><stop offset=".4321" stop-color="#3250ff"/><stop offset=".9943" stop-color="#3957ff"/><stop offset=".9981" stop-color="#1b35f5"/></linearGradient>
<linearGradient id="h152"><stop offset=".0019" stop-color="#f3eb98"/><stop offset=".0283" stop-color="#f6df8c"/><stop offset=".0472" stop-color="#fc995c"/><stop offset=".0623" stop-color="#ff4830"/><stop offset=".2019" stop-color="#ff3b2a"/><stop offset=".3151" stop-color="#ff2e29"/><stop offset=".3453" stop-color="#ff1e29"/><stop offset=".3717" stop-color="#ff2b63"/><stop offset=".3868" stop-color="#f73dae"/><stop offset=".3981" stop-color="#c54fe9"/><stop offset=".4094" stop-color="#7168fb"/><stop offset=".417" stop-color="#4664ff"/><stop offset=".4245" stop-color="#3250ff"/><stop offset=".9943" stop-color="#3957ff"/><stop offset=".9981" stop-color="#1b35f5"/></linearGradient>
<linearGradient id="h153"><stop offset=".0019" stop-color="#f4e592"/><stop offset=".0208" stop-color="#f6db88"/><stop offset=".0396" stop-color="#fca160"/><stop offset=".0509" stop-color="#fe6640"/><stop offset=".0547" stop-color="#fe5c3b"/><stop offset=".066" stop-color="#fd7a4b"/><stop offset=".0774" stop-color="#fd7a4b"/><stop offset=".0887" stop-color="#fe5c3b"/><stop offset=".0962" stop-color="#ff432e"/><stop offset=".3" stop-color="#ff3029"/><stop offset=".334" stop-color="#ff1e2a"/><stop offset=".3604" stop-color="#ff2b63"/><stop offset=".3755" stop-color="#fb3aa1"/><stop offset=".383" stop-color="#e145c8"/><stop offset=".3906" stop-color="#b953ed"/><stop offset=".3981" stop-color="#8066f8"/><stop offset=".4094" stop-color="#4260ff"/><stop offset=".417" stop-color="#3250ff"/><stop offset=".9943" stop-color="#3957ff"/><stop offset=".9981" stop-color="#1b35f5"/></linearGradient>
<linearGradient id="h154"><stop offset=".0019" stop-color="#f6dd8a"/><stop offset=".0208" stop-color="#f9c277"/><stop offset=".0358" stop-color="#fc9258"/><stop offset=".0434" stop-color="#fd6e45"/><stop offset=".0472" stop-color="#fe653f"/><stop offset=".0585" stop-color="#fc9559"/><stop offset=".0698" stop-color="#fba663"/><stop offset=".0811" stop-color="#fc9e5e"/><stop offset=".0925" stop-color="#fd784a"/><stop offset=".1" stop-color="#fe4d33"/><stop offset=".1038" stop-color="#ff422d"/><stop offset=".2849" stop-color="#ff3129"/><stop offset=".3226" stop-color="#ff1e2a"/><stop offset=".3491" stop-color="#ff2b64"/><stop offset=".3679" stop-color="#f43eb1"/><stop offset=".3792" stop-color="#c54fe8"/><stop offset=".3906" stop-color="#7569fa"/><stop offset=".4019" stop-color="#405eff"/><stop offset=".4094" stop-color="#3250ff"/><stop offset=".9943" stop-color="#3957ff"/><stop offset=".9981" stop-color="#1b35f5"/></linearGradient>
<linearGradient id="h155"><stop offset=".0019" stop-color="#f9c579"/><stop offset=".0208" stop-color="#fba764"/><stop offset=".0358" stop-color="#fd7146"/><stop offset=".0434" stop-color="#fe4d33"/><stop offset=".0547" stop-color="#fd8953"/><stop offset=".066" stop-color="#fca361"/><stop offset=".0811" stop-color="#fc9e5e"/><stop offset=".0925" stop-color="#fd784a"/><stop offset=".1" stop-color="#fe4d33"/><stop offset=".1038" stop-color="#ff422d"/><stop offset=".2774" stop-color="#ff3029"/><stop offset=".3113" stop-color="#ff1e29"/><stop offset=".3377" stop-color="#ff2b62"/><stop offset=".3566" stop-color="#f53eaf"/><stop offset=".3717" stop-color="#b654ee"/><stop offset=".383" stop-color="#7168fb"/><stop offset=".3906" stop-color="#4964ff"/><stop offset=".3981" stop-color="#3250ff"/><stop offset=".9943" stop-color="#3856ff"/><stop offset=".9981" stop-color="#1b35f5"/></linearGradient>
<linearGradient id="h156"><stop offset=".0019" stop-color="#fbab67"/><stop offset=".017" stop-color="#fc9257"/><stop offset=".0358" stop-color="#fe4e33"/><stop offset=".0509" stop-color="#ff4b32"/><stop offset=".0623" stop-color="#fd7447"/><stop offset=".0736" stop-color="#fd7d4d"/><stop offset=".0849" stop-color="#fe6a42"/><stop offset=".0962" stop-color="#ff422d"/><stop offset=".266" stop-color="#ff3029"/><stop offset=".3038" stop-color="#ff1f2d"/><stop offset=".3264" stop-color="#ff2b62"/><stop offset=".3453" stop-color="#f63daf"/><stop offset=".3604" stop-color="#ba53ed"/><stop offset=".3717" stop-color="#7869fa"/><stop offset=".383" stop-color="#4361ff"/><stop offset=".3906" stop-color="#3250ff"/><stop offset=".9943" stop-color="#3856ff"/><stop offset=".9981" stop-color="#1b35f5"/></linearGradient>
<linearGradient id="h157"><stop offset=".0019" stop-color="#fd8c54"/><stop offset=".0208" stop-color="#fe633f"/><stop offset=".0283" stop-color="#ff4a31"/><stop offset=".2585" stop-color="#ff2f29"/><stop offset=".2887" stop-color="#ff1e2a"/><stop offset=".3075" stop-color="#ff254a"/><stop offset=".3226" stop-color="#fd307a"/><stop offset=".334" stop-color="#f93cab"/><stop offset=".3491" stop-color="#c151eb"/><stop offset=".3642" stop-color="#6c68fb"/><stop offset=".3755" stop-color="#3e5cff"/><stop offset=".383" stop-color="#3351ff"/><stop offset=".9943" stop-color="#3856ff"/><stop offset=".9981" stop-color="#1b35f5"/></linearGradient>
<linearGradient id="h158"><stop offset=".0019" stop-color="#fe6942"/><stop offset=".0208" stop-color="#ff442e"/><stop offset=".2434" stop-color="#ff3029"/><stop offset=".2774" stop-color="#ff1f2a"/><stop offset=".3075" stop-color="#ff2b64"/><stop offset=".3226" stop-color="#fa3ba8"/><stop offset=".3377" stop-color="#c450ea"/><stop offset=".3528" stop-color="#6f68fb"/><stop offset=".3642" stop-color="#415fff"/><stop offset=".3755" stop-color="#3351ff"/><stop offset=".9943" stop-color="#3856ff"/><stop offset=".9981" stop-color="#1b35f5"/></linearGradient>
<linearGradient id="h159"><stop offset=".0019" stop-color="#ff452f"/><stop offset=".017" stop-color="#ff3b2a"/><stop offset=".2245" stop-color="#ff3229"/><stop offset=".266" stop-color="#ff1f2b"/><stop offset=".3" stop-color="#fe2f73"/><stop offset=".3075" stop-color="#fc348a"/><stop offset=".3151" stop-color="#f53eb0"/><stop offset=".3302" stop-color="#b854ed"/><stop offset=".3415" stop-color="#7368fb"/><stop offset=".3528" stop-color="#4462ff"/><stop offset=".3642" stop-color="#3351ff"/><stop offset=".9943" stop-color="#3856ff"/><stop offset=".9981" stop-color="#1b35f5"/></linearGradient>
<linearGradient id="h160"><stop offset=".0019" stop-color="#ff372a"/><stop offset=".2057" stop-color="#ff3229"/><stop offset=".2547" stop-color="#ff1f2b"/><stop offset=".2811" stop-color="#ff2b61"/><stop offset=".3038" stop-color="#fa3caa"/><stop offset=".3189" stop-color="#c350eb"/><stop offset=".3302" stop-color="#7c68f9"/><stop offset=".3453" stop-color="#405eff"/><stop offset=".3566" stop-color="#3351ff"/><stop offset=".9943" stop-color="#3856ff"/><stop offset=".9981" stop-color="#1b35f5"/></linearGradient>
<linearGradient id="h161"><stop offset=".0019" stop-color="#ff3229"/><stop offset=".1868" stop-color="#ff3029"/><stop offset=".2434" stop-color="#ff1f2d"/><stop offset=".2698" stop-color="#ff2b62"/><stop offset=".2887" stop-color="#fa3ba7"/><stop offset=".3075" stop-color="#cd4cdf"/><stop offset=".3151" stop-color="#a05cf2"/><stop offset=".3226" stop-color="#7469fa"/><stop offset=".334" stop-color="#4462ff"/><stop offset=".3415" stop-color="#3351ff"/><stop offset=".9943" stop-color="#3856ff"/><stop offset=".9981" stop-color="#1b35f5"/></linearGradient>
<linearGradient id="h162"><stop offset=".0019" stop-color="#ff2929"/><stop offset=".1717" stop-color="#ff2d29"/><stop offset=".2283" stop-color="#ff1f2d"/><stop offset=".2547" stop-color="#ff295a"/><stop offset=".2774" stop-color="#fa3caa"/><stop offset=".2962" stop-color="#c250eb"/><stop offset=".3075" stop-color="#9a5ef3"/><stop offset=".3151" stop-color="#6e68fb"/><stop offset=".3226" stop-color="#4a64ff"/><stop offset=".334" stop-color="#3351ff"/><stop offset=".9943" stop-color="#3856ff"/><stop offset=".9981" stop-color="#1b35f5"/></linearGradient>
<linearGradient id="h163"><stop offset=".0019" stop-color="#ff1f28"/><stop offset=".1604" stop-color="#ff2729"/><stop offset=".2057" stop-color="#ff1f2b"/><stop offset=".2396" stop-color="#ff2857"/><stop offset=".2585" stop-color="#fc3690"/><stop offset=".266" stop-color="#f83dac"/><stop offset=".2849" stop-color="#ba53ed"/><stop offset=".3038" stop-color="#6f68fb"/><stop offset=".3113" stop-color="#5a66fd"/><stop offset=".3151" stop-color="#4664ff"/><stop offset=".3226" stop-color="#3351ff"/><stop offset=".9943" stop-color="#3856ff"/><stop offset=".9981" stop-color="#1b35f5"/></linearGradient>
<linearGradient id="h164"><stop offset=".0019" stop-color="#ff2137"/><stop offset=".017" stop-color="#ff2442"/><stop offset=".1113" stop-color="#ff2028"/><stop offset=".1755" stop-color="#ff1f2e"/><stop offset=".217" stop-color="#ff2750"/><stop offset=".2358" stop-color="#fe2f73"/><stop offset=".2547" stop-color="#f43eb1"/><stop offset=".2698" stop-color="#c64fe8"/><stop offset=".2887" stop-color="#7168fb"/><stop offset=".3038" stop-color="#4664ff"/><stop offset=".3189" stop-color="#3351ff"/><stop offset=".9943" stop-color="#3856ff"/><stop offset=".9981" stop-color="#1b35f5"/></linearGradient>
<linearGradient id="h165"><stop offset=".0019" stop-color="#ff2548"/><stop offset=".0245" stop-color="#ff2b64"/><stop offset=".1264" stop-color="#ff223b"/><stop offset=".1868" stop-color="#ff264e"/><stop offset=".2132" stop-color="#fe2d6d"/><stop offset=".2358" stop-color="#fb3aa2"/><stop offset=".2509" stop-color="#d948d1"/><stop offset=".2585" stop-color="#c151eb"/><stop offset=".2774" stop-color="#6d68fb"/><stop offset=".2925" stop-color="#415fff"/><stop offset=".3038" stop-color="#3351ff"/><stop offset=".9943" stop-color="#3856ff"/><stop offset=".9981" stop-color="#1b35f5"/></linearGradient>
<linearGradient id="h166"><stop offset=".0019" stop-color="#ff295a"/><stop offset=".0283" stop-color="#fc3487"/><stop offset=".0358" stop-color="#fb3795"/><stop offset=".1151" stop-color="#ff295b"/><stop offset=".1679" stop-color="#ff2b64"/><stop offset=".2019" stop-color="#fc3488"/><stop offset=".2208" stop-color="#f73dad"/><stop offset=".2434" stop-color="#c450e9"/><stop offset=".2623" stop-color="#7569fa"/><stop offset=".2811" stop-color="#3e5cff"/><stop offset=".2925" stop-color="#3351ff"/><stop offset=".9943" stop-color="#3755ff"/><stop offset=".9981" stop-color="#1b35f5"/></linearGradient>
<linearGradient id="h167"><stop offset=".0019" stop-color="#fe2e71"/><stop offset=".0358" stop-color="#f53eb0"/><stop offset=".0472" stop-color="#e145c7"/><stop offset=".0925" stop-color="#fb399f"/><stop offset=".1302" stop-color="#fc348a"/><stop offset=".1755" stop-color="#fb399d"/><stop offset=".1981" stop-color="#f040b6"/><stop offset=".2283" stop-color="#be52ec"/><stop offset=".2509" stop-color="#6e68fb"/><stop offset=".266" stop-color="#4260ff"/><stop offset=".2774" stop-color="#3351ff"/><stop offset=".9943" stop-color="#3755ff"/><stop offset=".9981" stop-color="#1b35f5"/></linearGradient>
<linearGradient id="h168"><stop offset=".0019" stop-color="#fc3489"/><stop offset=".0245" stop-color="#f63eaf"/><stop offset=".0547" stop-color="#bb53ed"/><stop offset=".0585" stop-color="#b156ef"/><stop offset=".0811" stop-color="#c94ee4"/><stop offset=".1226" stop-color="#e643c2"/><stop offset=".1717" stop-color="#dc47ce"/><stop offset=".2019" stop-color="#be52ec"/><stop offset=".2358" stop-color="#6c68fb"/><stop offset=".2547" stop-color="#3e5cff"/><stop offset=".266" stop-color="#3351ff"/><stop offset=".9943" stop-color="#3755ff"/><stop offset=".9981" stop-color="#1b35f5"/></linearGradient>
<linearGradient id="h169"><stop offset=".0019" stop-color="#fb3aa2"/><stop offset=".0245" stop-color="#e344c5"/><stop offset=".0472" stop-color="#b854ed"/><stop offset=".0698" stop-color="#7669fa"/><stop offset=".1189" stop-color="#ae57ef"/><stop offset=".1642" stop-color="#aa58f0"/><stop offset=".1943" stop-color="#8a63f6"/><stop offset=".2245" stop-color="#5866fd"/><stop offset=".2434" stop-color="#3856ff"/><stop offset=".9943" stop-color="#3755ff"/><stop offset=".9981" stop-color="#1b34f5"/></linearGradient>
<linearGradient id="h170"><stop offset=".0019" stop-color="#ed41b9"/><stop offset=".0358" stop-color="#bd52ec"/><stop offset=".066" stop-color="#6f68fb"/><stop offset=".0811" stop-color="#5065fe"/><stop offset=".1302" stop-color="#6e68fb"/><stop offset=".1755" stop-color="#6567fc"/><stop offset=".2132" stop-color="#415fff"/><stop offset=".2358" stop-color="#3351ff"/><stop offset=".9943" stop-color="#3755ff"/><stop offset=".9981" stop-color="#1b34f4"/></linearGradient>
<linearGradient id="h171"><stop offset=".0019" stop-color="#db47ce"/><stop offset=".0283" stop-color="#b555ee"/><stop offset=".0585" stop-color="#6e68fb"/><stop offset=".0849" stop-color="#3f5dff"/><stop offset=".1" stop-color="#3755ff"/><stop offset=".1566" stop-color="#405eff"/><stop offset=".2208" stop-color="#3351ff"/><stop offset=".9943" stop-color="#3755ff"/><stop offset=".9981" stop-color="#1b34f4"/></linearGradient>
<linearGradient id="h172"><stop offset=".0019" stop-color="#c94ee4"/><stop offset=".0321" stop-color="#955ff4"/><stop offset=".0509" stop-color="#6c68fb"/><stop offset=".0774" stop-color="#405eff"/><stop offset=".0962" stop-color="#314fff"/><stop offset=".9943" stop-color="#3755ff"/><stop offset=".9981" stop-color="#1a34f4"/></linearGradient>
<linearGradient id="h173"><stop offset=".0019" stop-color="#b355ee"/><stop offset=".0434" stop-color="#6968fb"/><stop offset=".0736" stop-color="#3c5aff"/><stop offset=".0925" stop-color="#314fff"/><stop offset=".9943" stop-color="#3654ff"/><stop offset=".9981" stop-color="#1a33f4"/></linearGradient>
<linearGradient id="h174"><stop offset=".0019" stop-color="#9a5ef3"/><stop offset=".0358" stop-color="#6567fc"/><stop offset=".0623" stop-color="#405eff"/><stop offset=".0849" stop-color="#314fff"/><stop offset=".9906" stop-color="#3553ff"/><stop offset=".9943" stop-color="#3553ff"/><stop offset=".9981" stop-color="#1933f3"/></linearGradient>
<linearGradient id="h175"><stop offset=".0019" stop-color="#8266f8"/><stop offset=".0509" stop-color="#4260ff"/><stop offset=".0774" stop-color="#314fff"/><stop offset=".983" stop-color="#3553ff"/><stop offset=".9943" stop-color="#3351ff"/><stop offset=".9981" stop-color="#1932f2"/></linearGradient>
<linearGradient id="h176"><stop offset=".0019" stop-color="#6f68fb"/><stop offset=".0434" stop-color="#405eff"/><stop offset=".0698" stop-color="#314fff"/><stop offset=".9755" stop-color="#3553ff"/><stop offset=".9943" stop-color="#314fff"/><stop offset=".9981" stop-color="#1830f1"/></linearGradient>
<linearGradient id="h177"><stop offset=".0019" stop-color="#5f66fd"/><stop offset=".0358" stop-color="#3e5cff"/><stop offset=".0623" stop-color="#304eff"/><stop offset=".9679" stop-color="#3553ff"/><stop offset=".9943" stop-color="#2f4dff"/><stop offset=".9981" stop-color="#172ff0"/></linearGradient>
<linearGradient id="h178"><stop offset=".0019" stop-color="#4f65fe"/><stop offset=".0547" stop-color="#2d4bff"/><stop offset=".817" stop-color="#3957ff"/><stop offset=".9792" stop-color="#314fff"/><stop offset=".9943" stop-color="#2c4aff"/><stop offset=".9981" stop-color="#162def"/></linearGradient>
<linearGradient id="h179"><stop offset=".0019" stop-color="#4361ff"/><stop offset=".0509" stop-color="#2947ff"/><stop offset=".1415" stop-color="#3250ff"/><stop offset=".9566" stop-color="#3452ff"/><stop offset=".9943" stop-color="#2947ff"/><stop offset=".9981" stop-color="#152bed"/></linearGradient>
<linearGradient id="h180"><stop offset=".0019" stop-color="#3b59ff"/><stop offset=".0472" stop-color="#2442ff"/><stop offset=".1075" stop-color="#3250ff"/><stop offset=".9491" stop-color="#3452ff"/><stop offset=".9943" stop-color="#2644ff"/><stop offset=".9981" stop-color="#1329eb"/></linearGradient>
<linearGradient id="h181"><stop offset=".0019" stop-color="#3351ff"/><stop offset=".0472" stop-color="#213ffd"/><stop offset=".1075" stop-color="#3250ff"/><stop offset=".9415" stop-color="#3452ff"/><stop offset=".9943" stop-color="#2341ff"/><stop offset=".9981" stop-color="#1227e9"/></linearGradient>
<linearGradient id="h182"><stop offset=".0019" stop-color="#2b49ff"/><stop offset=".0434" stop-color="#1e39f9"/><stop offset=".1075" stop-color="#3250ff"/><stop offset=".9302" stop-color="#3452ff"/><stop offset=".9943" stop-color="#213efc"/><stop offset=".9981" stop-color="#1025e7"/></linearGradient>
<linearGradient id="h183"><stop offset=".0019" stop-color="#2442ff"/><stop offset=".0434" stop-color="#1b36f6"/><stop offset=".0887" stop-color="#2e4cff"/><stop offset=".6509" stop-color="#3755ff"/><stop offset=".9302" stop-color="#3351ff"/><stop offset=".9943" stop-color="#1f3bfa"/><stop offset=".9981" stop-color="#0f22e4"/></linearGradient>
<linearGradient id="h184"><stop offset=".0019" stop-color="#203cfb"/><stop offset=".0434" stop-color="#1932f2"/><stop offset=".0849" stop-color="#2a48ff"/><stop offset=".2472" stop-color="#3553ff"/><stop offset=".9189" stop-color="#3351ff"/><stop offset=".9906" stop-color="#1e39f8"/><stop offset=".9943" stop-color="#1d38f7"/><stop offset=".9981" stop-color="#0e20db"/></linearGradient>
<linearGradient id="h185"><stop offset=".0019" stop-color="#1c37f7"/><stop offset=".0396" stop-color="#142bed"/><stop offset=".0887" stop-color="#2947ff"/><stop offset=".2283" stop-color="#3553ff"/><stop offset=".9113" stop-color="#3351ff"/><stop offset=".983" stop-color="#1d39f8"/><stop offset=".9943" stop-color="#1a34f4"/><stop offset=".9981" stop-color="#0d1ed3"/></linearGradient>
<linearGradient id="h186"><stop offset=".0019" stop-color="#1932f2"/><stop offset=".0396" stop-color="#1126e9"/><stop offset=".0925" stop-color="#2846ff"/><stop offset=".217" stop-color="#3553ff"/><stop offset=".9038" stop-color="#3351ff"/><stop offset=".9755" stop-color="#1d38f8"/><stop offset=".9943" stop-color="#1831f1"/><stop offset=".9981" stop-color="#0c1cc9"/></linearGradient>
<linearGradient id="h187"><stop offset=".0019" stop-color="#152cee"/><stop offset=".0321" stop-color="#0f22e2"/><stop offset=".0396" stop-color="#0f22e2"/><stop offset=".0925" stop-color="#2543ff"/><stop offset=".1981" stop-color="#3452ff"/><stop offset=".8962" stop-color="#3250ff"/><stop offset=".9679" stop-color="#1d38f7"/><stop offset=".9943" stop-color="#162dee"/><stop offset=".9981" stop-color="#0b1ac0"/></linearGradient>
<linearGradient id="h188"><stop offset=".0019" stop-color="#1228ea"/><stop offset=".0245" stop-color="#0e21dd"/><stop offset=".0358" stop-color="#0d1ecf"/><stop offset=".0509" stop-color="#1126e9"/><stop offset=".1038" stop-color="#2745ff"/><stop offset=".217" stop-color="#3553ff"/><stop offset=".8849" stop-color="#3250ff"/><stop offset=".9566" stop-color="#1d39f8"/><stop offset=".9943" stop-color="#1329eb"/><stop offset=".9981" stop-color="#0a18b6"/></linearGradient>
<linearGradient id="h189"><stop offset=".0019" stop-color="#0f23e5"/><stop offset=".0358" stop-color="#0b1ac1"/><stop offset=".0472" stop-color="#0e20d8"/><stop offset=".0585" stop-color="#1228ea"/><stop offset=".1113" stop-color="#2644ff"/><stop offset=".2132" stop-color="#3553ff"/><stop offset=".8736" stop-color="#3250ff"/><stop offset=".9491" stop-color="#1d38f8"/><stop offset=".9943" stop-color="#1025e8"/><stop offset=".9981" stop-color="#0a15ad"/></linearGradient>
<linearGradient id="h190"><stop offset=".0019" stop-color="#0e1fd7"/><stop offset=".0396" stop-color="#0a17b4"/><stop offset=".0585" stop-color="#0f23e6"/><stop offset=".1151" stop-color="#2442ff"/><stop offset=".2094" stop-color="#3553ff"/><stop offset=".8623" stop-color="#3250ff"/><stop offset=".9377" stop-color="#1e39f9"/><stop offset=".9943" stop-color="#0e22e1"/><stop offset=".9981" stop-color="#0913a2"/></linearGradient>
<linearGradient id="h191"><stop offset=".0019" stop-color="#0c1cc8"/><stop offset=".0396" stop-color="#0913a4"/><stop offset=".066" stop-color="#1024e7"/><stop offset=".1189" stop-color="#2240fe"/><stop offset=".2094" stop-color="#3553ff"/><stop offset=".8509" stop-color="#3250ff"/><stop offset=".9302" stop-color="#1e39f8"/><stop offset=".9868" stop-color="#0e21df"/><stop offset=".9943" stop-color="#0d1fd4"/><stop offset=".9981" stop-color="#081098"/></linearGradient>
<linearGradient id="h192"><stop offset=".0019" stop-color="#0b19bb"/><stop offset=".0396" stop-color="#071097"/><stop offset=".0698" stop-color="#0f23e6"/><stop offset=".1226" stop-color="#213efd"/><stop offset=".2132" stop-color="#3553ff"/><stop offset=".8396" stop-color="#3250ff"/><stop offset=".9226" stop-color="#1d38f8"/><stop offset=".9755" stop-color="#0f22e3"/><stop offset=".9943" stop-color="#0c1cc7"/><stop offset=".9981" stop-color="#070e8e"/></linearGradient>
<linearGradient id="h193"><stop offset=".0019" stop-color="#0a16ae"/><stop offset=".0396" stop-color="#060d8b"/><stop offset=".0585" stop-color="#0b18ba"/><stop offset=".0774" stop-color="#1024e7"/><stop offset=".1302" stop-color="#213dfc"/><stop offset=".217" stop-color="#3553ff"/><stop offset=".8321" stop-color="#314fff"/><stop offset=".9151" stop-color="#1d38f7"/><stop offset=".9679" stop-color="#0f22e1"/><stop offset=".9943" stop-color="#0b18ba"/><stop offset=".9981" stop-color="#060b83"/></linearGradient>
<linearGradient id="h194"><stop offset=".0019" stop-color="#0813a1"/><stop offset=".0434" stop-color="#050b7f"/><stop offset=".0811" stop-color="#0f23e5"/><stop offset=".1377" stop-color="#203cfb"/><stop offset=".2208" stop-color="#3553ff"/><stop offset=".8208" stop-color="#314fff"/><stop offset=".9075" stop-color="#1d37f7"/><stop offset=".9604" stop-color="#0e21df"/><stop offset=".9943" stop-color="#0a15ac"/><stop offset=".9981" stop-color="#050a79"/></linearGradient>
<linearGradient id="h195"><stop offset=".0019" stop-color="#071095"/><stop offset=".0434" stop-color="#040972"/><stop offset=".0887" stop-color="#1024e7"/><stop offset=".1717" stop-color="#2947ff"/><stop offset=".2585" stop-color="#3654ff"/><stop offset=".8094" stop-color="#314fff"/><stop offset=".9" stop-color="#1c37f6"/><stop offset=".9491" stop-color="#0f22e3"/><stop offset=".9943" stop-color="#08129f"/><stop offset=".9981" stop-color="#04096f"/></linearGradient>
<linearGradient id="h196"><stop offset=".0019" stop-color="#060d89"/><stop offset=".0434" stop-color="#040869"/><stop offset=".0547" stop-color="#050b81"/><stop offset=".0925" stop-color="#0f23e5"/><stop offset=".1792" stop-color="#2a48ff"/><stop offset=".266" stop-color="#3654ff"/><stop offset=".7981" stop-color="#314fff"/><stop offset=".8887" stop-color="#1c37f7"/><stop offset=".9415" stop-color="#0f22e1"/><stop offset=".9943" stop-color="#070f92"/><stop offset=".9981" stop-color="#040866"/></linearGradient>
<linearGradient id="h197"><stop offset=".0019" stop-color="#050a7e"/><stop offset=".0472" stop-color="#03075f"/><stop offset=".1" stop-color="#1024e7"/><stop offset=".1868" stop-color="#2a48ff"/><stop offset=".2811" stop-color="#3654ff"/><stop offset=".7906" stop-color="#304eff"/><stop offset=".8811" stop-color="#1c36f6"/><stop offset=".934" stop-color="#0e21df"/><stop offset=".9943" stop-color="#060c84"/><stop offset=".9981" stop-color="#03075c"/></linearGradient>
<linearGradient id="h198"><stop offset=".0019" stop-color="#050974"/><stop offset=".0472" stop-color="#030655"/><stop offset=".1038" stop-color="#0f22e3"/><stop offset=".1943" stop-color="#2a48ff"/><stop offset=".3075" stop-color="#3755ff"/><stop offset=".7792" stop-color="#2f4dff"/><stop offset=".8698" stop-color="#1c36f6"/><stop offset=".9226" stop-color="#0f22e3"/><stop offset=".9943" stop-color="#050978"/><stop offset=".9981" stop-color="#030653"/></linearGradient>
<linearGradient id="h199"><stop offset=".0019" stop-color="#04086b"/><stop offset=".0509" stop-color="#02054d"/><stop offset=".1038" stop-color="#0d1fd5"/><stop offset=".1226" stop-color="#1126e8"/><stop offset=".2019" stop-color="#2a48ff"/><stop offset=".334" stop-color="#3755ff"/><stop offset=".7604" stop-color="#2f4dff"/><stop offset=".8547" stop-color="#1c37f7"/><stop offset=".9151" stop-color="#0f22e1"/><stop offset=".9943" stop-color="#04086c"/><stop offset=".9981" stop-color="#020549"/></linearGradient>
<linearGradient id="h200"><stop offset=".0019" stop-color="#040762"/><stop offset=".0509" stop-color="#020443"/><stop offset=".1038" stop-color="#0c1cc7"/><stop offset=".1302" stop-color="#1024e7"/><stop offset=".2094" stop-color="#2a48ff"/><stop offset=".3528" stop-color="#3755ff"/><stop offset=".7453" stop-color="#2f4dff"/><stop offset=".8396" stop-color="#1d38f8"/><stop offset=".9038" stop-color="#0f23e4"/><stop offset=".9943" stop-color="#030760"/><stop offset=".9981" stop-color="#020440"/></linearGradient>
<linearGradient id="h201"><stop offset=".0019" stop-color="#030659"/><stop offset=".0547" stop-color="#02033c"/><stop offset=".1038" stop-color="#0b18b9"/><stop offset=".1415" stop-color="#1025e8"/><stop offset=".2132" stop-color="#2947ff"/><stop offset=".3566" stop-color="#3755ff"/><stop offset=".7302" stop-color="#2e4cff"/><stop offset=".8283" stop-color="#1d38f8"/><stop offset=".8962" stop-color="#0f22e2"/><stop offset=".9943" stop-color="#030655"/><stop offset=".9981" stop-color="#010337"/></linearGradient>
<linearGradient id="h202"><stop offset=".0019" stop-color="#030551"/><stop offset=".0547" stop-color="#010233"/><stop offset=".1075" stop-color="#0a16b0"/><stop offset=".1491" stop-color="#1125e8"/><stop offset=".2208" stop-color="#2846ff"/><stop offset=".3642" stop-color="#3755ff"/><stop offset=".7189" stop-color="#2d4bff"/><stop offset=".817" stop-color="#1d38f7"/><stop offset=".8887" stop-color="#0e21df"/><stop offset=".9943" stop-color="#020549"/><stop offset=".9981" stop-color="#01022e"/></linearGradient>
<linearGradient id="h203"><stop offset=".0019" stop-color="#020549"/><stop offset=".0585" stop-color="#01012c"/><stop offset=".1075" stop-color="#0913a2"/><stop offset=".1566" stop-color="#1126e8"/><stop offset=".2283" stop-color="#2644ff"/><stop offset=".3642" stop-color="#3654ff"/><stop offset=".7038" stop-color="#2d4bff"/><stop offset=".8094" stop-color="#1c37f6"/><stop offset=".8774" stop-color="#0e21df"/><stop offset=".9868" stop-color="#020448"/><stop offset=".9943" stop-color="#02033e"/><stop offset=".9981" stop-color="#000125"/></linearGradient>
<linearGradient id="h204"><stop offset=".0019" stop-color="#020442"/><stop offset=".0585" stop-color="#000125"/><stop offset=".0849" stop-color="#030760"/><stop offset=".1113" stop-color="#081199"/><stop offset=".1642" stop-color="#1126e8"/><stop offset=".2396" stop-color="#2644ff"/><stop offset=".3679" stop-color="#3654ff"/><stop offset=".6849" stop-color="#2d4bff"/><stop offset=".8019" stop-color="#1b36f5"/><stop offset=".8623" stop-color="#0f22e3"/><stop offset=".9189" stop-color="#081199"/><stop offset=".9943" stop-color="#010233"/><stop offset=".9981" stop-color="#00001d"/></linearGradient>
<linearGradient id="h205"><stop offset=".0019" stop-color="#02033b"/><stop offset=".0623" stop-color="#00001e"/><stop offset=".1075" stop-color="#060c85"/><stop offset=".1717" stop-color="#1126e8"/><stop offset=".2472" stop-color="#2442ff"/><stop offset=".3679" stop-color="#3452ff"/><stop offset=".6698" stop-color="#2c4aff"/><stop offset=".7981" stop-color="#1a33f4"/><stop offset=".8509" stop-color="#0f22e3"/><stop offset=".9151" stop-color="#070f92"/><stop offset=".9943" stop-color="#010129"/><stop offset=".9981" stop-color="#00001a"/></linearGradient>
<linearGradient id="h206"><stop offset=".0019" stop-color="#010234"/><stop offset=".066" stop-color="#00001c"/><stop offset=".1075" stop-color="#050977"/><stop offset=".1679" stop-color="#0e20db"/><stop offset=".1868" stop-color="#142aec"/><stop offset=".266" stop-color="#2644ff"/><stop offset=".3717" stop-color="#3250ff"/><stop offset=".6472" stop-color="#2b49ff"/><stop offset=".7868" stop-color="#1a33f3"/><stop offset=".8396" stop-color="#0f22e2"/><stop offset=".9113" stop-color="#060d8a"/><stop offset=".9981" stop-color="#000017"/></linearGradient>
<linearGradient id="h207"><stop offset=".0019" stop-color="#01022e"/><stop offset=".066" stop-color="#000019"/><stop offset=".0774" stop-color="#010128"/><stop offset=".1075" stop-color="#04086a"/><stop offset=".1604" stop-color="#0b1ac0"/><stop offset=".183" stop-color="#1024e7"/><stop offset=".2585" stop-color="#223ffd"/><stop offset=".3642" stop-color="#304eff"/><stop offset=".6208" stop-color="#2a48ff"/><stop offset=".7717" stop-color="#1a33f3"/><stop offset=".8283" stop-color="#0f22e2"/><stop offset=".9113" stop-color="#050a7d"/><stop offset=".9906" stop-color="#00001c"/><stop offset=".9981" stop-color="#000014"/></linearGradient>
<linearGradient id="h208"><stop offset=".0019" stop-color="#010128"/><stop offset=".0698" stop-color="#000017"/><stop offset=".0849" stop-color="#01022d"/><stop offset=".1113" stop-color="#040763"/><stop offset=".1566" stop-color="#0915ac"/><stop offset=".1906" stop-color="#1024e7"/><stop offset=".2811" stop-color="#2341ff"/><stop offset=".3717" stop-color="#2e4cff"/><stop offset=".6057" stop-color="#2947ff"/><stop offset=".7604" stop-color="#1932f2"/><stop offset=".817" stop-color="#0f22e2"/><stop offset=".9226" stop-color="#040762"/><stop offset=".983" stop-color="#00001c"/><stop offset=".9981" stop-color="#000011"/></linearGradient>
<linearGradient id="h209"><stop offset=".0019" stop-color="#000022"/><stop offset=".0774" stop-color="#000019"/><stop offset=".0925" stop-color="#010233"/><stop offset=".1189" stop-color="#040761"/><stop offset=".1604" stop-color="#0914a5"/><stop offset=".1981" stop-color="#1024e7"/><stop offset=".3151" stop-color="#2846ff"/><stop offset=".5755" stop-color="#2846ff"/><stop offset=".7453" stop-color="#1831f2"/><stop offset=".8057" stop-color="#0f22e2"/><stop offset=".9528" stop-color="#010230"/><stop offset=".9792" stop-color="#000019"/><stop offset=".9981" stop-color="#00000e"/></linearGradient>
<linearGradient id="h210"><stop offset=".0019" stop-color="#00001e"/><stop offset=".0774" stop-color="#000015"/><stop offset=".0925" stop-color="#000127"/><stop offset=".1189" stop-color="#030655"/><stop offset=".1642" stop-color="#08129e"/><stop offset=".2057" stop-color="#1024e7"/><stop offset=".334" stop-color="#2846ff"/><stop offset=".583" stop-color="#2442ff"/><stop offset=".7792" stop-color="#1126e9"/><stop offset=".8019" stop-color="#0e20d9"/><stop offset=".9415" stop-color="#010233"/><stop offset=".9679" stop-color="#00001a"/><stop offset=".9981" stop-color="#00000c"/></linearGradient>
<linearGradient id="h211"><stop offset=".0019" stop-color="#00001c"/><stop offset=".0811" stop-color="#000014"/><stop offset=".0962" stop-color="#000124"/><stop offset=".1679" stop-color="#081098"/><stop offset=".2132" stop-color="#1024e7"/><stop offset=".3491" stop-color="#2442ff"/><stop offset=".583" stop-color="#223ffd"/><stop offset=".7717" stop-color="#1024e7"/><stop offset=".8094" stop-color="#0c1bc4"/><stop offset=".9415" stop-color="#010129"/><stop offset=".9792" stop-color="#000012"/><stop offset=".9981" stop-color="#00000a"/></linearGradient>
<linearGradient id="h212"><stop offset=".0019" stop-color="#00001a"/><stop offset=".0849" stop-color="#000013"/><stop offset=".1226" stop-color="#020442"/><stop offset=".183" stop-color="#0914a6"/><stop offset=".2208" stop-color="#0f23e6"/><stop offset=".3491" stop-color="#223ffd"/><stop offset=".5943" stop-color="#1f3bfa"/><stop offset=".7642" stop-color="#0f22e2"/><stop offset=".8132" stop-color="#0a17b2"/><stop offset=".9491" stop-color="#00001b"/><stop offset=".9981" stop-color="#000007"/></linearGradient>
<linearGradient id="h213"><stop offset=".0019" stop-color="#000018"/><stop offset=".0887" stop-color="#000012"/><stop offset=".1226" stop-color="#010336"/><stop offset=".1868" stop-color="#0812a0"/><stop offset=".2208" stop-color="#0e20d9"/><stop offset=".2509" stop-color="#1228ea"/><stop offset=".3528" stop-color="#203cfb"/><stop offset=".5906" stop-color="#1d38f8"/><stop offset=".7453" stop-color="#0f22e2"/><stop offset=".7943" stop-color="#0b19bb"/><stop offset=".9226" stop-color="#01012a"/><stop offset=".9528" stop-color="#000016"/><stop offset=".9981" stop-color="#000006"/></linearGradient>
<linearGradient id="h214"><stop offset=".0019" stop-color="#000016"/><stop offset=".0925" stop-color="#000011"/><stop offset=".1226" stop-color="#01012b"/><stop offset=".1906" stop-color="#081199"/><stop offset=".2208" stop-color="#0d1dcc"/><stop offset=".2547" stop-color="#1025e8"/><stop offset=".3528" stop-color="#1e39f8"/><stop offset=".5868" stop-color="#1b35f5"/><stop offset=".7264" stop-color="#0f22e2"/><stop offset=".7943" stop-color="#0a16ae"/><stop offset=".9302" stop-color="#00001c"/><stop offset=".9981" stop-color="#000004"/></linearGradient>
<linearGradient id="h215"><stop offset=".0019" stop-color="#000015"/><stop offset=".0925" stop-color="#00000e"/><stop offset=".1302" stop-color="#01012a"/><stop offset=".2057" stop-color="#0914a8"/><stop offset=".2358" stop-color="#0d1dce"/><stop offset=".2698" stop-color="#1126e8"/><stop offset=".3528" stop-color="#1b36f6"/><stop offset=".5792" stop-color="#1932f3"/><stop offset=".7075" stop-color="#0f22e2"/><stop offset=".7906" stop-color="#0913a5"/><stop offset=".9226" stop-color="#00001b"/><stop offset=".9981" stop-color="#000003"/></linearGradient>
<linearGradient id="h216"><stop offset=".0019" stop-color="#000013"/><stop offset=".0962" stop-color="#00000d"/><stop offset=".1377" stop-color="#010129"/><stop offset=".2208" stop-color="#0a16b1"/><stop offset=".2811" stop-color="#1025e8"/><stop offset=".3566" stop-color="#1932f3"/><stop offset=".5792" stop-color="#172ff0"/><stop offset=".6887" stop-color="#0f22e1"/><stop offset=".7906" stop-color="#081097"/><stop offset=".9151" stop-color="#00001a"/><stop offset=".9981" stop-color="#000001"/></linearGradient>
<linearGradient id="h217"><stop offset=".0019" stop-color="#000012"/><stop offset=".1" stop-color="#00000c"/><stop offset=".1415" stop-color="#000124"/><stop offset=".2245" stop-color="#0914a8"/><stop offset=".2925" stop-color="#1024e7"/><stop offset=".3679" stop-color="#172ff0"/><stop offset=".5755" stop-color="#152ced"/><stop offset=".6736" stop-color="#0e21df"/><stop offset=".7906" stop-color="#060d8a"/><stop offset=".9038" stop-color="#00001b"/><stop offset=".9981" stop-color="#000001"/></linearGradient>
<linearGradient id="h218"><stop offset=".0019" stop-color="#000011"/><stop offset=".1075" stop-color="#00000d"/><stop offset=".1491" stop-color="#000124"/><stop offset=".2245" stop-color="#08119a"/><stop offset=".3075" stop-color="#1025e7"/><stop offset=".5189" stop-color="#162def"/><stop offset=".6434" stop-color="#0e21de"/><stop offset=".7075" stop-color="#0b19bb"/><stop offset=".7943" stop-color="#050a79"/><stop offset=".8925" stop-color="#00001c"/><stop offset=".9981" stop-color="#000000"/></linearGradient>
<linearGradient id="h219"><stop offset=".0019" stop-color="#00000f"/><stop offset=".1113" stop-color="#00000b"/><stop offset=".1566" stop-color="#000124"/><stop offset=".2245" stop-color="#060e8c"/><stop offset=".3189" stop-color="#1024e7"/><stop offset=".5604" stop-color="#1125e8"/><stop offset=".6736" stop-color="#0c1bc5"/><stop offset=".7981" stop-color="#040869"/><stop offset=".8811" stop-color="#00001c"/><stop offset=".9906" stop-color="#000000"/><stop offset=".9981" stop-color="#000000"/></linearGradient>
<linearGradient id="h220"><stop offset=".0019" stop-color="#00000e"/><stop offset=".1189" stop-color="#00000b"/><stop offset=".1642" stop-color="#000125"/><stop offset=".2245" stop-color="#050a7f"/><stop offset=".3302" stop-color="#0f23e5"/><stop offset=".5528" stop-color="#0f22e3"/><stop offset=".6811" stop-color="#0a17b3"/><stop offset=".7981" stop-color="#03075e"/><stop offset=".8736" stop-color="#00001b"/><stop offset=".983" stop-color="#000000"/><stop offset=".9981" stop-color="#000000"/></linearGradient>
<linearGradient id="h221"><stop offset=".0019" stop-color="#00000d"/><stop offset=".1226" stop-color="#00000a"/><stop offset=".1717" stop-color="#000125"/><stop offset=".2245" stop-color="#040972"/><stop offset=".3302" stop-color="#0e20d9"/><stop offset=".5302" stop-color="#0e21de"/><stop offset=".6811" stop-color="#0914a6"/><stop offset=".7981" stop-color="#030552"/><stop offset=".8623" stop-color="#00001b"/><stop offset=".9755" stop-color="#000000"/><stop offset=".9981" stop-color="#000000"/></linearGradient>
<linearGradient id="h222"><stop offset=".0019" stop-color="#00000c"/><stop offset=".1302" stop-color="#00000a"/><stop offset=".1792" stop-color="#000126"/><stop offset=".2245" stop-color="#040866"/><stop offset=".3302" stop-color="#0c1dcc"/><stop offset=".5302" stop-color="#0d1ed2"/><stop offset=".6811" stop-color="#081199"/><stop offset=".7981" stop-color="#020447"/><stop offset=".8509" stop-color="#00001b"/><stop offset=".9679" stop-color="#000000"/><stop offset=".9981" stop-color="#000000"/></linearGradient>
<linearGradient id="h223"><stop offset=".0019" stop-color="#00000b"/><stop offset=".134" stop-color="#000008"/><stop offset=".183" stop-color="#000021"/><stop offset=".2245" stop-color="#03065a"/><stop offset=".334" stop-color="#0b1abf"/><stop offset=".5302" stop-color="#0c1bc5"/><stop offset=".6811" stop-color="#060d8b"/><stop offset=".7981" stop-color="#02033c"/><stop offset=".8434" stop-color="#00001a"/><stop offset=".9642" stop-color="#000000"/><stop offset=".9981" stop-color="#000000"/></linearGradient>
<linearGradient id="h224"><stop offset=".0019" stop-color="#00000a"/><stop offset=".1415" stop-color="#000008"/><stop offset=".1906" stop-color="#000021"/><stop offset=".2283" stop-color="#030552"/><stop offset=".334" stop-color="#0a16b1"/><stop offset=".5302" stop-color="#0b18b8"/><stop offset=".6849" stop-color="#050a7c"/><stop offset=".7981" stop-color="#010231"/><stop offset=".8358" stop-color="#000019"/><stop offset=".9566" stop-color="#000000"/><stop offset=".9981" stop-color="#000000"/></linearGradient>
<linearGradient id="h225"><stop offset=".0019" stop-color="#00000a"/><stop offset=".1453" stop-color="#000007"/><stop offset=".1981" stop-color="#000022"/><stop offset=".2321" stop-color="#02054a"/><stop offset=".334" stop-color="#0913a4"/><stop offset=".5302" stop-color="#0915aa"/><stop offset=".6887" stop-color="#04086d"/><stop offset=".7981" stop-color="#000127"/><stop offset=".8698" stop-color="#00000c"/><stop offset=".9792" stop-color="#000000"/><stop offset=".9981" stop-color="#000000"/></linearGradient>
<linearGradient id="h226"><stop offset=".0019" stop-color="#000009"/><stop offset=".1528" stop-color="#000007"/><stop offset=".2057" stop-color="#000022"/><stop offset=".3302" stop-color="#071097"/><stop offset=".5302" stop-color="#08129d"/><stop offset=".6887" stop-color="#040762"/><stop offset=".817" stop-color="#000017"/><stop offset=".9453" stop-color="#000000"/><stop offset=".9981" stop-color="#000000"/></linearGradient>
<linearGradient id="h227"><stop offset=".0019" stop-color="#000008"/><stop offset=".1566" stop-color="#000006"/><stop offset=".2132" stop-color="#000123"/><stop offset=".334" stop-color="#060d89"/><stop offset=".5302" stop-color="#070e90"/><stop offset=".6887" stop-color="#030656"/><stop offset=".8094" stop-color="#000016"/><stop offset=".934" stop-color="#000000"/><stop offset=".9981" stop-color="#000000"/></linearGradient>
<linearGradient id="h228"><stop offset=".0019" stop-color="#000007"/><stop offset=".1642" stop-color="#000006"/><stop offset=".2358" stop-color="#01012c"/><stop offset=".334" stop-color="#050a7c"/><stop offset=".5302" stop-color="#060b83"/><stop offset=".6849" stop-color="#02054d"/><stop offset=".7868" stop-color="#00001a"/><stop offset=".9189" stop-color="#000000"/><stop offset=".9981" stop-color="#000000"/></linearGradient>
<linearGradient id="h229"><stop offset=".0019" stop-color="#000007"/><stop offset=".1717" stop-color="#000007"/><stop offset=".2472" stop-color="#01012a"/><stop offset=".334" stop-color="#040970"/><stop offset=".5302" stop-color="#050976"/><stop offset=".6887" stop-color="#020440"/><stop offset=".7679" stop-color="#00001a"/><stop offset=".9075" stop-color="#000000"/><stop offset=".9981" stop-color="#000000"/></linearGradient>
<linearGradient id="h230"><stop offset=".0019" stop-color="#000006"/><stop offset=".1792" stop-color="#000007"/><stop offset=".2585" stop-color="#010129"/><stop offset=".334" stop-color="#040764"/><stop offset=".5302" stop-color="#04086a"/><stop offset=".6887" stop-color="#010235"/><stop offset=".7528" stop-color="#00001a"/><stop offset=".9038" stop-color="#000000"/><stop offset=".9981" stop-color="#000000"/></linearGradient>
<linearGradient id="h231"><stop offset=".0019" stop-color="#000006"/><stop offset=".183" stop-color="#000006"/><stop offset=".2698" stop-color="#010128"/><stop offset=".334" stop-color="#030659"/><stop offset=".5302" stop-color="#03075f"/><stop offset=".6887" stop-color="#01012b"/><stop offset=".7566" stop-color="#000015"/><stop offset=".9" stop-color="#000000"/><stop offset=".9981" stop-color="#000000"/></linearGradient>
<linearGradient id="h232"><stop offset=".0019" stop-color="#000005"/><stop offset=".1906" stop-color="#000006"/><stop offset=".2811" stop-color="#000126"/><stop offset=".334" stop-color="#02054d"/><stop offset=".5302" stop-color="#030653"/><stop offset=".7415" stop-color="#000015"/><stop offset=".8925" stop-color="#000000"/><stop offset=".9981" stop-color="#000000"/></linearGradient>
<linearGradient id="h233"><stop offset=".0019" stop-color="#000005"/><stop offset=".1981" stop-color="#000006"/><stop offset=".2925" stop-color="#000125"/><stop offset=".334" stop-color="#020442"/><stop offset=".5302" stop-color="#020448"/><stop offset=".7453" stop-color="#000011"/><stop offset=".8925" stop-color="#000000"/><stop offset=".9981" stop-color="#000000"/></linearGradient>
<linearGradient id="h234"><stop offset=".0019" stop-color="#000004"/><stop offset=".2057" stop-color="#000006"/><stop offset=".3075" stop-color="#000126"/><stop offset=".3377" stop-color="#010337"/><stop offset=".5302" stop-color="#02033d"/><stop offset=".7113" stop-color="#000013"/><stop offset=".8811" stop-color="#000000"/><stop offset=".9981" stop-color="#000000"/></linearGradient>
<linearGradient id="h235"><stop offset=".0019" stop-color="#000004"/><stop offset=".2094" stop-color="#000005"/><stop offset=".3189" stop-color="#000125"/><stop offset=".3528" stop-color="#01022d"/><stop offset=".5302" stop-color="#010232"/><stop offset=".6509" stop-color="#000019"/><stop offset=".8698" stop-color="#000000"/><stop offset=".9981" stop-color="#000000"/></linearGradient>
<linearGradient id="h236"><stop offset=".0019" stop-color="#000004"/><stop offset=".2208" stop-color="#000006"/><stop offset=".3566" stop-color="#000123"/><stop offset=".534" stop-color="#000127"/><stop offset=".8547" stop-color="#000000"/><stop offset=".9981" stop-color="#000000"/></linearGradient>
<linearGradient id="h237"><stop offset=".0019" stop-color="#000003"/><stop offset=".2321" stop-color="#000005"/><stop offset=".3566" stop-color="#00001c"/><stop offset=".5453" stop-color="#00001c"/><stop offset=".8623" stop-color="#000000"/><stop offset=".9981" stop-color="#000000"/></linearGradient>
<linearGradient id="h238"><stop offset=".0019" stop-color="#000003"/><stop offset=".2472" stop-color="#000006"/><stop offset=".3604" stop-color="#000018"/><stop offset=".5755" stop-color="#000016"/><stop offset=".8623" stop-color="#000000"/><stop offset=".9981" stop-color="#000000"/></linearGradient>
<linearGradient id="h239"><stop offset=".0019" stop-color="#000003"/><stop offset=".2585" stop-color="#000005"/><stop offset=".3679" stop-color="#000015"/><stop offset=".583" stop-color="#000012"/><stop offset=".8623" stop-color="#000000"/><stop offset=".9981" stop-color="#000000"/></linearGradient>
<linearGradient id="h240"><stop offset=".0019" stop-color="#000003"/><stop offset=".2736" stop-color="#000006"/><stop offset=".3792" stop-color="#000012"/><stop offset=".5943" stop-color="#00000e"/><stop offset=".8698" stop-color="#000000"/><stop offset=".9981" stop-color="#000000"/></linearGradient>
<linearGradient id="h241"><stop offset=".0019" stop-color="#000002"/><stop offset=".2849" stop-color="#000006"/><stop offset=".4057" stop-color="#00000f"/><stop offset=".6283" stop-color="#000009"/><stop offset=".9377" stop-color="#000000"/><stop offset=".9981" stop-color="#000000"/></linearGradient>
<linearGradient id="h242"><stop offset=".0019" stop-color="#000002"/><stop offset=".2962" stop-color="#000005"/><stop offset=".5377" stop-color="#00000c"/><stop offset=".8736" stop-color="#000000"/><stop offset=".9981" stop-color="#000000"/></linearGradient>
<linearGradient id="h243"><stop offset=".0019" stop-color="#000002"/><stop offset=".3113" stop-color="#000006"/><stop offset=".5906" stop-color="#000007"/><stop offset=".9981" stop-color="#000000"/></linearGradient>
<linearGradient id="h244"><stop offset=".0019" stop-color="#000002"/><stop offset=".3226" stop-color="#000006"/><stop offset=".6396" stop-color="#000002"/><stop offset=".9981" stop-color="#000000"/></linearGradient></defs>
<g shape-rendering="crispEdges"><rect x="63" y="471" width="265" height="1" fill="url(#h0)"/>
<rect x="63" y="472" width="265" height="1" fill="url(#h1)"/>
<rect x="63" y="473" width="265" height="1" fill="url(#h2)"/>
<rect x="63" y="474" width="265" height="1" fill="url(#h3)"/>
<rect x="63" y="475" width="265" height="1" fill="url(#h4)"/>
<rect x="63" y="476" width="265" height="1" fill="url(#h5)"/>
<rect x="63" y="477" width="265" height="1" fill="url(#h6)"/>
<rect x="63" y="478" width="265" height="1" fill="url(#h7)"/>
<rect x="63" y="479" width="265" height="1" fill="url(#h8)"/>
<rect x="63" y="480" width="265" height="1" fill="url(#h9)"/>
<rect x="63" y="481" width="265" height="1" fill="url(#h10)"/>
<rect x="63" y="482" width="265" height="1" fill="url(#h11)"/>
<rect x="63" y="483" width="265" height="1" fill="url(#h12)"/>
<rect x="63" y="484" width="265" height="1" fill="url(#h13)"/>
<rect x="63" y="485" width="265" height="1" fill="url(#h14)"/>
<rect x="63" y="486" width="265" height="1" fill="url(#h15)"/>
<rect x="63" y="487" width="265" height="1" fill="url(#h16)"/>
<rect x="63" y="488" width="265" height="1" fill="url(#h17)"/>
<rect x="63" y="489" width="265" height="1" fill="url(#h18)"/>
<rect x="63" y="490" width="265" height="1" fill="url(#h19)"/>
<rect x="63" y="491" width="265" height="1" fill="url(#h20)"/>
<rect x="63" y="492" width="265" height="1" fill="url(#h21)"/>
<rect x="63" y="493" width="265" height="1" fill="url(#h22)"/>
<rect x="63" y="494" width="265" height="1" fill="url(#h23)"/>
<rect x="63" y="495" width="265" height="1" fill="url(#h24)"/>
<rect x="63" y="496" width="265" height="1" fill="url(#h25)"/>
<rect x="63" y="497" width="265" height="1" fill="url(#h26)"/>
<rect x="63" y="498" width="265" height="1" fill="url(#h27)"/>
<rect x="63" y="499" width="265" height="1" fill="url(#h28)"/>
<rect x="63" y="500" width="265" height="1" fill="url(#h29)"/>
<rect x="63" y="501" width="265" height="1" fill="url(#h30)"/>
<rect x="63" y="502" width="265" height="1" fill="url(#h31)"/>
<rect x="63" y="503" width="265" height="1" fill="url(#h32)"/>
<rect x="63" y="504" width="265" height="1" fill="url(#h33)"/>
<rect x="63" y="505" width="265" height="1" fill="url(#h34)"/>
<rect x="63" y="506" width="265" height="1" fill="url(#h35)"/>
<rect x="63" y="507" width="265" height="1" fill="url(#h36)"/>
<rect x="63" y="508" width="265" height="1" fill="url(#h37)"/>
<rect x="63" y="509" width="265" height="1" fill="url(#h38)"/>
<rect x="63" y="510" width="265" height="1" fill="url(#h39)"/>
<rect x="63" y="511" width="265" height="1" fill="url(#h40)"/>
<rect x="63" y="512" width="265" height="1" fill="url(#h41)"/>
<rect x="63" y="513" width="265" height="1" fill="url(#h42)"/>
<rect x="63" y="514" width="265" height="1" fill="url(#h43)"/>
<rect x="63" y="515" width="265" height="1" fill="url(#h44)"/>
<rect x="63" y="516" width="265" height="1" fill="url(#h45)"/>
<rect x="63" y="517" width="265" height="1" fill="url(#h46)"/>
<rect x="63" y="518" width="265" height="1" fill="url(#h47)"/>
<rect x="63" y="519" width="265" height="1" fill="url(#h48)"/>
<rect x="63" y="520" width="265" height="1" fill="url(#h49)"/>
<rect x="63" y="521" width="265" height="1" fill="url(#h50)"/>
<rect x="63" y="522" width="265" height="1" fill="url(#h51)"/>
<rect x="63" y="523" width="265" height="1" fill="url(#h52)"/>
<rect x="63" y="524" width="265" height="1" fill="url(#h53)"/>
<rect x="63" y="525" width="265" height="1" fill="url(#h54)"/>
<rect x="63" y="526" width="265" height="1" fill="url(#h55)"/>
<rect x="63" y="527" width="265" height="1" fill="url(#h56)"/>
<rect x="63" y="528" width="265" height="1" fill="url(#h57)"/>
<rect x="63" y="529" width="265" height="1" fill="url(#h58)"/>
<rect x="63" y="530" width="265" height="1" fill="url(#h59)"/>
<rect x="63" y="531" width="265" height="1" fill="url(#h60)"/>
<rect x="63" y="532" width="265" height="1" fill="url(#h61)"/>
<rect x="63" y="533" width="265" height="1" fill="url(#h62)"/>
<rect x="63" y="534" width="265" height="1" fill="url(#h63)"/>
<rect x="63" y="535" width="265" height="1" fill="url(#h64)"/>
<rect x="63" y="536" width="265" height="1" fill="url(#h65)"/>
<rect x="63" y="537" width="265" height="1" fill="url(#h66)"/>
<rect x="63" y="538" width="265" height="1" fill="url(#h67)"/>
<rect x="63" y="539" width="265" height="1" fill="url(#h68)"/>
<rect x="63" y="540" width="265" height="1" fill="url(#h69)"/>
<rect x="63" y="541" width="265" height="1" fill="url(#h70)"/>
<rect x="63" y="542" width="265" height="1" fill="url(#h71)"/>
<rect x="63" y="543" width="265" height="1" fill="url(#h72)"/>
<rect x="63" y="544" width="265" height="1" fill="url(#h73)"/>
<rect x="63" y="545" width="265" height="1" fill="url(#h74)"/>
<rect x="63" y="546" width="265" height="1" fill="url(#h75)"/>
<rect x="63" y="547" width="265" height="1" fill="url(#h76)"/>
<rect x="63" y="548" width="265" height="1" fill="url(#h77)"/>
<rect x="63" y="549" width="265" height="1" fill="url(#h78)"/>
<rect x="63" y="550" width="265" height="1" fill="url(#h79)"/>
<rect x="63" y="551" width="265" height="1" fill="url(#h80)"/>
<rect x="63" y="552" width="265" height="1" fill="url(#h81)"/>
<rect x="63" y="553" width="265" height="1" fill="url(#h82)"/>
<rect x="63" y="554" width="265" height="1" fill="url(#h83)"/>
<rect x="63" y="555" width="265" height="1" fill="url(#h84)"/>
<rect x="63" y="556" width="265" height="1" fill="url(#h85)"/>
<rect x="63" y="557" width="265" height="1" fill="url(#h86)"/>
<rect x="63" y="558" width="265" height="1" fill="url(#h87)"/>
<rect x="63" y="559" width="265" height="1" fill="url(#h88)"/>
<rect x="63" y="560" width="265" height="1" fill="url(#h89)"/>
<rect x="63" y="561" width="265" height="1" fill="url(#h90)"/>
<rect x="63" y="562" width="265" height="1" fill="url(#h91)"/>
<rect x="63" y="563" width="265" height="1" fill="url(#h92)"/>
<rect x="63" y="564" width="265" height="1" fill="url(#h93)"/>
<rect x="63" y="565" width="265" height="1" fill="url(#h94)"/>
<rect x="63" y="566" width="265" height="1" fill="url(#h95)"/>
<rect x="63" y="567" width="265" height="1" fill="url(#h96)"/>
<rect x="63" y="568" width="265" height="1" fill="url(#h97)"/>
<rect x="63" y="569" width="265" height="1" fill="url(#h98)"/>
<rect x="63" y="570" width="265" height="1" fill="url(#h99)"/>
<rect x="63" y="571" width="265" height="1" fill="url(#h100)"/>
<rect x="63" y="572" width="265" height="1" fill="url(#h101)"/>
<rect x="63" y="573" width="265" height="1" fill="url(#h102)"/>
<rect x="63" y="574" width="265" height="1" fill="url(#h103)"/>
<rect x="63" y="575" width="265" height="1" fill="url(#h104)"/>
<rect x="63" y="576" width="265" height="1" fill="url(#h105)"/>
<rect x="63" y="577" width="265" height="1" fill="url(#h106)"/>
<rect x="63" y="578" width="265" height="1" fill="url(#h107)"/>
<rect x="63" y="579" width="265" height="1" fill="url(#h108)"/>
<rect x="63" y="580" width="265" height="1" fill="url(#h109)"/>
<rect x="63" y="581" width="265" height="1" fill="url(#h110)"/>
<rect x="63" y="582" width="265" height="1" fill="url(#h111)"/>
<rect x="63" y="583" width="265" height="1" fill="url(#h112)"/>
<rect x="63" y="584" width="265" height="1" fill="url(#h113)"/>
<rect x="63" y="585" width="265" height="1" fill="url(#h114)"/>
<rect x="63" y="586" width="265" height="1" fill="url(#h115)"/>
<rect x="63" y="587" width="265" height="1" fill="url(#h116)"/>
<rect x="63" y="588" width="265" height="1" fill="url(#h117)"/>
<rect x="63" y="589" width="265" height="1" fill="url(#h118)"/>
<rect x="63" y="590" width="265" height="1" fill="url(#h119)"/>
<rect x="63" y="591" width="265" height="1" fill="url(#h120)"/>
<rect x="63" y="592" width="265" height="1" fill="url(#h121)"/>
<rect x="63" y="593" width="265" height="1" fill="url(#h122)"/>
<rect x="63" y="594" width="265" height="1" fill="url(#h123)"/>
<rect x="63" y="595" width="265" height="1" fill="url(#h124)"/>
<rect x="63" y="596" width="265" height="1" fill="url(#h125)"/>
<rect x="63" y="597" width="265" height="1" fill="url(#h126)"/>
<rect x="63" y="598" width="265" height="1" fill="url(#h127)"/>
<rect x="63" y="599" width="265" height="1" fill="url(#h128)"/>
<rect x="63" y="600" width="265" height="1" fill="url(#h129)"/>
<rect x="63" y="601" width="265" height="1" fill="url(#h130)"/>
<rect x="63" y="602" width="265" height="1" fill="url(#h131)"/>
<rect x="63" y="603" width="265" height="1" fill="url(#h132)"/>
<rect x="63" y="604" width="265" height="1" fill="url(#h133)"/>
<rect x="63" y="605" width="265" height="1" fill="url(#h134)"/>
<rect x="63" y="606" width="265" height="1" fill="url(#h135)"/>
<rect x="63" y="607" width="265" height="1" fill="url(#h136)"/>
<rect x="63" y="608" width="265" height="1" fill="url(#h137)"/>
<rect x="63" y="609" width="265" height="1" fill="url(#h138)"/>
<rect x="63" y="610" width="265" height="1" fill="url(#h139)"/>
<rect x="63" y="611" width="265" height="1" fill="url(#h140)"/>
<rect x="63" y="612" width="265" height="1" fill="url(#h141)"/>
<rect x="63" y="613" width="265" height="1" fill="url(#h142)"/>
<rect x="63" y="614" width="265" height="1" fill="url(#h143)"/>
<rect x="63" y="615" width="265" height="1" fill="url(#h144)"/>
<rect x="63" y="616" width="265" height="1" fill="url(#h145)"/>
<rect x="63" y="617" width="265" height="1" fill="url(#h146)"/>
<rect x="63" y="618" width="265" height="1" fill="url(#h147)"/>
<rect x="63" y="619" width="265" height="1" fill="url(#h148)"/>
<rect x="63" y="620" width="265" height="1" fill="url(#h149)"/>
<rect x="63" y="621" width="265" height="1" fill="url(#h150)"/>
<rect x="63" y="622" width="265" height="1" fill="url(#h151)"/>
<rect x="63" y="623" width="265" height="1" fill="url(#h152)"/>
<rect x="63" y="624" width="265" height="1" fill="url(#h153)"/>
<rect x="63" y="625" width="265" height="1" fill="url(#h154)"/>
<rect x="63" y="626" width="265" height="1" fill="url(#h155)"/>
<rect x="63" y="627" width="265" height="1" fill="url(#h156)"/>
<rect x="63" y="628" width="265" height="1" fill="url(#h157)"/>
<rect x="63" y="629" width="265" height="1" fill="url(#h158)"/>
<rect x="63" y="630" width="265" height="1" fill="url(#h159)"/>
<rect x="63" y="631" width="265" height="1" fill="url(#h160)"/>
<rect x="63" y="632" width="265" height="1" fill="url(#h161)"/>
<rect x="63" y="633" width="265" height="1" fill="url(#h162)"/>
<rect x="63" y="634" width="265" height="1" fill="url(#h163)"/>
<rect x="63" y="635" width="265" height="1" fill="url(#h164)"/>
<rect x="63" y="636" width="265" height="1" fill="url(#h165)"/>
<rect x="63" y="637" width="265" height="1" fill="url(#h166)"/>
<rect x="63" y="638" width="265" height="1" fill="url(#h167)"/>
<rect x="63" y="639" width="265" height="1" fill="url(#h168)"/>
<rect x="63" y="640" width="265" height="1" fill="url(#h169)"/>
<rect x="63" y="641" width="265" height="1" fill="url(#h170)"/>
<rect x="63" y="642" width="265" height="1" fill="url(#h171)"/>
<rect x="63" y="643" width="265" height="1" fill="url(#h172)"/>
<rect x="63" y="644" width="265" height="1" fill="url(#h173)"/>
<rect x="63" y="645" width="265" height="1" fill="url(#h174)"/>
<rect x="63" y="646" width="265" height="1" fill="url(#h175)"/>
<rect x="63" y="647" width="265" height="1" fill="url(#h176)"/>
<rect x="63" y="648" width="265" height="1" fill="url(#h177)"/>
<rect x="63" y="649" width="265" height="1" fill="url(#h178)"/>
<rect x="63" y="650" width="265" height="1" fill="url(#h179)"/>
<rect x="63" y="651" width="265" height="1" fill="url(#h180)"/>
<rect x="63" y="652" width="265" height="1" fill="url(#h181)"/>
<rect x="63" y="653" width="265" height="1" fill="url(#h182)"/>
<rect x="63" y="654" width="265" height="1" fill="url(#h183)"/>
<rect x="63" y="655" width="265" height="1" fill="url(#h184)"/>
<rect x="63" y="656" width="265" height="1" fill="url(#h185)"/>
<rect x="63" y="657" width="265" height="1" fill="url(#h186)"/>
<rect x="63" y="658" width="265" height="1" fill="url(#h187)"/>
<rect x="63" y="659" width="265" height="1" fill="url(#h188)"/>
<rect x="63" y="660" width="265" height="1" fill="url(#h189)"/>
<rect x="63" y="661" width="265" height="1" fill="url(#h190)"/>
<rect x="63" y="662" width="265" height="1" fill="url(#h191)"/>
<rect x="63" y="663" width="265" height="1" fill="url(#h192)"/>
<rect x="63" y="664" width="265" height="1" fill="url(#h193)"/>
<rect x="63" y="665" width="265" height="1" fill="url(#h194)"/>
<rect x="63" y="666" width="265" height="1" fill="url(#h195)"/>
<rect x="63" y="667" width="265" height="1" fill="url(#h196)"/>
<rect x="63" y="668" width="265" height="1" fill="url(#h197)"/>
<rect x="63" y="669" width="265" height="1" fill="url(#h198)"/>
<rect x="63" y="670" width="265" height="1" fill="url(#h199)"/>
<rect x="63" y="671" width="265" height="1" fill="url(#h200)"/>
<rect x="63" y="672" width="265" height="1" fill="url(#h201)"/>
<rect x="63" y="673" width="265" height="1" fill="url(#h202)"/>
<rect x="63" y="674" width="265" height="1" fill="url(#h203)"/>
<rect x="63" y="675" width="265" height="1" fill="url(#h204)"/>
<rect x="63" y="676" width="265" height="1" fill="url(#h205)"/>
<rect x="63" y="677" width="265" height="1" fill="url(#h206)"/>
<rect x="63" y="678" width="265" height="1" fill="url(#h207)"/>
<rect x="63" y="679" width="265" height="1" fill="url(#h208)"/>
<rect x="63" y="680" width="265" height="1" fill="url(#h209)"/>
<rect x="63" y="681" width="265" height="1" fill="url(#h210)"/>
<rect x="63" y="682" width="265" height="1" fill="url(#h211)"/>
<rect x="63" y="683" width="265" height="1" fill="url(#h212)"/>
<rect x="63" y="684" width="265" height="1" fill="url(#h213)"/>
<rect x="63" y="685" width="265" height="1" fill="url(#h214)"/>
<rect x="63" y="686" width="265" height="1" fill="url(#h215)"/>
<rect x="63" y="687" width="265" height="1" fill="url(#h216)"/>
<rect x="63" y="688" width="265" height="1" fill="url(#h217)"/>
<rect x="63" y="689" width="265" height="1" fill="url(#h218)"/>
<rect x="63" y="690" width="265" height="1" fill="url(#h219)"/>
<rect x="63" y="691" width="265" height="1" fill="url(#h220)"/>
<rect x="63" y="692" width="265" height="1" fill="url(#h221)"/>
<rect x="63" y="693" width="265" height="1" fill="url(#h222)"/>
<rect x="63" y="694" width="265" height="1" fill="url(#h223)"/>
<rect x="63" y="695" width="265" height="1" fill="url(#h224)"/>
<rect x="63" y="696" width="265" height="1" fill="url(#h225)"/>
<rect x="63" y="697" width="265" height="1" fill="url(#h226)"/>
<rect x="63" y="698" width="265" height="1" fill="url(#h227)"/>
<rect x="63" y="699" width="265" height="1" fill="url(#h228)"/>
<rect x="63" y="700" width="265" height="1" fill="url(#h229)"/>
<rect x="63" y="701" width="265" height="1" fill="url(#h230)"/>
<rect x="63" y="702" width="265" height="1" fill="url(#h231)"/>
<rect x="63" y="703" width="265" height="1" fill="url(#h232)"/>
<rect x="63" y="704" width="265" height="1" fill="url(#h233)"/>
<rect x="63" y="705" width="265" height="1" fill="url(#h234)"/>
<rect x="63" y="706" width="265" height="1" fill="url(#h235)"/>
<rect x="63" y="707" width="265" height="1" fill="url(#h236)"/>
<rect x="63" y="708" width="265" height="1" fill="url(#h237)"/>
<rect x="63" y="709" width="265" height="1" fill="url(#h238)"/>
<rect x="63" y="710" width="265" height="1" fill="url(#h239)"/>
<rect x="63" y="711" width="265" height="1" fill="url(#h240)"/>
<rect x="63" y="712" width="265" height="1" fill="url(#h241)"/>
<rect x="63" y="713" width="265" height="1" fill="url(#h242)"/>
<rect x="63" y="714" width="265" height="1" fill="url(#h243)"/>
<rect x="63" y="715" width="265" height="1" fill="url(#h244)"/>
<rect x="63" y="716" width="265" height="1" fill="#000002"/>
<rect x="63" y="717" width="265" height="1" fill="#000001"/>
<rect x="63" y="718" width="265" height="1" fill="#000001"/>
<rect x="63" y="719" width="265" height="1" fill="#000001"/>
<rect x="63" y="720" width="265" height="1" fill="#000001"/>
<rect x="63" y="721" width="265" height="1" fill="#000001"/>
<rect x="63" y="722" width="265" height="1" fill="#000001"/>
<rect x="63" y="723" width="265" height="1" fill="#000001"/>
<rect x="63" y="724" width="265" height="1" fill="#000001"/>
<rect x="63" y="725" width="265" height="1" fill="#000001"/></g>
<line x1="59" y1="471" x2="63" y2="471" stroke="#000" stroke-width="1"/>
<line x1="62.5" y1="471" x2="62.5" y2="726.5" stroke="#000" stroke-opacity="0.5" stroke-width="1"/>
<line x1="62.5" y1="726.2" x2="328" y2="726.2" stroke="#000" stroke-width="1"/>
<line x1="58.5" y1="725.7" x2="62.5" y2="725.7" stroke="#111" stroke-width="1"/>
<line x1="60.3" y1="715.5" x2="62.5" y2="715.5" stroke="#111" stroke-width="1"/>
<line x1="60.3" y1="705.3000000000001" x2="62.5" y2="705.3000000000001" stroke="#111" stroke-width="1"/>
<line x1="60.3" y1="695.1" x2="62.5" y2="695.1" stroke="#111" stroke-width="1"/>
<line x1="60.3" y1="684.9000000000001" x2="62.5" y2="684.9000000000001" stroke="#111" stroke-width="1"/>
<line x1="58.5" y1="674.7" x2="62.5" y2="674.7" stroke="#111" stroke-width="1"/>
<line x1="60.3" y1="664.5" x2="62.5" y2="664.5" stroke="#111" stroke-width="1"/>
<line x1="60.3" y1="654.3000000000001" x2="62.5" y2="654.3000000000001" stroke="#111" stroke-width="1"/>
<line x1="60.3" y1="644.1" x2="62.5" y2="644.1" stroke="#111" stroke-width="1"/>
<line x1="60.3" y1="633.9000000000001" x2="62.5" y2="633.9000000000001" stroke="#111" stroke-width="1"/>
<line x1="58.5" y1="623.7" x2="62.5" y2="623.7" stroke="#111" stroke-width="1"/>
<line x1="60.3" y1="613.5" x2="62.5" y2="613.5" stroke="#111" stroke-width="1"/>
<line x1="60.3" y1="603.3000000000001" x2="62.5" y2="603.3000000000001" stroke="#111" stroke-width="1"/>
<line x1="60.3" y1="593.1" x2="62.5" y2="593.1" stroke="#111" stroke-width="1"/>
<line x1="60.3" y1="582.9000000000001" x2="62.5" y2="582.9000000000001" stroke="#111" stroke-width="1"/>
<line x1="58.5" y1="572.7" x2="62.5" y2="572.7" stroke="#111" stroke-width="1"/>
<line x1="60.3" y1="562.5" x2="62.5" y2="562.5" stroke="#111" stroke-width="1"/>
<line x1="60.3" y1="552.3000000000001" x2="62.5" y2="552.3000000000001" stroke="#111" stroke-width="1"/>
<line x1="60.3" y1="542.1" x2="62.5" y2="542.1" stroke="#111" stroke-width="1"/>
<line x1="60.3" y1="531.9000000000001" x2="62.5" y2="531.9000000000001" stroke="#111" stroke-width="1"/>
<line x1="58.5" y1="521.7" x2="62.5" y2="521.7" stroke="#111" stroke-width="1"/>
<line x1="60.3" y1="511.50000000000006" x2="62.5" y2="511.50000000000006" stroke="#111" stroke-width="1"/>
<line x1="60.3" y1="501.30000000000007" x2="62.5" y2="501.30000000000007" stroke="#111" stroke-width="1"/>
<line x1="60.3" y1="491.1" x2="62.5" y2="491.1" stroke="#111" stroke-width="1"/>
<line x1="60.3" y1="480.9000000000001" x2="62.5" y2="480.9000000000001" stroke="#111" stroke-width="1"/>
<line x1="58.5" y1="470.70000000000005" x2="62.5" y2="470.70000000000005" stroke="#111" stroke-width="1"/>
<line x1="63.0" y1="726.2" x2="63.0" y2="730.2" stroke="#111" stroke-width="1"/>
<line x1="72.5" y1="726.2" x2="72.5" y2="728.7" stroke="#111" stroke-width="1"/>
<line x1="82.0" y1="726.2" x2="82.0" y2="728.7" stroke="#111" stroke-width="1"/>
<line x1="91.5" y1="726.2" x2="91.5" y2="728.7" stroke="#111" stroke-width="1"/>
<line x1="101.0" y1="726.2" x2="101.0" y2="728.7" stroke="#111" stroke-width="1"/>
<line x1="110.5" y1="726.2" x2="110.5" y2="730.2" stroke="#111" stroke-width="1"/>
<line x1="120.0" y1="726.2" x2="120.0" y2="728.7" stroke="#111" stroke-width="1"/>
<line x1="129.5" y1="726.2" x2="129.5" y2="728.7" stroke="#111" stroke-width="1"/>
<line x1="139.0" y1="726.2" x2="139.0" y2="728.7" stroke="#111" stroke-width="1"/>
<line x1="148.5" y1="726.2" x2="148.5" y2="728.7" stroke="#111" stroke-width="1"/>
<line x1="158.0" y1="726.2" x2="158.0" y2="730.2" stroke="#111" stroke-width="1"/>
<line x1="167.5" y1="726.2" x2="167.5" y2="728.7" stroke="#111" stroke-width="1"/>
<line x1="177.0" y1="726.2" x2="177.0" y2="728.7" stroke="#111" stroke-width="1"/>
<line x1="186.5" y1="726.2" x2="186.5" y2="728.7" stroke="#111" stroke-width="1"/>
<line x1="196.0" y1="726.2" x2="196.0" y2="728.7" stroke="#111" stroke-width="1"/>
<line x1="205.5" y1="726.2" x2="205.5" y2="730.2" stroke="#111" stroke-width="1"/>
<line x1="215.0" y1="726.2" x2="215.0" y2="728.7" stroke="#111" stroke-width="1"/>
<line x1="224.5" y1="726.2" x2="224.5" y2="728.7" stroke="#111" stroke-width="1"/>
<line x1="234.0" y1="726.2" x2="234.0" y2="728.7" stroke="#111" stroke-width="1"/>
<line x1="243.5" y1="726.2" x2="243.5" y2="728.7" stroke="#111" stroke-width="1"/>
<line x1="253.0" y1="726.2" x2="253.0" y2="730.2" stroke="#111" stroke-width="1"/>
<line x1="262.5" y1="726.2" x2="262.5" y2="728.7" stroke="#111" stroke-width="1"/>
<line x1="272.0" y1="726.2" x2="272.0" y2="728.7" stroke="#111" stroke-width="1"/>
<line x1="281.5" y1="726.2" x2="281.5" y2="728.7" stroke="#111" stroke-width="1"/>
<line x1="291.0" y1="726.2" x2="291.0" y2="728.7" stroke="#111" stroke-width="1"/>
<line x1="300.5" y1="726.2" x2="300.5" y2="730.2" stroke="#111" stroke-width="1"/>
<line x1="310.0" y1="726.2" x2="310.0" y2="728.7" stroke="#111" stroke-width="1"/>
<line x1="319.5" y1="726.2" x2="319.5" y2="728.7" stroke="#111" stroke-width="1"/>
<text x="50.8" y="729.4" font-size="10.8" text-anchor="end" fill="#151515" stroke="#151515" stroke-width="0.45" font-family="'Liberation Sans', Arial, sans-serif">0.00</text>
<text x="63.0" y="745.4" font-size="10.8" text-anchor="middle" fill="#151515" stroke="#151515" stroke-width="0.45" font-family="'Liberation Sans', Arial, sans-serif">0.00</text>
<text x="50.8" y="678.4" font-size="10.8" text-anchor="end" fill="#151515" stroke="#151515" stroke-width="0.45" font-family="'Liberation Sans', Arial, sans-serif">0.05</text>
<text x="110.5" y="745.4" font-size="10.8" text-anchor="middle" fill="#151515" stroke="#151515" stroke-width="0.45" font-family="'Liberation Sans', Arial, sans-serif">0.05</text>
<text x="50.8" y="627.4" font-size="10.8" text-anchor="end" fill="#151515" stroke="#151515" stroke-width="0.45" font-family="'Liberation Sans', Arial, sans-serif">0.10</text>
<text x="158.0" y="745.4" font-size="10.8" text-anchor="middle" fill="#151515" stroke="#151515" stroke-width="0.45" font-family="'Liberation Sans', Arial, sans-serif">0.10</text>
<text x="50.8" y="576.4" font-size="10.8" text-anchor="end" fill="#151515" stroke="#151515" stroke-width="0.45" font-family="'Liberation Sans', Arial, sans-serif">0.15</text>
<text x="205.5" y="745.4" font-size="10.8" text-anchor="middle" fill="#151515" stroke="#151515" stroke-width="0.45" font-family="'Liberation Sans', Arial, sans-serif">0.15</text>
<text x="50.8" y="525.4" font-size="10.8" text-anchor="end" fill="#151515" stroke="#151515" stroke-width="0.45" font-family="'Liberation Sans', Arial, sans-serif">0.20</text>
<text x="253.0" y="745.4" font-size="10.8" text-anchor="middle" fill="#151515" stroke="#151515" stroke-width="0.45" font-family="'Liberation Sans', Arial, sans-serif">0.20</text>
<text x="50.8" y="474.4" font-size="10.8" text-anchor="end" fill="#151515" stroke="#151515" stroke-width="0.45" font-family="'Liberation Sans', Arial, sans-serif">0.25</text>
<text x="300.5" y="745.4" font-size="10.8" text-anchor="middle" fill="#151515" stroke="#151515" stroke-width="0.45" font-family="'Liberation Sans', Arial, sans-serif">0.25</text>
<line x1="63" y1="725.5" x2="105" y2="655.5" stroke="#e0e0e8" stroke-width="1.3" stroke-dasharray="5 3.2"/>
<path d="M67.4 613.9l6.1 6.1l-6.1 6.1l-6.1-6.1z" fill="#6aec1c"/>
<path d="M75.9 613.9l6.1 6.1l-6.1 6.1l-6.1-6.1z" fill="#6aec1c"/>
<path d="M85.0 613.9l6.1 6.1l-6.1 6.1l-6.1-6.1z" fill="#6aec1c"/>
<path d="M93.4 612.2l6.1 6.1l-6.1 6.1l-6.1-6.1z" fill="#6aec1c"/>
<path d="M103.3 607.9l6.1 6.1l-6.1 6.1l-6.1-6.1z" fill="#6aec1c"/>
<path d="M113.9 600.5l6.1 6.1l-6.1 6.1l-6.1-6.1z" fill="#6aec1c"/>
<path d="M137.0 592.9l6.1 6.1l-6.1 6.1l-6.1-6.1z" fill="#6aec1c"/>
<path d="M151.4 587.1l6.1 6.1l-6.1 6.1l-6.1-6.1z" fill="#6aec1c"/>
<path d="M165.6 582.2l6.1 6.1l-6.1 6.1l-6.1-6.1z" fill="#6aec1c"/>
<path d="M179.2 580.2l6.1 6.1l-6.1 6.1l-6.1-6.1z" fill="#6aec1c"/>
<path d="M193.5 577.1l6.1 6.1l-6.1 6.1l-6.1-6.1z" fill="#6aec1c"/>
<path d="M209.9 576.3l6.1 6.1l-6.1 6.1l-6.1-6.1z" fill="#6aec1c"/>
<path d="M225.3 572.8l6.1 6.1l-6.1 6.1l-6.1-6.1z" fill="#6aec1c"/>
<path d="M242.6 569.0l6.1 6.1l-6.1 6.1l-6.1-6.1z" fill="#6aec1c"/>
<path d="M260.5 567.3l6.1 6.1l-6.1 6.1l-6.1-6.1z" fill="#6aec1c"/>
<path d="M278.2 566.4l6.1 6.1l-6.1 6.1l-6.1-6.1z" fill="#6aec1c"/>
<path d="M297.1 564.3l6.1 6.1l-6.1 6.1l-6.1-6.1z" fill="#6aec1c"/>
<path d="M317.6 563.6l6.1 6.1l-6.1 6.1l-6.1-6.1z" fill="#6aec1c"/>
<path d="M104.0 576.4l6.1 6.1l-6.1 6.1l-6.1-6.1z" fill="#6aec1c"/>
<path d="M115.6 561.9l6.1 6.1l-6.1 6.1l-6.1-6.1z" fill="#6aec1c"/>
<path d="M139.8 541.0l6.1 6.1l-6.1 6.1l-6.1-6.1z" fill="#6aec1c"/>
<path d="M153.1 529.9l6.1 6.1l-6.1 6.1l-6.1-6.1z" fill="#6aec1c"/>
<path d="M166.4 523.6l6.1 6.1l-6.1 6.1l-6.1-6.1z" fill="#6aec1c"/>
<text x="139.5" y="517" font-size="22" fill="#6aec1c" stroke="#6aec1c" stroke-width="0.7" font-family="'Liberation Sans', Arial, sans-serif">ω<tspan font-size="12.5" dy="5">2D</tspan></text>
<text x="225.3" y="597.5" font-size="20.5" fill="#6aec1c" stroke="#6aec1c" stroke-width="0.7" font-family="'Liberation Sans', Arial, sans-serif">ω<tspan font-size="13" dy="5.5">sp</tspan></text>
<text x="6" y="507" font-size="20.5" fill="#151515" font-family="'Liberation Sans', Arial, sans-serif" >(e)</text>
<text transform="translate(16.3 598) rotate(-90)" font-size="14.5" text-anchor="middle" fill="#151515" font-family="'Liberation Sans', Arial, sans-serif" stroke="#151515" stroke-width="0.32">Energy [eV]</text>
<text x="142.6" y="765.4" font-size="14" fill="#151515" textLength="105.5" lengthAdjust="spacingAndGlyphs" font-family="'Liberation Sans', Arial, sans-serif" stroke="#151515" stroke-width="0.32">Momentum [Å<tspan font-size="9" dy="-6">-1</tspan><tspan dy="6">]</tspan></text></svg></body></html>
